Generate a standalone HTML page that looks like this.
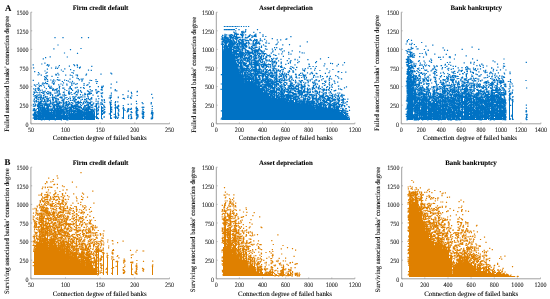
<!DOCTYPE html>
<html><head><meta charset="utf-8"><style>
html,body{margin:0;padding:0;background:#fff;width:550px;height:299px;overflow:hidden}
svg{display:block}
</style></head><body>
<svg width="550" height="299" viewBox="0 0 550 299" font-family="Liberation Serif, serif" fill="#1a1a1a" text-rendering="geometricPrecision">
<defs><filter id="bl" x="0" y="0" width="1" height="1"><feGaussianBlur stdDeviation="0.5"/></filter>
<filter id="bt" x="0" y="0" width="1" height="1"><feGaussianBlur stdDeviation="0.25"/></filter></defs>
<rect width="550" height="299" fill="#fff"/>
<g filter="url(#bl)">
<path d="M47 105h1v4h-1zM54 108h1v2h-1zM56 110h1v1h-1zM58 110h3v1h-3zM79 109h1v2h-1zM91 110h1v1h-1zM38 106h1v6h-1zM63 111h1v1h-1zM77 109h1v3h-1zM79 111h2v1h-2zM88 108h1v4h-1zM90 111h2v1h-2zM35 112h1v1h-1zM71 108h1v5h-1zM73 112h1v1h-1zM77 112h4v1h-4zM86 112h6v1h-6zM34 113h2v1h-2zM45 111h1v3h-1zM47 109h2v5h-2zM51 110h1v4h-1zM53 110h2v4h-2zM69 111h1v3h-1zM71 113h3v1h-3zM75 113h7v1h-7zM63 112h2v3h-2zM69 114h5v1h-5zM75 114h8v1h-8zM86 113h7v2h-7zM94 112h1v3h-1zM96 106h1v13h-1zM101 106h1v13h-1zM110 105h1v14h-1zM115 107h1v12h-1zM123 109h1v10h-1zM34 114h3v6h-3zM38 112h3v8h-3zM42 109h2v11h-2zM45 114h4v6h-4zM50 114h5v6h-5zM56 111h5v9h-5zM63 115h3v5h-3zM69 115h14v5h-14zM84 112h1v8h-1zM86 115h9v5h-9z" fill="#0072c4"/>
<path d="M54.4 37.7h1.2m6.8 0h1.2m17.5 0h1.2m5.6 0h1.2m-31.7 7.3h1.2m21.8 3.5h1.2m-28.3 .4h1.2m15.4 .8h1.2m-7.2 3.3h1.2m11.8 .4h1.2m-28.5 3.4h1.2m15.9 .2h1.2m-22.9 .7h1.2m-3.5 1.2h1.2m.4 4.3h1.2m-4.3 .8h1.2m4.6 .5h1.2m25.1 .2h1.2m-41.9 .1h1.2m42.7 0h1.2m-29.2 .3h1.2m-3.2 .3h1.2m29.1 0h1.2m-19.2 .1h1.2m14 .1h1.2m-27.3 .5h1.2m19.7 0h1.2m21.2 .2h1.2m-37 .7h1.2m1.4 0h1.2m17.7 .1h1.2m1.7 0h1.2m-2.1 .5h1.2m-47.1 .3h1.2m16.7 .1h1.2m26.9 .2h1.2m-25.1 .1h1.2m.6 .1h1.2m6.1 .4h1.2m-18.6 .3h1.2m22 .5h1.2m-10.4 .4h1.2m25.9 .2h1.2m1.6 .1h1.2m-18.6 .4h1.2m-30.1 .3h1.2m16.9 .4h1.2m-29.6 .2h1.2m11.2 .8h1.2m23.7 .1h1.2m-34.7 .1h1.2m33.7 .6h1.2m36.3 0h1.2m-66.1 .1h1.2m10.7 0h1.2m52.6 .5h1.2m-73.4 .2h1.2m45.8 .1h1.2m13.3 0h1.2m-46.3 .3h1.2m-.5 .4h1.2m-19.7 .1h1.2m16.5 0h1.2m1.8 0h1.2m16.1 .1h1.2m-1 0h1.2m0 0h1.2m-37.4 .1h1.2m23.2 .1h1.2m3.4 0h1.2m14.5 0h1.2m-15.2 .3h1.2m-26.9 .3h1.2m0 0h1.2m28.8 .2h1.2m-26.7 .3h1.2m-8.7 .4h1.2m27 .5h1.2m-28.4 .3h1.2m11.1 0h1.2m-12.5 .6h1.2m29.3 .1h1.2m.2 .5h1.2m3.4 .1h1.2m-38.1 .2h1.2m33.9 .1h1.2m-37.8 .1h1.2m24.2 0h1.2m-23.7 .3h1.2m8.6 .1h1.2m37.5 0h1.2m-17.8 .2h1.2m-35.4 .1h1.2m7.3 0h1.2m-4.1 .1h1.2m30.3 0h1.2m-25 .1h1.2m.1 0h1.2m3.6 0h1.2m-32.5 .3h1.2m55.6 0h1.2m-24.7 .1h1.2m23.8 0h1.2m-40.3 .5h1.2m1.4 0h1.2m-8.5 .2h1.2m19.3 0h1.2m12.4 0h1.2m-35.7 .2h1.2m4.6 0h1.2m18.1 0h1.2m-11.3 .1h1.2m32.5 0h1.2m.2 0h1.2m-28.7 .6h1.2m45.5 .1h1.2m-72.4 .2h1.2m-1.2 .4h1.2m16.8 0h1.2m7.2 0h1.2m16.1 0h1.2m-47.4 .1h1.2m8.1 0h1.2m.8 0h1.2m18.6 .1h1.2m-36.7 .1h1.2m14.4 0h1.2m41.3 .2h1.2m-53.7 .2h1.2m1 .1h1.2m-.1 0h1.2m4.9 0h1.2m22.4 0h1.2m5.7 0h1.2m-11.4 .1h1.2m-14.1 .3h1.2m4.6 0h1.2m3.7 0h1.2m-30.6 .2h1.2m67.7 0h1.2m-36.6 .2h1.2m-39.9 .1h1.2m15.5 0h1.2m32.9 .2h1.2m-30.4 .1h1.2m-25.6 .1h1.2m13.3 .1h1.2m-15.2 .1h1.2m3.1 0h1.2m3.4 0h1.2m17.8 0h1.2m3.1 .1h1.2m3.7 .1h1.2m13.8 0h1.2m-4.1 .1h1.2m-44.7 .3h1.2m-.2 .1h1.2m-7 .3h1.2m66.5 .1h1.2m-56 .1h1.2m-.7 0h1.2m.8 .1h1.2m7.4 0h1.2m41 0h1.2m-13 .1h1.2m-51.9 .1h1.2m61.4 0h1.2m-33 .1h1.2m27 0h1.2m-10 .2h1.2m-46.3 .2h1.2m13.7 .1h1.2m9.8 0h1.2m-12.3 .1h1.2m16.7 0h1.2m23.2 .2h1.2m-.3 .1h1.2m-54 .1h1.2m29.9 0h1.2m1.5 0h1.2m-46.5 .1h1.2m36 0h1.2m34.3 0h1.2m-61.2 .1h1.2m17.8 0h1.2m-19.7 .1h1.2m23.2 0h1.2m-26.2 .1h1.2m10.8 0h1.2m-.1 0h1.2m-14.6 .1h1.2m.3 0h1.2m-14.8 .1h1.2m44.6 0h1.2m-35.3 .2h1.2m-5 .1h1.2m9.7 0h1.2m-22.6 .1h1.2m2.1 0h1.2m30.5 0h1.2m-.6 0h1.2m-38.9 .1h1.2m18.6 0h1.2m4.8 0h1.2m-23 .1h1.2m30.1 0h1.2m31.5 .3h1.2m-31.3 .1h1.2m-16.6 .1h1.2m32.8 .1h1.2m-52.2 .1h1.2m24.4 0h1.2m-13.4 .1h1.2m1.3 0h1.2m44.9 0h1.2m12.9 0h1.2m-81.4 .2h1.2m41.8 0h1.2m16.3 0h1.2m-.5 0h1.2m-44.4 .2h1.2m47.9 0h1.2m-61.2 .1h1.2m13.4 0h1.2m44 0h1.2m-67.6 .1h1.2m1.6 0h1.2m.6 .1h1.2m31.2 0h1.2m-21 .1h1.2m12.8 0h1.2m-13.2 .1h1.2m2.7 0h1.2m-.8 0h1.2m31.9 0h1.2m-12.9 .1h1.2m33.5 0h1.2m-35.8 .1h1.2m5.7 0h1.2m28.1 .1h1.2m-25.8 .1h1.2m-24.2 .1h1.2m-25.2 .1h1.2m10.6 0h1.2m20.1 0h1.2m11.4 0h1.2m36.2 0h1.2m-53 .1h1.2m59.7 0h1.2m-50.1 .1h1.2m8.2 0h1.2m-51.3 .1h1.2m49.9 .1h1.2m-56.2 .1h1.2m-8.9 .1h1.2m31.4 0h1.2m-12.7 .1h1.2m.7 0h1.2m76.7 0h1.2m-104.6 .1h1.2m-.3 0h1.2m4.1 0h1.2m1.5 0h1.2m37.4 0h1.2m13.9 0h1.2m-48.7 .1h1.2m7.5 0h1.2m30.6 0h1.2m-33.2 .1h1.2m.9 0h1.2m3.6 0h1.2m-29.3 .1h1.2m12.9 0h1.2m24.4 0h1.2m1 0h1.2m-15.8 .1h1.2m10.9 0h1.2m4.9 0h1.2m48.6 0h1.2m-91 .1h1.2m3.6 0h1.2m-9.8 .1h1.2m32.3 .1h1.2m24.8 0h1.2m-54.4 .1h1.2m23.3 0h1.2m-19 .1h1.2m50.6 0h1.2m-64 .1h1.2m15.2 0h1.2m12.4 0h1.2m4.2 0h1.2m1.4 0h1.2m-44.5 .1h1.2m65.4 0h1.2m-52.2 .1h1.2m3.6 0h1.2m34.4 0h1.2m19.7 0h1.2m-61.8 .1h1.2m17.8 0h1.2m13.9 0h1.2m5.3 0h1.2m4.1 0h1.2m-54.9 .1h1.2m3 0h1.2m40.8 0h1.2m-30.5 .1h1.2m-17.6 .1h1.2m3.6 0h1.2m24.7 0h1.2m26.4 0h1.2m28.7 0h1.2m-85.6 .2h1.2m21 0h1.2m-2 .1h1.2m18.3 0h1.2m-40.5 .1h1.2m9 .1h1.2m4 0h1.2m23.4 0h1.2m-.2 0h1.2m-33.2 .1h1.2m10.5 0h1.2m14 0h1.2m-35 .1h1.2m-18.7 .1h1.2m51 0h1.2m.7 0h1.2m62.9 0h1.2m-88.6 .1h1.2m6.5 0h1.2m3.1 .1h1.2m3 0h1.2m41.3 0h1.2m-64.2 .1h1.2m15.8 0h1.2m-41.3 .1h1.2m1.3 0h1.2m12 0h1.2m23.3 0h1.2m-37.5 .1h1.2m2.7 0h1.2m16.6 .1h1.2m21.1 0h1.2m-21.9 .1h1.2m-26.7 .1h1.2m43 0h1.2m9 0h1.2m17.1 0h1.2m-62.1 .1h1.2m14.1 .1h1.2m-1 0h1.2m-31.6 .1h1.2m6.8 0h1.2m7.9 0h1.2m83.4 0h1.2m-97.2 .1h1.2m-7.2 .1h1.2m21.1 0h1.2m-.2 0h1.2m-7.1 .1h1.2m1.8 0h1.2m7.2 0h1.2m22.4 0h1.2m42.9 0h1.2m-31.4 .1h1.2m7.4 0h1.2m16.7 0h1.2m-31.2 .1h1.2m-65.1 .1h1.2m2 0h1.2m18.5 0h1.2m39.9 0h1.2m-35.1 .1h1.2m10.5 .1h1.2m-36.1 .1h1.2m55.8 0h1.2m2.6 0h1.2m-57.5 .2h1.2m.4 0h1.2m-11.8 .1h1.2m35 .1h1.2m0 0h1.2m6.4 .1h1.2m2.2 0h1.2m2.1 0h1.2m-49.6 .1h1.2m2.6 0h1.2m9.3 0h1.2m6.8 0h1.2m19.6 0h1.2m-48.3 .1h1.2m6.6 0h1.2m-1.1 0h1.2m15.6 0h1.2m.2 0h1.2m39.1 0h1.2m8 0h1.2m5.7 0h1.2m-59 .1h1.2m-.7 0h1.2m7.8 0h1.2m7.6 0h1.2m.4 0h1.2m-43.3 .1h1.2m.5 0h1.2m4 0h1.2m32 0h1.2m48.3 0h1.2m-87.5 .1h1.2m9.3 0h1.2m7.4 0h1.2m.2 0h1.2m11.6 0h1.2m54.4 0h1.2m-77.2 .1h1.2m4.3 0h1.2m5.7 0h1.2m42.3 0h1.2m-58.6 .1h1.2m37.5 0h1.2m-56.3 .1h1.2m72.7 0h1.2m6.6 0h1.2m-78.7 .1h1.2m37 0h1.2m72.4 0h1.2m-118.6 .1h1.2m5.1 0h1.2m.5 0h1.2m5.5 0h1.2m13.7 0h1.2m11.7 0h1.2m52 0h1.2m-93.2 .1h1.2m6.7 0h1.2m7.2 0h1.2m-.2 0h1.2m3.7 0h1.2m3.5 0h1.2m42.2 0h1.2m-67.2 .1h1.2m8.3 .1h1.2m25.3 0h1.2m-43.6 .1h1.2m53.3 0h1.2m31.2 0h1.2m-77 .1h1.2m30.4 0h1.2m7.8 0h1.2m-19.3 .1h1.2m3.2 0h1.2m47.1 0h1.2m6.8 0h1.2m-77.2 .1h1.2m12.3 0h1.2m3.6 0h1.2m35.9 0h1.2m-68.1 .1h1.2m11.2 0h1.2m29.3 0h1.2m3.2 0h1.2m6.7 0h1.2m-63.3 .1h1.2m10.6 0h1.2m38.3 0h1.2m35.3 0h1.2m-83.1 .1h1.2m14 0h1.2m3.2 0h1.2m-16.8 .1h1.2m9 0h1.2m33.8 0h1.2m-58.6 .1h1.2m4.9 0h1.2m11.6 0h1.2m9.6 0h1.2m30.9 0h1.2m-39.4 .1h1.2m-24.9 .1h1.2m17.1 0h1.2m4.7 0h1.2m22.7 0h1.2m1 0h1.2m-47.7 .1h1.2m5.2 0h1.2m-.8 0h1.2m6.6 0h1.2m21.1 0h1.2m-1 0h1.2m-9.2 .1h1.2m8 0h1.2m26.6 0h1.2m-57.4 .1h1.2m36.2 0h1.2m2.8 0h1.2m-49.7 .1h1.2m59.8 0h1.2m-64.3 .1h1.2m7.8 0h1.2m24.2 0h1.2m-33.7 .1h1.2m21.4 0h1.2m-.3 .1h1.2m20.6 0h1.2m3.4 0h1.2m-43.6 .1h1.2m1.1 0h1.2m-1.3 .1h1.2m4.2 0h1.2m13.4 0h1.2m9.3 0h1.2m-40.2 .1h1.2m5.1 0h1.2m3.9 0h1.2m49.9 0h1.2m-42.7 .1h1.2m-27.7 .1h1.2m7 0h1.2m2.4 0h1.2m21.1 0h1.2m.5 0h1.2m-23.7 .1h1.2m11.1 0h1.2m38.7 0h1.2m-28.8 .1h1.2m35.7 0h1.2m-36.6 .1h1.2m25.2 0h1.2m-67.2 .1h1.2m4.7 0h1.2m3.9 0h1.2m7.8 0h1.2m-.6 0h1.2m28.8 0h1.2m-54.5 .1h1.2m.1 0h1.2m11.1 0h1.2m4.4 0h1.2m4.4 0h1.2m15.7 0h1.2m-13.2 .1h1.2m11.3 0h1.2m19.2 0h1.2m-60.7 .1h1.2m4.1 0h1.2m2.8 0h1.2m37.2 0h1.2m-37.5 .1h1.2m-1.1 0h1.2m6.5 0h1.2m21.5 0h1.2m-1.2 0h1.2m18.4 0h1.2m37.1 0h1.2m-92.9 .1h1.2m22.7 0h1.2m-33.5 .1h1.2m3.2 0h1.2m2.1 0h1.2m5.4 0h1.2m11.9 0h1.2m9.3 0h1.2m22.7 0h1.2m-61.2 .1h1.2m2.2 0h1.2m4.8 0h1.2m29.1 0h1.2m-12.5 .1h1.2m10.7 0h1.2m7 0h1.2m27.8 0h1.2m-73.4 .1h1.2m11.5 0h1.2m2.2 0h1.2m6 0h1.2m12.5 0h1.2m10.3 0h1.2m-56.5 .1h1.2m2.6 0h1.2m76.2 0h1.2m-44.9 .1h1.2m2.4 0h1.2m5 0h1.2m19.1 0h1.2m-66.7 .1h1.2m.2 0h1.2m-.2 0h1.2m11.6 0h1.2m30.5 0h1.2m1.2 0h1.2m-54.5 .1h1.2m19 0h1.2m.8 0h1.2m7.9 0h1.2m-.2 0h1.2m9.6 0h1.2m11.6 0h1.2m18 0h1.2m-70.6 .1h1.2m17.8 0h1.2m-.4 0h1.2m2 0h1.2m46.4 0h1.2m-52.7 .1h1.2m2.5 0h1.2m13.7 0h1.2m8.1 0h1.2m16.1 0h1.2m-59.9 .1h1.2m5.7 0h1.2m15.2 0h1.2m1.6 0h1.2m2.8 0h1.2m11.7 0h1.2m25.2 0h1.2m-77.2 .1h1.2m10.2 0h1.2m19.6 0h1.2m4.5 0h1.2m2.4 0h1.2m1.5 0h1.2m25.7 0h1.2m30.5 0h1.2m7.9 0h1.2m-88.8 .1h1.2m11.9 0h1.2m1.2 0h1.2m1.2 0h1.2m2.8 0h1.2m-47.1 .1h1.2m.1 0h1.2m19.3 0h1.2m2.5 0h1.2m9.1 0h1.2m3 0h1.2m9.1 0h1.2m6.9 0h1.2m2 .1h1.2m12.7 0h1.2m-76.3 .1h1.2m3.6 0h1.2m54.5 0h1.2m-62.5 .1h1.2m9.7 0h1.2m2.1 0h1.2m3.1 0h1.2m-.2 0h1.2m-.7 0h1.2m6 0h1.2m8.1 0h1.2m1.8 0h1.2m13.7 0h1.2m-38.2 .1h1.2m12.2 0h1.2m19 0h1.2m-39.5 .1h1.2m49 0h1.2m6.9 0h1.2m-52.1 .1h1.2m2.7 0h1.2m46.1 0h1.2m-73.2 .1h1.2m6.4 0h1.2m42 0h1.2m5.6 0h1.2m-31.2 .1h1.2m1.6 0h1.2m13.6 0h1.2m5.4 0h1.2m45.1 0h1.2m-97.1 .1h1.2m22 0h1.2m7.6 0h1.2m4.3 0h1.2m63.5 0h1.2m-109.2 .1h1.2m6.2 0h1.2m-.9 0h1.2m1.5 0h1.2m3.9 0h1.2m6.5 0h1.2m37.8 0h1.2m12.4 0h1.2m39.2 0h1.2m-112.6 .1h1.2m.6 0h1.2m17.2 0h1.2m2.1 0h1.2m23.6 0h1.2m.8 0h1.2m5.3 0h1.2m-55.5 .1h1.2m.5 0h1.2m1.9 0h1.2m4 0h1.2m45.3 0h1.2m-61.9 .1h1.2m4 0h1.2m3.8 0h1.2m-.3 0h1.2m16.2 0h1.2m.5 0h1.2m-30.3 .1h1.2m6.8 0h1.2m34.3 0h1.2m3.1 0h1.2m-.1 0h1.2m3.8 0h1.2m16.2 0h1.2m19.6 0h1.2m-85.1 .1h1.2m8.8 0h1.2m7.7 0h1.2m9.4 0h1.2m18.1 0h1.2m-64 .1h1.2m3.5 0h1.2m-.3 0h1.2m14.5 0h1.2m11.5 0h1.2m8.5 0h1.2m49.9 0h1.2m-83.2 .1h1.2m9.3 0h1.2m.3 0h1.2m-1 0h1.2m10.3 0h1.2m6.5 0h1.2m1.7 0h1.2m20.7 0h1.2m7.5 0h1.2m-1.1 0h1.2m3 0h1.2m-76.6 .1h1.2m30.2 0h1.2m28.4 0h1.2m8.2 0h1.2m-75.9 .1h1.2m7.4 0h1.2m6.8 0h1.2m9.7 0h1.2m12.2 0h1.2m10.6 0h1.2m1.5 0h1.2m-45.2 .1h1.2m7.5 0h1.2m6.8 0h1.2m10.3 0h1.2m-1.1 0h1.2m34.1 0h1.2m-64.7 .1h1.2m5.1 0h1.2m-.8 0h1.2m37.3 0h1.2m-57.9 .1h1.2m.5 0h1.2m.1 0h1.2m5.9 0h1.2m10.9 0h1.2m7.4 0h1.2m4 0h1.2m18.2 0h1.2m22.8 0h1.2m-70.7 .1h1.2m7.6 0h1.2m13 0h1.2m26.6 0h1.2m6.2 0h1.2m-55.4 .1h1.2m4.7 0h1.2m1.9 0h1.2m3.1 0h1.2m1.6 0h1.2m25.7 0h1.2m-55.2 .1h1.2m-1.2 0h1.2m.9 0h1.2m.1 0h1.2m-1 0h1.2m4.7 0h1.2m22.9 0h1.2m-.8 0h1.2m14.9 0h1.2m6.6 0h1.2m-59.2 .1h1.2m18.4 0h1.2m8.8 0h1.2m5.4 0h1.2m11 0h1.2m27.3 0h1.2m1.9 0h1.2m-84.2 .1h1.2m5.4 0h1.2m-.8 0h1.2m-1.2 0h1.2m1.1 0h1.2m.3 0h1.2m-.9 0h1.2m8.1 0h1.2m14.2 0h1.2m-.9 0h1.2m13.2 0h1.2m4.5 0h1.2m30.4 0h1.2m-58.3 .1h1.2m-1.1 0h1.2m9.5 0h1.2m3.4 0h1.2m1.9 0h1.2m5.1 0h1.2m3.9 0h1.2m-59.1 .1h1.2m1.5 0h1.2m16 0h1.2m37 0h1.2m-62.8 .1h1.2m3.1 0h1.2m6.3 0h1.2m6 0h1.2m4.2 0h1.2m12.1 0h1.2m.2 0h1.2m.7 0h1.2m7.8 0h1.2m2.3 0h1.2m28.7 0h1.2m-81 .1h1.2m17 0h1.2m2.2 0h1.2m2 0h1.2m13.8 0h1.2m5.4 0h1.2m17.9 0h1.2m-67.5 .1h1.2m18.3 0h1.2m1.1 0h1.2m.3 0h1.2m3.1 0h1.2m8.8 0h1.2m-42.9 .1h1.2m5.4 0h1.2m11.9 0h1.2m-.2 0h1.2m2.5 0h1.2m8.2 0h1.2m2.8 0h1.2m-.7 0h1.2m5.3 0h1.2m1 0h1.2m-37.6 .1h1.2m3.1 0h1.2m-.1 0h1.2m11 0h1.2m12.1 0h1.2m22.7 0h1.2m18.7 0h1.2m-77.5 .1h1.2m6.7 0h1.2m-.5 0h1.2m7.2 0h1.2m14.7 0h1.2m2.1 0h1.2m8.7 0h1.2m-50 .1h1.2m15.5 0h1.2m5.9 0h1.2m10.4 0h1.2m3.8 0h1.2m3.7 0h1.2m8.8 0h1.2m56.1 0h1.2m-118.6 .1h1.2m3.2 0h1.2m14 0h1.2m11.8 0h1.2m4.4 0h1.2m1.7 0h1.2m-.1 0h1.2m39.5 0h1.2m-81.5 .1h1.2m57.3 0h1.2m7.1 0h1.2m10.3 0h1.2m-54.3 .1h1.2m25.9 0h1.2m-51.7 .1h1.2m-.4 0h1.2m7.1 0h1.2m7.6 0h1.2m.5 0h1.2m.2 0h1.2m18 0h1.2m8.2 0h1.2m-45.7 .1h1.2m7.9 0h1.2m2.2 0h1.2m27.2 0h1.2m-31.9 .1h1.2m11.8 0h1.2m-1 0h1.2m2.1 0h1.2m3.6 0h1.2m10.1 0h1.2m22.9 0h1.2m5.7 0h1.2m23.6 0h1.2m-89.9 .1h1.2m4.8 0h1.2m1.1 0h1.2m1.3 0h1.2m5.7 0h1.2m.9 0h1.2m2.9 0h1.2m-1 0h1.2m-.8 0h1.2m10.2 0h1.2m1.4 0h1.2m17.7 0h1.2m-71.2 .1h1.2m26.7 0h1.2m9.2 0h1.2m2.6 0h1.2m51.5 0h1.2m-95.1 .1h1.2m13.5 0h1.2m10.7 0h1.2m2.5 0h1.2m-.1 0h1.2m23.6 0h1.2m4.9 0h1.2m17.3 0h1.2m-77.7 .1h1.2m6.3 0h1.2m1.9 0h1.2m11.2 0h1.2m20.6 0h1.2m24.6 0h1.2m23.5 0h1.2m.4 0h1.2m-96.9 .1h1.2m15.6 0h1.2m4.3 0h1.2m-.6 0h1.2m16.3 0h1.2m21.9 0h1.2m-72.2 .1h1.2m2.7 0h1.2m13.8 0h1.2m18.7 0h1.2m.8 0h1.2m2.5 0h1.2m.5 0h1.2m14.2 0h1.2m-59.5 .1h1.2m3.2 0h1.2m11 0h1.2m-.2 0h1.2m3 0h1.2m5.8 0h1.2m1.7 0h1.2m-.8 0h1.2m39.6 0h1.2m-64.9 .1h1.2m9.6 0h1.2m1.1 0h1.2m3.8 0h1.2m6.8 0h1.2m0 0h1.2m-1.2 0h1.2m7.4 0h1.2m24.8 0h1.2m19.9 0h1.2m-94.1 .1h1.2m24.6 0h1.2m5.8 0h1.2m4 0h1.2m6.3 0h1.2m-49.8 .1h1.2m4.9 0h1.2m3.4 0h1.2m.8 0h1.2m.9 0h1.2m4.3 0h1.2m15.9 0h1.2m24.7 0h1.2m-65.3 .1h1.2m.7 0h1.2m1.1 0h1.2m12.1 0h1.2m-.9 0h1.2m15.2 0h1.2m2.3 0h1.2m-1 0h1.2m5.2 0h1.2m2.4 0h1.2m14.1 0h1.2m-60.1 .1h1.2m-.1 0h1.2m2.6 0h1.2m7.6 0h1.2m12.1 0h1.2m5.4 0h1.2m-.6 0h1.2m8.1 0h1.2m-.6 0h1.2m8.8 0h1.2m12.1 0h1.2m-68.5 .1h1.2m13.5 0h1.2m29.7 0h1.2m26.9 0h1.2m4.5 0h1.2m7.1 0h1.2m-85.9 .1h1.2m11.7 0h1.2m4.8 0h1.2m.8 0h1.2m.2 0h1.2m19.7 0h1.2m19.9 0h1.2m-74.7 .1h1.2m1.8 0h1.2m.8 0h1.2m.1 0h1.2m31.1 0h1.2m-.4 0h1.2m3.8 0h1.2m3.4 0h1.2m2.1 0h1.2m46.4 0h1.2m-104.2 .1h1.2m8.5 0h1.2m7.9 0h1.2m2.1 0h1.2m8.7 0h1.2m-.7 0h1.2m6.9 0h1.2m60.1 0h1.2m14.7 0h1.2m-111.3 .1h1.2m4.9 0h1.2m5.6 0h1.2m4.2 0h1.2m9.2 0h1.2m2 0h1.2m42.9 0h1.2m3.9 0h1.2m3.8 0h1.2m-94.9 .1h1.2m9.5 0h1.2m-1 0h1.2m-.1 0h1.2m10.3 0h1.2m14.3 0h1.2m3.1 0h1.2m6.1 0h1.2m-29.2 .1h1.2m.2 0h1.2m1.2 0h1.2m15.4 0h1.2m10.6 0h1.2m38.4 0h1.2m-78.1 .1h1.2m16.8 0h1.2m12.8 0h1.2m4.1 0h1.2m4.1 0h1.2m35.7 0h1.2m-88.5 .1h1.2m-.6 0h1.2m9.5 0h1.2m4.3 0h1.2m.5 0h1.2m.9 0h1.2m3.6 0h1.2m13.3 0h1.2m7.6 0h1.2m30.1 0h1.2m5.6 0h1.2m10.6 0h1.2m-110.6 .1h1.2m15.1 0h1.2m.6 0h1.2m5.2 0h1.2m2.3 0h1.2m1.4 0h1.2m17.4 0h1.2m.6 0h1.2m1 0h1.2m-.8 0h1.2m40.3 0h1.2m-93.5 .1h1.2m8.5 0h1.2m4.3 0h1.2m7.9 0h1.2m7.9 0h1.2m8.2 0h1.2m5.4 0h1.2m3.8 0h1.2m-1 0h1.2m36.4 0h1.2m.9 0h1.2m-74.1 .1h1.2m7 0h1.2m2.8 0h1.2m5 0h1.2m.8 0h1.2m-.8 0h1.2m11.9 0h1.2m5.7 0h1.2m5 0h1.2m5.9 0h1.2m-68.6 .1h1.2m12.6 0h1.2m-.7 0h1.2m10.7 0h1.2m11.3 0h1.2m7.6 0h1.2m-1.2 0h1.2m25.8 0h1.2m-79.7 .1h1.2m.4 0h1.2m8.5 0h1.2m13.2 0h1.2m-1.1 0h1.2m60.6 0h1.2m7.9 0h1.2m5.1 0h1.2m-99.3 .1h1.2m-.6 0h1.2m10.8 0h1.2m5.1 0h1.2m1.3 0h1.2m3.1 0h1.2m.8 0h1.2m2.4 0h1.2m9.7 0h1.2m3 0h1.2m2.1 0h1.2m32.6 0h1.2m-95.8 .1h1.2m4.2 0h1.2m.5 0h1.2m10.4 0h1.2m2.1 0h1.2m1.4 0h1.2m-.2 0h1.2m5.4 0h1.2m2.9 0h1.2m8.6 0h1.2m7.8 0h1.2m20.7 0h1.2m-77.8 .1h1.2m3.7 0h1.2m1.2 0h1.2m2.1 0h1.2m4.6 0h1.2m3.6 0h1.2m.6 0h1.2m3.8 0h1.2m3 0h1.2m2.4 0h1.2m4.7 0h1.2m8.7 0h1.2m4 0h1.2m-53 .1h1.2m3.7 0h1.2m.4 0h1.2m2.6 0h1.2m7 0h1.2m10.1 0h1.2m.4 0h1.2m.8 0h1.2m4 0h1.2m2.6 0h1.2m14.7 0h1.2m12.8 0h1.2m23.8 0h1.2m-103.8 .1h1.2m4.7 0h1.2m14.3 0h1.2m12.8 0h1.2m5.2 0h1.2m6.8 0h1.2m43 0h1.2m8.6 0h1.2m-86.5 .1h1.2m3.8 0h1.2m2.5 0h1.2m.2 0h1.2m3.9 0h1.2m.1 0h1.2m8.1 0h1.2m7.6 0h1.2m4.1 0h1.2m9.9 0h1.2m-69 .1h1.2m2.5 0h1.2m4.9 0h1.2m9.1 0h1.2m9.3 0h1.2m.6 0h1.2m5.8 0h1.2m3.7 0h1.2m9.5 0h1.2m10.4 0h1.2m14.8 0h1.2m-85.7 .1h1.2m9.5 0h1.2m-1.1 0h1.2m4.7 0h1.2m11 0h1.2m5.7 0h1.2m3.9 0h1.2m-.5 0h1.2m10.2 0h1.2m5.2 0h1.2m41.8 0h1.2m-96.5 .1h1.2m-.9 0h1.2m3.4 0h1.2m5.5 0h1.2m4.1 0h1.2m10.3 0h1.2m10.2 0h1.2m2.8 0h1.2m.5 0h1.2m37.2 0h1.2m-93 .1h1.2m.8 0h1.2m7.7 0h1.2m1.3 0h1.2m4.5 0h1.2m9 0h1.2m12.4 0h1.2m10.5 0h1.2m9.3 0h1.2m3.1 0h1.2m33.5 0h1.2m13.6 0h1.2m-95.8 .1h1.2m11.2 0h1.2m2.8 0h1.2m10.1 0h1.2m41.3 0h1.2m-87 .1h1.2m1.1 0h1.2m.6 0h1.2m10.8 0h1.2m2.8 0h1.2m3 0h1.2m5.1 0h1.2m2 0h1.2m3.2 0h1.2m-.1 0h1.2m9.6 0h1.2m-53.7 .1h1.2m.5 0h1.2m7.5 0h1.2m4.7 0h1.2m.5 0h1.2m4.9 0h1.2m9.9 0h1.2m2.1 0h1.2m2.3 0h1.2m-1.1 0h1.2m4.1 0h1.2m-43.2 .1h1.2m16.9 0h1.2m.2 0h1.2m-.7 0h1.2m-1.1 0h1.2m6.4 0h1.2m4.4 0h1.2m6 0h1.2m31.9 0h1.2m17.6 0h1.2m-74.3 .1h1.2m13 0h1.2m2 0h1.2m-.4 0h1.2m.8 0h1.2m9 0h1.2m1.9 0h1.2m20 0h1.2m22.3 0h1.2m-108 .1h1.2m2.3 0h1.2m.7 0h1.2m4.1 0h1.2m1.7 0h1.2m11 0h1.2m.1 0h1.2m3.1 0h1.2m-.6 0h1.2m-1.2 0h1.2m-.5 0h1.2m.7 0h1.2m31.2 0h1.2m-64.2 .1h1.2m5.7 0h1.2m8 0h1.2m5.7 0h1.2m2.6 0h1.2m4.9 0h1.2m.5 0h1.2m8.7 0h1.2m66.7 0h1.2m-113.8 .1h1.2m21.7 0h1.2m3.5 0h1.2m5.9 0h1.2m-.6 0h1.2m2.3 0h1.2m-1.1 0h1.2m3 0h1.2m9.9 0h1.2m7.9 0h1.2m24.3 0h1.2m-87.5 .1h1.2m32.8 0h1.2m5.3 0h1.2m2.9 0h1.2m1.3 0h1.2m21.2 0h1.2m18.6 0h1.2m4.1 0h1.2m-91.2 .1h1.2m23.3 0h1.2m4.1 0h1.2m-1 0h1.2m-1 0h1.2m11.7 0h1.2m-.9 0h1.2m1.7 0h1.2m10.8 0h1.2m-68.6 .1h1.2m6.4 0h1.2m18.6 0h1.2m4.9 0h1.2m.7 0h1.2m10.1 0h1.2m-1.1 0h1.2m2.4 0h1.2m54.2 0h1.2m-105.1 .1h1.2m.4 0h1.2m-.1 0h1.2m1.5 0h1.2m16.1 0h1.2m10.8 0h1.2m5.9 0h1.2m11.3 0h1.2m32.4 0h1.2m7.6 0h1.2m-92.8 .1h1.2m.4 0h1.2m14.1 0h1.2m-.8 0h1.2m-1 0h1.2m-.3 0h1.2m4 0h1.2m3.7 0h1.2m-1 0h1.2m3.9 0h1.2m-.4 0h1.2m47 0h1.2m-93.9 .1h1.2m-1.1 0h1.2m.9 0h1.2m-.3 0h1.2m16.8 0h1.2m4.3 0h1.2m21.2 0h1.2m1.5 0h1.2m44 0h1.2m-86.1 .1h1.2m14.9 0h1.2m12.8 0h1.2m-.9 0h1.2m26.8 0h1.2m5.6 0h1.2m-51.5 .1h1.2m18.7 0h1.2m-41.4 .1h1.2m1.9 0h1.2m5.4 0h1.2m.5 0h1.2m1.5 0h1.2m9.8 0h1.2m16.3 0h1.2m1 0h1.2m16.6 0h1.2m39.1 0h1.2m-103.9 .1h1.2m18.8 0h1.2m12.6 0h1.2m6.3 0h1.2m-.7 0h1.2m-.4 0h1.2m7.4 0h1.2m-27.5 .1h1.2m.4 0h1.2m5.2 0h1.2m10.3 0h1.2m45.1 0h1.2m18.4 0h1.2m-.6 0h1.2m-108.9 .1h1.2m3.9 0h1.2m16.9 0h1.2m14 0h1.2m8.7 0h1.2m9.9 0h1.2m-64 .1h1.2m2.6 0h1.2m-1.1 0h1.2m8.9 0h1.2m18.7 0h1.2m9.1 0h1.2m-.6 0h1.2m44.2 0h1.2m19.6 0h1.2m-.4 0h1.2m-116.9 .1h1.2m2.8 0h1.2m10.1 0h1.2m12.1 0h1.2m14.7 0h1.2m-.4 0h1.2m59.5 0h1.2m8.2 0h1.2m-119.3 .1h1.2m1.5 0h1.2m5.9 0h1.2m.8 0h1.2m2.8 0h1.2m14.1 0h1.2m1.7 0h1.2m11.8 0h1.2m-.8 0h1.2m35.1 0h1.2m16.8 0h1.2m-.3 0h1.2m-97.2 .1h1.2m2.7 0h1.2m4.5 0h1.2m10.3 0h1.2m3.5 0h1.2m.8 0h1.2m.2 0h1.2m72 0h1.2m-107.8 .1h1.2m7.9 0h1.2m23 0h1.2m11.4 0h1.2m2 0h1.2m15.9 0h1.2m-.2 0h1.2m31 0h1.2m-87.5 .1h1.2m15.8 0h1.2m-.3 0h1.2m-1.1 0h1.2m-.9 0h1.2m.8 0h1.2m10.8 0h1.2m14.4 0h1.2m5.2 0h1.2m36.7 0h1.2m9.1 0h1.2m-107.3 .1h1.2m13.6 0h1.2m23.1 0h1.2m49.6 0h1.2m-1.1 0h1.2m-100.3 .1h1.2m17.2 0h1.2m8.1 0h1.2m16.8 0h1.2m-.7 0h1.2m-.9 0h1.2m.2 0h1.2m-24.1 .1h1.2m54.6 0h1.2m-77.4 .1h1.2m1.2 0h1.2m-.7 0h1.2m4.3 0h1.2m.6 0h1.2m98.1 0h1.2m-107.6 .1h1.2m3.2 0h1.2m5.3 0h1.2m11.1 0h1.2m16.4 0h1.2m11.2 0h1.2m-55 .1h1.2m.6 0h1.2m8.6 0h1.2m4.1 0h1.2m8.4 0h1.2m10.9 0h1.2m-.6 0h1.2m8.6 0h1.2m7.8 0h1.2m5.8 0h1.2m32.7 0h1.2m-95.2 .1h1.2m.2 0h1.2m15.6 0h1.2m5.9 0h1.2m7.1 0h1.2m13.9 0h1.2m43.1 0h1.2m9.4 0h1.2m-120.7 .1h1.2m6.5 0h1.2m2.5 0h1.2m40 .1h1.2m55.3 0h1.2m-58.6 .1h1.2m-.6 0h1.2m31.5 0h1.2m-78.5 .1h1.2m24.1 0h1.2m46.6 0h1.2m28.2 0h1.2m-100.4 .1h1.2m-1.2 0h1.2m51.4 0h1.2m-.5 0h1.2m3.6 0h1.2m32.9 0h1.2m-63.7 .1h1.2m61.1 0h1.2m14.6 0h1.2m-109.2 .1h1.2m10.4 0h1.2m12 0h1.2m4.4 0h1.2m9.8 0h1.2m65.6 0h1.2m-103.7 .1h1.2m11 0h1.2m30.4 0h1.2m35.8 0h1.2m5.9 0h1.2m-105.9 .1h1.2m-.7 0h1.2m2.3 0h1.2m-.6 0h1.2m10.9 .1h1.2m4.4 0h1.2m10.1 0h1.2m63.3 0h1.2m-99.1 .1h1.2m6.5 0h1.2m2.1 0h1.2m3.6 0h1.2m16.2 0h1.2m.7 0h1.2m4.6 0h1.2m-19.4 .1h1.2m5.1 0h1.2m20 0h1.2m51.7 0h1.2m-95.8 .1h1.2m1.7 0h1.2m72.9 0h1.2m8.9 0h1.2m13 0h1.2m-99.8 .1h1.2m-.8 0h1.2m-4.9 .1h1.2m2.6 0h1.2m15.9 0h1.2m22.6 0h1.2m31.3 0h1.2m33 0h1.2m-112.7 .1h1.2m12.8 0h1.2m6.6 0h1.2m3.7 0h1.2m42.2 0h1.2m-70.7 .1h1.2m2 0h1.2m3.4 0h1.2m16.7 0h1.2m-31.4 .1h1.2m-.5 0h1.2m2.6 0h1.2m18.5 0h1.2m4.6 0h1.2m-34.7 .1h1.2m-1.1 0h1.2m20.8 0h1.2m9.3 0h1.2m15.8 0h1.2m52.6 0h1.2m-96.3 .1h1.2m6 0h1.2m4.9 0h1.2m-.7 0h1.2m4.7 0h1.2m20.8 0h1.2m.9 0h1.2m-1.1 0h1.2m50.9 0h1.2m-101.8 .1h1.2m2.6 0h1.2m-.7 0h1.2m18.6 0h1.2m5.5 0h1.2m59.2 0h1.2m-85.6 .1h1.2m4.5 0h1.2m4.4 0h1.2m-.9 0h1.2m4.6 0h1.2m4.5 0h1.2m-.3 0h1.2m-1.1 0h1.2m-7.9 .1h1.2m-.8 0h1.2m-.6 0h1.2m2.6 0h1.2m-30.2 .1h1.2m3.2 0h1.2m1.6 0h1.2m20.3 0h1.2m48.7 0h1.2m25.8 0h1.2m-.4 0h1.2m-95.8 .1h1.2m80.9 0h1.2m19.7 0h1.2m-69.6 .1h1.2m-1.1 0h1.2m67.1 0h1.2m-111.9 .1h1.2m42.6 0h1.2m-44.7 .1h1.2m-1.1 0h1.2m12.2 0h1.2m5.2 0h1.2m-1.6 .1h1.2m0 0h1.2m3.8 0h1.2m-1.2 0h1.2m26.6 0h1.2m-54.8 .1h1.2m2 0h1.2m15.6 0h1.2m41.4 0h1.2m32.5 0h1.2m-102.1 .1h1.2m6.7 0h1.2m3 0h1.2m4.6 0h1.2m-.7 0h1.2m5.8 0h1.2m4.3 0h1.2m59.3 0h1.2m13.8 0h1.2m-99.9 .1h1.2m16 0h1.2m-.9 0h1.2m3.1 0h1.2m-1.1 0h1.2m-.7 0h1.2m17.1 0h1.2m17.3 0h1.2m9.1 0h1.2m2.7 0h1.2m-1.1 0h1.2m12 0h1.2m9.7 0h1.2m-94.2 .1h1.2m-.8 0h1.2m15.7 0h1.2m48.4 0h1.2m13.9 0h1.2m20.1 0h1.2m-112.4 .1h1.2m19.1 0h1.2m-.1 0h1.2m21.4 0h1.2m-.9 0h1.2m49.8 0h1.2m-40.5 .1h1.2m-49.2 .1h1.2m10.8 0h1.2m-.6 0h1.2m3 0h1.2m17.8 0h1.2m56.1 0h1.2m-102.4 .1h1.2m24.4 0h1.2m.8 0h1.2m82.2 0h1.2m-92 .1h1.2m-29.2 .1h1.2m2.3 0h1.2m47.1 0h1.2m-45 .1h1.2m19.6 0h1.2m2.9 0h1.2m54.7 0h1.2m-82.4 .1h1.2m20.3 0h1.2m2.5 0h1.2m.9 0h1.2m15.9 0h1.2m30.6 0h1.2m32.7 0h1.2m-.3 0h1.2m-120.2 .1h1.2m-.4 0h1.2m2.6 0h1.2m28.5 0h1.2m-.6 0h1.2m28 0h1.2m13 0h1.2m18.8 0h1.2m4.4 0h1.2m-93.4 .1h1.2m15.8 0h1.2m20.3 0h1.2m32.6 0h1.2m-81.3 .1h1.2m6.5 0h1.2m15.9 0h1.2m-.6 0h1.2m2.5 0h1.2m17.8 0h1.2m42.2 0h1.2m2 0h1.2m3.8 0h1.2m5.1 0h1.2m-.9 0h1.2m-82.6 .1h1.2m-.9 0h1.2m3.1 0h1.2m15.4 0h1.2m1.4 0h1.2m30.6 0h1.2m-57.4 .1h1.2m48.7 0h1.2m-57.3 .1h1.2m4.8 0h1.2m21.1 0h1.2m13.4 0h1.2m31.6 0h1.2m-95 .1h1.2m10.7 0h1.2m-.4 0h1.2m11.4 0h1.2m3.8 0h1.2m-.9 0h1.2m15 0h1.2m13.4 0h1.2m52.8 0h1.2m-109 .1h1.2m20.7 0h1.2m1 0h1.2m13.6 0h1.2m-.8 0h1.2m17 0h1.2m-61.6 .1h1.2m6.5 0h1.2m34.8 0h1.2m49.8 0h1.2m13.6 0h1.2m-115.3 .1h1.2m-.7 0h1.2m22.8 0h1.2m4.7 0h1.2m-31.3 .1h1.2m3.1 0h1.2m12.6 0h1.2m28.5 0h1.2m-25.1 .1h1.2m4.8 0h1.2m-13.3 .1h1.2m9.5 0h1.2m16.8 0h1.2m-24 .1h1.2m3.6 .1h1.2m-25.9 .1h1.2m2 .1h1.2m9.6 0h1.2m4.9 0h1.2m3.9 0h1.2m-.8 0h1.2m-26.3 .1h1.2m6.4 0h1.2m17.2 0h1.2m-13.7 .1h1.2m10.7 0h1.2m-.8 0h1.2m-7.4 .1h1.2" stroke="#0072c4" stroke-width="1.2" fill="none"/>
<path d="M230 37h1v9h-1zM230 46h2v1h-2zM224 48h1v1h-1zM226 45h1v4h-1zM224 49h4v2h-4zM229 47h3v4h-3zM222 43h1v9h-1zM224 51h8v1h-8zM222 52h10v2h-10zM222 54h11v1h-11zM234 54h1v1h-1zM222 55h13v6h-13zM222 61h14v3h-14zM222 64h15v5h-15zM222 69h16v2h-16zM222 71h17v5h-17zM240 71h1v5h-1zM222 76h19v2h-19zM242 72h1v6h-1zM222 78h21v1h-21zM245 76h1v3h-1zM245 79h2v2h-2zM249 79h1v3h-1zM251 79h1v3h-1zM222 79h22v4h-22zM245 81h3v2h-3zM222 83h26v2h-26zM249 82h3v3h-3zM253 84h1v1h-1zM255 70h1v15h-1zM222 85h35v3h-35zM258 86h2v2h-2zM222 88h38v1h-38zM222 89h39v1h-39zM222 90h40v1h-40zM264 91h1v1h-1zM266 87h1v5h-1zM222 91h41v2h-41zM264 92h3v1h-3zM222 93h46v2h-46zM222 95h47v1h-47zM270 94h1v2h-1zM222 96h49v2h-49zM272 95h1v3h-1zM274 94h1v4h-1zM281 93h1v5h-1zM222 98h53v1h-53zM276 90h1v9h-1zM222 99h55v1h-55zM278 98h4v2h-4zM284 98h1v2h-1zM222 100h63v1h-63zM290 99h1v2h-1zM289 101h2v1h-2zM222 101h64v2h-64zM287 102h5v1h-5zM295 99h1v4h-1zM304 102h1v1h-1zM307 102h1v1h-1zM293 101h1v3h-1zM295 103h2v1h-2zM298 103h1v1h-1zM301 103h1v1h-1zM303 103h2v1h-2zM306 103h2v1h-2zM309 102h1v2h-1zM293 104h15v1h-15zM309 104h2v1h-2zM222 103h70v3h-70zM293 105h19v1h-19zM313 104h1v2h-1zM316 103h1v4h-1zM318 106h1v1h-1zM320 105h1v2h-1zM323 104h1v3h-1zM329 105h1v2h-1zM222 106h92v2h-92zM316 107h5v1h-5zM322 107h2v1h-2zM329 107h2v1h-2zM338 107h1v1h-1zM222 108h93v1h-93zM316 108h8v1h-8zM325 107h2v2h-2zM328 108h3v1h-3zM222 109h109v1h-109zM332 109h1v1h-1zM222 110h111v1h-111zM334 107h1v4h-1zM337 108h2v3h-2zM222 111h113v1h-113zM336 111h3v1h-3zM341 111h1v1h-1zM222 112h120v1h-120zM222 113h121v1h-121zM222 114h122v1h-122zM222 115h124v2h-124zM222 117h125v1h-125zM222 118h126v1h-126zM222 119h128v1h-128z" fill="#0072c4"/>
<path d="M223.8 26.4h1.2m.4 0h1.2m.4 0h1.2m.4 0h1.2m.4 0h1.2m.4 0h1.2m.4 0h1.2m.4 0h1.2m.4 0h1.2m.6 0h1.2m1.2 0h1.2m1.2 0h1.2m1.2 0h1.2m1.2 0h1.2m-13.6 2.1h1.2m-13 1.2h1.2m.1 0h1.2m0 0h1.2m.1 0h1.2m0 0h1.2m.1 0h1.2m0 0h1.2m.1 0h1.2m0 0h1.2m3.4 0h1.2m5.6 0h1.2m10.5 0h1.2m-23 1.2h1.2m8.7 .3h1.2m-3.7 .1h1.2m-2.5 .3h1.2m2.5 .3h1.2m-1.8 .1h1.2m-4.4 .1h1.2m-9.1 .1h1.2m18.8 .2h1.2m5 .2h1.2m-18.2 .1h1.2m-.3 .1h1.2m-10.6 .1h1.2m-.3 .1h1.2m-.4 .2h1.2m4.7 .2h1.2m-7.2 .3h1.2m5 .1h1.2m-8.5 .1h1.2m19.7 .1h1.2m-19.4 .1h1.2m-3 .1h1.2m.3 .1h1.2m-13.6 .1h1.2m10.5 0h1.2m.4 0h1.2m1 0h1.2m-10.3 .2h1.2m-.8 0h1.2m8.4 .1h1.2m-8.1 .1h1.2m.9 0h1.2m12.5 0h1.2m11.5 0h1.2m-37.4 .1h1.2m2.8 0h1.2m11.6 0h1.2m.9 0h1.2m-20.6 .1h1.2m28.3 0h1.2m-14.3 .1h1.2m-14.8 .1h1.2m-.4 0h1.2m23.5 0h1.2m-25 .1h1.2m10.4 0h1.2m5.9 0h1.2m-28.1 .1h1.2m8.8 0h1.2m9 0h1.2m-14.2 .1h1.2m10.4 0h1.2m9.3 .1h1.2m-28.9 .2h1.2m11.2 0h1.2m-12.2 .1h1.2m6.9 .2h1.2m-.1 0h1.2m19.9 0h1.2m-32 .1h1.2m-.9 0h1.2m4.5 0h1.2m21.5 0h1.2m-24 .1h1.2m16.2 0h1.2m13.4 0h1.2m-39.4 .1h1.2m4 0h1.2m.5 0h1.2m16 0h1.2m-.6 0h1.2m4.1 0h1.2m-25.5 .1h1.2m-.6 0h1.2m-1.2 0h1.2m1.4 0h1.2m-.4 0h1.2m.2 0h1.2m5.2 0h1.2m5.8 0h1.2m15.3 0h1.2m-45 .1h1.2m2.7 0h1.2m29 0h1.2m33.6 0h1.2m-56.7 .2h1.2m-.1 0h1.2m5.1 0h1.2m-14.2 .1h1.2m21.7 0h1.2m-28.3 .2h1.2m2.5 0h1.2m6.2 0h1.2m-6.4 .1h1.2m-1.2 0h1.2m-7.3 .1h1.2m-1.1 0h1.2m10.9 0h1.2m.8 0h1.2m-.8 0h1.2m4.4 0h1.2m1.2 0h1.2m2.7 0h1.2m-28 .1h1.2m.9 0h1.2m4 0h1.2m3.7 0h1.2m.2 0h1.2m-6.4 .1h1.2m7.4 0h1.2m4.6 0h1.2m-26.7 .1h1.2m-.9 0h1.2m2.3 0h1.2m10.1 0h1.2m-14.5 .1h1.2m8.3 .1h1.2m-1.2 .1h1.2m10.9 0h1.2m0 0h1.2m-19.8 .1h1.2m12.7 0h1.2m1.7 0h1.2m-23.7 .1h1.2m8.8 0h1.2m2.1 .1h1.2m-6.1 .1h1.2m2.6 0h1.2m-10.5 .1h1.2m11 0h1.2m-16.1 .1h1.2m2.3 0h1.2m-5 .1h1.2m48.5 0h1.2m-48.6 .1h1.2m.1 0h1.2m.2 0h1.2m-3.8 .1h1.2m34.2 0h1.2m25.2 0h1.2m-62.8 .1h1.2m6.6 0h1.2m1.4 0h1.2m.2 0h1.2m-16.8 .1h1.2m1.7 0h1.2m3.6 0h1.2m-1.1 0h1.2m2.4 0h1.2m16 0h1.2m-22.1 .1h1.2m2.6 0h1.2m1.4 0h1.2m13.9 0h1.2m-22.5 .1h1.2m9.7 0h1.2m-18.7 .1h1.2m3.9 0h1.2m-.3 0h1.2m13.9 0h1.2m19.7 0h1.2m20.1 0h1.2m-63.1 .1h1.2m4.4 0h1.2m5.9 0h1.2m16.6 0h1.2m-31.5 .1h1.2m1.3 0h1.2m11.5 .1h1.2m-.2 0h1.2m.8 0h1.2m13.2 0h1.2m-35.9 .1h1.2m16.9 0h1.2m15.2 0h1.2m-29.5 .1h1.2m4 0h1.2m21.6 0h1.2m19.7 0h1.2m2.2 0h1.2m-58.9 .1h1.2m.9 0h1.2m.5 0h1.2m8.6 0h1.2m7.3 0h1.2m8.5 0h1.2m-15.3 .1h1.2m-.7 0h1.2m7.2 0h1.2m-.8 0h1.2m5.8 0h1.2m-30 .1h1.2m-4.4 .1h1.2m4.8 0h1.2m9.3 0h1.2m-17.2 .1h1.2m-.6 0h1.2m2.5 0h1.2m.8 0h1.2m5.7 0h1.2m2.6 0h1.2m2.5 0h1.2m8.4 0h1.2m3.8 0h1.2m-14.8 .1h1.2m2.8 0h1.2m2.9 0h1.2m-26.5 .1h1.2m5.7 0h1.2m13.2 0h1.2m-11.2 .1h1.2m3.4 0h1.2m.7 0h1.2m-.7 0h1.2m-25.4 .1h1.2m28.1 0h1.2m-31.4 .1h1.2m1 0h1.2m16.4 0h1.2m1.5 0h1.2m-22.7 .1h1.2m.4 0h1.2m.4 0h1.2m5.5 0h1.2m10.8 0h1.2m-23.1 .1h1.2m.3 0h1.2m14.4 0h1.2m.1 0h1.2m13.5 0h1.2m1.3 0h1.2m1.4 0h1.2m2.9 0h1.2m-41.9 .1h1.2m-.2 0h1.2m15.5 0h1.2m-18.1 .1h1.2m.4 0h1.2m-.3 0h1.2m-.7 0h1.2m2 0h1.2m-.1 0h1.2m3.7 0h1.2m3.8 0h1.2m8.9 0h1.2m1.5 .1h1.2m-31.7 .1h1.2m4.1 0h1.2m5.7 0h1.2m2.8 0h1.2m-20.5 .1h1.2m5.2 0h1.2m.5 0h1.2m6.8 0h1.2m-11.2 .1h1.2m1.7 0h1.2m1.2 0h1.2m.6 0h1.2m5.7 0h1.2m-22.1 .1h1.2m-.5 0h1.2m4 0h1.2m4.9 0h1.2m3.9 0h1.2m15.8 0h1.2m-31.8 .1h1.2m1 0h1.2m2.7 0h1.2m5.3 0h1.2m13.6 0h1.2m-30.8 .1h1.2m2.1 0h1.2m.3 0h1.2m0 0h1.2m11.8 0h1.2m63.6 0h1.2m-76.8 .1h1.2m1.6 0h1.2m22.8 0h1.2m18.4 .1h1.2m-55.3 .1h1.2m5.9 0h1.2m16.3 0h1.2m-23.4 .1h1.2m-.9 0h1.2m1.2 0h1.2m-.9 0h1.2m-8.4 .1h1.2m1.2 0h1.2m-1.1 0h1.2m-.7 0h1.2m5.1 0h1.2m2.3 0h1.2m-1.1 0h1.2m.2 0h1.2m3.3 0h1.2m13.9 0h1.2m-30.3 .1h1.2m3.2 0h1.2m-3.4 .1h1.2m2.5 0h1.2m1 0h1.2m2.8 0h1.2m15.4 0h1.2m-25.5 .1h1.2m7.5 0h1.2m-1.1 0h1.2m5.3 0h1.2m-20.6 .1h1.2m4.5 0h1.2m9.2 0h1.2m1.8 0h1.2m9.5 0h1.2m.9 0h1.2m-27.6 .1h1.2m5.2 0h1.2m1.7 0h1.2m5.2 0h1.2m-.9 0h1.2m3.3 0h1.2m11.3 0h1.2m-42.3 .1h1.2m1 0h1.2m-.9 0h1.2m6.8 0h1.2m2.7 0h1.2m26.3 0h1.2m-33.5 .1h1.2m4.6 0h1.2m5.7 0h1.2m.8 0h1.2m5.6 0h1.2m-27.4 .1h1.2m3.9 0h1.2m4.4 0h1.2m-.1 0h1.2m15.8 0h1.2m-27.4 .1h1.2m22 0h1.2m12.4 0h1.2m-35.9 .1h1.2m8 0h1.2m.4 0h1.2m3 0h1.2m-24 .1h1.2m3.3 0h1.2m23.3 0h1.2m.5 0h1.2m1.4 0h1.2m-35.7 .1h1.2m5.1 0h1.2m.3 0h1.2m10.7 0h1.2m7 0h1.2m5.4 0h1.2m-23.6 .1h1.2m7.6 0h1.2m10.5 0h1.2m-30.1 .1h1.2m-.4 0h1.2m4.6 0h1.2m.5 0h1.2m-.1 0h1.2m37.6 0h1.2m-47.4 .1h1.2m8.7 0h1.2m-1.1 0h1.2m-18.6 .1h1.2m.9 0h1.2m5.3 0h1.2m.8 0h1.2m-.8 0h1.2m15.2 0h1.2m3.5 0h1.2m-35.4 .1h1.2m.5 0h1.2m10.3 0h1.2m3.5 0h1.2m12.2 0h1.2m-28.2 .1h1.2m5 0h1.2m1.3 0h1.2m6.4 0h1.2m.7 0h1.2m9 0h1.2m.7 0h1.2m2.3 0h1.2m-15.1 .1h1.2m-10.2 .1h1.2m4.9 0h1.2m-20.4 .1h1.2m3.7 0h1.2m-1.2 0h1.2m-.1 0h1.2m8.9 0h1.2m1 0h1.2m-14 .1h1.2m7 0h1.2m1 0h1.2m48.8 0h1.2m-64.5 .1h1.2m2 0h1.2m-.9 0h1.2m-1.1 0h1.2m.2 0h1.2m1.6 0h1.2m2.4 0h1.2m5.4 0h1.2m30.7 0h1.2m-44.6 .1h1.2m-.8 0h1.2m7.8 0h1.2m2 0h1.2m2.2 0h1.2m6.1 0h1.2m-28.3 .1h1.2m12.8 0h1.2m1 0h1.2m17.2 0h1.2m18.1 0h1.2m-58.9 .1h1.2m15.7 0h1.2m10.8 0h1.2m-18.2 .1h1.2m-13.2 .1h1.2m3 0h1.2m14.1 0h1.2m8.9 0h1.2m-31.4 .1h1.2m.3 0h1.2m14.7 0h1.2m-.3 0h1.2m-12.1 .1h1.2m9.1 0h1.2m-17.9 .1h1.2m3.4 0h1.2m13.8 0h1.2m-17.6 .1h1.2m16.8 0h1.2m5.7 0h1.2m-26.7 .1h1.2m4.8 0h1.2m10.3 0h1.2m7.5 .1h1.2m-31 .1h1.2m12.3 0h1.2m.7 0h1.2m3.3 0h1.2m6.9 0h1.2m2.4 0h1.2m-33 .1h1.2m3.2 0h1.2m-.3 0h1.2m.9 0h1.2m32.3 0h1.2m-30.3 .1h1.2m1.2 0h1.2m60.6 0h1.2m-68.9 .1h1.2m9.3 0h1.2m1.5 0h1.2m-.4 0h1.2m13.8 0h1.2m-37.1 .1h1.2m5.9 0h1.2m-8.4 .1h1.2m1.3 0h1.2m-.5 0h1.2m-.8 0h1.2m1.7 0h1.2m32.8 0h1.2m-39.7 .1h1.2m5.5 0h1.2m6.5 0h1.2m2.5 0h1.2m.1 0h1.2m-12.6 .1h1.2m3.2 0h1.2m1 0h1.2m-11.1 .1h1.2m4 0h1.2m-.2 0h1.2m4.1 0h1.2m6.6 0h1.2m-23.2 .1h1.2m1.9 0h1.2m8.8 0h1.2m15.5 0h1.2m-26.1 .1h1.2m-.6 0h1.2m4.3 0h1.2m5.1 0h1.2m-24.4 .1h1.2m27.1 0h1.2m-28.8 .1h1.2m-.4 0h1.2m8 0h1.2m.8 0h1.2m-1.1 0h1.2m11.4 0h1.2m-26 .1h1.2m15.6 0h1.2m7.2 0h1.2m-22.8 .1h1.2m17 0h1.2m-6.1 .1h1.2m13.3 0h1.2m-.9 0h1.2m-.1 0h1.2m3.3 0h1.2m-28.4 .1h1.2m-1 0h1.2m.4 0h1.2m-.5 0h1.2m-.5 0h1.2m4.2 0h1.2m8.7 0h1.2m7.3 0h1.2m-38.5 .1h1.2m1.9 0h1.2m4.9 0h1.2m-.4 0h1.2m19.7 0h1.2m18.5 0h1.2m-42.4 .1h1.2m-.1 0h1.2m3 0h1.2m3.8 0h1.2m31.8 0h1.2m-52 .1h1.2m9.1 0h1.2m15.1 0h1.2m-26.3 .2h1.2m7.6 0h1.2m-.3 0h1.2m6.3 0h1.2m-18.4 .1h1.2m15.5 0h1.2m-18.2 .1h1.2m-.3 0h1.2m21.1 0h1.2m-1 0h1.2m-26.4 .1h1.2m11.2 0h1.2m-1 0h1.2m5 0h1.2m3.9 0h1.2m-21.9 .1h1.2m-.8 0h1.2m6 0h1.2m14 0h1.2m6.6 0h1.2m-26 .1h1.2m.5 0h1.2m1.6 0h1.2m2.2 0h1.2m16 0h1.2m-25 .1h1.2m6.1 0h1.2m9.4 0h1.2m-27.3 .1h1.2m7.4 0h1.2m16.2 0h1.2m27.4 0h1.2m-55.6 .1h1.2m5.1 0h1.2m4.9 0h1.2m10 0h1.2m6.7 0h1.2m-15.1 .1h1.2m8.5 0h1.2m9.4 0h1.2m-24.9 .2h1.2m2 0h1.2m26.2 0h1.2m6.1 0h1.2m-44.7 .1h1.2m5.4 0h1.2m7.5 0h1.2m6.6 0h1.2m-32.2 .1h1.2m-1.2 0h1.2m-1 0h1.2m2.8 0h1.2m-.8 0h1.2m4.8 0h1.2m-16.9 .1h1.2m-1.2 0h1.2m9.1 0h1.2m32.2 0h1.2m-26.1 .1h1.2m-1 0h1.2m-14.8 .1h1.2m28.6 0h1.2m15.8 0h1.2m-36.4 .1h1.2m.8 0h1.2m2.1 0h1.2m5.1 0h1.2m6.9 0h1.2m-1.2 0h1.2m-29 .1h1.2m3.6 0h1.2m1.1 0h1.2m-.6 0h1.2m11.4 0h1.2m2.1 0h1.2m-.5 0h1.2m-19.9 .1h1.2m-.5 0h1.2m11.8 0h1.2m28.4 0h1.2m-53.6 .1h1.2m8.6 0h1.2m-.8 0h1.2m2.7 .1h1.2m16.1 0h1.2m-19.4 .1h1.2m3.5 0h1.2m9.5 0h1.2m-29.9 .1h1.2m5.1 0h1.2m18.2 0h1.2m-.2 0h1.2m-33.3 .1h1.2m3.8 0h1.2m-.4 0h1.2m26.2 0h1.2m-29 .1h1.2m10.5 0h1.2m5.9 0h1.2m-20.3 .1h1.2m5.4 0h1.2m.8 0h1.2m14.7 0h1.2m.8 0h1.2m-32.6 .1h1.2m9.1 0h1.2m.6 0h1.2m-1.1 0h1.2m3.4 0h1.2m1 0h1.2m-.8 0h1.2m3.9 0h1.2m5 0h1.2m6 0h1.2m-39.2 .1h1.2m11.8 0h1.2m-1.1 0h1.2m2.8 0h1.2m5.9 0h1.2m9.6 0h1.2m13.6 0h1.2m18 0h1.2m-57.5 .1h1.2m.3 0h1.2m6.6 0h1.2m37.8 0h1.2m-48.1 .1h1.2m-.9 0h1.2m-.5 .1h1.2m9.3 0h1.2m8.7 0h1.2m1 0h1.2m2.3 0h1.2m-31.2 .1h1.2m18.6 0h1.2m-31.7 .1h1.2m10.6 0h1.2m.1 0h1.2m17.4 0h1.2m5 0h1.2m-39.5 .1h1.2m12.8 0h1.2m1.7 0h1.2m5.9 0h1.2m7.4 0h1.2m-.1 0h1.2m4.7 0h1.2m-23.4 .1h1.2m-1 0h1.2m-8.5 .1h1.2m4.1 0h1.2m.2 0h1.2m10.9 0h1.2m4.1 0h1.2m-24.9 .1h1.2m1.6 .1h1.2m10.4 0h1.2m-.9 0h1.2m5.5 0h1.2m1.1 0h1.2m40.8 0h1.2m-77.9 .1h1.2m-1 0h1.2m58.1 0h1.2m-51.3 .1h1.2m17.4 0h1.2m20.5 0h1.2m-38.1 .1h1.2m4.7 0h1.2m-.4 0h1.2m-1.1 0h1.2m10.4 0h1.2m-13.2 .1h1.2m2.2 0h1.2m2.4 0h1.2m7 0h1.2m-23.4 .1h1.2m-.2 0h1.2m3.8 0h1.2m-.7 0h1.2m6.8 0h1.2m37.8 0h1.2m-55.6 .1h1.2m14.8 0h1.2m.1 0h1.2m-18.2 .1h1.2m.6 0h1.2m5.7 0h1.2m1 0h1.2m-1 0h1.2m.2 0h1.2m1.5 0h1.2m1.4 0h1.2m-18.9 .1h1.2m9.6 0h1.2m-14.5 .1h1.2m-.8 0h1.2m-.6 0h1.2m5.7 0h1.2m1.1 0h1.2m19.5 0h1.2m-23 .1h1.2m-.3 0h1.2m2.7 0h1.2m8.8 0h1.2m.5 0h1.2m2.7 0h1.2m39.3 0h1.2m-63.8 .1h1.2m7.5 0h1.2m2.9 0h1.2m1.6 0h1.2m-24.2 .1h1.2m-1.1 0h1.2m2.5 0h1.2m3.8 0h1.2m2.5 0h1.2m9.7 0h1.2m47.4 0h1.2m-73.3 .1h1.2m25.5 0h1.2m-.4 0h1.2m-15.8 .1h1.2m7.7 0h1.2m2.7 0h1.2m12.3 0h1.2m-8.9 .1h1.2m-22.8 .1h1.2m7.8 0h1.2m6.5 0h1.2m3 0h1.2m-21.5 .1h1.2m.4 0h1.2m3.7 0h1.2m2.4 0h1.2m9.8 0h1.2m-.1 0h1.2m-.2 0h1.2m-29.3 .1h1.2m2 0h1.2m18.5 0h1.2m1.4 0h1.2m-27.6 .1h1.2m3.5 0h1.2m-.6 0h1.2m-.8 0h1.2m4.6 0h1.2m.2 0h1.2m2.8 0h1.2m-21.2 .1h1.2m-.1 0h1.2m.9 0h1.2m.6 0h1.2m7.6 0h1.2m-.4 0h1.2m2.9 0h1.2m-17.2 .1h1.2m-.7 0h1.2m5.2 0h1.2m37.3 0h1.2m-48.2 .1h1.2m1.1 0h1.2m17.6 0h1.2m2.5 0h1.2m18 0h1.2m-47 .1h1.2m8.3 0h1.2m45.1 0h1.2m-56.2 .1h1.2m.4 0h1.2m3.2 0h1.2m5.5 0h1.2m2.1 0h1.2m40 0h1.2m-51 .1h1.2m5.8 0h1.2m8.2 0h1.2m1 0h1.2m3.6 0h1.2m-32.2 .1h1.2m5.6 0h1.2m-.1 0h1.2m-.8 0h1.2m-6.4 .1h1.2m-.7 0h1.2m3.1 0h1.2m-.5 0h1.2m4.9 .1h1.2m4.2 0h1.2m.8 0h1.2m16.9 0h1.2m-41.5 .1h1.2m3.1 0h1.2m3.7 0h1.2m1.4 0h1.2m3.2 0h1.2m-1.1 0h1.2m4.6 0h1.2m-17.9 .1h1.2m4.8 0h1.2m20.6 0h1.2m-13.2 .1h1.2m-17.1 .1h1.2m2.1 0h1.2m.2 0h1.2m4.2 0h1.2m16.8 0h1.2m-25.5 .1h1.2m1.3 0h1.2m3.3 0h1.2m11.1 0h1.2m-26.9 .1h1.2m32.3 0h1.2m-29.3 .1h1.2m2.9 0h1.2m8.6 0h1.2m7.2 0h1.2m10.3 0h1.2m-21.5 .1h1.2m2.2 0h1.2m-21.1 .1h1.2m15.7 0h1.2m2.4 0h1.2m7.4 0h1.2m7.2 0h1.2m-35.2 .1h1.2m7.3 0h1.2m-.3 0h1.2m2.3 0h1.2m.3 0h1.2m-18.6 .1h1.2m.3 0h1.2m5.9 0h1.2m12.7 0h1.2m5.8 0h1.2m-29.5 .1h1.2m-.1 0h1.2m-.7 .1h1.2m-.3 0h1.2m11.1 0h1.2m.4 0h1.2m-7.8 .1h1.2m2.9 0h1.2m-18.7 .1h1.2m.1 0h1.2m-2.8 .1h1.2m-1 0h1.2m6.5 0h1.2m-10.3 .1h1.2m14 0h1.2m8.1 0h1.2m-25.4 .1h1.2m26.7 0h1.2m5.9 0h1.2m11.7 0h1.2m-46.6 .1h1.2m-.3 0h1.2m1.6 0h1.2m6.1 0h1.2m3.7 0h1.2m-15.6 .1h1.2m4.1 0h1.2m20.6 0h1.2m2.5 0h1.2m-17.7 .1h1.2m6.2 0h1.2m-25.3 .1h1.2m-.5 0h1.2m15.1 0h1.2m3.2 0h1.2m6.2 0h1.2m-30.3 .1h1.2m-.8 0h1.2m-.1 0h1.2m4.9 0h1.2m5.9 0h1.2m-.8 0h1.2m2.5 0h1.2m1.6 0h1.2m10.3 0h1.2m-28.8 .1h1.2m10.4 0h1.2m6.6 0h1.2m3.9 0h1.2m-25.8 .1h1.2m16.6 0h1.2m-23.3 .1h1.2m1.5 0h1.2m9.9 0h1.2m.5 0h1.2m-.7 0h1.2m6.4 0h1.2m36.8 0h1.2m-64.3 .1h1.2m-.1 0h1.2m-.9 0h1.2m7.6 0h1.2m-1.1 0h1.2m3.3 0h1.2m13.6 0h1.2m-29.3 .1h1.2m10.4 0h1.2m15.7 0h1.2m-30.6 .1h1.2m-.2 0h1.2m1.3 0h1.2m86.8 0h1.2m-94.4 .1h1.2m-1.2 0h1.2m6.1 0h1.2m-6.4 .1h1.2m2.1 0h1.2m6.5 0h1.2m-.6 0h1.2m5.5 0h1.2m-16 .1h1.2m-.1 0h1.2m2 0h1.2m-.6 0h1.2m8.9 0h1.2m4 0h1.2m-6.1 .1h1.2m-.8 0h1.2m-21.7 .1h1.2m3.2 0h1.2m-.7 0h1.2m-.7 0h1.2m-.3 0h1.2m11.8 0h1.2m1.6 0h1.2m4.2 0h1.2m-28.8 .1h1.2m9.2 0h1.2m4 0h1.2m2.8 0h1.2m-15.1 .1h1.2m8.3 0h1.2m24.8 0h1.2m-38.3 .1h1.2m-1 0h1.2m5.9 0h1.2m.7 0h1.2m4.2 0h1.2m-.4 0h1.2m3.7 0h1.2m-25.2 .1h1.2m6.6 0h1.2m1.5 0h1.2m6.2 0h1.2m18.3 0h1.2m-31.4 .1h1.2m-.8 0h1.2m-1.2 0h1.2m19.8 0h1.2m5.4 0h1.2m-24.6 .1h1.2m-.3 0h1.2m10.9 .1h1.2m26.6 0h1.2m-30.7 .1h1.2m2.8 0h1.2m11.9 0h1.2m42.7 0h1.2m-67.9 .1h1.2m10.8 0h1.2m8.8 0h1.2m-26.7 .1h1.2m-.4 0h1.2m4.4 0h1.2m-22.8 .1h1.2m.7 0h1.2m11 0h1.2m-1.1 0h1.2m26 0h1.2m-39.7 .1h1.2m5.6 0h1.2m-.5 0h1.2m3.3 0h1.2m10.3 .1h1.2m-.3 0h1.2m2.2 0h1.2m5.7 0h1.2m-30.7 .1h1.2m.8 0h1.2m2.9 0h1.2m4.3 0h1.2m25 0h1.2m12.9 0h1.2m-42.3 .1h1.2m16.9 0h1.2m-34.2 .1h1.2m.9 .1h1.2m4.9 0h1.2m11.3 0h1.2m34 0h1.2m11.7 0h1.2m-70.4 .1h1.2m1.7 0h1.2m6.1 0h1.2m.2 0h1.2m2.7 0h1.2m-.2 0h1.2m-14.7 .1h1.2m4.5 0h1.2m1.2 0h1.2m18.3 0h1.2m-30.1 .1h1.2m56 0h1.2m-60.9 .1h1.2m1.5 0h1.2m-1 0h1.2m1.8 0h1.2m-.2 0h1.2m6.4 0h1.2m.1 0h1.2m3.7 0h1.2m7.3 0h1.2m-15.9 .1h1.2m-17.6 .1h1.2m.9 0h1.2m5.8 0h1.2m7.9 0h1.2m4.5 0h1.2m10.8 0h1.2m-38 .1h1.2m5.5 0h1.2m8.8 0h1.2m-16.4 .1h1.2m10 0h1.2m4.9 0h1.2m0 0h1.2m-.8 0h1.2m9.3 0h1.2m-31.8 .1h1.2m4.2 0h1.2m.2 0h1.2m11.4 0h1.2m13.2 0h1.2m16.9 0h1.2m-32.6 .1h1.2m33.8 0h1.2m-56.3 .1h1.2m12.1 0h1.2m7.1 0h1.2m2.2 0h1.2m.6 0h1.2m-26.5 .1h1.2m1.8 0h1.2m4.3 0h1.2m13.9 0h1.2m16.5 0h1.2m-28.5 .1h1.2m2.5 0h1.2m2 0h1.2m.5 0h1.2m6.8 0h1.2m-26.5 .1h1.2m3.7 0h1.2m-.8 0h1.2m-.7 0h1.2m6.4 0h1.2m18 0h1.2m-38 .1h1.2m6.8 0h1.2m.4 0h1.2m6.1 0h1.2m-.6 .1h1.2m13.8 0h1.2m2 0h1.2m-34.9 .1h1.2m13.7 0h1.2m16.1 0h1.2m-18.2 .1h1.2m6.1 0h1.2m6.1 0h1.2m-30.6 .1h1.2m7.5 0h1.2m-1 0h1.2m21.6 0h1.2m42.8 0h1.2m-70.2 .1h1.2m6.1 0h1.2m0 0h1.2m0 0h1.2m40.7 0h1.2m-62.7 .1h1.2m17.7 0h1.2m2.7 0h1.2m2.9 0h1.2m24.5 .1h1.2m-25 .1h1.2m-14.6 .1h1.2m27.1 0h1.2m-39.1 .1h1.2m7.1 0h1.2m5.6 0h1.2m-17.7 .1h1.2m8.2 0h1.2m2.6 0h1.2m5.9 0h1.2m13.1 0h1.2m-38.4 .1h1.2m13.1 0h1.2m-1 0h1.2m-.6 0h1.2m.2 0h1.2m17.9 0h1.2m-37.9 .1h1.2m1 0h1.2m9.3 0h1.2m29 0h1.2m-26.3 .1h1.2m4 0h1.2m11.3 0h1.2m22.7 0h1.2m16.7 0h1.2m27.7 0h1.2m-107.6 .1h1.2m1.4 0h1.2m-.6 0h1.2m1.8 0h1.2m3.8 0h1.2m5.1 0h1.2m-20.6 .1h1.2m3.4 0h1.2m0 0h1.2m13.8 0h1.2m13.9 0h1.2m-31.8 .1h1.2m-1 0h1.2m12.3 0h1.2m-.8 0h1.2m-1.1 0h1.2m33.5 0h1.2m-53.2 .1h1.2m3.8 .1h1.2m13.1 0h1.2m-19.5 .1h1.2m.9 0h1.2m2.5 0h1.2m-1 0h1.2m-.2 0h1.2m17.1 0h1.2m7.9 0h1.2m-38.5 .1h1.2m1.6 0h1.2m2.7 0h1.2m1 0h1.2m-.4 0h1.2m-7.7 .1h1.2m.2 0h1.2m7.3 0h1.2m3.6 0h1.2m.6 0h1.2m5.7 0h1.2m24.1 0h1.2m41 0h1.2m-95.2 .1h1.2m7.4 0h1.2m9.5 0h1.2m2.2 0h1.2m-15.1 .1h1.2m4.7 0h1.2m1.8 0h1.2m20.9 0h1.2m3.6 0h1.2m50.1 0h1.2m-92.8 .1h1.2m14.6 0h1.2m-21.4 .1h1.2m6.5 0h1.2m-.8 0h1.2m4.3 0h1.2m.5 0h1.2m6 0h1.2m-23.6 .1h1.2m16.4 0h1.2m1.4 0h1.2m1.3 0h1.2m15.6 0h1.2m47.5 0h1.2m-89.9 .1h1.2m3.6 0h1.2m13.7 0h1.2m-11.6 .1h1.2m3.4 0h1.2m2 0h1.2m-.2 0h1.2m4.6 0h1.2m4.3 0h1.2m1.9 0h1.2m2.4 0h1.2m-32.2 .1h1.2m12.5 0h1.2m9.5 0h1.2m42.2 0h1.2m-71.8 .1h1.2m.8 0h1.2m21.7 0h1.2m-20.7 .1h1.2m12.7 0h1.2m4.3 0h1.2m.2 0h1.2m.4 0h1.2m18.4 0h1.2m51.4 0h1.2m-96 .1h1.2m8.2 0h1.2m-1.1 0h1.2m-.2 0h1.2m-1 0h1.2m7 0h1.2m1 0h1.2m-.9 0h1.2m4.2 0h1.2m-30.3 .1h1.2m1.6 0h1.2m3.9 0h1.2m18.8 0h1.2m2.4 0h1.2m35.2 0h1.2m-73.2 .1h1.2m7.2 0h1.2m-1 0h1.2m4.1 0h1.2m4.2 0h1.2m3.8 0h1.2m5.1 0h1.2m-17.7 .1h1.2m.4 0h1.2m18.4 0h1.2m-30.1 .1h1.2m3.3 0h1.2m8.9 0h1.2m1.7 0h1.2m32.7 0h1.2m-55.4 .1h1.2m-.7 0h1.2m0 0h1.2m11.6 0h1.2m9.5 0h1.2m75.6 0h1.2m-106.9 .1h1.2m2.5 0h1.2m-.3 0h1.2m8 0h1.2m3.8 0h1.2m.8 0h1.2m5.3 0h1.2m-7.7 .1h1.2m-3.2 .1h1.2m1.6 0h1.2m6.6 0h1.2m-29.8 .1h1.2m2.1 0h1.2m2.9 0h1.2m8.8 0h1.2m18.6 0h1.2m-38.5 .1h1.2m-.7 0h1.2m1.5 0h1.2m3 0h1.2m.7 0h1.2m6.4 0h1.2m1.5 0h1.2m4.7 0h1.2m-23.9 .1h1.2m3.7 0h1.2m-.4 0h1.2m7.7 0h1.2m0 0h1.2m8 0h1.2m-29.4 .1h1.2m-.7 0h1.2m5.1 0h1.2m-6.7 .1h1.2m6.6 0h1.2m8.2 0h1.2m1.8 0h1.2m-.5 0h1.2m9.9 0h1.2m52.2 0h1.2m-88.1 .1h1.2m-.9 0h1.2m8.7 0h1.2m6.1 0h1.2m9.2 0h1.2m12.5 0h1.2m1.5 0h1.2m54.3 0h1.2m-90.4 .1h1.2m2.1 0h1.2m3.1 0h1.2m-1.2 0h1.2m.1 0h1.2m8.6 0h1.2m8 0h1.2m-36 .1h1.2m6.7 0h1.2m11.5 0h1.2m10.4 0h1.2m.4 0h1.2m-1 0h1.2m-35.5 .1h1.2m4.1 0h1.2m-.2 0h1.2m-1.1 0h1.2m3.3 0h1.2m-6.1 .1h1.2m-.1 0h1.2m2.9 0h1.2m14.2 0h1.2m-.5 0h1.2m9.4 0h1.2m-40.6 .1h1.2m.9 0h1.2m-.5 0h1.2m19.1 0h1.2m3.2 0h1.2m5.1 0h1.2m-22.4 .1h1.2m3.1 0h1.2m5.6 0h1.2m-.3 0h1.2m15.7 0h1.2m27.5 0h1.2m-.6 0h1.2m2 0h1.2m2 0h1.2m-78.3 .1h1.2m5.8 .1h1.2m15.4 0h1.2m17.4 0h1.2m8.4 0h1.2m-54.9 .1h1.2m1.3 0h1.2m1.8 0h1.2m4.2 0h1.2m3.6 0h1.2m14.5 0h1.2m11.8 0h1.2m-41.8 .1h1.2m12.9 0h1.2m-.5 0h1.2m-19.6 .1h1.2m23.4 0h1.2m-22.9 .1h1.2m11.5 0h1.2m.3 0h1.2m-.3 0h1.2m6.9 0h1.2m5.7 0h1.2m-30.8 .1h1.2m.8 0h1.2m7.5 0h1.2m2.7 0h1.2m2.7 0h1.2m8.2 0h1.2m3.9 0h1.2m-33.4 .1h1.2m11.9 0h1.2m-1.2 0h1.2m40.8 0h1.2m-60.1 .1h1.2m3 0h1.2m10.7 0h1.2m4 0h1.2m20.5 0h1.2m10.5 0h1.2m-51.7 .1h1.2m-.8 0h1.2m22.7 0h1.2m14.5 0h1.2m13.3 0h1.2m-50.1 .1h1.2m13.9 0h1.2m-23.7 .1h1.2m6 0h1.2m35.6 .1h1.2m-43.5 .2h1.2m1.2 0h1.2m4.7 0h1.2m.6 0h1.2m2.1 0h1.2m-.1 0h1.2m7.6 0h1.2m5.7 0h1.2m-26.6 .1h1.2m-.7 0h1.2m1.6 0h1.2m14.1 0h1.2m7.5 0h1.2m-.8 0h1.2m18.1 0h1.2m13 0h1.2m-66.3 .1h1.2m11.2 0h1.2m3.3 0h1.2m4 0h1.2m-28.8 .1h1.2m-1.1 0h1.2m8.9 0h1.2m1.3 0h1.2m4.2 0h1.2m-.4 0h1.2m2.6 0h1.2m28.8 0h1.2m24 0h1.2m-70 .1h1.2m2.5 0h1.2m8.4 0h1.2m-20.7 .1h1.2m-.7 0h1.2m1.5 0h1.2m3.7 0h1.2m10 0h1.2m24.4 0h1.2m-48.6 .1h1.2m3 0h1.2m4.9 0h1.2m6.5 0h1.2m-16.9 .1h1.2m-.6 0h1.2m3.7 0h1.2m1 0h1.2m-1.1 0h1.2m24.7 0h1.2m15.6 0h1.2m13.5 0h1.2m4.4 0h1.2m-73.9 .1h1.2m87.6 0h1.2m-88.4 .1h1.2m5.9 0h1.2m11.9 0h1.2m4.2 0h1.2m8.9 0h1.2m-34.6 .1h1.2m4.4 0h1.2m3.6 0h1.2m19.2 0h1.2m28.5 0h1.2m-63.6 .1h1.2m7.2 0h1.2m5.3 0h1.2m-.6 0h1.2m3.2 0h1.2m15.5 0h1.2m-37.2 .1h1.2m-.1 0h1.2m-.9 0h1.2m1.2 0h1.2m.3 0h1.2m-.6 0h1.2m6.4 0h1.2m2.9 0h1.2m31.8 0h1.2m-50.3 .1h1.2m-.8 0h1.2m11.2 0h1.2m.5 0h1.2m-11.7 .1h1.2m5.3 0h1.2m-.3 0h1.2m.9 0h1.2m6.9 0h1.2m5.2 0h1.2m11.9 0h1.2m-41.9 .1h1.2m0 0h1.2m4.3 0h1.2m82.3 0h1.2m-90.5 .1h1.2m-.7 0h1.2m6 0h1.2m1.1 0h1.2m.3 0h1.2m3 0h1.2m6.7 0h1.2m13.5 0h1.2m-44.3 .1h1.2m14.1 0h1.2m40.4 0h1.2m-50.4 .1h1.2m6.1 0h1.2m-.2 0h1.2m-.7 0h1.2m3 0h1.2m-.9 0h1.2m-.7 0h1.2m-.2 0h1.2m3.5 0h1.2m2.5 0h1.2m2.6 0h1.2m3.9 0h1.2m-21.7 .1h1.2m-21.1 .1h1.2m-1.1 0h1.2m2.1 0h1.2m0 0h1.2m-1 0h1.2m11.9 0h1.2m-.6 0h1.2m-1 0h1.2m.4 0h1.2m2.2 0h1.2m-24.4 .1h1.2m-1.2 0h1.2m15 0h1.2m48.5 0h1.2m-66.8 .1h1.2m.8 0h1.2m0 0h1.2m-1 0h1.2m22.8 0h1.2m47 0h1.2m-74.4 .1h1.2m2.5 0h1.2m23.2 0h1.2m3.5 0h1.2m-36.8 .1h1.2m1.5 0h1.2m-.8 0h1.2m-.9 0h1.2m4 0h1.2m-1 0h1.2m15 0h1.2m5.5 0h1.2m1.4 0h1.2m29.1 0h1.2m-65.9 .1h1.2m4 0h1.2m-.7 0h1.2m4.8 0h1.2m4.9 0h1.2m-.8 0h1.2m-1 0h1.2m22.4 0h1.2m38.2 0h1.2m-81.9 .1h1.2m5.6 0h1.2m.9 0h1.2m1.7 0h1.2m.8 0h1.2m-1.1 0h1.2m14.3 0h1.2m8.5 0h1.2m9.8 0h1.2m2.5 0h1.2m-35.1 .1h1.2m16.4 0h1.2m-39.7 .1h1.2m9.7 0h1.2m1.4 0h1.2m3.1 0h1.2m-1.2 0h1.2m2 0h1.2m1.5 0h1.2m3.6 0h1.2m4.9 0h1.2m2.9 0h1.2m-37.9 .1h1.2m-.4 0h1.2m11.5 0h1.2m1.8 0h1.2m8.5 0h1.2m3.3 0h1.2m-28.3 .1h1.2m.8 0h1.2m2.9 0h1.2m1.8 0h1.2m.7 0h1.2m20.2 0h1.2m52.3 0h1.2m-88.9 .1h1.2m-.1 0h1.2m19.2 0h1.2m9.5 0h1.2m4 0h1.2m23.9 0h1.2m-63.1 .1h1.2m5.7 0h1.2m11.2 0h1.2m-1 0h1.2m19.7 0h1.2m-42.6 .1h1.2m15.2 0h1.2m30.4 0h1.2m-36.3 .1h1.2m-12.7 .1h1.2m5.2 0h1.2m5.9 0h1.2m1.9 0h1.2m-6.7 .1h1.2m2.3 0h1.2m4.5 0h1.2m12.4 0h1.2m-35.3 .1h1.2m5.2 0h1.2m14.9 0h1.2m72.2 0h1.2m-97.3 .1h1.2m4.7 0h1.2m7.1 0h1.2m-.3 0h1.2m.4 0h1.2m-.6 0h1.2m19.3 0h1.2m11.6 0h1.2m-51.6 .1h1.2m-1.2 0h1.2m2.2 0h1.2m3.7 0h1.2m5.4 0h1.2m2.3 0h1.2m5 0h1.2m69.5 0h1.2m-100.1 .1h1.2m1.3 0h1.2m11.3 0h1.2m2.8 0h1.2m-.4 0h1.2m0 0h1.2m4 0h1.2m15.9 0h1.2m-41.9 .1h1.2m1.7 0h1.2m.6 0h1.2m9.4 0h1.2m7.5 0h1.2m1.1 0h1.2m13.3 0h1.2m4.9 0h1.2m3.7 0h1.2m51 0h1.2m-107.6 .1h1.2m13.9 0h1.2m15.2 0h1.2m15.9 0h1.2m3.8 0h1.2m-49.1 .1h1.2m13.3 0h1.2m-16.6 .1h1.2m2.4 0h1.2m17.8 0h1.2m7.2 0h1.2m35.5 0h1.2m-38.4 .1h1.2m.8 0h1.2m63.8 0h1.2m-92.5 .1h1.2m20.3 0h1.2m3.1 0h1.2m-35.9 .1h1.2m3 0h1.2m3.2 0h1.2m8.3 0h1.2m4.2 0h1.2m5.6 0h1.2m15.7 0h1.2m39.1 0h1.2m-82.7 .1h1.2m10.6 0h1.2m10.1 0h1.2m-.2 0h1.2m-15.2 .1h1.2m2.5 0h1.2m3.4 0h1.2m40.4 0h1.2m-55.4 .1h1.2m4.7 0h1.2m4.3 0h1.2m.2 0h1.2m1.9 0h1.2m1 0h1.2m0 0h1.2m2.3 0h1.2m-29.8 .1h1.2m8.2 0h1.2m.9 0h1.2m10.3 0h1.2m-.6 0h1.2m3.6 0h1.2m7.6 0h1.2m16.3 0h1.2m7.7 0h1.2m-70.4 .1h1.2m2.6 0h1.2m15.5 0h1.2m10.9 0h1.2m-25 .1h1.2m6.1 0h1.2m-.5 0h1.2m56.3 0h1.2m8 0h1.2m-86.9 .1h1.2m12.5 0h1.2m2.4 0h1.2m2.2 0h1.2m-.1 0h1.2m1 0h1.2m11 0h1.2m23.4 0h1.2m-61.7 .1h1.2m3.1 0h1.2m0 0h1.2m4.1 0h1.2m4.5 0h1.2m11.2 0h1.2m-24.8 .1h1.2m5.5 0h1.2m1.6 0h1.2m1 0h1.2m23.6 0h1.2m29.6 0h1.2m-61.6 .1h1.2m12.1 0h1.2m15.8 0h1.2m33.2 0h1.2m-69.6 .1h1.2m2.4 0h1.2m3.9 0h1.2m14.5 0h1.2m-28.7 .1h1.2m2.6 0h1.2m12.5 0h1.2m1.3 0h1.2m13 0h1.2m5.5 0h1.2m-29.8 .1h1.2m8.9 0h1.2m0 0h1.2m-30.6 .1h1.2m10.3 0h1.2m1.1 0h1.2m.2 0h1.2m6.3 0h1.2m8.7 0h1.2m3.4 0h1.2m8.6 0h1.2m8 0h1.2m13 0h1.2m-64.2 .1h1.2m2.9 0h1.2m4.7 0h1.2m14 0h1.2m-23.9 .1h1.2m.1 0h1.2m-.8 0h1.2m4.1 0h1.2m-.2 0h1.2m3.4 0h1.2m.8 0h1.2m2 0h1.2m7.7 0h1.2m6.7 0h1.2m-39.5 .1h1.2m2.3 0h1.2m13.5 0h1.2m1.5 0h1.2m1.8 0h1.2m32.1 0h1.2m-60.3 .1h1.2m3.4 0h1.2m4.9 0h1.2m-1.1 0h1.2m26.7 0h1.2m3 0h1.2m-48.6 .1h1.2m.6 0h1.2m2.6 0h1.2m21.5 0h1.2m.4 0h1.2m17.9 0h1.2m5.9 0h1.2m2.7 0h1.2m-79.2 .1h1.2m29.2 0h1.2m11.8 0h1.2m1.2 0h1.2m-27.1 .1h1.2m1.4 0h1.2m6.7 0h1.2m4.8 0h1.2m21.4 0h1.2m14.6 0h1.2m-42.5 .1h1.2m3 .1h1.2m3.9 0h1.2m6.3 0h1.2m8.3 0h1.2m21.2 0h1.2m1 0h1.2m-56.9 .1h1.2m.2 0h1.2m9.8 0h1.2m11 0h1.2m5.7 0h1.2m3 0h1.2m12.2 0h1.2m-61.3 .1h1.2m5.9 0h1.2m.2 0h1.2m8.1 0h1.2m5.6 0h1.2m11.8 0h1.2m5.4 0h1.2m-45 .1h1.2m32.8 0h1.2m29.9 0h1.2m-51.2 .1h1.2m3.3 0h1.2m-.5 0h1.2m-.3 0h1.2m.4 0h1.2m1.9 0h1.2m4.4 0h1.2m4.6 0h1.2m21 0h1.2m14.3 0h1.2m-76.1 .1h1.2m1.1 0h1.2m13.1 0h1.2m-1 0h1.2m2.8 0h1.2m1.7 0h1.2m-1.1 0h1.2m.9 0h1.2m4 0h1.2m29.1 0h1.2m-58.5 .1h1.2m.7 0h1.2m.5 0h1.2m4.4 0h1.2m8.7 0h1.2m3.8 0h1.2m-.5 0h1.2m34.4 0h1.2m-60.2 .1h1.2m-1.2 0h1.2m-1.1 0h1.2m3.9 0h1.2m7.9 0h1.2m1.9 0h1.2m4.9 0h1.2m.5 0h1.2m.6 0h1.2m3.6 0h1.2m42.4 0h1.2m14 0h1.2m-97.8 .1h1.2m1.4 0h1.2m42.1 0h1.2m27.4 0h1.2m-66.3 .1h1.2m13.3 0h1.2m8.8 0h1.2m1.7 0h1.2m4.5 0h1.2m20.4 0h1.2m-62.9 .1h1.2m8.3 0h1.2m6.2 0h1.2m1.8 0h1.2m23.4 0h1.2m2.5 0h1.2m-47.8 .1h1.2m4.7 0h1.2m9.2 0h1.2m2.1 0h1.2m-.2 0h1.2m7.5 0h1.2m17.9 0h1.2m12.4 0h1.2m-65 .1h1.2m2.2 0h1.2m2 0h1.2m2.3 0h1.2m1.5 .1h1.2m8.4 0h1.2m.7 0h1.2m5 0h1.2m6.1 0h1.2m6.2 0h1.2m42.6 0h1.2m-88.4 .1h1.2m2.8 0h1.2m1.3 0h1.2m2.5 0h1.2m8.7 0h1.2m3.4 0h1.2m10.8 0h1.2m-.7 0h1.2m.2 0h1.2m.8 0h1.2m42.5 0h1.2m-81.9 .1h1.2m8.1 0h1.2m9.6 0h1.2m54.5 0h1.2m-82.1 .1h1.2m3.7 0h1.2m22.6 0h1.2m5.1 0h1.2m-36.6 .1h1.2m.7 0h1.2m-.9 0h1.2m7 0h1.2m.2 0h1.2m2 0h1.2m15.7 0h1.2m22 0h1.2m40.3 0h1.2m-80.4 .1h1.2m6.5 0h1.2m3.8 0h1.2m11.4 0h1.2m-25.4 .1h1.2m5.9 0h1.2m8.4 0h1.2m6.1 0h1.2m1.7 0h1.2m3.1 0h1.2m25.8 0h1.2m7.7 0h1.2m-76.7 .1h1.2m.6 0h1.2m0 0h1.2m60.4 0h1.2m3.4 0h1.2m-79.9 .1h1.2m6.2 0h1.2m2.8 0h1.2m-.6 0h1.2m16.7 0h1.2m2.2 0h1.2m-.1 0h1.2m18.9 0h1.2m6.6 0h1.2m-63.4 .1h1.2m3 0h1.2m1 0h1.2m12.9 0h1.2m12 0h1.2m-.2 0h1.2m-33.7 .1h1.2m13.6 0h1.2m12.4 0h1.2m.6 0h1.2m3.6 0h1.2m15.6 0h1.2m9.4 0h1.2m-58.4 .1h1.2m16.2 0h1.2m-.3 0h1.2m7.9 0h1.2m35.6 0h1.2m-66.8 .1h1.2m.1 0h1.2m-.3 0h1.2m11.2 0h1.2m28 0h1.2m8.8 0h1.2m-53.7 .1h1.2m2.7 0h1.2m-.7 0h1.2m1.8 0h1.2m1.9 0h1.2m2.1 0h1.2m19.1 0h1.2m-34.5 .1h1.2m53.1 0h1.2m-63.9 .1h1.2m-.9 0h1.2m6.5 0h1.2m5.6 0h1.2m4.9 0h1.2m-.8 0h1.2m4.1 0h1.2m29.8 0h1.2m-51.8 .1h1.2m-.5 0h1.2m2 0h1.2m-.6 0h1.2m2.5 0h1.2m7.9 0h1.2m23 0h1.2m-47.8 .1h1.2m3.1 0h1.2m4.4 0h1.2m5.2 0h1.2m4.7 0h1.2m19.4 0h1.2m9.4 0h1.2m-54.5 .1h1.2m6.1 0h1.2m22 0h1.2m14.4 0h1.2m38.7 0h1.2m-87.4 .1h1.2m1.9 0h1.2m-.8 0h1.2m1.4 0h1.2m16.7 0h1.2m15.6 0h1.2m19 0h1.2m33.1 0h1.2m-89.9 .1h1.2m2.6 0h1.2m2 0h1.2m23.7 0h1.2m-35.9 .1h1.2m11.7 0h1.2m5.2 0h1.2m.1 0h1.2m7.7 0h1.2m-31 .1h1.2m-.8 0h1.2m-.3 0h1.2m3 0h1.2m-.2 0h1.2m-1.1 0h1.2m-8.4 .1h1.2m3.2 0h1.2m.6 0h1.2m12.7 0h1.2m8.1 0h1.2m52.9 0h1.2m-86.6 .1h1.2m5.7 0h1.2m-.6 0h1.2m11 0h1.2m.7 0h1.2m2.6 0h1.2m52.2 0h1.2m-77.7 .1h1.2m6.1 0h1.2m1 0h1.2m-1.2 0h1.2m-1 0h1.2m2.3 0h1.2m16.1 0h1.2m3.6 0h1.2m22.9 0h1.2m-63.6 .1h1.2m3.3 0h1.2m-.9 0h1.2m.4 0h1.2m25 0h1.2m3 0h1.2m2.8 0h1.2m6.5 0h1.2m48 0h1.2m-94.8 .1h1.2m5.3 0h1.2m1.6 0h1.2m4 0h1.2m2.6 0h1.2m-1 0h1.2m-.2 0h1.2m20.6 0h1.2m22 0h1.2m18.1 0h1.2m8.8 0h1.2m-93.9 .1h1.2m3.2 0h1.2m4.5 0h1.2m28.6 0h1.2m-41.2 .1h1.2m25 0h1.2m35.7 0h1.2m16 0h1.2m-85.9 .1h1.2m4.8 0h1.2m.4 0h1.2m12.4 0h1.2m-.9 0h1.2m3.6 0h1.2m7.8 0h1.2m-14.5 .1h1.2m3.6 0h1.2m3.9 0h1.2m1.5 0h1.2m-16.7 .1h1.2m4.3 0h1.2m19 0h1.2m14.4 0h1.2m-48.1 .1h1.2m.1 0h1.2m1.9 0h1.2m4.5 0h1.2m6.6 0h1.2m8 0h1.2m29.9 0h1.2m-68.6 .1h1.2m7.7 0h1.2m7.8 0h1.2m-7.5 .1h1.2m2.4 0h1.2m11.1 0h1.2m9.7 0h1.2m3.4 0h1.2m-45.3 .1h1.2m21.9 0h1.2m10.3 0h1.2m26.8 0h1.2m10.3 0h1.2m-69 .1h1.2m2.9 0h1.2m3.3 0h1.2m10.5 0h1.2m1.3 0h1.2m-23.8 .1h1.2m1.3 0h1.2m.4 0h1.2m3.4 0h1.2m1.1 0h1.2m50.4 0h1.2m-49.2 .1h1.2m2.4 0h1.2m3.4 0h1.2m1.9 0h1.2m3 0h1.2m-.3 0h1.2m21.8 0h1.2m-55.7 .1h1.2m-.9 0h1.2m1 0h1.2m6.9 0h1.2m2.2 0h1.2m17.9 0h1.2m5.5 0h1.2m.9 0h1.2m10.5 0h1.2m-55.2 .1h1.2m-.5 0h1.2m1.1 0h1.2m6.6 0h1.2m5.1 0h1.2m-1 0h1.2m5 0h1.2m3.7 0h1.2m-27.9 .1h1.2m1.9 0h1.2m8.7 0h1.2m-.7 0h1.2m15.1 0h1.2m15.7 0h1.2m-58.1 .1h1.2m15.6 0h1.2m-.3 0h1.2m12.6 0h1.2m5.9 0h1.2m17.9 0h1.2m11.3 0h1.2m3.2 0h1.2m8.8 0h1.2m-73 .1h1.2m7.3 0h1.2m12.4 0h1.2m18.4 0h1.2m.9 0h1.2m-53.7 .1h1.2m39.2 0h1.2m10.8 0h1.2m7.8 0h1.2m-41.9 .1h1.2m6.3 0h1.2m1.3 0h1.2m9.4 0h1.2m42.8 0h1.2m-90.4 .1h1.2m64.1 0h1.2m-54.1 .1h1.2m3.2 0h1.2m8.8 0h1.2m1.7 0h1.2m-23.6 .1h1.2m.1 0h1.2m23.5 0h1.2m46.5 0h1.2m-68.3 .1h1.2m3.8 0h1.2m.5 0h1.2m58 0h1.2m-81.6 .1h1.2m2.7 0h1.2m8.7 0h1.2m-.2 0h1.2m11.6 0h1.2m-.4 0h1.2m-.6 0h1.2m44.4 0h1.2m-67.6 .1h1.2m3.8 0h1.2m-.8 0h1.2m6.5 0h1.2m3.5 0h1.2m5.2 0h1.2m12.1 0h1.2m-43.2 .1h1.2m8.5 0h1.2m5.1 0h1.2m1.4 0h1.2m2.2 0h1.2m5.1 0h1.2m.4 0h1.2m29.1 0h1.2m-60.8 .1h1.2m.4 0h1.2m5.1 0h1.2m9.6 0h1.2m-.1 0h1.2m8.8 0h1.2m.4 0h1.2m19 0h1.2m-57.3 .1h1.2m9.1 0h1.2m3 0h1.2m7 0h1.2m27.3 0h1.2m-36 .1h1.2m11 0h1.2m-.7 0h1.2m.9 0h1.2m3.1 0h1.2m-24.5 .1h1.2m.1 0h1.2m3.6 0h1.2m2.1 0h1.2m-.7 0h1.2m-.5 0h1.2m3.1 0h1.2m23.7 0h1.2m37.4 0h1.2m-87.5 .1h1.2m-.6 0h1.2m10.7 0h1.2m-.6 0h1.2m6.3 0h1.2m10.3 0h1.2m.1 0h1.2m1.4 0h1.2m14.8 0h1.2m11.3 0h1.2m.6 0h1.2m21.8 0h1.2m-90.8 .1h1.2m9.1 0h1.2m6.8 0h1.2m9.2 0h1.2m-1.2 0h1.2m13.2 0h1.2m-44 .1h1.2m-.8 0h1.2m4.3 0h1.2m-1.1 0h1.2m11.2 0h1.2m11.8 0h1.2m20.2 0h1.2m-53.8 .1h1.2m4.1 0h1.2m-.5 0h1.2m5.2 0h1.2m2.5 0h1.2m1.4 0h1.2m3.7 0h1.2m2.7 0h1.2m7.7 0h1.2m17.5 0h1.2m-50 .1h1.2m1 0h1.2m.6 0h1.2m-.5 0h1.2m1.4 0h1.2m4.1 0h1.2m.3 0h1.2m11.3 0h1.2m3.1 0h1.2m3.9 0h1.2m9 0h1.2m23.3 0h1.2m-82.7 .1h1.2m7.1 0h1.2m1.2 0h1.2m2.4 0h1.2m6.4 0h1.2m.6 0h1.2m2 0h1.2m1.8 0h1.2m.3 0h1.2m31.4 0h1.2m3.4 0h1.2m15.6 0h1.2m-76.2 .1h1.2m-.8 0h1.2m3.3 0h1.2m10.3 0h1.2m23.7 0h1.2m-52.7 .1h1.2m13.4 0h1.2m35.5 0h1.2m-44.1 .1h1.2m2.7 0h1.2m16.5 0h1.2m-1.1 0h1.2m30.2 0h1.2m-62.6 .1h1.2m13.4 0h1.2m-1.1 0h1.2m-.8 0h1.2m37.3 0h1.2m14.3 0h1.2m-60.5 .1h1.2m3.1 0h1.2m27.2 0h1.2m-39.9 .1h1.2m7 0h1.2m-.5 0h1.2m9.1 0h1.2m-.2 0h1.2m10.9 0h1.2m10.8 0h1.2m-39.6 .1h1.2m2.4 0h1.2m12.8 0h1.2m41 0h1.2m.7 0h1.2m-64.1 .1h1.2m-.7 0h1.2m-1.1 0h1.2m-.1 0h1.2m2.9 0h1.2m11 0h1.2m.7 0h1.2m-1.1 0h1.2m-25.3 .1h1.2m3.1 0h1.2m-.9 0h1.2m.2 0h1.2m3.5 0h1.2m6.9 0h1.2m7.5 0h1.2m-.5 0h1.2m13 0h1.2m31.6 0h1.2m9.8 0h1.2m-79.4 .1h1.2m-.8 0h1.2m.4 0h1.2m-.7 0h1.2m-.4 0h1.2m8.2 0h1.2m13.1 0h1.2m-31.5 .1h1.2m3.7 0h1.2m18.7 0h1.2m43 0h1.2m-66.2 .1h1.2m4.3 0h1.2m2 0h1.2m9.5 0h1.2m-.1 0h1.2m25.7 0h1.2m-35.4 .1h1.2m18.4 0h1.2m6.6 0h1.2m-78 .1h1.2m29.7 0h1.2m3.3 0h1.2m1.1 0h1.2m4.9 0h1.2m.5 0h1.2m4.3 0h1.2m26.2 0h1.2m-46.6 .1h1.2m6.6 0h1.2m3.8 0h1.2m.6 0h1.2m2.1 0h1.2m13.1 0h1.2m3.9 0h1.2m-.9 0h1.2m-45.1 .1h1.2m7 0h1.2m2.1 0h1.2m1.9 0h1.2m-1 0h1.2m9.7 0h1.2m2.2 0h1.2m.1 0h1.2m4.1 0h1.2m1.8 0h1.2m3.8 0h1.2m8.5 0h1.2m14.9 0h1.2m10.4 0h1.2m-81.6 .1h1.2m2.2 0h1.2m1.2 0h1.2m18.8 0h1.2m6.1 0h1.2m7.5 0h1.2m23.5 0h1.2m-56.5 .1h1.2m3.6 0h1.2m15.9 0h1.2m1.2 0h1.2m30.2 0h1.2m15.5 0h1.2m-80.6 .1h1.2m5.1 0h1.2m7.7 0h1.2m.6 0h1.2m1.5 0h1.2m26.1 0h1.2m-47 .1h1.2m-.9 0h1.2m7 0h1.2m14.9 0h1.2m14.2 0h1.2m-39.2 .1h1.2m-1.1 0h1.2m.7 0h1.2m-1.2 0h1.2m-.7 0h1.2m2.6 0h1.2m4.6 0h1.2m6.4 0h1.2m1.1 0h1.2m4.7 0h1.2m-32.6 .1h1.2m6.2 0h1.2m2.3 0h1.2m2 0h1.2m2.2 0h1.2m7.1 0h1.2m24.6 0h1.2m-50.6 .1h1.2m14.6 0h1.2m12.2 0h1.2m5.6 0h1.2m7.8 0h1.2m-32.9 .1h1.2m15.2 0h1.2m12.5 0h1.2m8.6 0h1.2m16.1 0h1.2m-54.4 .1h1.2m11.2 0h1.2m43.9 0h1.2m-71.3 .1h1.2m4.2 0h1.2m-.5 0h1.2m-1 0h1.2m3.3 0h1.2m1.2 0h1.2m2.7 0h1.2m.9 0h1.2m21.9 0h1.2m-33.5 .1h1.2m-.8 0h1.2m3.7 0h1.2m4.8 0h1.2m-.9 0h1.2m3.1 0h1.2m6.4 0h1.2m-32.6 .1h1.2m4 0h1.2m22.9 0h1.2m4.2 0h1.2m3.9 0h1.2m10.8 0h1.2m.2 0h1.2m8.4 0h1.2m-64.7 .2h1.2m-.6 0h1.2m2.7 0h1.2m-.4 0h1.2m13.7 0h1.2m5.8 0h1.2m2.5 0h1.2m-24.2 .1h1.2m1.3 0h1.2m11.7 0h1.2m4.3 0h1.2m.8 0h1.2m5.4 0h1.2m9.2 0h1.2m-52.3 .1h1.2m.1 0h1.2m4.6 0h1.2m-.6 0h1.2m-.4 0h1.2m1 0h1.2m-.2 0h1.2m1.1 0h1.2m3.4 0h1.2m3.4 0h1.2m14.3 0h1.2m-.6 0h1.2m6.9 0h1.2m-48.6 .1h1.2m1.9 0h1.2m-.1 0h1.2m3 0h1.2m-.8 0h1.2m-.5 0h1.2m12.8 0h1.2m10.6 0h1.2m7.9 0h1.2m16.1 0h1.2m11.1 0h1.2m-74.1 .1h1.2m1.6 0h1.2m4.5 0h1.2m.3 0h1.2m4.5 0h1.2m33.6 0h1.2m28.3 0h1.2m-79.2 .1h1.2m5.9 0h1.2m-.4 0h1.2m2.1 0h1.2m3.5 0h1.2m1.9 0h1.2m-14.7 .1h1.2m3.3 0h1.2m4.8 0h1.2m1.7 0h1.2m1.6 0h1.2m54.8 0h1.2m-64.9 .1h1.2m14.7 0h1.2m.4 0h1.2m11.7 0h1.2m10.1 0h1.2m-56.2 .1h1.2m1.2 0h1.2m-.5 0h1.2m-1.2 0h1.2m-.1 0h1.2m1.4 0h1.2m20.3 0h1.2m11.7 0h1.2m.5 0h1.2m-37.2 .1h1.2m19.4 0h1.2m7 0h1.2m4.8 0h1.2m-40.4 .1h1.2m24.6 0h1.2m2.7 0h1.2m32.8 0h1.2m-68.4 .1h1.2m9 0h1.2m.6 0h1.2m39.9 0h1.2m-44.2 .1h1.2m5 0h1.2m23.2 0h1.2m-39.1 .1h1.2m.1 0h1.2m14.7 0h1.2m13.8 0h1.2m1.7 0h1.2m47 0h1.2m-85.1 .1h1.2m7.9 0h1.2m-1 0h1.2m10.6 0h1.2m16.4 0h1.2m1.6 0h1.2m16.8 0h1.2m-59.1 .1h1.2m-.3 0h1.2m2.3 0h1.2m11.6 0h1.2m1.7 0h1.2m-1.1 0h1.2m3.2 0h1.2m29.1 0h1.2m-63.1 .1h1.2m-.7 0h1.2m7.1 0h1.2m2.1 0h1.2m4.6 0h1.2m19.5 0h1.2m6.5 0h1.2m11.5 0h1.2m4.9 0h1.2m-66.4 .1h1.2m22.6 0h1.2m30.9 0h1.2m12.4 0h1.2m-70.2 .1h1.2m4.1 0h1.2m0 0h1.2m9.6 0h1.2m5.8 0h1.2m19.1 0h1.2m26.3 0h1.2m1.3 0h1.2m-58.5 .1h1.2m15.5 0h1.2m-28.5 .1h1.2m8.1 0h1.2m.4 0h1.2m1.8 0h1.2m36.7 0h1.2m.9 0h1.2m-62.1 .1h1.2m6.6 0h1.2m-1 0h1.2m6.7 0h1.2m.2 0h1.2m23.1 0h1.2m-28.4 .1h1.2m8.8 0h1.2m5.4 0h1.2m55 0h1.2m-60.3 .1h1.2m2.5 0h1.2m3.9 0h1.2m5.4 0h1.2m10.3 0h1.2m.2 0h1.2m-52.1 .1h1.2m-.1 0h1.2m7.6 0h1.2m-12.2 .1h1.2m-1.1 0h1.2m3 0h1.2m3.8 0h1.2m6.9 0h1.2m7.7 0h1.2m18.5 0h1.2m-46.3 .1h1.2m10.8 0h1.2m14.7 0h1.2m-1.1 0h1.2m9.5 0h1.2m2.4 0h1.2m-43.4 .1h1.2m8.7 0h1.2m-10.6 .1h1.2m3.4 0h1.2m1.4 0h1.2m2.7 0h1.2m17.4 0h1.2m-.1 0h1.2m.2 0h1.2m-.9 0h1.2m5.3 0h1.2m-20.6 .1h1.2m6.9 0h1.2m-.3 0h1.2m16.8 0h1.2m3.5 0h1.2m-55.5 .1h1.2m.9 0h1.2m15.9 0h1.2m20.9 0h1.2m17.7 0h1.2m-59.9 .1h1.2m0 0h1.2m3.9 0h1.2m3.9 0h1.2m2.3 0h1.2m-1.1 0h1.2m3.2 0h1.2m7 0h1.2m3.6 0h1.2m3.1 0h1.2m29.8 0h1.2m-70.6 .1h1.2m40.7 0h1.2m4.1 0h1.2m10 0h1.2m4.2 0h1.2m13.6 0h1.2m-79.5 .1h1.2m-.5 0h1.2m12.2 0h1.2m17.6 0h1.2m2.5 0h1.2m6.6 0h1.2m-38.9 .1h1.2m.7 0h1.2m7.5 0h1.2m2.7 0h1.2m2.7 0h1.2m26.4 0h1.2m5 0h1.2m-33.5 .1h1.2m9.1 0h1.2m14 0h1.2m-48.6 .1h1.2m10.1 0h1.2m-.6 0h1.2m62.3 0h1.2m-63.3 .1h1.2m1.6 0h1.2m9.8 0h1.2m28.7 0h1.2m-102.1 .1h1.2m39.7 0h1.2m.8 0h1.2m-.9 0h1.2m18.8 0h1.2m18.7 0h1.2m2.2 0h1.2m15.6 0h1.2m.8 0h1.2m-66.5 .1h1.2m7.1 0h1.2m8.7 0h1.2m2.2 0h1.2m2.8 0h1.2m-.3 0h1.2m20 0h1.2m-47.3 .1h1.2m-.1 0h1.2m11.8 0h1.2m.3 0h1.2m2.9 0h1.2m4.7 0h1.2m12.5 0h1.2m1.4 0h1.2m-31.6 .1h1.2m2.8 0h1.2m17.2 0h1.2m-.8 0h1.2m14.2 0h1.2m13 0h1.2m.6 0h1.2m1.9 0h1.2m9 0h1.2m-78.3 .1h1.2m4.3 0h1.2m9.9 0h1.2m11.4 0h1.2m13.7 0h1.2m-41.2 .1h1.2m20.4 0h1.2m7 0h1.2m10.6 0h1.2m12 0h1.2m-59.9 .1h1.2m1.8 0h1.2m4.4 0h1.2m3 0h1.2m2.9 0h1.2m1.9 0h1.2m5 0h1.2m3.2 0h1.2m18.6 0h1.2m6 0h1.2m-58.9 .1h1.2m4.7 0h1.2m.5 0h1.2m14.6 0h1.2m2.8 0h1.2m31.2 0h1.2m.3 0h1.2m-52.8 .1h1.2m2.5 0h1.2m5.4 0h1.2m21.7 0h1.2m6.5 0h1.2m12.6 .1h1.2m5.4 0h1.2m-74.4 .1h1.2m-.6 0h1.2m6.7 0h1.2m1.2 0h1.2m4.7 0h1.2m14.6 0h1.2m3.1 0h1.2m-.8 0h1.2m3.6 0h1.2m-42.1 .1h1.2m-.6 0h1.2m-.9 0h1.2m-.7 0h1.2m.8 0h1.2m12.8 0h1.2m2.8 0h1.2m8 0h1.2m4.1 0h1.2m-.2 0h1.2m-34.2 .1h1.2m14.3 0h1.2m-1 0h1.2m14.2 0h1.2m1.4 0h1.2m32.5 0h1.2m-71.4 .1h1.2m-1 0h1.2m14.9 0h1.2m8 0h1.2m12.1 0h1.2m21.7 0h1.2m-55.8 .1h1.2m1.4 0h1.2m-5.1 .1h1.2m1.7 0h1.2m6.8 0h1.2m6 0h1.2m8.4 0h1.2m17.1 0h1.2m16.3 0h1.2m-67.8 .1h1.2m3.7 0h1.2m2.2 0h1.2m3.1 0h1.2m-15.8 .1h1.2m.8 0h1.2m-.5 0h1.2m17.4 0h1.2m2.3 0h1.2m9.8 0h1.2m-27.4 .1h1.2m-.3 0h1.2m3.3 0h1.2m2.5 0h1.2m2.6 0h1.2m5.6 0h1.2m3.9 0h1.2m22.3 0h1.2m-52.8 .1h1.2m7.5 0h1.2m.5 0h1.2m24.5 0h1.2m10.5 0h1.2m-47.7 .1h1.2m10.4 0h1.2m29.1 0h1.2m-20.5 .1h1.2m.4 0h1.2m1.3 0h1.2m2.1 0h1.2m.5 0h1.2m9.9 0h1.2m.1 0h1.2m-37.3 .1h1.2m3.8 0h1.2m2.3 0h1.2m-1.2 0h1.2m10.5 0h1.2m2.7 0h1.2m24 0h1.2m-65.7 .1h1.2m2 0h1.2m-.3 0h1.2m-.7 0h1.2m1.7 0h1.2m7.3 0h1.2m7.6 0h1.2m15.2 0h1.2m1.9 0h1.2m1.3 0h1.2m-43.2 .1h1.2m-.2 0h1.2m13.8 0h1.2m2.5 0h1.2m7 0h1.2m4.5 0h1.2m1.2 0h1.2m2.4 0h1.2m8.4 0h1.2m-52 .1h1.2m.1 0h1.2m16.1 0h1.2m-2 .1h1.2m7.8 0h1.2m6.3 0h1.2m2.5 0h1.2m-36.6 .1h1.2m11.4 0h1.2m2 0h1.2m12.1 0h1.2m-.9 0h1.2m.1 0h1.2m-.3 0h1.2m.4 0h1.2m-42.4 .1h1.2m9.2 0h1.2m.6 0h1.2m6.5 0h1.2m-9.9 .1h1.2m2.1 0h1.2m1.8 0h1.2m2 0h1.2m6 0h1.2m5.3 0h1.2m10.2 0h1.2m-.4 0h1.2m6.1 0h1.2m3.2 0h1.2m-50.3 .1h1.2m.4 0h1.2m2.3 0h1.2m-.4 0h1.2m12.8 0h1.2m6 0h1.2m11.9 0h1.2m5.1 0h1.2m10.2 0h1.2m-57.8 .1h1.2m16 0h1.2m15.6 0h1.2m-46.3 .1h1.2m5.5 0h1.2m2.4 0h1.2m.9 0h1.2m-.9 0h1.2m4.2 0h1.2m0 0h1.2m5.5 0h1.2m9.3 0h1.2m1.5 0h1.2m.7 0h1.2m4.5 0h1.2m14.8 0h1.2m-60 .1h1.2m4.4 0h1.2m.5 0h1.2m24.4 0h1.2m-29.3 .1h1.2m2.1 0h1.2m13.3 0h1.2m-.6 0h1.2m7.2 0h1.2m8.1 0h1.2m10.1 0h1.2m3.6 0h1.2m1 0h1.2m1.6 0h1.2m-58.3 .1h1.2m7.2 0h1.2m.3 0h1.2m5.1 0h1.2m3.9 0h1.2m31.2 0h1.2m-56.7 .1h1.2m-.1 0h1.2m.8 0h1.2m13.6 0h1.2m1.3 0h1.2m15.4 0h1.2m6.6 0h1.2m-45.3 .1h1.2m.1 0h1.2m-2.4 .1h1.2m44.1 0h1.2m-.8 0h1.2m20 0h1.2m.6 0h1.2m-63.8 .1h1.2m.9 0h1.2m19.6 0h1.2m1.3 0h1.2m13.8 0h1.2m7.5 0h1.2m-59.2 .1h1.2m5 0h1.2m26.2 0h1.2m-23.4 .1h1.2m3 0h1.2m-1.1 0h1.2m10.2 0h1.2m2.1 0h1.2m31.5 0h1.2m-63 .1h1.2m.3 0h1.2m-.8 0h1.2m19.8 0h1.2m1.3 0h1.2m5.7 0h1.2m5 0h1.2m14 0h1.2m-31.2 .1h1.2m-1 0h1.2m-.1 0h1.2m3 0h1.2m-17.8 .1h1.2m-.3 0h1.2m17.5 0h1.2m-34.7 .1h1.2m-.8 0h1.2m9.6 0h1.2m13.2 0h1.2m1.8 0h1.2m.3 0h1.2m1.7 0h1.2m21.5 0h1.2m-52.5 .1h1.2m34.4 0h1.2m-41.3 .1h1.2m-.6 0h1.2m1.3 0h1.2m9.7 0h1.2m5.6 0h1.2m-21 .1h1.2m8.4 0h1.2m21.8 0h1.2m-1.1 0h1.2m32.7 0h1.2m-43.4 .1h1.2m-.1 0h1.2m-.1 0h1.2m4.2 0h1.2m3.4 0h1.2m2.7 0h1.2m-39.4 .1h1.2m6.1 0h1.2m.9 0h1.2m6.2 0h1.2m10.5 0h1.2m1.2 0h1.2m2.8 0h1.2m4.3 0h1.2m5.8 0h1.2m12.8 0h1.2m7.8 0h1.2m-69.6 .1h1.2m12.4 0h1.2m19.4 0h1.2m-23.1 .1h1.2m23.9 0h1.2m-43.3 .1h1.2m4 0h1.2m5.4 0h1.2m2.1 0h1.2m3.4 0h1.2m12.3 0h1.2m-31.9 .1h1.2m18.3 0h1.2m9.8 0h1.2m1.9 0h1.2m7.3 0h1.2m2 0h1.2m20.9 0h1.2m-71.6 .1h1.2m-.2 0h1.2m-1.2 0h1.2m4.8 0h1.2m1.9 0h1.2m3 0h1.2m12.5 0h1.2m17.7 0h1.2m7.4 0h1.2m.9 0h1.2m7.8 0h1.2m-67.3 .1h1.2m3 0h1.2m12.7 0h1.2m.7 0h1.2m3.9 0h1.2m15.8 0h1.2m-29.1 .1h1.2m28.1 0h1.2m6.2 0h1.2m8.9 0h1.2m1.7 0h1.2m8.6 0h1.2m-.8 0h1.2m-54 .1h1.2m-1 0h1.2m8.1 0h1.2m21.5 0h1.2m-.1 0h1.2m-47.1 .1h1.2m11.5 0h1.2m.6 0h1.2m0 0h1.2m10 0h1.2m.5 0h1.2m6.8 0h1.2m1.4 0h1.2m13.3 0h1.2m-53.5 .1h1.2m6.3 0h1.2m1.2 0h1.2m.5 0h1.2m1.5 0h1.2m49.8 0h1.2m-56.3 .1h1.2m44.7 0h1.2m-48.6 .1h1.2m.5 0h1.2m5.7 0h1.2m3.8 0h1.2m.9 0h1.2m-.7 0h1.2m5 0h1.2m16 0h1.2m3 0h1.2m0 0h1.2m3.2 0h1.2m3.2 0h1.2m-70.6 .1h1.2m11.1 0h1.2m-.7 0h1.2m.8 0h1.2m3.1 0h1.2m13 0h1.2m-19.3 .1h1.2m4.3 0h1.2m26.2 0h1.2m11.2 0h1.2m-54.5 .1h1.2m3.2 0h1.2m22.4 0h1.2m3.6 0h1.2m1.8 0h1.2m.6 0h1.2m3 0h1.2m-.2 0h1.2m-38.2 .1h1.2m-.6 0h1.2m-.4 0h1.2m7.2 0h1.2m9.2 0h1.2m32 0h1.2m-68.2 .1h1.2m5 0h1.2m1.9 0h1.2m17.2 0h1.2m23 0h1.2m1.8 0h1.2m13.3 0h1.2m-66 .1h1.2m7 0h1.2m-.7 0h1.2m10.1 0h1.2m.9 0h1.2m24 0h1.2m-53.3 .1h1.2m4.9 0h1.2m4 0h1.2m.5 0h1.2m4.8 0h1.2m4.9 0h1.2m11 0h1.2m28.4 0h1.2m-65.8 .1h1.2m21.2 0h1.2m.2 0h1.2m7.8 0h1.2m-1 0h1.2m4.4 0h1.2m6.9 0h1.2m6.1 0h1.2m-1.1 0h1.2m-.4 0h1.2m9.2 0h1.2m-62.4 .1h1.2m5.8 0h1.2m4.5 0h1.2m33.8 0h1.2m8.4 0h1.2m-55.4 .1h1.2m2 0h1.2m3.5 0h1.2m1.6 0h1.2m2.8 0h1.2m16.8 0h1.2m17.7 0h1.2m-.5 0h1.2m-50.3 .1h1.2m7.6 0h1.2m2 0h1.2m4.7 0h1.2m6.1 0h1.2m-32.2 .1h1.2m8.9 0h1.2m.1 0h1.2m-.9 0h1.2m2.7 0h1.2m3.4 0h1.2m22.4 0h1.2m-43.7 .1h1.2m.1 0h1.2m5.5 0h1.2m.2 0h1.2m15.6 0h1.2m15.3 0h1.2m19.3 0h1.2m-64.3 .1h1.2m10.3 0h1.2m11.7 0h1.2m-1 0h1.2m16 0h1.2m19.5 0h1.2m-69.5 .1h1.2m11.6 0h1.2m8.1 0h1.2m8.6 0h1.2m12.7 0h1.2m2.4 0h1.2m8.6 0h1.2m-50.1 .1h1.2m3.2 0h1.2m.6 0h1.2m-1.1 0h1.2m4.1 0h1.2m.2 0h1.2m-.5 0h1.2m13.7 0h1.2m2.7 0h1.2m24.8 0h1.2m-65.3 .1h1.2m3.3 0h1.2m11.1 0h1.2m23.8 0h1.2m9 0h1.2m-58.5 .1h1.2m13.2 0h1.2m5.6 0h1.2m17.3 0h1.2m5.3 0h1.2m1.9 0h1.2m.1 0h1.2m10.7 0h1.2m-59.3 .1h1.2m.7 0h1.2m6.2 0h1.2m24.4 0h1.2m10.9 0h1.2m-24.5 .1h1.2m.7 0h1.2m3.9 0h1.2m19.4 0h1.2m-.4 0h1.2m8.5 0h1.2m-68.7 .1h1.2m6.8 0h1.2m3 0h1.2m.9 0h1.2m1.9 0h1.2m-.2 0h1.2m-.7 0h1.2m17.8 0h1.2m2.4 0h1.2m8 0h1.2m-50.3 .1h1.2m9.6 0h1.2m9.4 0h1.2m2.7 0h1.2m-11.5 .1h1.2m-.7 0h1.2m.3 0h1.2m2.6 0h1.2m.3 0h1.2m-1.1 0h1.2m1.8 0h1.2m8.2 0h1.2m18.6 0h1.2m-41.9 .1h1.2m2.6 0h1.2m1.3 0h1.2m-.8 0h1.2m29 0h1.2m3.5 0h1.2m2.4 0h1.2m5.8 0h1.2m-58.1 .1h1.2m6.9 0h1.2m19 0h1.2m3 0h1.2m-.1 0h1.2m5.9 0h1.2m.2 0h1.2m13.7 0h1.2m-64.8 .1h1.2m5.1 0h1.2m-.6 0h1.2m3.5 0h1.2m.9 0h1.2m31.4 0h1.2m-.9 0h1.2m13.6 0h1.2m-60.6 .1h1.2m3 0h1.2m1.9 0h1.2m7 0h1.2m1 0h1.2m17.1 0h1.2m9.8 0h1.2m-38.7 .1h1.2m2.4 0h1.2m-.1 0h1.2m6.2 0h1.2m14.4 0h1.2m11.1 0h1.2m2.8 0h1.2m6.3 0h1.2m-.7 0h1.2m-56.6 .1h1.2m8.4 0h1.2m12.7 0h1.2m20.1 0h1.2m-54.5 .1h1.2m29.2 0h1.2m5.5 0h1.2m4.5 0h1.2m.7 0h1.2m22.1 0h1.2m-56.5 .1h1.2m8.8 0h1.2m4.7 0h1.2m.2 0h1.2m18.6 0h1.2m-41 .1h1.2m1.7 0h1.2m8.3 0h1.2m15.7 0h1.2m.3 0h1.2m1.9 0h1.2m9.3 0h1.2m3 0h1.2m-52.8 .1h1.2m12 0h1.2m6.8 0h1.2m27.2 0h1.2m-49.6 .1h1.2m5.3 0h1.2m25.4 0h1.2m-.9 0h1.2m-31.6 .1h1.2m-.4 0h1.2m8.2 0h1.2m6.8 0h1.2m7.7 0h1.2m13.3 0h1.2m-51.9 .1h1.2m15 0h1.2m1.5 0h1.2m11.8 0h1.2m26.3 0h1.2m.7 0h1.2m7.7 0h1.2m-44.2 .1h1.2m-1.1 0h1.2m3.6 0h1.2m5.4 0h1.2m-1 0h1.2m8.3 0h1.2m.5 0h1.2m4.4 0h1.2m7.7 0h1.2m-59.5 .1h1.2m1.7 0h1.2m-.7 0h1.2m-1.1 0h1.2m-1.1 0h1.2m5.4 0h1.2m-.6 0h1.2m8.9 0h1.2m-.5 0h1.2m.8 0h1.2m.7 0h1.2m10.4 0h1.2m13.2 0h1.2m8.4 0h1.2m-42.6 .1h1.2m7.8 0h1.2m5.2 0h1.2m14.5 0h1.2m-58 .1h1.2m14.4 0h1.2m9 0h1.2m-.3 0h1.2m2.8 0h1.2m16.2 0h1.2m11.2 0h1.2m3.9 0h1.2m-67.5 .1h1.2m6.8 0h1.2m.4 0h1.2m5.4 0h1.2m-.2 0h1.2m4.3 0h1.2m6.5 0h1.2m14.4 0h1.2m-.4 0h1.2m3.1 0h1.2m4.2 0h1.2m3.1 0h1.2m3.6 0h1.2m-61.9 .1h1.2m2.2 0h1.2m4.8 0h1.2m10.2 0h1.2m11.7 0h1.2m12.5 0h1.2m3.4 0h1.2m-53.1 .1h1.2m-.3 0h1.2m11.9 0h1.2m20.6 0h1.2m-35.8 .1h1.2m1.4 0h1.2m.3 0h1.2m12.7 0h1.2m1.5 0h1.2m22.5 0h1.2m9.9 0h1.2m.9 0h1.2m-.7 0h1.2m-54 .1h1.2m13.3 0h1.2m2.9 0h1.2m-.5 0h1.2m-1 0h1.2m34 0h1.2m-46.9 .1h1.2m.8 0h1.2m3.4 0h1.2m21.1 0h1.2m6.4 0h1.2m3.6 0h1.2m1.7 0h1.2m-57.4 .1h1.2m36.7 0h1.2m7.8 0h1.2m-37.3 .1h1.2m14.9 0h1.2m6.4 0h1.2m-.9 0h1.2m6.1 0h1.2m-.2 0h1.2m.9 0h1.2m6.6 0h1.2m-47.7 .1h1.2m2.8 0h1.2m2.5 0h1.2m21.3 0h1.2m9.3 0h1.2m-47.7 .1h1.2m8.6 0h1.2m19.2 0h1.2m20.2 0h1.2m-50 .1h1.2m2.9 0h1.2m17.7 0h1.2m11.1 0h1.2m13.7 0h1.2m-44.5 .1h1.2m2.7 0h1.2m15 0h1.2m12.2 0h1.2m4.8 0h1.2m1.8 0h1.2m-51.3 .1h1.2m.1 0h1.2m.4 0h1.2m7.2 0h1.2m4.8 0h1.2m6.2 0h1.2m5.8 0h1.2m9 0h1.2m3.3 0h1.2m-50.1 .1h1.2m-.8 0h1.2m.5 0h1.2m9.2 0h1.2m-.4 0h1.2m9.1 0h1.2m.3 0h1.2m1.7 0h1.2m2.2 0h1.2m5.4 0h1.2m7.4 0h1.2m-46.9 .1h1.2m8.2 0h1.2m1.3 0h1.2m18.2 0h1.2m7 0h1.2m2.3 0h1.2m11.6 0h1.2m-56.1 .1h1.2m3.9 0h1.2m7 0h1.2m1.3 0h1.2m3.1 0h1.2m30.2 0h1.2m2.3 0h1.2m-52.6 .1h1.2m11 0h1.2m1.9 0h1.2m1.4 0h1.2m13.8 0h1.2m6.3 0h1.2m-45.4 .1h1.2m7.5 0h1.2m-1.1 0h1.2m3.6 0h1.2m.1 0h1.2m.9 0h1.2m1.1 0h1.2m-.4 0h1.2m-.9 0h1.2m3.3 0h1.2m-.5 0h1.2m2.5 0h1.2m5.3 0h1.2m-33.5 .1h1.2m-.4 0h1.2m-.7 0h1.2m3.1 0h1.2m-.1 .1h1.2m-.3 0h1.2m2.3 0h1.2m6.4 0h1.2m36 0h1.2m-.8 0h1.2m-60.8 .1h1.2m18 0h1.2m-.1 0h1.2m-.4 0h1.2m.7 0h1.2m.7 0h1.2m-.5 0h1.2m-.1 0h1.2m8.5 0h1.2m-.2 0h1.2m-39.7 .1h1.2m8.8 0h1.2m8.5 0h1.2m1.3 0h1.2m.3 0h1.2m-.8 0h1.2m0 0h1.2m.3 0h1.2m29 0h1.2m-57.2 .1h1.2m23.4 0h1.2m-.7 0h1.2m2.9 0h1.2m12.8 0h1.2m-14.3 .1h1.2m2.8 0h1.2m1.9 0h1.2m-.2 0h1.2m9.6 0h1.2m.9 0h1.2m-53.8 .1h1.2m-1.2 0h1.2m8.7 0h1.2m3.2 0h1.2m1.8 0h1.2m7.3 0h1.2m4.6 0h1.2m-22.5 .1h1.2m1.2 0h1.2m1.2 0h1.2m4.1 0h1.2m-8.3 .1h1.2m2.2 0h1.2m-.4 0h1.2m-1 0h1.2m1.1 0h1.2m14.9 0h1.2m.9 0h1.2m.8 0h1.2m6.3 0h1.2m-38.8 .1h1.2m2.2 0h1.2m12.4 0h1.2m5.8 0h1.2m3.1 0h1.2m1.6 0h1.2m1.8 0h1.2m-37.3 .1h1.2m1.6 0h1.2m1.8 0h1.2m1 0h1.2m31.8 0h1.2m5.1 0h1.2m.2 0h1.2m-45.2 .1h1.2m14.6 0h1.2m9.3 0h1.2m-.7 0h1.2m-34.6 .1h1.2m8.3 0h1.2m-.5 0h1.2m4.3 0h1.2m11.6 0h1.2m1.8 0h1.2m9.8 .1h1.2m9.6 0h1.2m-50.3 .1h1.2m-1.1 0h1.2m2.1 0h1.2m.6 0h1.2m8.4 0h1.2m4.3 0h1.2m8.6 0h1.2m1.1 0h1.2m4.7 0h1.2m1.7 0h1.2m-.5 0h1.2m-1.1 0h1.2m-53.3 .1h1.2m9.5 0h1.2m.4 0h1.2m8.9 0h1.2m11.2 0h1.2m2.1 0h1.2m-15 .1h1.2m6.4 0h1.2m14.4 0h1.2m1.9 0h1.2m-44.2 .1h1.2m10 0h1.2m6.2 0h1.2m24.4 0h1.2m-44.7 .1h1.2m6.5 0h1.2m10.2 0h1.2m22.1 0h1.2m-26.1 .1h1.2m1.6 0h1.2m21.1 0h1.2m5.4 0h1.2m-52.4 .1h1.2m19.8 0h1.2m19.2 0h1.2m-42.8 .1h1.2m17.2 0h1.2m1.3 0h1.2m3.9 0h1.2m.8 0h1.2m10.4 0h1.2m-36 .1h1.2m1.2 0h1.2m9.1 0h1.2m8.2 0h1.2m2.1 0h1.2m4.2 0h1.2m.7 0h1.2m5.4 0h1.2m-38.6 .1h1.2m.4 0h1.2m3.7 0h1.2m3 0h1.2m-1 0h1.2m2.2 0h1.2m4.5 0h1.2m3.6 0h1.2m3.7 0h1.2m-1.1 0h1.2m8.3 0h1.2m-40.7 .1h1.2m8 0h1.2m3.8 0h1.2m15.7 0h1.2m1.5 0h1.2m-.6 0h1.2m-32.2 .1h1.2m8.1 0h1.2m8.3 0h1.2m-6.7 .1h1.2m25.6 0h1.2m-21 .1h1.2m.1 0h1.2m10.2 0h1.2m-24.8 .1h1.2m-20.7 .1h1.2m35.6 0h1.2m5.7 0h1.2m3.7 0h1.2m-50.1 .1h1.2m23.8 0h1.2m12.7 0h1.2m6.6 0h1.2m-.3 0h1.2m-28.7 .1h1.2m16.4 0h1.2m15.9 0h1.2m-26.4 .1h1.2m2.5 0h1.2m.7 0h1.2m6.2 0h1.2m.7 0h1.2m-45.7 .1h1.2m15.3 0h1.2m21.3 0h1.2m-20.2 .1h1.2m5.3 0h1.2m.4 0h1.2m7.5 0h1.2m4.9 0h1.2m-24.7 .1h1.2m-.8 0h1.2m1.2 0h1.2m2.2 0h1.2m14.8 0h1.2m7.8 0h1.2m-50.9 .1h1.2m25.1 0h1.2m1 0h1.2m7.6 0h1.2m-9.5 .1h1.2m2 0h1.2m5.5 0h1.2m-12 .1h1.2m2.4 0h1.2m5.5 0h1.2m-18.5 .1h1.2m19.5 0h1.2m7 0h1.2m-17.7 .1h1.2m5.2 0h1.2m.2 0h1.2m-1.1 0h1.2m3.8 0h1.2m.8 0h1.2m-26.9 .1h1.2m2.3 0h1.2m11.4 0h1.2m-.6 0h1.2m.2 0h1.2m-22.7 .1h1.2m16.6 0h1.2m13.3 0h1.2m-26 .1h1.2m3.8 0h1.2m-33.7 .1h1.2m21.2 0h1.2m1.5 0h1.2m10.2 0h1.2m-5.9 .1h1.2m11.7 0h1.2m-.7 0h1.2m-2.8 .1h1.2m1.7 0h1.2m-6.5 .1h1.2m4.7 0h1.2m.6 0h1.2m-.6 0h1.2m-23.9 .1h1.2m.9 0h1.2m11.2 0h1.2m2.6 0h1.2m-13.1 .1h1.2m3.9 0h1.2m-16.8 .1h1.2m3.4 0h1.2m13.6 0h1.2m2.8 0h1.2m1.5 0h1.2m6.5 0h1.2m-1.1 0h1.2m-12.8 .1h1.2m-.3 0h1.2m2 0h1.2m2.1 0h1.2m-20.8 .1h1.2m4.1 0h1.2m2.5 0h1.2m-1.2 0h1.2m-17.8 .1h1.2m7.4 0h1.2m-7.7 .1h1.2m.7 0h1.2m-.6 0h1.2m1.8 0h1.2m-10.7 .1h1.2m8.5 0h1.2m3.8 0h1.2m1.5 0h1.2m2.8 0h1.2m-.9 0h1.2m-1.1 0h1.2m-.9 0h1.2m-1 0h1.2m-17.8 .1h1.2m-1 0h1.2m15.1 0h1.2m-10.4 .1h1.2m3.5 0h1.2m2.6 0h1.2m1.1 0h1.2m-26 .1h1.2m20.2 0h1.2m-22.9 .1h1.2m6.2 .1h1.2m12.8 0h1.2m12.3 0h1.2m-36 .1h1.2m-.3 .1h1.2m12.1 0h1.2m7.4 0h1.2m-16.8 .1h1.2m13.6 0h1.2m.3 0h1.2m-15 .1h1.2m-.6 0h1.2m-1.2 0h1.2m-1.1 0h1.2m1.1 .2h1.2m2.9 0h1.2m1.6 .2h1.2m-1.2 0h1.2m5.7 0h1.2m.6 0h1.2m-11.4 .1h1.2m3.1 0h1.2m-22.1 .1h1.2m10.7 0h1.2m14 0h1.2m-20.1 .1h1.2m2.6 0h1.2m2.9 0h1.2m-1.1 .1h1.2m13 0h1.2m-23 .1h1.2m5.6 0h1.2m-.3 0h1.2m2.2 0h1.2m-.3 .1h1.2m7.9 0h1.2m-15.1 .1h1.2m9.7 .5h1.2m-12.2 .1h1.2m.4 0h1.2m-.7 0h1.2m7.9 0h1.2m-8.9 .1h1.2m6.8 0h1.2m-12.6 .2h1.2m9.9 0h1.2m-7.7 .1h1.2m-3.9 .1h1.2m4.9 0h1.2m-5 .1h1.2m7 0h1.2m-2.9 .1h1.2m-9.7 .1h1.2m.1 0h1.2m0 0h1.2m5.6 0h1.2m5.1 0h1.2m-9.1 .1h1.2m2.2 0h1.2m-5.8 .1h1.2m-.2 0h1.2m-1.1 0h1.2m-9.6 .1h1.2m5.2 0h1.2m-119.3 .2h1.2m118.6 0h1.2m-.4 0h1.2m1.9 0h1.2m0 .2h1.2m-.9 0h1.2m-12.4 .1h1.2m6.3 0h1.2m3.5 .2h1.2m-9.6 .3h1.2m-4.8 .2h1.2m5.8 0h1.2m-1.5 .3h1.2m.1 0h1.2m-.6 0h1.2m0 .1h1.2m-3.3 .1h1.2m-1.5 .3h1.2m0 .2h1.2m.3 .1h1.2m-.9 0h1.2m-2.9 .3h1.2m-.4 .1h1.2m.4 0h1.2m-.2 .2h1.2m-3.5 .8h1.2m-.4 .1h1.2m-.2 .4h1.2m-.5 .6h1.2m-2.2 .3h1.2m-1.6 .4h1.2m-1 .3h1.2m-1.2 .4h1.2m1 0h1.2m-2.7 .5h1.2m-.5 .3h1.2m-127.6 .3h1.2m126 .1h1.2m-.8 .4h1.2m-129.3 .6h1.2" stroke="#0072c4" stroke-width="1.2" fill="none"/>
<path d="M408 84h1v3h-1zM410 86h1v1h-1zM408 87h3v1h-3zM464 99h1v1h-1zM466 96h1v4h-1zM433 100h1v1h-1zM423 101h1v1h-1zM442 98h1v9h-1zM442 107h2v1h-2zM423 102h2v7h-2zM426 100h1v9h-1zM473 96h1v13h-1zM476 99h1v10h-1zM491 98h2v11h-2zM428 100h1v10h-1zM433 101h2v9h-2zM436 100h1v10h-1zM453 105h1v5h-1zM470 109h1v1h-1zM476 109h2v1h-2zM485 107h1v3h-1zM503 107h1v3h-1zM433 110h4v1h-4zM499 108h1v3h-1zM428 110h2v2h-2zM453 110h2v2h-2zM464 100h3v12h-3zM468 107h1v5h-1zM485 110h2v2h-2zM497 99h1v13h-1zM495 112h3v1h-3zM499 111h3v2h-3zM408 88h5v32h-5zM417 109h1v11h-1zM419 99h1v21h-1zM421 111h1v9h-1zM423 109h4v11h-4zM428 112h3v8h-3zM433 111h5v9h-5zM440 99h1v21h-1zM442 108h3v12h-3zM447 110h1v10h-1zM452 112h3v8h-3zM458 105h1v15h-1zM462 97h1v23h-1zM464 112h5v8h-5zM470 110h2v10h-2zM473 109h2v11h-2zM476 110h3v10h-3zM482 110h1v10h-1zM484 112h3v8h-3zM488 110h1v10h-1zM491 109h3v11h-3zM495 113h7v7h-7zM503 110h2v10h-2zM509 100h1v20h-1zM512 102h1v18h-1z" fill="#0072c4"/>
<path d="M408 39.5h1.2m1.7 .8h1.2m-5.3 .3h1.2m-1.5 1.3h1.2m13.4 .6h1.2m-10.9 .9h1.2m-7 .6h1.2m2.3 .1h1.2m3.5 .4h1.2m-4.3 .2h1.2m20.3 .5h1.2m-8.1 .9h1.2m-10.9 .5h1.2m54.7 .6h1.2m-62 .2h1.2m30.6 .5h1.2m-31.4 .4h1.2m-2.2 .3h1.2m4.9 .3h1.2m-2.1 .1h1.2m-7.2 .2h1.2m-3.7 .1h1.2m52.4 0h1.2m15.4 0h1.2m-55.6 .2h1.2m-17.4 .2h1.2m.5 .1h1.2m33.4 .3h1.2m-17.5 .1h1.2m18.1 .2h1.2m-42.6 .1h1.2m21 0h1.2m-22.4 .9h1.2m1.8 .1h1.2m-3.3 .1h1.2m.2 .4h1.2m-1.1 0h1.2m14.9 .2h1.2m-15 .2h1.2m-2.8 .1h1.2m-.7 .1h1.2m-.5 .1h1.2m-.6 .3h1.2m-5.9 .1h1.2m11.4 .4h1.2m1.1 0h1.2m-12.9 .1h1.2m2.2 .1h1.2m10.9 0h1.2m7.6 .4h1.2m-23.2 .2h1.2m32.3 0h1.2m-36.6 .1h1.2m-3.3 .2h1.2m16.5 .2h1.2m27.7 .1h1.2m-47.2 .1h1.2m-.1 0h1.2m.3 .3h1.2m-.4 0h1.2m.6 0h1.2m50.4 .6h1.2m-56.8 .2h1.2m-1 0h1.2m-.2 .4h1.2m-5.2 .1h1.2m1.4 0h1.2m0 0h1.2m6.9 0h1.2m29.1 .1h1.2m-42.1 .2h1.2m-1.1 0h1.2m-.3 0h1.2m1.7 0h1.2m-5.9 .2h1.2m39.8 0h1.2m-36.3 .1h1.2m8.1 0h1.2m18.6 0h1.2m-4.3 .1h1.2m-2.8 .1h1.2m-27 .1h1.2m-6 .2h1.2m41 0h1.2m-42.9 .1h1.2m-1.8 .9h1.2m63.5 .1h1.2m-19.4 .2h1.2m48.4 0h1.2m-74.3 .1h1.2m-22.6 .1h1.2m-4.3 .1h1.2m-.4 0h1.2m-.3 0h1.2m1 .2h1.2m29.3 0h1.2m-34 .3h1.2m-1 .1h1.2m-.9 .2h1.2m.6 0h1.2m20.1 .3h1.2m44.5 0h1.2m-71.1 .1h1.2m2.2 0h1.2m7.3 .2h1.2m-12.1 .1h1.2m.8 0h1.2m-.1 .1h1.2m80.4 0h1.2m-87.1 .1h1.2m1.3 .2h1.2m13.2 0h1.2m4.2 0h1.2m-12.2 .1h1.2m-8.6 .1h1.2m-1.9 .3h1.2m-.7 .1h1.2m82.8 0h1.2m-88.6 .1h1.2m4 0h1.2m17.1 .1h1.2m-23.8 .2h1.2m-3.3 .1h1.2m42.5 0h1.2m23.1 0h1.2m-44 .1h1.2m38.1 0h1.2m54.3 0h1.2m-120.3 .1h1.2m.1 0h1.2m2.1 0h1.2m34.4 0h1.2m-38.3 .3h1.2m.1 0h1.2m12.2 0h1.2m-15.4 .1h1.2m52.2 0h1.2m-45.1 .2h1.2m49.3 .1h1.2m-58 .1h1.2m-6.5 .1h1.2m-.5 0h1.2m93.3 .2h1.2m-89.1 .2h1.2m-8.8 .1h1.2m64.2 .3h1.2m6.7 0h1.2m-1 0h1.2m14.4 0h1.2m-91.9 .1h1.2m6 0h1.2m33.6 0h1.2m-4.6 .1h1.2m-39 .2h1.2m3 .2h1.2m7.9 0h1.2m2.4 0h1.2m-18.4 .2h1.2m2.7 0h1.2m14.2 0h1.2m-19.7 .1h1.2m4.8 0h1.2m7 0h1.2m56.1 0h1.2m-35.7 .1h1.2m-34.4 .1h1.2m6.6 0h1.2m29.9 .1h1.2m31.1 0h1.2m-74.2 .1h1.2m-.5 0h1.2m3.6 0h1.2m11.9 0h1.2m11.3 .1h1.2m-.9 0h1.2m34.2 .1h1.2m-68.6 .1h1.2m3.3 0h1.2m10.4 0h1.2m7.1 0h1.2m1.6 0h1.2m-30.8 .1h1.2m.4 0h1.2m2.1 .1h1.2m73.6 0h1.2m-79.6 .1h1.2m19.9 0h1.2m-21.5 .1h1.2m93.1 0h1.2m-90.1 .1h1.2m21.4 0h1.2m8.5 0h1.2m5.1 0h1.2m1.2 0h1.2m23.6 0h1.2m-70.3 .1h1.2m92.1 0h1.2m-97.5 .2h1.2m-1.5 .1h1.2m3.5 0h1.2m1.6 0h1.2m6.7 0h1.2m42.2 0h1.2m-56.6 .1h1.2m22.2 .1h1.2m-26.5 .2h1.2m-2.1 .1h1.2m88.1 0h1.2m-87.3 .1h1.2m54.7 0h1.2m14.4 0h1.2m-72.3 .1h1.2m31.9 .1h1.2m-4 .1h1.2m21.9 0h1.2m-56.9 .1h1.2m-.6 0h1.2m1 0h1.2m-.9 0h1.2m47.8 0h1.2m-51.1 .1h1.2m21.2 .1h1.2m22.5 0h1.2m32.4 0h1.2m-80.5 .1h1.2m5.3 0h1.2m14.1 0h1.2m67.8 0h1.2m-95.8 .1h1.2m13.6 0h1.2m-14.1 .1h1.2m-.3 0h1.2m60.8 0h1.2m16.9 0h1.2m-82.5 .1h1.2m37.3 0h1.2m-28.4 .2h1.2m45 0h1.2m-51.5 .1h1.2m34.6 0h1.2m-40.8 .1h1.2m60.5 0h1.2m-68.3 .1h1.2m32.6 0h1.2m25.4 0h1.2m10.6 0h1.2m-73.6 .1h1.2m23.6 0h1.2m13.4 .1h1.2m-40.9 .1h1.2m.2 0h1.2m8 0h1.2m13.7 0h1.2m43.3 0h1.2m-12.7 .1h1.2m2.5 0h1.2m-35.8 .1h1.2m14.7 0h1.2m41 0h1.2m-85.8 .1h1.2m0 0h1.2m54.7 0h1.2m-59.8 .2h1.2m-.1 0h1.2m56.5 0h1.2m6.5 0h1.2m.1 .2h1.2m24.1 0h1.2m-34.3 .1h1.2m-56.9 .1h1.2m11.6 0h1.2m6.4 0h1.2m72.6 0h1.2m-80.4 .1h1.2m8.7 0h1.2m-26.3 .1h1.2m35.8 0h1.2m9.4 0h1.2m-49.7 .1h1.2m7.9 0h1.2m41.4 0h1.2m-37.8 .1h1.2m58.8 0h1.2m9.9 0h1.2m-89.6 .1h1.2m2.1 0h1.2m-.7 0h1.2m-5.5 .1h1.2m67.3 0h1.2m-64.7 .1h1.2m2.8 0h1.2m42.9 0h1.2m-47.7 .1h1.2m15.4 .1h1.2m51.4 0h1.2m8.4 0h1.2m-83 .1h1.2m-.9 0h1.2m45.8 0h1.2m1.1 0h1.2m-49.6 .1h1.2m56.6 0h1.2m13.7 0h1.2m-78.3 .1h1.2m.8 0h1.2m-1 .1h1.2m-.5 0h1.2m-1 0h1.2m48.9 0h1.2m-52.9 .1h1.2m.9 0h1.2m0 0h1.2m21 0h1.2m18.2 0h1.2m11 0h1.2m-59.7 .1h1.2m-2.3 .1h1.2m.9 0h1.2m1.4 0h1.2m1.9 0h1.2m11.6 0h1.2m-1.1 0h1.2m24.9 0h1.2m12.1 0h1.2m-57.7 .1h1.2m2.5 0h1.2m2.2 0h1.2m15.3 0h1.2m-28.6 .1h1.2m3 .1h1.2m66.4 0h1.2m-68.5 .1h1.2m38.9 0h1.2m32 0h1.2m-77.5 .1h1.2m80.8 0h1.2m18.2 0h1.2m-40.3 .1h1.2m-28.8 .1h1.2m8.5 0h1.2m10.3 0h1.2m-56.6 .1h1.2m2.5 0h1.2m22.5 0h1.2m20 0h1.2m13.7 0h1.2m13.1 0h1.2m-66.6 .1h1.2m-15.2 .1h1.2m.2 0h1.2m-.5 0h1.2m62.6 0h1.2m-55.7 .1h1.2m65.2 0h1.2m-33.3 .1h1.2m37.1 .1h1.2m5.7 0h1.2m-90.6 .1h1.2m.4 0h1.2m9.1 0h1.2m82.1 0h1.2m-97.5 .1h1.2m25.5 0h1.2m17.7 0h1.2m35.1 0h1.2m-70.6 .1h1.2m11.8 0h1.2m6.1 0h1.2m-33.6 .1h1.2m.4 0h1.2m.5 .1h1.2m9 0h1.2m1.1 0h1.2m48.1 0h1.2m-58.1 .1h1.2m8.6 0h1.2m20.3 0h1.2m6.1 0h1.2m6.3 0h1.2m-.8 0h1.2m-20 .1h1.2m64.7 0h1.2m-87.3 .1h1.2m9.8 0h1.2m30.9 0h1.2m21.5 0h1.2m-84.2 .1h1.2m.9 0h1.2m82.5 0h1.2m-82 .1h1.2m82.3 0h1.2m-33.4 .1h1.2m40.3 0h1.2m-92.7 .1h1.2m61.7 0h1.2m-11 .1h1.2m-59.8 .1h1.2m13.8 .1h1.2m1.4 0h1.2m33.4 0h1.2m-53.1 .1h1.2m10.3 0h1.2m29 0h1.2m15.5 0h1.2m-57.8 .1h1.2m-.1 0h1.2m65.3 0h1.2m2.6 .1h1.2m-47.5 .1h1.2m-27.7 .2h1.2m3.7 0h1.2m4.9 0h1.2m27.9 0h1.2m22 0h1.2m-63.3 .1h1.2m19.2 0h1.2m56.3 0h1.2m-22.2 .1h1.2m-59 .1h1.2m-.9 0h1.2m.8 0h1.2m24.6 0h1.2m15.8 0h1.2m-39.9 .1h1.2m20.7 0h1.2m56.7 0h1.2m-85.1 .1h1.2m1.5 0h1.2m37.6 0h1.2m-43.3 .1h1.2m0 0h1.2m12.1 0h1.2m29.1 0h1.2m-48 .1h1.2m.1 0h1.2m30.7 0h1.2m37.3 .1h1.2m18.4 0h1.2m-84.4 .1h1.2m.8 0h1.2m5.2 0h1.2m-16.9 .1h1.2m3.9 0h1.2m34.9 0h1.2m3.4 0h1.2m10.2 0h1.2m24.9 0h1.2m-73.9 .1h1.2m51.8 0h1.2m-18.1 .1h1.2m21.9 0h1.2m-.4 0h1.2m15.9 0h1.2m4.1 0h1.2m-93.1 .1h1.2m2.2 0h1.2m.6 0h1.2m40.6 0h1.2m30.8 0h1.2m-62.2 .1h1.2m19.4 0h1.2m5.2 0h1.2m-1 0h1.2m9.8 0h1.2m-59.6 .1h1.2m3.4 0h1.2m30.6 0h1.2m12.5 0h1.2m12.6 0h1.2m30.7 0h1.2m-94.2 .1h1.2m1.4 0h1.2m25.7 0h1.2m50.4 0h1.2m-83 .1h1.2m-.4 0h1.2m3.8 0h1.2m-1.1 0h1.2m3 0h1.2m31.4 0h1.2m37.8 0h1.2m-85.5 .1h1.2m-.8 0h1.2m31.6 0h1.2m4.7 0h1.2m44 0h1.2m8.9 0h1.2m-94.4 .1h1.2m2.5 0h1.2m2.9 0h1.2m34.3 0h1.2m50.5 0h1.2m-89.1 .1h1.2m16.9 0h1.2m60.1 0h1.2m-83.8 .1h1.2m-.1 0h1.2m19.4 0h1.2m15.6 0h1.2m-1.2 0h1.2m-41.8 .1h1.2m43.9 0h1.2m5.7 0h1.2m-55.3 .1h1.2m2.5 0h1.2m13.9 0h1.2m6.8 0h1.2m11 0h1.2m-.6 0h1.2m-35.8 .1h1.2m38.6 0h1.2m-.5 0h1.2m32.5 0h1.2m9.4 0h1.2m4.4 0h1.2m-94.9 .1h1.2m.9 0h1.2m4 0h1.2m29.1 0h1.2m1.5 0h1.2m52.9 0h1.2m-94.4 .1h1.2m12.5 0h1.2m8 0h1.2m-25.4 .1h1.2m74.6 0h1.2m8.3 0h1.2m-84.9 .1h1.2m53.9 0h1.2m16.3 0h1.2m-77.3 .1h1.2m19.4 0h1.2m31.6 0h1.2m-.1 0h1.2m-56.5 .1h1.2m1 0h1.2m2.9 0h1.2m-.3 0h1.2m-.1 0h1.2m19.1 0h1.2m34 0h1.2m-57.8 .1h1.2m-.9 0h1.2m1.9 0h1.2m-10.8 .1h1.2m11.1 0h1.2m51.6 0h1.2m-66.4 .1h1.2m-.9 0h1.2m.6 0h1.2m64.5 0h1.2m24.7 .1h1.2m-95.5 .1h1.2m.9 0h1.2m3.8 0h1.2m-.4 0h1.2m30 0h1.2m10.8 0h1.2m11.3 0h1.2m2.8 0h1.2m14.2 0h1.2m7.8 0h1.2m-83.7 .1h1.2m1.1 0h1.2m5.7 0h1.2m20.8 0h1.2m-41.3 .1h1.2m1.5 0h1.2m3.1 0h1.2m1.3 0h1.2m38.3 0h1.2m12.7 0h1.2m-62.7 .1h1.2m-.4 0h1.2m11.2 0h1.2m41 0h1.2m32.3 0h1.2m-92.7 .1h1.2m-1.1 0h1.2m1.9 0h1.2m2.1 0h1.2m24.7 0h1.2m25.3 0h1.2m-57 .1h1.2m-.6 0h1.2m1.1 0h1.2m10.7 0h1.2m25.1 0h1.2m.5 0h1.2m23.3 0h1.2m13.3 0h1.2m6.4 0h1.2m-50.2 .1h1.2m19.2 0h1.2m6.6 0h1.2m13 0h1.2m-79.7 .1h1.2m7.7 0h1.2m10.8 0h1.2m10.8 0h1.2m5.8 0h1.2m8.9 0h1.2m4.4 0h1.2m-.8 0h1.2m-55.7 .1h1.2m13.7 0h1.2m34 0h1.2m29.3 0h1.2m-86.9 .1h1.2m49 0h1.2m11.9 0h1.2m27.5 0h1.2m-53.3 .1h1.2m-42.9 .1h1.2m-.9 0h1.2m.8 0h1.2m1.5 0h1.2m8.5 0h1.2m43.8 0h1.2m-62.1 .1h1.2m.4 0h1.2m-.8 0h1.2m0 0h1.2m3.1 0h1.2m10.2 0h1.2m7.6 0h1.2m6.9 0h1.2m.3 0h1.2m7.6 0h1.2m39.3 0h1.2m14.9 0h1.2m-103.1 .1h1.2m8.9 0h1.2m23 0h1.2m7.4 0h1.2m-.1 0h1.2m-5.7 .1h1.2m15.9 0h1.2m-55.6 .1h1.2m38.3 0h1.2m9 0h1.2m2.7 0h1.2m30.8 0h1.2m-77.3 .1h1.2m60.6 0h1.2m-72.4 .1h1.2m-.4 0h1.2m.4 0h1.2m9.8 0h1.2m2.8 0h1.2m-.9 0h1.2m-15.7 .1h1.2m11.8 0h1.2m39.5 0h1.2m3.2 0h1.2m-62.7 .1h1.2m4.3 0h1.2m.3 0h1.2m1.5 0h1.2m1.7 0h1.2m-16.5 .1h1.2m2.5 0h1.2m31.3 0h1.2m6.1 0h1.2m13.6 0h1.2m.5 0h1.2m5.8 0h1.2m27.3 0h1.2m21.3 0h1.2m-96.7 .1h1.2m9 0h1.2m51.5 0h1.2m-87.1 .1h1.2m2.4 0h1.2m1.4 0h1.2m3.8 0h1.2m32.8 0h1.2m-.5 0h1.2m25.7 0h1.2m12.9 0h1.2m1.6 0h1.2m-.3 0h1.2m.5 0h1.2m-90.7 .1h1.2m-.9 0h1.2m-1 0h1.2m16.3 0h1.2m46.3 0h1.2m18 0h1.2m3.7 0h1.2m.7 0h1.2m-47.1 .1h1.2m17.5 0h1.2m12.1 0h1.2m11.6 0h1.2m1.2 0h1.2m-94.9 .1h1.2m3 0h1.2m-.1 0h1.2m11.5 0h1.2m7.7 0h1.2m8.3 0h1.2m5.3 0h1.2m-.4 0h1.2m6.8 0h1.2m-55.8 .1h1.2m5.1 0h1.2m33.9 0h1.2m12.9 0h1.2m15.2 0h1.2m18 0h1.2m-88.6 .1h1.2m4.7 0h1.2m7.6 0h1.2m47.3 0h1.2m6.1 0h1.2m-75.3 .1h1.2m.8 0h1.2m3.7 0h1.2m8.3 0h1.2m10.6 0h1.2m22.7 0h1.2m43.6 0h1.2m-76.5 .1h1.2m26.7 0h1.2m5.5 0h1.2m46.4 0h1.2m-102.5 .1h1.2m2.3 0h1.2m33.6 0h1.2m19.6 0h1.2m16.6 0h1.2m14.6 0h1.2m5.3 0h1.2m.5 0h1.2m-103.3 .1h1.2m3.1 0h1.2m42.4 0h1.2m29.9 0h1.2m-80.2 .1h1.2m.6 0h1.2m.5 0h1.2m23.3 0h1.2m-29.9 .1h1.2m-.8 0h1.2m3.5 0h1.2m6 0h1.2m25.3 0h1.2m20.2 0h1.2m-53.8 .1h1.2m7 0h1.2m11.5 0h1.2m-29.9 .1h1.2m15.4 0h1.2m28.1 0h1.2m10.7 0h1.2m34.5 0h1.2m-92.8 .1h1.2m-1 0h1.2m42.1 0h1.2m14.6 0h1.2m23.2 0h1.2m-84.1 .1h1.2m2.7 0h1.2m1 0h1.2m23.6 0h1.2m21.4 0h1.2m20.5 0h1.2m13 0h1.2m3.6 0h1.2m-90.4 .1h1.2m5 0h1.2m42.2 0h1.2m23 0h1.2m5.1 0h1.2m3.2 0h1.2m-.2 0h1.2m.6 0h1.2m-92.9 .1h1.2m30.5 0h1.2m.3 0h1.2m8.2 0h1.2m37.7 0h1.2m-85.5 .1h1.2m-.3 0h1.2m.2 0h1.2m24.9 0h1.2m18.8 0h1.2m28.4 0h1.2m2.2 0h1.2m12.9 0h1.2m6.7 0h1.2m-105 .1h1.2m1 0h1.2m48.4 0h1.2m25.6 0h1.2m13.9 0h1.2m-92.5 .1h1.2m.6 0h1.2m6.5 0h1.2m-1.2 0h1.2m1 0h1.2m17.8 0h1.2m24.8 0h1.2m-58 .1h1.2m1 0h1.2m-.4 0h1.2m32.4 0h1.2m2.2 0h1.2m22.6 0h1.2m9.9 0h1.2m1 0h1.2m4.8 0h1.2m8 0h1.2m-90.2 .1h1.2m1.5 0h1.2m36.7 0h1.2m3.6 0h1.2m24.7 0h1.2m.6 0h1.2m10.4 0h1.2m-91.4 .1h1.2m3.6 0h1.2m-.4 0h1.2m17.7 0h1.2m34.7 0h1.2m-.6 0h1.2m17.8 0h1.2m-62.1 .1h1.2m34.5 0h1.2m8 0h1.2m.6 0h1.2m3 0h1.2m-70.8 .1h1.2m2.5 0h1.2m.7 0h1.2m4.9 0h1.2m33 0h1.2m2.5 0h1.2m11.5 0h1.2m20.6 0h1.2m.6 0h1.2m-87.5 .1h1.2m-.1 0h1.2m-.8 .1h1.2m4.2 0h1.2m20.8 0h1.2m4.8 0h1.2m21.6 0h1.2m20.2 0h1.2m5.4 0h1.2m-84.4 .1h1.2m.4 0h1.2m8.7 0h1.2m5.6 0h1.2m14.3 0h1.2m-25.1 .1h1.2m23.3 0h1.2m-37.3 .1h1.2m19.8 0h1.2m28.7 0h1.2m30.4 0h1.2m-1.1 0h1.2m8.9 0h1.2m-89.6 .1h1.2m10.6 0h1.2m2 0h1.2m35.3 0h1.2m14.9 0h1.2m16.1 0h1.2m13.7 0h1.2m-104.2 .1h1.2m-.2 0h1.2m60.6 0h1.2m1.8 0h1.2m24.1 0h1.2m-94.3 .1h1.2m2.9 0h1.2m3.7 0h1.2m2.1 0h1.2m3.6 0h1.2m72.2 0h1.2m6.8 0h1.2m-96.9 .1h1.2m-.4 0h1.2m1.3 0h1.2m1.9 0h1.2m40.7 0h1.2m29.4 0h1.2m-78.1 .1h1.2m-.6 0h1.2m4.2 0h1.2m23.1 0h1.2m49.4 0h1.2m10.9 0h1.2m3.8 0h1.2m-97.2 .1h1.2m.4 0h1.2m-1 0h1.2m1.3 0h1.2m35.8 0h1.2m13.4 0h1.2m2.8 0h1.2m16.2 0h1.2m11.6 0h1.2m-81.5 .1h1.2m-1.2 0h1.2m2 0h1.2m8.5 0h1.2m3.7 0h1.2m8.8 0h1.2m24.1 0h1.2m.7 0h1.2m-69.4 .1h1.2m5.6 0h1.2m19.8 0h1.2m14.4 0h1.2m4.3 0h1.2m2.3 0h1.2m27.6 0h1.2m0 0h1.2m3.6 0h1.2m-89.9 .1h1.2m.8 0h1.2m54.2 0h1.2m-60 .1h1.2m2.7 0h1.2m-1 0h1.2m44.5 0h1.2m21.7 0h1.2m-67.4 .1h1.2m1.5 0h1.2m1.3 0h1.2m22.9 0h1.2m33.6 0h1.2m9.8 0h1.2m-83.1 .1h1.2m.8 0h1.2m1.3 0h1.2m3 0h1.2m45.3 0h1.2m4.3 0h1.2m-57.5 .1h1.2m-.5 0h1.2m15.2 0h1.2m22 0h1.2m-.4 0h1.2m-.3 0h1.2m7.2 0h1.2m11 0h1.2m9.7 0h1.2m-.9 0h1.2m7.3 0h1.2m-84.2 .1h1.2m.5 0h1.2m.4 0h1.2m27.2 0h1.2m1 0h1.2m1.7 0h1.2m.5 0h1.2m-40.7 .1h1.2m35.4 0h1.2m5.7 0h1.2m12 0h1.2m23.5 0h1.2m13.1 0h1.2m-91.6 .1h1.2m57.4 0h1.2m11.8 0h1.2m2.1 0h1.2m5.6 0h1.2m-84.1 .1h1.2m33.4 0h1.2m13.4 0h1.2m.3 0h1.2m5.7 0h1.2m2 0h1.2m10.6 0h1.2m-80.8 .1h1.2m.9 0h1.2m1.5 0h1.2m2.7 0h1.2m27.7 0h1.2m1.8 0h1.2m1.9 0h1.2m21.1 0h1.2m2.7 0h1.2m14 0h1.2m-78.5 .1h1.2m2.9 0h1.2m27.7 0h1.2m-.1 0h1.2m29.6 0h1.2m10.4 0h1.2m3.1 0h1.2m4.5 0h1.2m-80.6 .1h1.2m26.5 0h1.2m3.7 0h1.2m12.5 0h1.2m13.9 0h1.2m-71 .1h1.2m3.3 0h1.2m9.1 0h1.2m33 0h1.2m-56 .1h1.2m.4 0h1.2m25.8 0h1.2m-.4 0h1.2m9.5 0h1.2m12.5 0h1.2m3.4 0h1.2m2.7 0h1.2m33.4 0h1.2m-99.9 .1h1.2m1.9 0h1.2m.9 0h1.2m7.7 0h1.2m36.2 0h1.2m.1 0h1.2m49.8 0h1.2m-101.4 .1h1.2m2 0h1.2m31.7 0h1.2m16.4 0h1.2m14.1 0h1.2m17.3 0h1.2m2.6 0h1.2m-92.2 .1h1.2m.4 0h1.2m.4 0h1.2m22.6 0h1.2m16.5 0h1.2m41.2 0h1.2m6.3 0h1.2m7.2 0h1.2m-102.9 .1h1.2m-1 0h1.2m3.9 0h1.2m25.6 0h1.2m14.6 0h1.2m11.4 0h1.2m3.8 0h1.2m.8 0h1.2m.1 0h1.2m28.9 0h1.2m-92.8 .1h1.2m-8.7 .1h1.2m21.3 0h1.2m27.7 0h1.2m.6 0h1.2m.5 0h1.2m.5 0h1.2m2.9 0h1.2m19.5 0h1.2m-86.3 .1h1.2m-.9 0h1.2m3 0h1.2m21.9 0h1.2m3.3 0h1.2m4.5 0h1.2m4.5 0h1.2m.2 0h1.2m8.7 0h1.2m-1.2 0h1.2m20.9 0h1.2m15.3 0h1.2m-57.8 .1h1.2m17.5 0h1.2m10.2 0h1.2m13.5 0h1.2m15.5 0h1.2m-.9 0h1.2m-97.5 .1h1.2m11.8 0h1.2m3 0h1.2m12.5 0h1.2m18.5 0h1.2m15.4 0h1.2m8.3 0h1.2m-76 .1h1.2m28.6 0h1.2m12.3 0h1.2m3.5 0h1.2m20.6 0h1.2m-43.3 .1h1.2m4.1 0h1.2m8 0h1.2m3.5 0h1.2m7.2 0h1.2m3.5 0h1.2m4.2 0h1.2m5.2 0h1.2m12.2 0h1.2m-70.1 .1h1.2m11.1 0h1.2m16.9 0h1.2m3.1 0h1.2m2.2 0h1.2m4.7 0h1.2m4.7 0h1.2m-71 .1h1.2m-1.2 0h1.2m22.7 0h1.2m1 0h1.2m25.1 0h1.2m1.1 0h1.2m9.6 0h1.2m-.2 0h1.2m1 0h1.2m-1 0h1.2m3.5 0h1.2m.1 0h1.2m10.6 0h1.2m1.6 0h1.2m-47.7 .1h1.2m18.9 0h1.2m-58.3 .1h1.2m2.5 0h1.2m1.9 0h1.2m4.8 0h1.2m26.1 0h1.2m24.5 0h1.2m3.2 0h1.2m.3 0h1.2m1.6 0h1.2m3.1 0h1.2m-81.5 .1h1.2m30.8 0h1.2m11 0h1.2m1.1 0h1.2m38.9 0h1.2m-87.4 .1h1.2m52.2 0h1.2m23.6 0h1.2m10.9 0h1.2m-91.9 .1h1.2m8.4 0h1.2m10.1 0h1.2m8.1 0h1.2m25.9 0h1.2m-63.9 .1h1.2m-.6 0h1.2m3.1 0h1.2m10.1 0h1.2m11.8 0h1.2m17.7 0h1.2m40 0h1.2m12.8 0h1.2m-99 .1h1.2m1.9 0h1.2m2.9 0h1.2m5.6 0h1.2m9.9 0h1.2m10.5 0h1.2m51.4 0h1.2m-86.6 .1h1.2m15.9 0h1.2m-.9 0h1.2m30.2 0h1.2m60.1 0h1.2m-114.4 .1h1.2m28.4 0h1.2m12 0h1.2m8.6 0h1.2m16.1 0h1.2m6 0h1.2m4.3 0h1.2m-77.3 .1h1.2m12.1 0h1.2m-.6 0h1.2m9.7 0h1.2m4.1 0h1.2m3.4 0h1.2m11.3 0h1.2m27.5 0h1.2m-89.3 .1h1.2m10.1 0h1.2m33.9 0h1.2m-39.2 .1h1.2m26.8 0h1.2m1.2 0h1.2m10.5 0h1.2m7.8 0h1.2m14 0h1.2m-.3 0h1.2m-60.5 .1h1.2m12.4 0h1.2m2.2 0h1.2m2.7 0h1.2m1.3 0h1.2m17.6 0h1.2m-.8 0h1.2m7.3 0h1.2m-69.1 .1h1.2m5.2 0h1.2m6.3 0h1.2m5 0h1.2m8.7 0h1.2m2 0h1.2m10.6 0h1.2m9.2 0h1.2m22.5 0h1.2m3.9 0h1.2m3.3 0h1.2m2.6 0h1.2m-54.5 .1h1.2m10.6 0h1.2m5.2 0h1.2m31.6 0h1.2m-84.5 .1h1.2m13.1 0h1.2m.5 0h1.2m22.4 0h1.2m37.4 0h1.2m-86.4 .1h1.2m4.9 0h1.2m33.3 0h1.2m25 0h1.2m28.1 0h1.2m4.7 0h1.2m-88.8 .1h1.2m-.5 0h1.2m.8 0h1.2m5.3 0h1.2m30.7 0h1.2m3.7 0h1.2m2.3 0h1.2m14.9 0h1.2m8.8 0h1.2m-80.4 .1h1.2m19.8 0h1.2m19.1 0h1.2m.5 0h1.2m2.8 0h1.2m36.8 0h1.2m.2 0h1.2m-92 .1h1.2m-.3 0h1.2m3.5 0h1.2m7.4 0h1.2m10.8 0h1.2m17.4 0h1.2m-38.7 .1h1.2m2 0h1.2m17 0h1.2m.8 0h1.2m2.1 0h1.2m9.4 0h1.2m5.5 0h1.2m11.8 0h1.2m13.7 0h1.2m-78.1 .1h1.2m8.1 0h1.2m11.4 0h1.2m11.7 0h1.2m-.5 0h1.2m9.7 0h1.2m6.6 0h1.2m-.8 0h1.2m14.2 0h1.2m11.7 0h1.2m-83.7 .1h1.2m4.6 0h1.2m.9 0h1.2m-1 0h1.2m-.8 0h1.2m24.6 0h1.2m1.4 0h1.2m9.7 0h1.2m1.2 0h1.2m27.9 0h1.2m2.1 0h1.2m-82.4 .1h1.2m1.7 0h1.2m-.3 0h1.2m19.8 0h1.2m10.9 0h1.2m2.4 0h1.2m3.3 0h1.2m-.1 0h1.2m5 0h1.2m-.9 0h1.2m5.3 0h1.2m8 0h1.2m-.4 0h1.2m11.4 0h1.2m-73.8 .1h1.2m8.6 0h1.2m12.5 0h1.2m1.8 0h1.2m13.3 0h1.2m26.8 0h1.2m3.7 0h1.2m-86.1 .1h1.2m.6 0h1.2m3 0h1.2m5.9 0h1.2m2.9 0h1.2m10.9 0h1.2m19 0h1.2m4.2 0h1.2m27.6 0h1.2m-85.5 .1h1.2m-.7 0h1.2m17.7 0h1.2m12 0h1.2m6.9 0h1.2m12.1 0h1.2m-.3 0h1.2m.4 0h1.2m1.2 0h1.2m-1 0h1.2m5.6 0h1.2m22.4 0h1.2m-85.9 .1h1.2m36.1 0h1.2m10.5 0h1.2m2.5 0h1.2m10.4 0h1.2m10.7 0h1.2m-76.1 .1h1.2m1.2 0h1.2m-1.1 0h1.2m12.2 0h1.2m5.9 0h1.2m6 0h1.2m-.2 0h1.2m7.2 0h1.2m3.1 0h1.2m14.2 0h1.2m11.8 0h1.2m1.5 0h1.2m-.1 0h1.2m14.2 0h1.2m-106.4 .1h1.2m36.8 0h1.2m-.8 0h1.2m4.5 0h1.2m3.8 0h1.2m9 0h1.2m18.5 0h1.2m-1 0h1.2m16.5 0h1.2m-92.4 .1h1.2m5.3 0h1.2m1.2 0h1.2m5 0h1.2m-.9 0h1.2m12.7 0h1.2m-.9 0h1.2m26.9 0h1.2m5.6 0h1.2m12.5 0h1.2m2.2 0h1.2m-.1 0h1.2m1.6 0h1.2m-92.8 .1h1.2m11.5 0h1.2m16 0h1.2m27.4 0h1.2m3.6 0h1.2m6.6 0h1.2m13.1 0h1.2m0 0h1.2m.5 0h1.2m-77.9 .1h1.2m33.1 0h1.2m-.5 0h1.2m9.7 0h1.2m1.9 0h1.2m23.4 0h1.2m3 0h1.2m4.1 0h1.2m-95.5 .1h1.2m4.4 0h1.2m-.3 0h1.2m14.2 0h1.2m19.7 0h1.2m3.1 0h1.2m5.2 0h1.2m17.5 0h1.2m.1 0h1.2m10.2 0h1.2m-86.2 .1h1.2m27.6 0h1.2m11 0h1.2m-25.5 .1h1.2m3 0h1.2m15.7 0h1.2m8.1 0h1.2m2.6 0h1.2m7.6 0h1.2m10.4 0h1.2m23.7 0h1.2m4.8 0h1.2m-97.3 .1h1.2m-.7 0h1.2m3.3 0h1.2m4.1 0h1.2m-.3 0h1.2m17.7 0h1.2m.2 0h1.2m-1 0h1.2m14.3 0h1.2m11.6 0h1.2m-1.2 0h1.2m5.4 0h1.2m-.3 0h1.2m6.8 0h1.2m15.3 0h1.2m-92.1 .1h1.2m2.5 0h1.2m3.3 0h1.2m.8 0h1.2m7.6 0h1.2m17.6 0h1.2m.3 0h1.2m12.5 0h1.2m15.2 0h1.2m11.9 0h1.2m-90.4 .1h1.2m6.1 0h1.2m11 0h1.2m15.9 0h1.2m3.6 0h1.2m49.7 0h1.2m-79.9 .1h1.2m-.4 0h1.2m9.9 0h1.2m.1 0h1.2m4.2 0h1.2m2.8 0h1.2m1.5 0h1.2m-.9 0h1.2m10.2 0h1.2m7.3 0h1.2m6.1 0h1.2m22.6 0h1.2m-85.4 .1h1.2m9.4 0h1.2m.3 0h1.2m16.2 0h1.2m1.3 0h1.2m33.3 0h1.2m1.4 0h1.2m3.6 0h1.2m2.2 0h1.2m-.4 0h1.2m12.5 0h1.2m-51 .1h1.2m-.4 0h1.2m23.9 0h1.2m-.3 0h1.2m-62.9 .1h1.2m22.2 0h1.2m.3 0h1.2m3.4 0h1.2m2.4 0h1.2m3 0h1.2m6.5 0h1.2m5.2 0h1.2m22.5 0h1.2m7.8 0h1.2m-99.2 .1h1.2m7.3 0h1.2m16.3 0h1.2m14.9 0h1.2m19.5 0h1.2m7.5 0h1.2m1.2 0h1.2m9.6 0h1.2m16 0h1.2m-81.2 .1h1.2m12.2 0h1.2m-.3 0h1.2m10.6 0h1.2m7.7 0h1.2m-.1 0h1.2m.4 0h1.2m18.8 0h1.2m-80.5 .1h1.2m5.7 0h1.2m-.6 0h1.2m3.6 0h1.2m13.3 0h1.2m8.1 0h1.2m46.9 0h1.2m-58.9 .1h1.2m14.6 0h1.2m.7 0h1.2m4.5 0h1.2m29.4 0h1.2m-75.1 .1h1.2m2.4 0h1.2m7.3 0h1.2m15.8 0h1.2m-1 0h1.2m8 0h1.2m5.5 0h1.2m4.4 0h1.2m4.3 0h1.2m10.5 0h1.2m.9 0h1.2m5.8 0h1.2m-71.6 .1h1.2m11.6 0h1.2m1.9 0h1.2m15.9 0h1.2m0 0h1.2m-.7 0h1.2m4.6 0h1.2m9.1 0h1.2m12.1 0h1.2m.6 0h1.2m3.4 0h1.2m7.7 0h1.2m4.3 0h1.2m-89.2 .1h1.2m26.4 0h1.2m2.7 0h1.2m3.4 0h1.2m13.5 0h1.2m15.1 0h1.2m12.2 0h1.2m13 0h1.2m-98.5 .1h1.2m37.4 0h1.2m-.4 0h1.2m2.6 0h1.2m-.5 0h1.2m2.7 0h1.2m.5 0h1.2m22.3 0h1.2m-.3 0h1.2m1.6 0h1.2m-.3 0h1.2m1.3 0h1.2m.2 0h1.2m-90.2 .1h1.2m5.3 0h1.2m-1 0h1.2m11.4 0h1.2m-.8 0h1.2m16 0h1.2m47.4 0h1.2m3.1 0h1.2m-79.2 .1h1.2m6.4 0h1.2m1.8 0h1.2m13.6 0h1.2m3.3 0h1.2m13.9 0h1.2m.1 0h1.2m11.7 0h1.2m.3 0h1.2m7.2 0h1.2m2.5 0h1.2m2.5 0h1.2m2 0h1.2m1.3 0h1.2m-.9 0h1.2m.8 0h1.2m-89 .1h1.2m11.5 0h1.2m5.3 0h1.2m6.4 0h1.2m8.1 0h1.2m1.3 0h1.2m7.1 0h1.2m7.2 0h1.2m31.4 0h1.2m-85.3 .1h1.2m.9 0h1.2m10.4 0h1.2m7.8 0h1.2m-.7 0h1.2m.3 0h1.2m1.8 0h1.2m8.8 0h1.2m6.1 0h1.2m25.1 0h1.2m-.9 0h1.2m10.5 0h1.2m-77.8 .1h1.2m6.2 0h1.2m22.8 0h1.2m.2 0h1.2m1.4 0h1.2m7.8 0h1.2m19.2 0h1.2m19.9 0h1.2m-98 .1h1.2m6 0h1.2m5 0h1.2m3.2 0h1.2m3.1 0h1.2m7 0h1.2m6 0h1.2m23.4 0h1.2m4 0h1.2m4.3 0h1.2m4.4 0h1.2m4.3 0h1.2m-79.2 .1h1.2m4 0h1.2m6.4 0h1.2m1.3 0h1.2m6.5 0h1.2m18.5 0h1.2m1 0h1.2m1.7 0h1.2m20.6 0h1.2m-85.1 .1h1.2m6.1 0h1.2m2.9 0h1.2m48.2 0h1.2m9.7 0h1.2m-.3 0h1.2m3.5 0h1.2m18.6 0h1.2m5.3 0h1.2m-92.1 .1h1.2m44.3 0h1.2m1.9 0h1.2m3.2 0h1.2m2.4 0h1.2m8 0h1.2m5.8 0h1.2m18.4 0h1.2m-82.9 .1h1.2m6.6 0h1.2m1.2 0h1.2m6.8 0h1.2m27.6 0h1.2m22.1 0h1.2m2.6 0h1.2m-98.2 .1h1.2m4.6 0h1.2m-.1 0h1.2m-.3 0h1.2m4.7 0h1.2m.7 0h1.2m15.5 0h1.2m15.2 0h1.2m10.5 0h1.2m24.7 0h1.2m9.5 0h1.2m-.1 0h1.2m-92.7 .1h1.2m23.1 0h1.2m4.3 0h1.2m-.5 0h1.2m17.1 0h1.2m-.3 0h1.2m3.8 0h1.2m6.6 0h1.2m6.9 0h1.2m2.2 0h1.2m2.6 0h1.2m5.2 0h1.2m-85 .1h1.2m6.8 0h1.2m.3 0h1.2m23 0h1.2m13.3 0h1.2m.4 0h1.2m1.5 0h1.2m41.2 0h1.2m-103.1 .1h1.2m11.1 0h1.2m12.2 0h1.2m-.7 0h1.2m2.8 0h1.2m8.3 0h1.2m11.6 0h1.2m3.5 0h1.2m15 0h1.2m1.1 0h1.2m.7 0h1.2m5.4 0h1.2m1.3 0h1.2m-69.9 .1h1.2m1.6 0h1.2m7.3 0h1.2m-.4 0h1.2m4 0h1.2m14.2 0h1.2m7.1 0h1.2m-.2 0h1.2m-1.1 0h1.2m-.3 0h1.2m8.4 0h1.2m1.4 0h1.2m-.6 0h1.2m2.4 0h1.2m3.6 0h1.2m19.7 0h1.2m-95.2 .1h1.2m2.9 0h1.2m13.1 0h1.2m4.6 0h1.2m8.4 0h1.2m.9 0h1.2m4.3 0h1.2m2.7 0h1.2m8.7 0h1.2m15 0h1.2m8.4 0h1.2m2.8 0h1.2m-83.2 .1h1.2m2.7 0h1.2m2.2 0h1.2m5.6 0h1.2m-.3 0h1.2m8.7 0h1.2m3.3 0h1.2m12.2 0h1.2m7.8 0h1.2m4.9 0h1.2m-56.6 .1h1.2m.5 0h1.2m8.3 0h1.2m27.3 0h1.2m1.1 0h1.2m-.5 0h1.2m4.8 0h1.2m6.7 0h1.2m21 0h1.2m1.5 0h1.2m.8 0h1.2m-92 .1h1.2m0 0h1.2m1.3 0h1.2m6.6 0h1.2m-.8 0h1.2m.1 0h1.2m3.3 0h1.2m16 0h1.2m-.9 0h1.2m3.2 0h1.2m-.2 0h1.2m4.7 0h1.2m11 0h1.2m.4 0h1.2m-.1 0h1.2m-.7 0h1.2m13.6 0h1.2m-.5 0h1.2m5.5 0h1.2m.9 0h1.2m-86.3 .1h1.2m.4 0h1.2m14.4 0h1.2m.4 0h1.2m5.5 0h1.2m4.6 0h1.2m3.5 0h1.2m6.8 0h1.2m.7 0h1.2m3.8 0h1.2m1.1 0h1.2m19 0h1.2m20 0h1.2m-97.6 .1h1.2m-.7 0h1.2m3.1 0h1.2m29.7 0h1.2m5.2 0h1.2m1.1 0h1.2m16.6 0h1.2m-.8 0h1.2m10.5 0h1.2m10.3 0h1.2m1.7 0h1.2m5.4 0h1.2m-89.5 .1h1.2m11.2 0h1.2m4 0h1.2m-.1 0h1.2m-.2 0h1.2m8.6 0h1.2m3.3 0h1.2m.8 0h1.2m25.2 0h1.2m6.5 0h1.2m10.9 0h1.2m-87 .1h1.2m6 0h1.2m4.4 0h1.2m1.4 0h1.2m7.4 0h1.2m-1.1 0h1.2m37.9 0h1.2m.9 0h1.2m12.3 0h1.2m7 0h1.2m-.3 0h1.2m3.2 0h1.2m-94.9 .1h1.2m-.9 0h1.2m7 0h1.2m15.7 0h1.2m8 0h1.2m.3 0h1.2m8.8 0h1.2m3.8 0h1.2m17.6 0h1.2m-.2 0h1.2m12 0h1.2m-81.9 .1h1.2m3.6 0h1.2m.1 0h1.2m-.9 0h1.2m23.1 0h1.2m2.8 0h1.2m-.8 0h1.2m3.8 0h1.2m4.8 0h1.2m1.7 0h1.2m.6 0h1.2m3.9 0h1.2m5.7 0h1.2m2.9 0h1.2m6 0h1.2m9.1 0h1.2m4.5 0h1.2m-97.8 .1h1.2m27.7 0h1.2m10.9 0h1.2m11.1 0h1.2m0 0h1.2m8.7 0h1.2m-.1 0h1.2m22.7 0h1.2m-89.4 .1h1.2m7.2 0h1.2m4.6 0h1.2m3.5 0h1.2m6.6 0h1.2m3.7 0h1.2m2.7 0h1.2m5.2 0h1.2m.3 0h1.2m3.7 0h1.2m11.8 0h1.2m2.3 0h1.2m16.5 0h1.2m2.4 0h1.2m-94.5 .1h1.2m9.6 0h1.2m24.5 0h1.2m8.8 0h1.2m11.2 0h1.2m20.6 0h1.2m3.2 0h1.2m2.8 0h1.2m3 0h1.2m.2 0h1.2m-.7 0h1.2m-96.2 .1h1.2m-.7 0h1.2m5.5 0h1.2m8 0h1.2m9 0h1.2m4.5 0h1.2m-1.1 0h1.2m0 0h1.2m.6 0h1.2m2.5 0h1.2m0 0h1.2m1.2 0h1.2m1.9 0h1.2m20.2 0h1.2m3 0h1.2m5.6 0h1.2m6.8 0h1.2m.3 0h1.2m5.4 0h1.2m-87 .1h1.2m3.1 0h1.2m5.4 0h1.2m8.9 0h1.2m2.5 0h1.2m3.5 0h1.2m4.9 0h1.2m2.8 0h1.2m.9 0h1.2m3.8 0h1.2m2.5 0h1.2m18.1 0h1.2m.7 0h1.2m2 0h1.2m1 0h1.2m3.7 0h1.2m-85.2 .1h1.2m8.6 0h1.2m26.4 0h1.2m14.1 0h1.2m1.7 0h1.2m.6 0h1.2m2.2 0h1.2m1.3 0h1.2m13.4 0h1.2m6 0h1.2m-84.9 .1h1.2m3.4 0h1.2m13.2 0h1.2m1.8 0h1.2m2.4 0h1.2m8.1 0h1.2m2.9 0h1.2m4.8 0h1.2m7.3 0h1.2m.9 0h1.2m-.8 0h1.2m1.6 0h1.2m25.6 0h1.2m7.4 0h1.2m-95.3 .1h1.2m-1 0h1.2m2.5 0h1.2m3.3 0h1.2m32.8 0h1.2m6.8 0h1.2m5.4 0h1.2m3 0h1.2m10.2 0h1.2m14.2 0h1.2m-.4 0h1.2m-85.2 .1h1.2m12 0h1.2m-.3 0h1.2m2.3 0h1.2m11.7 0h1.2m4.8 0h1.2m1.1 0h1.2m.9 0h1.2m-.7 0h1.2m3.9 0h1.2m1.4 0h1.2m5.8 0h1.2m17.1 0h1.2m-80 .1h1.2m24 0h1.2m2.9 0h1.2m7.7 0h1.2m13.2 0h1.2m11.9 0h1.2m-75.3 .1h1.2m6.3 0h1.2m3.1 0h1.2m3.4 0h1.2m5.9 0h1.2m7.8 0h1.2m0 0h1.2m-.9 0h1.2m.9 0h1.2m13 0h1.2m1.7 0h1.2m4.6 0h1.2m17 0h1.2m1.1 0h1.2m7.1 0h1.2m-.4 0h1.2m3.8 0h1.2m-88.8 .1h1.2m.7 0h1.2m-.4 0h1.2m7.5 0h1.2m3.6 0h1.2m5 0h1.2m.9 0h1.2m1.5 0h1.2m9.7 0h1.2m21.9 0h1.2m2.4 0h1.2m5.9 0h1.2m4.6 0h1.2m4.2 0h1.2m.1 0h1.2m1.6 0h1.2m-73 .1h1.2m2.3 0h1.2m-.8 0h1.2m-.2 0h1.2m6.1 0h1.2m28.8 0h1.2m9.5 0h1.2m1.4 0h1.2m.3 0h1.2m.7 0h1.2m0 0h1.2m3.3 0h1.2m1.3 0h1.2m.3 0h1.2m-84.4 .1h1.2m4.1 0h1.2m1.1 0h1.2m10.5 0h1.2m5.4 0h1.2m18.5 0h1.2m-1.1 0h1.2m-1 0h1.2m2.9 0h1.2m-.4 0h1.2m5.2 0h1.2m8.7 0h1.2m-1.2 0h1.2m-.6 0h1.2m1 0h1.2m6.2 0h1.2m-.3 0h1.2m16.2 0h1.2m-87.5 .1h1.2m.7 0h1.2m7.8 0h1.2m18.3 0h1.2m2.1 0h1.2m3 0h1.2m23.3 0h1.2m5.1 0h1.2m-.8 0h1.2m.8 0h1.2m-79.8 .1h1.2m16.7 0h1.2m-.7 0h1.2m-.5 0h1.2m5.8 0h1.2m5.2 0h1.2m11.9 0h1.2m-.9 0h1.2m1 0h1.2m-.1 0h1.2m-.7 0h1.2m2.2 0h1.2m.2 0h1.2m-1.1 0h1.2m-.5 0h1.2m.4 0h1.2m18.5 0h1.2m-68.3 .1h1.2m.3 0h1.2m-1 0h1.2m10.6 0h1.2m2.8 0h1.2m10.4 0h1.2m-1.1 0h1.2m3 0h1.2m2.8 0h1.2m.3 0h1.2m2.8 0h1.2m5.8 0h1.2m11.9 0h1.2m.3 0h1.2m1.8 0h1.2m-80.3 .1h1.2m.2 0h1.2m-1.1 0h1.2m13.9 0h1.2m7.5 0h1.2m2.7 0h1.2m14.5 0h1.2m-1.2 0h1.2m-.5 0h1.2m1.7 0h1.2m.2 0h1.2m3.9 0h1.2m4.7 0h1.2m14.3 0h1.2m2.3 0h1.2m.8 0h1.2m-61.3 .1h1.2m3.4 0h1.2m-.6 0h1.2m6.3 0h1.2m4.4 0h1.2m.3 0h1.2m6.5 0h1.2m.4 0h1.2m32.9 0h1.2m13.1 0h1.2m-107.1 .1h1.2m8.8 0h1.2m-.4 0h1.2m1.9 0h1.2m9.6 0h1.2m2.4 0h1.2m5.8 0h1.2m1.8 0h1.2m22.5 0h1.2m10.6 0h1.2m.2 0h1.2m2.4 0h1.2m4.7 0h1.2m-.3 0h1.2m4.2 0h1.2m1.8 0h1.2m-87.9 .1h1.2m.3 0h1.2m-1.1 0h1.2m4.9 0h1.2m-.4 0h1.2m9.2 0h1.2m.8 0h1.2m4 0h1.2m1.7 0h1.2m.8 0h1.2m.6 0h1.2m8.1 0h1.2m-.6 0h1.2m6.8 0h1.2m1 0h1.2m-.9 0h1.2m7.7 0h1.2m3.5 0h1.2m10.4 0h1.2m4.8 0h1.2m.7 0h1.2m2.4 0h1.2m4.4 0h1.2m-93.7 .1h1.2m6.1 0h1.2m15.4 0h1.2m2.6 0h1.2m5.4 0h1.2m2.7 0h1.2m8.4 0h1.2m3.3 0h1.2m6.6 0h1.2m1.3 0h1.2m3.5 0h1.2m-.3 0h1.2m12.7 0h1.2m3.7 0h1.2m-81.9 .1h1.2m1.5 0h1.2m-.3 0h1.2m1.2 0h1.2m5 0h1.2m-.6 0h1.2m1 0h1.2m21.2 0h1.2m1.7 0h1.2m2.8 0h1.2m.7 0h1.2m-.4 0h1.2m3 0h1.2m.7 0h1.2m6.8 0h1.2m1.3 0h1.2m1.9 0h1.2m1 0h1.2m.1 0h1.2m17.4 0h1.2m-1.2 0h1.2m-95.9 .1h1.2m3.8 0h1.2m-.1 0h1.2m-1.2 0h1.2m.6 0h1.2m-.8 0h1.2m-1.2 0h1.2m1.7 0h1.2m2.9 0h1.2m8.3 0h1.2m1 0h1.2m1.9 0h1.2m0 0h1.2m.8 0h1.2m15.4 0h1.2m5.4 0h1.2m1.2 0h1.2m-1 0h1.2m.9 0h1.2m4 0h1.2m8 0h1.2m2 0h1.2m-81 .1h1.2m6.5 0h1.2m25.3 0h1.2m0 0h1.2m6.7 0h1.2m18.4 0h1.2m1.1 0h1.2m-1 0h1.2m.9 0h1.2m5.6 0h1.2m1 0h1.2m2.9 0h1.2m11.2 0h1.2m-97.8 .1h1.2m17.4 0h1.2m22.5 0h1.2m5 0h1.2m4.2 0h1.2m8.8 0h1.2m.7 0h1.2m.7 0h1.2m-1.2 0h1.2m4.5 0h1.2m5 0h1.2m.6 0h1.2m1 0h1.2m1.9 0h1.2m3.1 0h1.2m-73.8 .1h1.2m4.6 0h1.2m15.2 0h1.2m2.4 0h1.2m4.6 0h1.2m3 0h1.2m5.7 0h1.2m1.1 0h1.2m3.2 0h1.2m.5 0h1.2m-1 0h1.2m4 0h1.2m.1 0h1.2m6.8 0h1.2m-.5 0h1.2m-.2 0h1.2m-87 .1h1.2m-.3 0h1.2m.1 0h1.2m2.4 0h1.2m1.2 0h1.2m10.4 0h1.2m-.4 0h1.2m1.5 0h1.2m12.3 0h1.2m14.6 0h1.2m8.7 0h1.2m15.6 0h1.2m10.9 0h1.2m-98.1 .1h1.2m12.1 0h1.2m14.6 0h1.2m1.6 0h1.2m1.1 0h1.2m7 0h1.2m13.2 0h1.2m4.5 0h1.2m17.7 0h1.2m19.1 0h1.2m-95.3 .1h1.2m3.6 0h1.2m3.5 0h1.2m4.5 0h1.2m21.4 0h1.2m37.2 0h1.2m4.5 0h1.2m-82.8 .1h1.2m3.1 0h1.2m4.1 0h1.2m.3 0h1.2m1.4 0h1.2m10.2 0h1.2m.3 0h1.2m.7 0h1.2m.1 0h1.2m-.5 0h1.2m.5 0h1.2m9.8 0h1.2m-.5 0h1.2m26.3 0h1.2m3.3 0h1.2m.2 0h1.2m6.2 0h1.2m-84.7 .1h1.2m.2 0h1.2m23.8 0h1.2m49.1 0h1.2m4.5 0h1.2m-.5 0h1.2m-84.9 .1h1.2m8.7 0h1.2m14.4 0h1.2m2.1 0h1.2m.9 0h1.2m-.6 0h1.2m-1.2 0h1.2m6.4 0h1.2m4.9 0h1.2m-1.1 0h1.2m9 0h1.2m3.9 0h1.2m0 0h1.2m15.1 0h1.2m.2 0h1.2m-.6 0h1.2m-.6 0h1.2m-.8 0h1.2m-91.5 .1h1.2m6.8 0h1.2m17.1 0h1.2m3.7 0h1.2m4.7 0h1.2m2.4 0h1.2m-.6 0h1.2m9.2 0h1.2m7.9 0h1.2m3.6 0h1.2m1.7 0h1.2m2.5 0h1.2m7.8 0h1.2m9.1 0h1.2m.1 0h1.2m.1 0h1.2m-83.3 .1h1.2m-.5 0h1.2m2.7 0h1.2m19.9 0h1.2m-1.1 0h1.2m-.4 0h1.2m4.8 0h1.2m.1 0h1.2m-.7 0h1.2m14 0h1.2m31.8 0h1.2m6.5 0h1.2m-95.9 .1h1.2m3.4 0h1.2m12.5 0h1.2m-.9 0h1.2m.4 0h1.2m2.4 0h1.2m1.4 0h1.2m2.6 0h1.2m-.2 0h1.2m7.2 0h1.2m2.1 0h1.2m0 0h1.2m-.5 0h1.2m4.4 0h1.2m4.6 0h1.2m4.1 0h1.2m5.3 0h1.2m15.6 0h1.2m-59.7 .1h1.2m12.9 0h1.2m1.1 0h1.2m-.3 0h1.2m9.8 0h1.2m-.7 0h1.2m7.8 0h1.2m.4 0h1.2m3.9 0h1.2m1.9 0h1.2m3.3 0h1.2m-.9 0h1.2m7.6 0h1.2m-90.1 .1h1.2m-.6 0h1.2m.2 0h1.2m1.2 0h1.2m-.4 0h1.2m.3 0h1.2m.8 0h1.2m-.5 0h1.2m2.3 0h1.2m10.5 0h1.2m19.7 0h1.2m5.8 0h1.2m-1.1 0h1.2m.1 0h1.2m7.8 0h1.2m5.5 0h1.2m6.4 0h1.2m1.8 0h1.2m15.8 0h1.2m-104.1 .1h1.2m10.3 0h1.2m2.3 0h1.2m.5 0h1.2m1.5 0h1.2m18.1 0h1.2m0 0h1.2m2.3 0h1.2m-.2 0h1.2m-.3 0h1.2m.6 0h1.2m5 0h1.2m3.4 0h1.2m1.6 0h1.2m-.1 0h1.2m14.7 0h1.2m.3 0h1.2m-1.1 0h1.2m-.7 0h1.2m-73.8 .1h1.2m18.3 0h1.2m10.1 0h1.2m5.4 0h1.2m1.6 0h1.2m2.7 0h1.2m1.6 0h1.2m2 0h1.2m14.3 0h1.2m-.2 0h1.2m4.7 0h1.2m-63.7 .1h1.2m-.8 0h1.2m2.4 0h1.2m1.2 0h1.2m3.6 0h1.2m7.6 0h1.2m-.5 0h1.2m7 0h1.2m1 0h1.2m20.4 0h1.2m2.7 0h1.2m13.5 0h1.2m5 0h1.2m-.9 0h1.2m1.2 0h1.2m-92.3 .1h1.2m6.9 0h1.2m.4 0h1.2m2.1 0h1.2m4 0h1.2m16.8 0h1.2m.3 0h1.2m1.7 0h1.2m5.6 0h1.2m2.4 0h1.2m2 0h1.2m-.6 0h1.2m8.5 0h1.2m-.2 0h1.2m4.6 0h1.2m11.9 0h1.2m4.4 0h1.2m-.3 0h1.2m-90.7 .1h1.2m.4 0h1.2m-.3 0h1.2m6 0h1.2m-.9 0h1.2m1.4 0h1.2m.6 0h1.2m23.2 0h1.2m15 0h1.2m-64.3 .1h1.2m-.6 0h1.2m8.8 0h1.2m7 0h1.2m5.3 0h1.2m3.3 0h1.2m10.7 0h1.2m.7 0h1.2m16 0h1.2m-.1 0h1.2m-.9 0h1.2m18 0h1.2m-.8 0h1.2m.4 0h1.2m-83.9 .1h1.2m9 0h1.2m1.2 0h1.2m4.5 0h1.2m17.8 0h1.2m3.7 0h1.2m4.5 0h1.2m2.2 0h1.2m1.2 0h1.2m3.1 0h1.2m.2 0h1.2m2.1 0h1.2m-.2 0h1.2m-1 0h1.2m1.3 0h1.2m3.4 0h1.2m9.7 0h1.2m4.1 0h1.2m-.9 0h1.2m5 0h1.2m-95.8 .1h1.2m-1 0h1.2m5.5 0h1.2m7.8 0h1.2m0 0h1.2m3.4 0h1.2m8.9 0h1.2m7 0h1.2m1.4 0h1.2m10.9 0h1.2m19.4 0h1.2m10.6 0h1.2m4.8 0h1.2m.1 0h1.2m2 0h1.2m6.3 0h1.2m-106 .1h1.2m-.5 0h1.2m4 0h1.2m8.2 0h1.2m2 0h1.2m-.6 0h1.2m.6 0h1.2m14.3 0h1.2m7.5 0h1.2m-.1 0h1.2m-.6 0h1.2m2.9 0h1.2m7.8 0h1.2m8.7 0h1.2m-.3 0h1.2m1.8 0h1.2m12.1 0h1.2m3.7 0h1.2m.3 0h1.2m-1.1 0h1.2m-83.2 .1h1.2m1 0h1.2m12.7 0h1.2m-.8 0h1.2m6.9 0h1.2m7.8 0h1.2m5.7 0h1.2m1.3 0h1.2m5.9 0h1.2m15.6 0h1.2m12.8 0h1.2m3.5 0h1.2m4.2 0h1.2m-103.7 .1h1.2m12.8 0h1.2m14.3 0h1.2m5.7 0h1.2m-1.1 0h1.2m7.3 0h1.2m1.7 0h1.2m11.4 0h1.2m1.6 0h1.2m5.6 0h1.2m4.8 0h1.2m3.1 0h1.2m1 0h1.2m5.9 0h1.2m4.1 0h1.2m6 0h1.2m-86.5 .1h1.2m3.3 0h1.2m6.6 0h1.2m-.9 0h1.2m3.8 0h1.2m.2 0h1.2m-1 0h1.2m1 0h1.2m10.2 0h1.2m2.7 0h1.2m12 0h1.2m13.4 0h1.2m-.9 0h1.2m3.2 0h1.2m.8 0h1.2m3.3 0h1.2m-1 0h1.2m3.5 0h1.2m-92.6 .1h1.2m.6 0h1.2m-1 0h1.2m-1 0h1.2m-1.2 0h1.2m.7 0h1.2m6.5 0h1.2m-.3 0h1.2m2.1 0h1.2m-1.1 0h1.2m8.1 0h1.2m7.9 0h1.2m18.8 0h1.2m6.6 0h1.2m2.4 0h1.2m28.7 0h1.2m2.5 0h1.2m-106.6 .1h1.2m6.6 0h1.2m-.2 0h1.2m.7 0h1.2m5.1 0h1.2m3.6 0h1.2m3.8 0h1.2m31.8 0h1.2m1.7 0h1.2m4.1 0h1.2m4.8 0h1.2m4.2 0h1.2m10.7 0h1.2m1.6 0h1.2m-.6 0h1.2m1 0h1.2m-97.7 .1h1.2m15.4 0h1.2m-1.1 0h1.2m-.4 0h1.2m13.1 0h1.2m12.1 0h1.2m.2 0h1.2m1.5 0h1.2m21.9 0h1.2m.9 0h1.2m-.6 0h1.2m-1 0h1.2m-.6 0h1.2m3.8 0h1.2m3.2 0h1.2m-.9 0h1.2m-.6 0h1.2m4 0h1.2m-.3 0h1.2m-86.3 .1h1.2m.9 0h1.2m-.5 0h1.2m4.8 0h1.2m8 0h1.2m9.4 0h1.2m4.4 0h1.2m-.9 0h1.2m5.1 0h1.2m.1 0h1.2m.8 0h1.2m8.3 0h1.2m2 0h1.2m17.7 0h1.2m6.8 0h1.2m3.3 0h1.2m-1 0h1.2m1.1 0h1.2m5.1 0h1.2m-1.1 0h1.2m-105.8 .1h1.2m-.9 0h1.2m-1 0h1.2m5 0h1.2m.5 0h1.2m-1 0h1.2m.1 0h1.2m5.2 0h1.2m-.6 0h1.2m13.3 0h1.2m5.5 0h1.2m2.4 0h1.2m1.6 0h1.2m.6 0h1.2m1.3 0h1.2m.9 0h1.2m8.1 0h1.2m5.4 0h1.2m1.5 0h1.2m6.8 0h1.2m4 0h1.2m2 0h1.2m4.4 0h1.2m-.8 0h1.2m4.1 0h1.2m-98.5 .1h1.2m11.5 0h1.2m6.2 0h1.2m9.8 0h1.2m10.4 0h1.2m.7 0h1.2m7.5 0h1.2m5.2 0h1.2m.7 0h1.2m8.5 0h1.2m-.1 0h1.2m3.6 0h1.2m-.7 0h1.2m.7 0h1.2m-.3 0h1.2m5 0h1.2m9.6 0h1.2m-91.4 .1h1.2m-1 0h1.2m-.9 0h1.2m.6 0h1.2m4.4 0h1.2m8.4 0h1.2m2 0h1.2m9.2 0h1.2m2.1 0h1.2m4.6 0h1.2m1.5 0h1.2m25.9 0h1.2m-.1 0h1.2m.3 0h1.2m4.7 0h1.2m4.8 0h1.2m1.6 0h1.2m-88 .1h1.2m-.1 0h1.2m18.3 0h1.2m13.9 0h1.2m.7 0h1.2m-.3 0h1.2m-.7 0h1.2m23.2 0h1.2m19.6 0h1.2m4.1 0h1.2m-84.4 .1h1.2m12.2 0h1.2m2.2 0h1.2m5.4 0h1.2m-.2 0h1.2m24.7 0h1.2m9.2 0h1.2m2.9 0h1.2m-.8 0h1.2m-1 0h1.2m4.9 0h1.2m1.3 0h1.2m2.7 0h1.2m.7 0h1.2m.5 0h1.2m-88 .1h1.2m14.2 0h1.2m3.2 0h1.2m1.2 0h1.2m12.9 0h1.2m-.5 0h1.2m3.9 0h1.2m-.1 0h1.2m1.2 0h1.2m6.1 0h1.2m4.3 0h1.2m4.5 0h1.2m6.9 0h1.2m8.5 0h1.2m4.4 0h1.2m-.4 0h1.2m-99.3 .1h1.2m17.9 0h1.2m19.9 0h1.2m-.3 0h1.2m1 0h1.2m-.3 0h1.2m4.6 0h1.2m11.4 0h1.2m.9 0h1.2m-1.2 0h1.2m-.7 0h1.2m7.3 0h1.2m-.1 0h1.2m1.3 0h1.2m2.5 0h1.2m5.9 0h1.2m0 0h1.2m8.3 0h1.2m-90 .1h1.2m-.9 0h1.2m25.6 0h1.2m1.9 0h1.2m.7 0h1.2m2.3 0h1.2m25.4 0h1.2m-.1 0h1.2m.4 0h1.2m2.8 0h1.2m3.1 0h1.2m2.5 0h1.2m18 0h1.2m-86.3 .1h1.2m10.4 0h1.2m18.2 0h1.2m-.2 0h1.2m.8 0h1.2m18.4 0h1.2m.2 0h1.2m-1 0h1.2m2.7 0h1.2m8.6 0h1.2m3.7 0h1.2m-1.2 0h1.2m.9 0h1.2m0 0h1.2m-91.4 .1h1.2m1.1 0h1.2m20.9 0h1.2m1.9 0h1.2m.3 0h1.2m-.5 0h1.2m3.5 0h1.2m3.1 0h1.2m15.2 0h1.2m.7 0h1.2m12 0h1.2m-.4 0h1.2m8.4 0h1.2m-88.8 .1h1.2m7.2 0h1.2m19 0h1.2m.3 0h1.2m-1.2 0h1.2m.5 0h1.2m1.1 0h1.2m4.2 0h1.2m11.2 0h1.2m9.3 0h1.2m-.3 0h1.2m-.6 0h1.2m1.8 0h1.2m-.9 0h1.2m3.5 0h1.2m2.5 0h1.2m5 0h1.2m7.8 0h1.2m2 0h1.2m-1.1 0h1.2m-80 .1h1.2m5.5 0h1.2m8.7 0h1.2m4.4 0h1.2m4.8 0h1.2m2.8 0h1.2m21.6 0h1.2m0 0h1.2m.4 0h1.2m.1 0h1.2m16.7 0h1.2m2 0h1.2m-.9 0h1.2m-89.1 .1h1.2m-.1 0h1.2m18.2 0h1.2m2.1 0h1.2m1.2 0h1.2m.6 0h1.2m.2 0h1.2m2.3 0h1.2m-1.1 0h1.2m9.5 0h1.2m3.5 0h1.2m2.8 0h1.2m1.4 0h1.2m23.2 0h1.2m3.3 0h1.2m1.4 0h1.2m.6 0h1.2m.2 0h1.2m-.7 0h1.2m-90.8 .1h1.2m13.3 0h1.2m12.2 0h1.2m1 0h1.2m11.6 0h1.2m3.7 0h1.2m15.2 0h1.2m6.2 0h1.2m-.3 0h1.2m7.5 0h1.2m2.1 0h1.2m3.3 0h1.2m6.8 0h1.2m-1.1 0h1.2m-89 .1h1.2m-1 0h1.2m23.6 0h1.2m0 0h1.2m-.9 0h1.2m3.8 0h1.2m3.9 0h1.2m11.5 0h1.2m1.9 0h1.2m6.5 0h1.2m2 0h1.2m-.2 0h1.2m8.9 0h1.2m1.2 0h1.2m1 0h1.2m-.9 0h1.2m-84.2 .1h1.2m2 0h1.2m-.9 0h1.2m3.7 0h1.2m6.1 0h1.2m-.1 0h1.2m2.6 0h1.2m.8 0h1.2m-.5 0h1.2m-.8 0h1.2m5.3 0h1.2m-.4 0h1.2m3.6 0h1.2m0 0h1.2m12.4 0h1.2m2.2 0h1.2m1.8 0h1.2m2.5 0h1.2m-.5 0h1.2m17.7 0h1.2m-85.1 .1h1.2m30.2 0h1.2m-.2 0h1.2m1.7 0h1.2m-.5 0h1.2m-.6 0h1.2m3.1 0h1.2m10.3 0h1.2m1.5 0h1.2m9.5 0h1.2m.6 0h1.2m18.2 0h1.2m-98.3 .1h1.2m6.6 0h1.2m0 0h1.2m7 0h1.2m1.7 0h1.2m1.1 0h1.2m8.1 0h1.2m14.3 0h1.2m4.2 0h1.2m10.3 0h1.2m-.7 0h1.2m4 0h1.2m4.8 0h1.2m.7 0h1.2m7.2 0h1.2m-80.5 .1h1.2m4.6 0h1.2m8.8 0h1.2m18.3 0h1.2m9.9 0h1.2m9.5 0h1.2m-.5 0h1.2m16.5 0h1.2m5.2 0h1.2m6.6 0h1.2m-91.6 .1h1.2m14.8 0h1.2m2 0h1.2m3.3 0h1.2m-.5 0h1.2m4.1 0h1.2m1.4 0h1.2m1.1 0h1.2m0 0h1.2m2.5 0h1.2m-.8 0h1.2m-1.1 0h1.2m5.1 0h1.2m0 0h1.2m15 0h1.2m6.2 0h1.2m12 0h1.2m-.1 0h1.2m-.8 0h1.2m1.1 0h1.2m1.8 0h1.2m-85.9 .1h1.2m1 0h1.2m20.7 0h1.2m9.7 0h1.2m19.5 0h1.2m7 0h1.2m1.3 0h1.2m.6 0h1.2m1.3 0h1.2m-1.1 0h1.2m3 0h1.2m4.3 0h1.2m2.6 0h1.2m-89.1 .1h1.2m.4 0h1.2m20.1 0h1.2m7.4 0h1.2m10.2 0h1.2m9.3 0h1.2m3.6 0h1.2m-1 0h1.2m6.6 0h1.2m17.5 0h1.2m-86.2 .1h1.2m15.2 0h1.2m11 0h1.2m5.5 0h1.2m.6 0h1.2m2.2 0h1.2m10.9 0h1.2m.6 0h1.2m8 0h1.2m4.5 0h1.2m9.3 0h1.2m-.6 0h1.2m7.7 0h1.2m-91.6 .1h1.2m5.1 0h1.2m6.2 0h1.2m23.4 0h1.2m-.9 0h1.2m-1.1 0h1.2m-.6 0h1.2m5.9 0h1.2m.9 0h1.2m5.3 0h1.2m-.5 0h1.2m7.5 0h1.2m-.4 0h1.2m-.5 0h1.2m10.9 0h1.2m4 0h1.2m3.5 0h1.2m-85.8 .1h1.2m19 0h1.2m1.8 0h1.2m3.1 0h1.2m5.7 0h1.2m7.1 0h1.2m6 0h1.2m-.6 0h1.2m3.9 0h1.2m-.3 0h1.2m.8 0h1.2m10.1 0h1.2m3.8 0h1.2m1.6 0h1.2m2.1 0h1.2m2.5 0h1.2m-87.5 .1h1.2m3.3 0h1.2m7.9 0h1.2m5.7 0h1.2m11.3 0h1.2m4.1 0h1.2m12.1 0h1.2m.5 0h1.2m-.1 0h1.2m-.2 0h1.2m.4 0h1.2m8.9 0h1.2m0 0h1.2m.2 0h1.2m5.4 0h1.2m4.6 0h1.2m1.7 0h1.2m-.9 0h1.2m-87.9 .1h1.2m20.3 0h1.2m7.5 0h1.2m3.2 0h1.2m1 0h1.2m1.7 0h1.2m7.1 0h1.2m2.9 0h1.2m-.4 0h1.2m5 0h1.2m2.3 0h1.2m2.3 0h1.2m5.6 0h1.2m4.4 0h1.2m-80.2 .1h1.2m2.2 0h1.2m27.1 0h1.2m3.4 0h1.2m2 0h1.2m16.1 0h1.2m6.5 0h1.2m1.8 0h1.2m3.7 0h1.2m-1 0h1.2m7.6 0h1.2m1.4 0h1.2m.7 0h1.2m-.5 0h1.2m.7 0h1.2m-79.6 .1h1.2m5.4 0h1.2m-.3 0h1.2m3.4 0h1.2m9 0h1.2m10.4 0h1.2m18.3 0h1.2m-.9 0h1.2m4.7 0h1.2m13.3 0h1.2m2.5 0h1.2m0 0h1.2m-84.9 .1h1.2m16.3 0h1.2m-.7 0h1.2m23.5 0h1.2m-1.1 0h1.2m11.3 0h1.2m1.7 0h1.2m0 0h1.2m8.3 0h1.2m-76.2 .1h1.2m2.8 0h1.2m.4 0h1.2m.8 0h1.2m11.8 0h1.2m31.3 0h1.2m6.3 0h1.2m8.8 0h1.2m-.5 0h1.2m6.2 0h1.2m2.2 0h1.2m7.9 0h1.2m-93.1 .1h1.2m-1.1 0h1.2m0 0h1.2m-.9 0h1.2m10.7 0h1.2m.9 0h1.2m9.2 0h1.2m.9 0h1.2m8.2 0h1.2m.4 0h1.2m-.4 0h1.2m1 0h1.2m3.2 0h1.2m9.5 0h1.2m3.2 0h1.2m.9 0h1.2m17.5 0h1.2m3.1 0h1.2m.9 0h1.2m-.8 0h1.2m-90.1 .1h1.2m20.2 0h1.2m.6 0h1.2m9.1 0h1.2m1.6 0h1.2m5.7 0h1.2m21.4 0h1.2m-.8 0h1.2m-.9 0h1.2m-.8 0h1.2m16.3 0h1.2m-74.4 .1h1.2m-1 0h1.2m4.4 0h1.2m3.3 0h1.2m7.4 0h1.2m9.3 0h1.2m1.8 0h1.2m-.4 0h1.2m12.1 0h1.2m5 0h1.2m1.7 0h1.2m1.8 0h1.2m3.7 0h1.2m-69.8 .1h1.2m.2 0h1.2m-.6 0h1.2m12 0h1.2m13 0h1.2m-.5 0h1.2m-1.2 0h1.2m5.1 0h1.2m9.8 0h1.2m3 0h1.2m1.2 0h1.2m5.5 0h1.2m3 0h1.2m4.4 0h1.2m-1.2 0h1.2m4.3 0h1.2m-.9 0h1.2m-.7 0h1.2m1.7 0h1.2m-83.5 .1h1.2m3.7 0h1.2m23.2 0h1.2m-.3 0h1.2m4.7 0h1.2m4 0h1.2m.3 0h1.2m24.4 0h1.2m3.9 0h1.2m4.6 0h1.2m2.9 0h1.2m1.9 0h1.2m-98.1 .1h1.2m11.8 0h1.2m3.8 0h1.2m-.8 0h1.2m3.3 0h1.2m13.9 0h1.2m2.8 0h1.2m-.9 0h1.2m-.9 0h1.2m4 0h1.2m15.2 0h1.2m12.9 0h1.2m11.7 0h1.2m.5 0h1.2m-.3 0h1.2m1.3 0h1.2m1.2 0h1.2m-85.8 .1h1.2m3.3 0h1.2m20.8 0h1.2m4.7 0h1.2m-.6 0h1.2m2 0h1.2m3 0h1.2m1 0h1.2m3.2 0h1.2m-.8 0h1.2m1.1 0h1.2m3.5 0h1.2m5.3 0h1.2m2.9 0h1.2m-.7 0h1.2m.2 0h1.2m1 0h1.2m-1 0h1.2m4.5 0h1.2m2 0h1.2m-.4 0h1.2m-75.7 .1h1.2m.6 0h1.2m14.5 0h1.2m4.6 0h1.2m10.9 0h1.2m15.1 0h1.2m-.7 0h1.2m10.9 0h1.2m8.8 0h1.2m3 0h1.2m-91.4 .1h1.2m-1 0h1.2m-1.2 0h1.2m2 0h1.2m3 0h1.2m-.2 0h1.2m-1.1 0h1.2m7.8 0h1.2m3 0h1.2m8.1 0h1.2m8.1 0h1.2m19.3 0h1.2m-1.1 0h1.2m8.5 0h1.2m1.3 0h1.2m-.1 0h1.2m7 0h1.2m2.2 0h1.2m0 0h1.2m-89 .1h1.2m5.8 0h1.2m8.4 0h1.2m.3 0h1.2m.2 0h1.2m7.8 0h1.2m.4 0h1.2m-.7 0h1.2m6.3 0h1.2m4 0h1.2m27.6 0h1.2m12.8 0h1.2m-.7 0h1.2m-.5 0h1.2m-86 .1h1.2m-.8 0h1.2m-1 0h1.2m.2 0h1.2m2.8 0h1.2m12.5 0h1.2m7.8 0h1.2m.1 0h1.2m1.8 0h1.2m8.6 0h1.2m-.9 0h1.2m2.9 0h1.2m20.9 0h1.2m6.9 0h1.2m9.8 0h1.2m-.8 0h1.2m-92 .1h1.2m-.7 0h1.2m2.1 0h1.2m11.3 0h1.2m5.9 0h1.2m9 0h1.2m3.1 0h1.2m.1 0h1.2m4.8 0h1.2m10.4 0h1.2m6.7 0h1.2m1 0h1.2m2.8 0h1.2m7.8 0h1.2m.7 0h1.2m-76.4 .1h1.2m9.2 0h1.2m9.6 0h1.2m3 0h1.2m5.4 0h1.2m5.4 0h1.2m.4 0h1.2m8.1 0h1.2m-.7 0h1.2m.6 0h1.2m7.5 0h1.2m2.3 0h1.2m-.2 0h1.2m.1 0h1.2m2.3 0h1.2m-75 .1h1.2m4.7 0h1.2m5.8 0h1.2m.5 0h1.2m11.6 0h1.2m.4 0h1.2m3.1 0h1.2m8.8 0h1.2m9.4 0h1.2m1.2 0h1.2m.9 0h1.2m-1 0h1.2m3 0h1.2m14 0h1.2m-.5 0h1.2m4.1 0h1.2m3.2 0h1.2m-92.3 .1h1.2m-.6 0h1.2m3.2 0h1.2m3 0h1.2m14.9 0h1.2m-.5 0h1.2m8.9 0h1.2m2 0h1.2m.7 0h1.2m32.7 0h1.2m-.7 0h1.2m9.7 0h1.2m1.4 0h1.2m-.3 0h1.2m-88.3 .1h1.2m3.3 0h1.2m-.8 0h1.2m0 0h1.2m1.9 0h1.2m3.3 0h1.2m.6 0h1.2m-.7 0h1.2m4.4 0h1.2m6.2 0h1.2m5.1 0h1.2m5.2 0h1.2m7.8 0h1.2m2.7 0h1.2m-.5 0h1.2m2.8 0h1.2m9.6 0h1.2m-.1 0h1.2m11.3 0h1.2m-.9 0h1.2m3 0h1.2m-91.7 .1h1.2m20 0h1.2m-1 0h1.2m2.5 0h1.2m5.5 0h1.2m2.9 0h1.2m34.8 0h1.2m1.3 0h1.2m4.4 0h1.2m.1 0h1.2m-.6 0h1.2m-89.9 .1h1.2m9.8 0h1.2m10.5 0h1.2m6.8 0h1.2m4.1 0h1.2m-.1 0h1.2m.5 0h1.2m1.6 0h1.2m4.1 0h1.2m15.2 0h1.2m-.9 0h1.2m2.2 0h1.2m2.8 0h1.2m2.5 0h1.2m6.8 0h1.2m7.9 0h1.2m3.4 0h1.2m21.1 0h1.2m-110.6 .1h1.2m2 0h1.2m3.8 0h1.2m-.5 0h1.2m12.4 0h1.2m3.8 0h1.2m5.5 0h1.2m.3 0h1.2m-1.2 0h1.2m4 0h1.2m.2 0h1.2m9.1 0h1.2m-.4 0h1.2m1.1 0h1.2m.9 0h1.2m3.4 0h1.2m5.9 0h1.2m.2 0h1.2m11.8 0h1.2m-88.1 .1h1.2m-.9 0h1.2m2.3 0h1.2m-1 0h1.2m2.2 0h1.2m12.8 0h1.2m.5 0h1.2m-1 0h1.2m-.2 0h1.2m5.4 0h1.2m8.9 0h1.2m5.1 0h1.2m7.8 0h1.2m5.9 0h1.2m11.1 0h1.2m9.3 0h1.2m.5 0h1.2m1.1 0h1.2m-98 .1h1.2m-1.1 0h1.2m16.6 0h1.2m5.1 0h1.2m16.4 0h1.2m.3 0h1.2m9.7 0h1.2m7.8 0h1.2m9.4 0h1.2m3.2 0h1.2m23.9 0h1.2m-104.4 .1h1.2m16.6 0h1.2m10.6 0h1.2m12.3 0h1.2m2.5 0h1.2m.5 0h1.2m4.3 0h1.2m6.5 0h1.2m.2 0h1.2m3.1 0h1.2m11.7 0h1.2m.5 0h1.2m11.4 0h1.2m1.7 0h1.2m-90.2 .1h1.2m-1 0h1.2m8.2 0h1.2m13.2 0h1.2m2.2 0h1.2m2.9 0h1.2m.6 0h1.2m2.6 0h1.2m16.2 0h1.2m-.2 0h1.2m2.7 0h1.2m4.5 0h1.2m0 0h1.2m0 0h1.2m4.7 0h1.2m5.1 0h1.2m3.5 0h1.2m3.4 0h1.2m-92.8 .1h1.2m-.5 0h1.2m.5 0h1.2m4.7 0h1.2m2.3 0h1.2m2.9 0h1.2m1.7 0h1.2m10.7 0h1.2m2.1 0h1.2m.7 0h1.2m9.2 0h1.2m7.9 0h1.2m1.7 0h1.2m9.3 0h1.2m7.1 0h1.2m2.1 0h1.2m-.5 0h1.2m1.1 0h1.2m.6 0h1.2m-.7 0h1.2m-82.4 .1h1.2m3.7 0h1.2m3.3 0h1.2m.9 0h1.2m4.9 0h1.2m5.1 0h1.2m37 0h1.2m12.8 0h1.2m1.4 0h1.2m7.6 0h1.2m-92.7 .1h1.2m0 0h1.2m.8 0h1.2m-.9 0h1.2m-1.1 0h1.2m-.6 0h1.2m20.4 0h1.2m3.1 0h1.2m-.3 0h1.2m0 0h1.2m.3 0h1.2m2.5 0h1.2m-.2 0h1.2m6.2 0h1.2m7.5 0h1.2m1 0h1.2m6.1 0h1.2m3.2 0h1.2m2.6 0h1.2m9.7 0h1.2m2.8 0h1.2m3.4 0h1.2m-92.3 .1h1.2m14.2 0h1.2m11 0h1.2m.2 0h1.2m2 0h1.2m20.6 0h1.2m8.7 0h1.2m-.6 0h1.2m-.7 0h1.2m-.4 0h1.2m4.1 0h1.2m-.6 0h1.2m8.5 0h1.2m-.1 0h1.2m2.2 0h1.2m-86.4 .1h1.2m2.1 0h1.2m1.3 0h1.2m8.4 0h1.2m-1.1 0h1.2m1 0h1.2m3.3 0h1.2m-.3 0h1.2m-.5 0h1.2m1.2 0h1.2m-1.1 0h1.2m13.7 0h1.2m.4 0h1.2m.8 0h1.2m.7 0h1.2m5.9 0h1.2m10.5 0h1.2m-.4 0h1.2m-1 0h1.2m3 0h1.2m2.2 0h1.2m4.7 0h1.2m3.8 0h1.2m.7 0h1.2m-87.6 .1h1.2m30.1 0h1.2m-.7 0h1.2m14.4 0h1.2m20.8 0h1.2m-.6 0h1.2m8.4 0h1.2m.4 0h1.2m6.1 0h1.2m-.3 0h1.2m-80.7 .1h1.2m4.8 0h1.2m-.3 0h1.2m10.3 0h1.2m-1.1 0h1.2m-.5 0h1.2m5.2 0h1.2m9 0h1.2m17.5 0h1.2m6.2 0h1.2m-.5 0h1.2m4.3 0h1.2m4.6 0h1.2m-.9 0h1.2m.7 0h1.2m.2 0h1.2m-91.2 .1h1.2m-.8 0h1.2m.5 0h1.2m-.6 0h1.2m-.8 0h1.2m.4 0h1.2m3.5 0h1.2m7.5 0h1.2m8.8 0h1.2m14.9 0h1.2m26.3 0h1.2m4.5 0h1.2m-78.4 .1h1.2m3.1 0h1.2m13.9 0h1.2m4.4 0h1.2m3.7 0h1.2m-1.1 0h1.2m-.3 0h1.2m-.1 0h1.2m6.5 0h1.2m.4 0h1.2m-.7 0h1.2m-.2 0h1.2m4.5 0h1.2m.6 0h1.2m2.8 0h1.2m-.3 0h1.2m8.8 0h1.2m.5 0h1.2m1.5 0h1.2m2.8 0h1.2m.5 0h1.2m8.4 0h1.2m5.2 0h1.2m-83.3 .1h1.2m5.5 0h1.2m11.3 0h1.2m6.2 0h1.2m-1.2 0h1.2m2.4 0h1.2m.6 0h1.2m2 0h1.2m2.4 0h1.2m1.3 0h1.2m3.3 0h1.2m4.7 0h1.2m8.1 0h1.2m5.9 0h1.2m-.9 0h1.2m-84.4 .1h1.2m-1 0h1.2m6.1 0h1.2m.3 0h1.2m20 0h1.2m9.2 0h1.2m21 0h1.2m14.8 0h1.2m-1.1 0h1.2m-.4 0h1.2m6.1 0h1.2m3.2 0h1.2m2.4 0h1.2m.4 0h1.2m-90.1 .1h1.2m4.3 0h1.2m22.6 0h1.2m-.2 0h1.2m.5 0h1.2m4.3 0h1.2m1.9 0h1.2m11.3 0h1.2m1.2 0h1.2m17.3 0h1.2m3.8 0h1.2m-.7 0h1.2m5.6 0h1.2m.9 0h1.2m-.9 0h1.2m-98.2 .1h1.2m5 0h1.2m2.8 0h1.2m9.2 0h1.2m6.9 0h1.2m6.7 0h1.2m.4 0h1.2m1.3 0h1.2m14.6 0h1.2m-.7 0h1.2m6.9 0h1.2m5.2 0h1.2m21.9 0h1.2m1.5 0h1.2m-67.3 .1h1.2m10.6 0h1.2m1.6 0h1.2m5.1 0h1.2m.4 0h1.2m-1 0h1.2m7.8 0h1.2m.7 0h1.2m2 0h1.2m12.6 0h1.2m-.9 0h1.2m5.2 0h1.2m3.6 0h1.2m-83.5 .1h1.2m8.7 0h1.2m5.9 0h1.2m8.9 0h1.2m-.8 0h1.2m2.5 0h1.2m-.2 0h1.2m4.8 0h1.2m6.4 0h1.2m5.8 0h1.2m11.9 0h1.2m-.4 0h1.2m7.5 0h1.2m-79.1 .1h1.2m.3 0h1.2m7.3 0h1.2m.4 0h1.2m-1 0h1.2m3.6 0h1.2m-.8 0h1.2m13 0h1.2m2.3 0h1.2m5.9 0h1.2m4.8 0h1.2m2.9 0h1.2m3.2 0h1.2m2.2 0h1.2m1.3 0h1.2m.1 0h1.2m1.3 0h1.2m.1 0h1.2m2.1 0h1.2m-.9 0h1.2m8.3 0h1.2m1.8 0h1.2m-.2 0h1.2m-86.7 .1h1.2m5.3 0h1.2m.5 0h1.2m1.3 0h1.2m23.3 0h1.2m-.3 0h1.2m-.6 0h1.2m6.8 0h1.2m10.9 0h1.2m7.8 0h1.2m-1 0h1.2m-1.1 0h1.2m1.1 0h1.2m17.7 0h1.2m-95.3 .1h1.2m30.1 0h1.2m5.4 0h1.2m2.4 0h1.2m-.9 0h1.2m4.8 0h1.2m-1.1 0h1.2m13.9 0h1.2m28.7 0h1.2m-94 .1h1.2m5.7 0h1.2m-1 0h1.2m2.5 0h1.2m2.4 0h1.2m-1 0h1.2m2.1 0h1.2m2.4 0h1.2m2 0h1.2m1.6 0h1.2m2.1 0h1.2m1.4 0h1.2m3.7 0h1.2m4.7 0h1.2m1.5 0h1.2m-.9 0h1.2m5.3 0h1.2m4.7 0h1.2m9 0h1.2m.1 0h1.2m1.9 0h1.2m1.8 0h1.2m.7 0h1.2m-80.9 .1h1.2m6.3 0h1.2m.4 0h1.2m-.9 0h1.2m5.2 0h1.2m6.9 0h1.2m.4 0h1.2m18.3 0h1.2m1.2 0h1.2m3.7 0h1.2m6.6 0h1.2m-.6 0h1.2m3.7 0h1.2m.9 0h1.2m-1.2 0h1.2m7.8 0h1.2m1.8 0h1.2m-1 0h1.2m6.7 0h1.2m6.3 0h1.2m1.2 0h1.2m-90.6 .1h1.2m.5 0h1.2m.2 0h1.2m5.8 0h1.2m5.7 0h1.2m-1.1 0h1.2m4.6 0h1.2m.4 0h1.2m10.9 0h1.2m-.4 0h1.2m2.5 0h1.2m-.2 0h1.2m10.7 0h1.2m7.3 0h1.2m.8 0h1.2m.8 0h1.2m-.4 0h1.2m3.3 0h1.2m.9 0h1.2m8.1 0h1.2m-1.2 0h1.2m-1.1 0h1.2m2 0h1.2m-66 .1h1.2m10.9 0h1.2m5.6 0h1.2m3.8 0h1.2m9 0h1.2m-.3 0h1.2m1.9 0h1.2m5.8 0h1.2m4.5 0h1.2m3.9 0h1.2m8.1 0h1.2m1.4 0h1.2m-.5 0h1.2m-90.5 .1h1.2m-.3 0h1.2m31.9 0h1.2m2.5 0h1.2m1.6 0h1.2m1.6 0h1.2m6.8 0h1.2m9.9 0h1.2m1.8 0h1.2m3.9 0h1.2m5.2 0h1.2m5.4 0h1.2m-75.3 .1h1.2m.8 0h1.2m2.2 0h1.2m5.9 0h1.2m6.7 0h1.2m6.7 0h1.2m-.9 0h1.2m-.6 0h1.2m.2 0h1.2m12 0h1.2m0 0h1.2m3 0h1.2m6.6 0h1.2m2.4 0h1.2m15.2 0h1.2m1 0h1.2m-88.7 .1h1.2m3.3 0h1.2m-1.2 0h1.2m2 0h1.2m3.7 0h1.2m-.9 0h1.2m.7 0h1.2m2.2 0h1.2m-1 0h1.2m4.1 0h1.2m3.8 0h1.2m-1.2 0h1.2m.9 0h1.2m3.1 0h1.2m26.6 0h1.2m1.5 0h1.2m-.8 0h1.2m-.8 0h1.2m-1.1 0h1.2m-.8 0h1.2m-.9 0h1.2m14.5 0h1.2m-1 0h1.2m24.7 0h1.2m-105.2 .1h1.2m-1.1 0h1.2m8.1 0h1.2m2.6 0h1.2m20.9 0h1.2m.2 0h1.2m20.6 0h1.2m5.9 0h1.2m1.7 0h1.2m4.2 0h1.2m-.8 0h1.2m-90.3 .1h1.2m6.1 0h1.2m-.6 0h1.2m4.9 0h1.2m-1.1 0h1.2m2.9 0h1.2m3.3 0h1.2m6.8 0h1.2m-1.2 0h1.2m-.5 0h1.2m-.2 0h1.2m4.4 0h1.2m3.7 0h1.2m2.4 0h1.2m14.3 0h1.2m-1.2 0h1.2m14.2 0h1.2m1.1 0h1.2m5.4 0h1.2m-.9 0h1.2m3.5 0h1.2m.6 0h1.2m3.6 0h1.2m-88.1 .1h1.2m6.2 0h1.2m4.6 0h1.2m4.3 0h1.2m10.7 0h1.2m-.3 0h1.2m1.2 0h1.2m5.7 0h1.2m2.4 0h1.2m2.8 0h1.2m-.2 0h1.2m19 0h1.2m12.7 0h1.2m-95.5 .1h1.2m5.4 0h1.2m.3 0h1.2m-1 0h1.2m13.8 0h1.2m6 0h1.2m-.7 0h1.2m5.4 0h1.2m-.5 0h1.2m5.5 0h1.2m.6 0h1.2m14.9 0h1.2m5.1 0h1.2m5.7 0h1.2m1.6 0h1.2m.8 0h1.2m10.5 0h1.2m-94.6 .1h1.2m5.7 0h1.2m.2 0h1.2m5.4 0h1.2m-.3 0h1.2m13.1 0h1.2m13.9 0h1.2m1.6 0h1.2m2.9 0h1.2m7.7 0h1.2m8.5 0h1.2m.4 0h1.2m.7 0h1.2m12.3 0h1.2m1 0h1.2m-85.1 .1h1.2m1.9 0h1.2m-.7 0h1.2m3.8 0h1.2m2.4 0h1.2m2.6 0h1.2m-.5 0h1.2m6.9 0h1.2m7.5 0h1.2m1.8 0h1.2m18.5 0h1.2m.4 0h1.2m.3 0h1.2m13.4 0h1.2m2 0h1.2m3.6 0h1.2m8.2 0h1.2m-97.5 .1h1.2m8.7 0h1.2m3 0h1.2m13.9 0h1.2m13.8 0h1.2m1.2 0h1.2m-1.1 0h1.2m11.7 0h1.2m6.6 0h1.2m8.1 0h1.2m.8 0h1.2m12.7 0h1.2m-86.5 .1h1.2m-.7 0h1.2m5 0h1.2m9.3 0h1.2m14.8 0h1.2m5.8 0h1.2m.5 0h1.2m9.2 0h1.2m12.5 0h1.2m5.1 0h1.2m-.9 0h1.2m4 0h1.2m10.2 0h1.2m-92.5 .1h1.2m3.8 0h1.2m6.2 0h1.2m.6 0h1.2m.9 0h1.2m-.1 0h1.2m.6 0h1.2m4.3 0h1.2m-.5 0h1.2m6.5 0h1.2m-.4 0h1.2m6.8 0h1.2m.6 0h1.2m23.9 0h1.2m1.1 0h1.2m-1.2 0h1.2m-.7 0h1.2m14.6 0h1.2m-85 .1h1.2m.8 0h1.2m29.8 0h1.2m5.4 0h1.2m1.6 0h1.2m10.6 0h1.2m8.3 0h1.2m.9 0h1.2m-1.2 0h1.2m.2 0h1.2m-.7 0h1.2m3.7 0h1.2m4.6 0h1.2m-90.4 .1h1.2m8.6 0h1.2m-.6 0h1.2m11.9 0h1.2m8 0h1.2m-.6 0h1.2m9.3 0h1.2m-.3 0h1.2m4.5 0h1.2m21.2 0h1.2m4.6 0h1.2m18.8 0h1.2m-84.6 .1h1.2m8 0h1.2m6.1 0h1.2m6.8 0h1.2m2.8 0h1.2m10.5 0h1.2m7.1 0h1.2m11.1 0h1.2m-.4 0h1.2m-.7 0h1.2m0 0h1.2m8.6 0h1.2m-76.8 .1h1.2m2.2 0h1.2m12.2 0h1.2m-1 0h1.2m-1.1 0h1.2m1.1 0h1.2m8.2 0h1.2m-1.2 0h1.2m2.1 0h1.2m7.2 0h1.2m8.8 0h1.2m-1 0h1.2m1.6 0h1.2m15.7 0h1.2m5.5 0h1.2m3.7 0h1.2m-86.6 .1h1.2m-.8 0h1.2m4.8 0h1.2m.1 0h1.2m7.4 0h1.2m5.9 0h1.2m7.6 0h1.2m1.2 0h1.2m-1.2 0h1.2m.7 0h1.2m1.6 0h1.2m.9 0h1.2m6 0h1.2m12.9 0h1.2m1 0h1.2m13.7 0h1.2m-75.2 .1h1.2m15.1 0h1.2m-.3 0h1.2m1.8 0h1.2m-.7 0h1.2m6 0h1.2m.5 0h1.2m7.2 0h1.2m-1 0h1.2m7 0h1.2m12.7 0h1.2m5.9 0h1.2m4.9 0h1.2m4.7 0h1.2m3.5 0h1.2m-98.5 .1h1.2m4.1 0h1.2m.8 0h1.2m13.1 0h1.2m2.2 0h1.2m5.3 0h1.2m7.1 0h1.2m1.7 0h1.2m17.6 0h1.2m12.3 0h1.2m2.1 0h1.2m1.1 0h1.2m-.5 0h1.2m5.1 0h1.2m4.2 0h1.2m-1.1 0h1.2m1.9 0h1.2m-90.7 .1h1.2m-.3 0h1.2m13.5 0h1.2m.9 0h1.2m5 0h1.2m6.4 0h1.2m3.9 0h1.2m27.9 0h1.2m-.6 0h1.2m6.1 0h1.2m10.7 0h1.2m-84.4 .1h1.2m4.3 0h1.2m6.3 0h1.2m-.3 0h1.2m3.8 0h1.2m-1.2 0h1.2m1.1 0h1.2m-.9 0h1.2m.3 0h1.2m4.1 0h1.2m-1 0h1.2m.5 0h1.2m21 0h1.2m1.2 0h1.2m-1.2 0h1.2m.1 0h1.2m4 0h1.2m17.5 0h1.2m1.9 0h1.2m-78.9 .1h1.2m5.6 0h1.2m-.9 0h1.2m4.8 0h1.2m.7 0h1.2m-.5 0h1.2m2.4 0h1.2m5.6 0h1.2m5 0h1.2m-.1 0h1.2m15.5 0h1.2m7.2 0h1.2m-.6 0h1.2m2.3 0h1.2m1.3 0h1.2m-.7 0h1.2m5.8 0h1.2m5.1 0h1.2m0 0h1.2m2.4 0h1.2m-91.9 .1h1.2m-.5 0h1.2m-1.2 0h1.2m5.4 0h1.2m14.8 0h1.2m21.1 0h1.2m27.2 0h1.2m3.7 0h1.2m.9 0h1.2m-82 .1h1.2m-1.2 0h1.2m30.1 0h1.2m2.4 0h1.2m-.7 0h1.2m17.4 0h1.2m12.6 0h1.2m.3 0h1.2m12.2 0h1.2m1.3 0h1.2m-83.5 .1h1.2m10.6 0h1.2m7.3 0h1.2m9.2 0h1.2m-.1 0h1.2m-1 0h1.2m-.3 0h1.2m3 0h1.2m.6 0h1.2m13.9 0h1.2m2.2 0h1.2m10.1 0h1.2m6.8 0h1.2m-.4 0h1.2m-82 .1h1.2m-.9 0h1.2m-.6 0h1.2m3.1 0h1.2m-1.1 0h1.2m8.9 0h1.2m7.9 0h1.2m4.6 0h1.2m3.4 0h1.2m20.8 0h1.2m21.2 0h1.2m-1.1 0h1.2m-81.9 .1h1.2m-.6 0h1.2m1.3 0h1.2m.7 0h1.2m2.7 0h1.2m-1 0h1.2m17.7 0h1.2m5.5 0h1.2m.2 0h1.2m5.2 0h1.2m15.5 0h1.2m1.3 0h1.2m7.4 0h1.2m12.8 0h1.2m1.5 0h1.2m-85.8 .1h1.2m3.7 0h1.2m8.4 0h1.2m35.2 0h1.2m-1.1 0h1.2m-1.1 0h1.2m6.7 0h1.2m3.4 0h1.2m.2 0h1.2m12.9 0h1.2m-.2 0h1.2m2.5 0h1.2m-86.1 .1h1.2m6.4 0h1.2m6.2 0h1.2m-1 0h1.2m.2 0h1.2m7.1 0h1.2m.1 0h1.2m6 0h1.2m-.6 0h1.2m52.4 0h1.2m22.3 0h1.2m-119.6 .1h1.2m7 0h1.2m21 0h1.2m10.6 0h1.2m-.3 0h1.2m-.9 0h1.2m6.9 0h1.2m15.4 0h1.2m2.5 0h1.2m1.1 0h1.2m6.5 0h1.2m3.5 0h1.2m30.6 0h1.2m-111.2 .1h1.2m4.7 0h1.2m-1.2 0h1.2m7.1 0h1.2m-.5 0h1.2m6.9 0h1.2m10 0h1.2m4.7 0h1.2m9.8 0h1.2m6.9 0h1.2m2.9 0h1.2m3.4 0h1.2m12.8 0h1.2m-.4 0h1.2m1.7 0h1.2m-.8 0h1.2m1.9 0h1.2m-98.8 .1h1.2m7.9 0h1.2m.3 0h1.2m12.1 0h1.2m14.1 0h1.2m4.6 0h1.2m2.4 0h1.2m23.4 0h1.2m7.3 0h1.2m-.5 0h1.2m4.6 0h1.2m3.7 0h1.2m4 0h1.2m-92.6 .1h1.2m16.6 0h1.2m4.7 0h1.2m-1.1 0h1.2m9.9 0h1.2m-.1 0h1.2m15.8 0h1.2m7.2 0h1.2m7.2 0h1.2m3.8 0h1.2m8.3 0h1.2m-84.7 .1h1.2m33.4 0h1.2m.5 0h1.2m3.9 0h1.2m1.5 0h1.2m18.9 0h1.2m-.1 0h1.2m2.3 0h1.2m5.3 0h1.2m6.6 0h1.2m6.3 0h1.2m-91.2 .1h1.2m5.2 0h1.2m4.1 0h1.2m12.4 0h1.2m6.8 0h1.2m5.5 0h1.2m4.6 0h1.2m4.8 0h1.2m.6 0h1.2m4.6 0h1.2m11.5 0h1.2m1.1 0h1.2m-.8 0h1.2m-1 0h1.2m34.4 0h1.2m-113.8 .1h1.2m3.7 0h1.2m10.5 0h1.2m.8 0h1.2m-.9 0h1.2m23 0h1.2m2.2 0h1.2m25.9 0h1.2m6 0h1.2m2.1 0h1.2m6.3 0h1.2m-83.8 .1h1.2m14 0h1.2m9.5 0h1.2m-.8 0h1.2m8.7 0h1.2m-53.2 .1h1.2m7.1 0h1.2m10.5 0h1.2m2 0h1.2m7.6 0h1.2m11.7 0h1.2m27.7 0h1.2m-75 .1h1.2m-.4 0h1.2m11.6 0h1.2m-1.2 0h1.2m-1.1 0h1.2m.1 0h1.2m4.3 0h1.2m16.5 0h1.2m2.7 0h1.2m1.6 0h1.2m31.5 0h1.2m8.7 0h1.2m.3 0h1.2m-1 0h1.2m-81.4 .1h1.2m5 0h1.2m4.2 0h1.2m2.7 0h1.2m6.8 0h1.2m7.8 0h1.2m-.3 0h1.2m1.8 0h1.2m7.8 0h1.2m-1 0h1.2m.7 0h1.2m3.1 0h1.2m3.5 0h1.2m13.4 0h1.2m2.3 0h1.2m6.6 0h1.2m2.6 0h1.2m-89.2 .1h1.2m22.6 0h1.2m8.9 0h1.2m8.2 0h1.2m4.7 0h1.2m3.1 0h1.2m14 0h1.2m-.2 0h1.2m12.8 0h1.2m26.8 0h1.2m-76.3 .1h1.2m.7 0h1.2m21.5 0h1.2m6.5 0h1.2m.1 0h1.2m-.9 0h1.2m1.1 0h1.2m9.9 0h1.2m-.9 0h1.2m3 0h1.2m1.5 0h1.2m19.8 0h1.2m-111.8 .1h1.2m1.7 0h1.2m.9 0h1.2m9.1 0h1.2m-1 0h1.2m-.6 0h1.2m4.9 0h1.2m6.3 0h1.2m25.3 0h1.2m-.5 0h1.2m-.9 0h1.2m.9 0h1.2m4.2 0h1.2m16.3 0h1.2m6.7 0h1.2m-99.8 .1h1.2m6.9 0h1.2m3.8 0h1.2m9.6 0h1.2m29.1 0h1.2m9.4 0h1.2m10.1 0h1.2m3.4 0h1.2m.5 0h1.2m14.3 0h1.2m-90.1 .1h1.2m-1.2 0h1.2m10.4 0h1.2m2.9 0h1.2m5.8 0h1.2m-.5 0h1.2m.7 0h1.2m8 0h1.2m3.9 0h1.2m18 0h1.2m3.1 0h1.2m9.7 0h1.2m11.2 0h1.2m-81.6 .1h1.2m26.6 0h1.2m6.4 0h1.2m1.9 0h1.2m1.9 0h1.2m15.7 0h1.2m7.2 0h1.2m.4 0h1.2m10.3 0h1.2m-71.7 .1h1.2m8.9 0h1.2m5.7 0h1.2m11.6 0h1.2m13 0h1.2m4.5 0h1.2m7 0h1.2m3.4 0h1.2m10.2 0h1.2m-84.2 .1h1.2m14.6 0h1.2m-.4 0h1.2m5.8 0h1.2m1.6 0h1.2m1.6 0h1.2m4.2 0h1.2m-.9 0h1.2m1 0h1.2m11.2 0h1.2m-.6 0h1.2m5.9 0h1.2m13.5 0h1.2m-64.4 .1h1.2m6.1 0h1.2m8.6 0h1.2m6.3 0h1.2m-.6 0h1.2m5.4 0h1.2m15 0h1.2m22.1 0h1.2m-87.2 .1h1.2m2.5 0h1.2m9.9 0h1.2m16.9 0h1.2m-1 0h1.2m.9 0h1.2m10.8 0h1.2m7.5 0h1.2m5.6 0h1.2m-.3 0h1.2m5.6 0h1.2m1.8 0h1.2m-51.8 .1h1.2m14.5 0h1.2m1 0h1.2m-.9 0h1.2m.5 0h1.2m-1.1 0h1.2m.7 0h1.2m7.4 0h1.2m18.4 0h1.2m-.5 0h1.2m14.4 0h1.2m-99.3 .1h1.2m7.8 0h1.2m.7 0h1.2m11.9 0h1.2m-1.1 0h1.2m26.1 0h1.2m.7 0h1.2m12.8 0h1.2m3.8 0h1.2m23.9 0h1.2m-99.2 .1h1.2m6.8 0h1.2m33.5 0h1.2m.8 0h1.2m8.4 0h1.2m6.4 0h1.2m2 0h1.2m17.4 0h1.2m10.4 0h1.2m-.7 0h1.2m-86.1 .1h1.2m12 0h1.2m7.1 0h1.2m7.5 0h1.2m-1 0h1.2m19.9 0h1.2m4.3 0h1.2m4.6 0h1.2m5.4 0h1.2m17.1 0h1.2m-68.6 .1h1.2m-.2 0h1.2m4.4 0h1.2m2.4 0h1.2m11.3 0h1.2m20.8 0h1.2m5.4 0h1.2m-.6 0h1.2m-72.9 .1h1.2m.8 0h1.2m19.6 0h1.2m17.8 0h1.2m29 0h1.2m-84.3 .1h1.2m-1 0h1.2m23.8 0h1.2m12 0h1.2m-.3 0h1.2m2 0h1.2m.7 0h1.2m3.4 0h1.2m3.9 0h1.2m9.5 0h1.2m6.6 0h1.2m.2 0h1.2m-64.4 .1h1.2m-.7 0h1.2m.1 0h1.2m6.6 0h1.2m2.3 0h1.2m-.4 0h1.2m11.8 0h1.2m1.6 0h1.2m8.3 0h1.2m.7 0h1.2m14.7 0h1.2m13 0h1.2m-83.5 .1h1.2m10.5 0h1.2m2.2 0h1.2m3.9 0h1.2m2.4 0h1.2m6.4 0h1.2m8.9 0h1.2m9.8 0h1.2m18.5 0h1.2m7.3 0h1.2m1.5 0h1.2m2.6 0h1.2m-1 0h1.2m-80.9 .1h1.2m6.8 0h1.2m22.7 0h1.2m3.2 0h1.2m-.7 0h1.2m2.3 0h1.2m1.1 0h1.2m1.4 0h1.2m-.1 0h1.2m10.2 0h1.2m5.7 0h1.2m6.6 0h1.2m-70.2 .1h1.2m3.2 0h1.2m7.6 0h1.2m17 0h1.2m18.2 0h1.2m-1 0h1.2m9.3 0h1.2m.6 0h1.2m5 0h1.2m.9 0h1.2m-70.8 .1h1.2m24.4 0h1.2m-.7 0h1.2m.5 0h1.2m.6 0h1.2m9.4 0h1.2m7.8 0h1.2m5.1 0h1.2m25.1 0h1.2m-88.5 .1h1.2m.8 0h1.2m9.4 0h1.2m10.6 0h1.2m6.5 0h1.2m.2 0h1.2m.8 0h1.2m.4 0h1.2m7.8 0h1.2m10.9 0h1.2m5.9 0h1.2m-.6 0h1.2m-1.2 0h1.2m20.8 0h1.2m-82.9 .1h1.2m5.7 0h1.2m3.1 0h1.2m24.6 0h1.2m2.2 0h1.2m-48 .1h1.2m-.2 0h1.2m15.7 0h1.2m5.3 0h1.2m6.5 0h1.2m1.6 0h1.2m8.6 0h1.2m14.7 0h1.2m4.7 0h1.2m12.6 0h1.2m30.5 0h1.2m-.8 0h1.2m-122.1 .1h1.2m8.9 0h1.2m4.8 0h1.2m28.6 0h1.2m7.6 0h1.2m-.9 0h1.2m7.3 0h1.2m8.3 0h1.2m10 0h1.2m-77.3 .1h1.2m15.9 0h1.2m0 0h1.2m26.2 0h1.2m11.8 0h1.2m12.9 0h1.2m-.6 0h1.2m37.3 0h1.2m-111.9 .1h1.2m-.9 0h1.2m3.4 0h1.2m10.9 0h1.2m7.9 0h1.2m2.5 0h1.2m-.4 0h1.2m-.3 0h1.2m3.9 0h1.2m4.8 0h1.2m.7 0h1.2m26.7 0h1.2m-81.8 .1h1.2m6.9 0h1.2m-.1 0h1.2m-1.1 0h1.2m-.9 0h1.2m-1.1 0h1.2m13.3 0h1.2m5.7 0h1.2m5.9 0h1.2m-.5 0h1.2m7.8 0h1.2m5.1 0h1.2m21.1 0h1.2m18 0h1.2m.9 0h1.2m-.5 0h1.2m-91.5 .1h1.2m.1 0h1.2m37.5 0h1.2m4.4 0h1.2m-48.7 .1h1.2m.5 0h1.2m.4 0h1.2m9.8 0h1.2m27.9 0h1.2m-35.5 .1h1.2m8.2 0h1.2m5.9 0h1.2m-.9 0h1.2m10.2 0h1.2m-.8 0h1.2m5.5 0h1.2m.7 0h1.2m-3.8 .1h1.2m-51.2 .1h1.2m-1 0h1.2m-1 0h1.2m4.5 0h1.2m1.9 0h1.2m.5 0h1.2m12.9 0h1.2m8.5 0h1.2m14.2 0h1.2m17.4 0h1.2m25.3 0h1.2m8.3 0h1.2m-91.1 .1h1.2m51.9 0h1.2m11.4 0h1.2m-75 .1h1.2m1.7 0h1.2m31.1 0h1.2m0 0h1.2m10.3 0h1.2m17.6 0h1.2m-.4 0h1.2m-65.7 .1h1.2m13.7 0h1.2m-.9 0h1.2m5.1 0h1.2m.4 0h1.2m4.5 0h1.2m1.1 0h1.2m6 0h1.2m3.7 0h1.2m19.1 0h1.2m7.5 0h1.2m-1 0h1.2m-.4 0h1.2m-.9 0h1.2m-1 0h1.2m2.5 0h1.2m31.3 0h1.2m-1.2 0h1.2m-111.3 .1h1.2m2.8 0h1.2m17.6 0h1.2m5.1 0h1.2m4 0h1.2m3.3 0h1.2m-.3 0h1.2m-.7 0h1.2m2.3 0h1.2m18 0h1.2m8.6 0h1.2m-.8 0h1.2m-75 .1h1.2m-.4 0h1.2m20.5 0h1.2m-.3 0h1.2m5.6 0h1.2m-.8 0h1.2m2.8 0h1.2m7.3 0h1.2m12.1 0h1.2m1.7 0h1.2m4.2 0h1.2m1.3 0h1.2m-77 .1h1.2m22.6 0h1.2m6 0h1.2m7.3 0h1.2m.9 0h1.2m-.7 0h1.2m7.1 0h1.2m4.8 0h1.2m7.4 0h1.2m7.2 0h1.2m1.4 0h1.2m10.4 0h1.2m-80.4 .1h1.2m1.7 0h1.2m11.9 0h1.2m8.9 0h1.2m5.7 0h1.2m30.5 0h1.2m20.5 0h1.2m2 0h1.2m-78.7 .1h1.2m10.6 0h1.2m4.8 0h1.2m1.5 0h1.2m6.6 0h1.2m15.5 0h1.2m13.7 0h1.2m5.6 0h1.2m-82 .1h1.2m-1.1 0h1.2m.4 0h1.2m-.1 0h1.2m14 0h1.2m-.7 0h1.2m-.9 0h1.2m5.2 0h1.2m11.4 0h1.2m2.6 0h1.2m-.8 0h1.2m3.5 0h1.2m32.4 0h1.2m16 0h1.2m-97.8 .1h1.2m7 0h1.2m7.8 0h1.2m-.8 0h1.2m16.2 0h1.2m5.9 0h1.2m-.7 0h1.2m.7 0h1.2m-1.1 0h1.2m2.7 0h1.2m-.7 0h1.2m10.9 0h1.2m10.5 0h1.2m-82.3 .1h1.2m5.7 0h1.2m23.7 0h1.2m17.9 0h1.2m31.2 0h1.2m3.9 0h1.2m30.5 0h1.2m-111.8 .1h1.2m5.8 0h1.2m21.8 0h1.2m-.5 0h1.2m3.4 0h1.2m17.6 0h1.2m1.2 0h1.2m2.2 0h1.2m25.6 0h1.2m-1 0h1.2m-72.9 .1h1.2m.6 0h1.2m4.1 0h1.2m-.6 0h1.2m10.1 0h1.2m-.8 0h1.2m17.4 0h1.2m11.5 0h1.2m-67 .1h1.2m13.9 0h1.2m16.9 0h1.2m22.6 0h1.2m5.9 0h1.2m-.3 0h1.2m1.2 0h1.2m42 0h1.2m-100.6 .1h1.2m3.8 0h1.2m4.8 0h1.2m-1.2 0h1.2m20.6 0h1.2m.2 0h1.2m19.4 0h1.2m-42 .1h1.2m8.4 0h1.2m3.1 0h1.2m-.5 0h1.2m15 0h1.2m7.6 0h1.2m-.7 0h1.2m6.9 0h1.2m-.4 0h1.2m14.6 0h1.2m-93.8 .1h1.2m-.1 0h1.2m1.3 0h1.2m13.5 0h1.2m13.1 0h1.2m-.6 0h1.2m.8 0h1.2m.5 0h1.2m3.6 0h1.2m.9 0h1.2m14.2 0h1.2m1.9 0h1.2m2.5 0h1.2m-1.2 0h1.2m6.8 0h1.2m-1 0h1.2m-74.5 .1h1.2m4.9 0h1.2m5.6 0h1.2m11.3 0h1.2m22.9 0h1.2m7.2 0h1.2m6.7 0h1.2m.2 0h1.2m1 0h1.2m-77.3 .1h1.2m29.4 0h1.2m.2 0h1.2m9.6 0h1.2m4.7 0h1.2m5.6 0h1.2m41.7 0h1.2m-61.6 .1h1.2m3 0h1.2m8.4 0h1.2m12.3 0h1.2m6.5 0h1.2m5.5 0h1.2m16.9 0h1.2m-85.7 .1h1.2m.3 0h1.2m16 0h1.2m-1 0h1.2m40.8 0h1.2m.2 0h1.2m-1.2 0h1.2m6.1 0h1.2m-64.4 .1h1.2m3 0h1.2m12.6 0h1.2m-1 0h1.2m14.7 0h1.2m-.8 0h1.2m6.2 0h1.2m1.7 0h1.2m2.3 0h1.2m28.4 0h1.2m-93.3 .1h1.2m27.5 0h1.2m3.4 0h1.2m8.3 0h1.2m.5 0h1.2m3 0h1.2m17.6 0h1.2m44.7 0h1.2m-.8 0h1.2m-114.4 .1h1.2m-.2 0h1.2m3 0h1.2m.4 0h1.2m29.2 0h1.2m4 0h1.2m-.4 0h1.2m22.3 0h1.2m-74.4 .1h1.2m13.8 0h1.2m3.9 0h1.2m10.2 0h1.2m6.5 0h1.2m21.5 0h1.2m-.5 0h1.2m9 0h1.2m-.5 0h1.2m-68 .1h1.2m-.6 0h1.2m29.7 0h1.2m-1.1 0h1.2m5.1 0h1.2m19.5 0h1.2m6.4 0h1.2m6.4 0h1.2m-81.8 .1h1.2m4.9 0h1.2m1.5 0h1.2m-.5 0h1.2m9.3 0h1.2m18 0h1.2m-.6 0h1.2m1.6 0h1.2m-1.1 0h1.2m5.3 0h1.2m22.5 0h1.2m6.1 0h1.2m1.7 0h1.2m14.1 0h1.2m-92.2 .1h1.2m6.7 0h1.2m7.7 0h1.2m-1.2 0h1.2m0 0h1.2m16.4 0h1.2m-.7 0h1.2m5.6 0h1.2m11.2 0h1.2m34.8 0h1.2m19 0h1.2m-119.8 .1h1.2m10.2 0h1.2m7.2 0h1.2m33.3 0h1.2m27.2 0h1.2m-76.7 .1h1.2m-.1 0h1.2m-1 0h1.2m-.4 0h1.2m10 0h1.2m2.8 0h1.2m5.9 0h1.2m4.9 0h1.2m-.6 0h1.2m1.3 0h1.2m8 0h1.2m-.8 0h1.2m10.9 0h1.2m1.2 0h1.2m5.7 0h1.2m22.1 0h1.2m-1.1 0h1.2m-83.3 .1h1.2m17.3 0h1.2m1.5 0h1.2m5.5 0h1.2m-.1 0h1.2m12.5 0h1.2m5.3 0h1.2m16.5 0h1.2m-81.3 .1h1.2m5.3 0h1.2m34.8 0h1.2m5.3 0h1.2m47.9 0h1.2m-88.3 .1h1.2m2.8 0h1.2m4.1 0h1.2m28.3 0h1.2m1.3 0h1.2m1 0h1.2m.2 0h1.2m16.2 0h1.2m23.5 0h1.2m-85.8 .1h1.2m5.7 0h1.2m3.8 0h1.2m4.6 0h1.2m32.7 0h1.2m15.9 0h1.2m-.4 0h1.2m3.1 0h1.2m-.8 0h1.2m6.4 0h1.2m-96.6 .1h1.2m12.1 0h1.2m.7 0h1.2m15 0h1.2m-.3 0h1.2m9.5 0h1.2m8.4 0h1.2m.7 0h1.2m.2 0h1.2m-1 0h1.2m-50.6 .1h1.2m5.8 0h1.2m5.5 0h1.2m10.7 0h1.2m10 0h1.2m5 0h1.2m-1 0h1.2m13.9 0h1.2m21.7 0h1.2m-46.3 .1h1.2m8.1 0h1.2m1.4 0h1.2m18.3 0h1.2m8.4 0h1.2m18.4 0h1.2m-104.5 .1h1.2m-.6 0h1.2m18.6 0h1.2m2.7 0h1.2m-.7 0h1.2m4.9 0h1.2m17.3 0h1.2m-1 0h1.2m5 0h1.2m-.6 0h1.2m-1.1 0h1.2m4.9 0h1.2m-54.7 .1h1.2m24.3 0h1.2m20.7 0h1.2m14.2 0h1.2m-1 0h1.2m13.6 0h1.2m-.6 0h1.2m14.3 0h1.2m14.7 0h1.2m-89.1 .1h1.2m-.8 0h1.2m9.5 0h1.2m5 0h1.2m2.6 0h1.2m9.2 0h1.2m8.5 0h1.2m10.2 0h1.2m-84.3 .1h1.2m5.5 0h1.2m-.7 0h1.2m-.9 0h1.2m1.8 0h1.2m22.3 0h1.2m7.8 0h1.2m4 0h1.2m-.7 0h1.2m11.5 0h1.2m-.9 0h1.2m1.8 0h1.2m1.9 0h1.2m3.5 0h1.2m-.3 0h1.2m1 0h1.2m-77.4 .1h1.2m7.8 0h1.2m4.8 0h1.2m22.3 0h1.2m3.3 0h1.2m3.8 0h1.2m3 0h1.2m.8 0h1.2m1.1 0h1.2m10.4 0h1.2m5.2 0h1.2m22.3 0h1.2m6.7 0h1.2m-99 .1h1.2m6 0h1.2m24.9 0h1.2m25.9 0h1.2m4.2 0h1.2m-.9 0h1.2m44.4 0h1.2m-112.9 .1h1.2m.4 0h1.2m13.4 0h1.2m6.8 0h1.2m.8 0h1.2m13.9 0h1.2m-.8 0h1.2m2.3 0h1.2m28.8 0h1.2m-.7 0h1.2m-60.2 .1h1.2m18.4 0h1.2m4.5 0h1.2m20.8 0h1.2m1 0h1.2m20.3 0h1.2m1.6 0h1.2m19.7 0h1.2m-112.8 .1h1.2m-1.1 0h1.2m0 0h1.2m5.1 0h1.2m3.9 0h1.2m21.9 0h1.2m-.6 0h1.2m3.2 0h1.2m-.3 0h1.2m36.2 0h1.2m-81.1 .1h1.2m2.7 0h1.2m-.9 0h1.2m8.2 0h1.2m9.3 0h1.2m9.3 0h1.2m.5 0h1.2m-.7 0h1.2m4 0h1.2m-.3 0h1.2m22.5 0h1.2m8.1 0h1.2m13.7 0h1.2m-99.2 .1h1.2m7.2 0h1.2m42.5 0h1.2" stroke="#0072c4" stroke-width="1.2" fill="none"/>
<path d="M43 239h1v2h-1zM45 237h1v4h-1zM43 241h3v1h-3zM47 236h1v6h-1zM39 240h1v3h-1zM43 242h5v1h-5zM54 241h1v2h-1zM39 243h2v1h-2zM42 243h6v1h-6zM50 241h2v3h-2zM37 242h1v3h-1zM39 244h9v1h-9zM50 244h3v1h-3zM54 243h2v2h-2zM49 245h4v1h-4zM54 245h3v1h-3zM49 246h8v3h-8zM58 245h1v4h-1zM37 245h11v5h-11zM49 249h10v1h-10zM63 249h1v1h-1zM67 249h1v1h-1zM35 248h1v3h-1zM37 250h22v1h-22zM60 247h1v4h-1zM62 250h3v1h-3zM35 251h30v1h-30zM34 252h31v3h-31zM66 250h3v5h-3zM74 254h1v2h-1zM72 255h1v2h-1zM71 257h2v1h-2zM74 256h2v2h-2zM71 258h5v1h-5zM81 258h1v1h-1zM83 256h1v3h-1zM88 258h1v1h-1zM34 255h35v5h-35zM70 259h8v1h-8zM79 259h1v1h-1zM81 259h3v1h-3zM87 259h2v1h-2zM34 260h46v3h-46zM81 260h4v3h-4zM86 260h3v3h-3zM90 261h1v2h-1zM96 250h1v13h-1zM86 263h5v1h-5zM86 264h6v1h-6zM34 263h51v3h-51zM86 265h7v1h-7zM95 263h2v5h-2zM34 266h59v4h-59zM94 268h3v2h-3zM34 270h63v5h-63zM98 252h1v23h-1zM103 254h1v21h-1zM107 258h1v17h-1zM112 260h1v15h-1zM117 262h1v13h-1zM131 264h1v11h-1zM152 267h1v8h-1z" fill="#df8000"/>
<path d="M80.4 172.6h1.2m-25 3.2h1.2m-.6 2.3h1.2m-10.3 .1h1.2m3.5 1.3h1.2m-1.7 1.8h1.2m-7.3 .2h1.2m2.9 .4h1.2m20.3 .3h1.2m-26.7 .5h1.2m-2.7 1h1.2m10.8 .6h1.2m-4 .1h1.2m-1.9 .3h1.2m7.4 1.1h1.2m.4 .9h1.2m-16.1 .3h1.2m26.1 0h1.2m-34.9 .1h1.2m1.3 .1h1.2m4.3 0h1.2m-4.4 .1h1.2m3 0h1.2m-1.9 .2h1.2m-7 .1h1.2m10.9 .2h1.2m-16.3 .8h1.2m23.4 .9h1.2m-19.6 .3h1.2m17.2 .1h1.2m-5 .3h1.2m-9.2 .7h1.2m36.5 .3h1.2m-34.1 .3h1.2m-13.2 .5h1.2m-2.7 .3h1.2m8.2 .4h1.2m-6.9 .2h1.2m4.5 .1h1.2m25.5 .1h1.2m-18.1 .1h1.2m-25 .2h1.2m12.6 .2h1.2m5.8 .1h1.2m-9.1 .1h1.2m6.4 .1h1.2m10.2 0h1.2m-27.1 .2h1.2m34.6 0h1.2m-43.2 .1h1.2m3.2 .4h1.2m10.8 0h1.2m3.4 0h1.2m-16.3 .1h1.2m5.4 0h1.2m-10.6 .1h1.2m-4.9 .1h1.2m11.5 0h1.2m-15.9 .3h1.2m8.9 .2h1.2m-8.8 .1h1.2m20.2 .1h1.2m3.4 0h1.2m-20.9 .2h1.2m-2.1 .3h1.2m-.7 0h1.2m16 0h1.2m15.8 .2h1.2m-28.2 .1h1.2m1.2 0h1.2m-2.2 .2h1.2m4 0h1.2m-19.9 .2h1.2m6.8 0h1.2m-5.3 .1h1.2m10.9 0h1.2m9.3 0h1.2m-14.7 .1h1.2m1.7 0h1.2m-14.3 .1h1.2m29.9 0h1.2m-29.7 .1h1.2m3.8 0h1.2m33.4 0h1.2m-35 .1h1.2m8.2 0h1.2m-.8 .2h1.2m18.3 .1h1.2m-39.7 .1h1.2m.4 0h1.2m11.4 0h1.2m-1 .1h1.2m-12.6 .1h1.2m-5.6 .1h1.2m-.1 .1h1.2m5.2 0h1.2m25.1 .5h1.2m-14.8 .1h1.2m-10.2 .1h1.2m-13.6 .1h1.2m11.3 .2h1.2m-3.8 .1h1.2m.6 0h1.2m4.4 0h1.2m-18.8 .1h1.2m11.7 0h1.2m9.5 0h1.2m1.9 0h1.2m-19.4 .1h1.2m-6.3 .1h1.2m11.2 0h1.2m1.2 0h1.2m20.5 0h1.2m-36.7 .1h1.2m-.2 0h1.2m5.3 0h1.2m11.1 0h1.2m15.5 0h1.2m-36 .1h1.2m-6.9 .1h1.2m14 .1h1.2m3.6 .1h1.2m-18.4 .1h1.2m3.7 0h1.2m5.3 0h1.2m5.5 0h1.2m-2.1 .1h1.2m-.3 .3h1.2m-23.9 .1h1.2m21.3 0h1.2m-.4 0h1.2m-8.8 .1h1.2m5.6 0h1.2m-21.3 .1h1.2m19.6 0h1.2m-14.5 .1h1.2m25.5 0h1.2m-37.7 .1h1.2m-.8 0h1.2m-1.5 .1h1.2m2 .1h1.2m-2.1 .1h1.2m3.9 0h1.2m9.7 0h1.2m-15.8 .1h1.2m1.6 .1h1.2m4.3 .2h1.2m5.8 .1h1.2m1.7 0h1.2m-20 .1h1.2m7.6 0h1.2m10.3 0h1.2m-19.6 .1h1.2m0 0h1.2m19.1 0h1.2m-20.6 .1h1.2m-.3 .1h1.2m-9.3 .1h1.2m39.3 .1h1.2m-26.2 .1h1.2m5 .2h1.2m2.1 .2h1.2m-17.9 .1h1.2m8.7 0h1.2m-10.8 .1h1.2m-5 .1h1.2m26.6 0h1.2m19.8 0h1.2m-32.5 .1h1.2m14.4 .1h1.2m-32.6 .1h1.2m5.8 0h1.2m2.9 0h1.2m1 0h1.2m-8.4 .1h1.2m12.2 0h1.2m-5.4 .1h1.2m-18.7 .1h1.2m5.3 0h1.2m.3 0h1.2m3.2 0h1.2m2.7 0h1.2m4.1 .2h1.2m-27.7 .1h1.2m17.9 0h1.2m-12.4 .1h1.2m-7.2 .1h1.2m8 0h1.2m11.1 0h1.2m-14.3 .1h1.2m12.3 0h1.2m-4.4 .1h1.2m-16.3 .1h1.2m1.8 0h1.2m16.2 0h1.2m-11.3 .1h1.2m24 0h1.2m-36.7 .2h1.2m-7.3 .1h1.2m11.2 0h1.2m7.3 0h1.2m-17.4 .2h1.2m5.4 0h1.2m.6 0h1.2m6.6 0h1.2m-21.8 .1h1.2m9.8 0h1.2m-1.6 .1h1.2m19.9 0h1.2m-25.8 .1h1.2m6.8 0h1.2m29.3 0h1.2m-46.4 .2h1.2m5.4 0h1.2m17.1 .2h1.2m16.9 0h1.2m-46.8 .1h1.2m3.5 0h1.2m8.4 .1h1.2m-.2 0h1.2m-10.6 .1h1.2m12.3 0h1.2m2.6 .1h1.2m5.7 0h1.2m-17.6 .1h1.2m-1.1 .1h1.2m5.9 0h1.2m15.5 0h1.2m-35.6 .1h1.2m34.6 0h1.2m-24.3 .1h1.2m-13.1 .1h1.2m12.4 0h1.2m7 0h1.2m18.8 0h1.2m1.8 0h1.2m-49.9 .1h1.2m23.3 0h1.2m-7.2 .1h1.2m-14.1 .1h1.2m19.7 0h1.2m-20.8 .1h1.2m-2.8 .1h1.2m-1.2 .2h1.2m3.3 0h1.2m42.3 0h1.2m-51.8 .1h1.2m3.7 0h1.2m13.5 0h1.2m6.5 0h1.2m1.8 .1h1.2m13.2 0h1.2m-46.1 .1h1.2m19.6 0h1.2m2.1 .1h1.2m11.3 0h1.2m-35.8 .1h1.2m.7 .1h1.2m-1.1 0h1.2m1.5 0h1.2m2.9 0h1.2m-1 .1h1.2m8.7 0h1.2m5.7 0h1.2m-33.8 .1h1.2m23.1 0h1.2m2.9 0h1.2m3 0h1.2m15.9 0h1.2m-42.6 .1h1.2m2.3 0h1.2m25.2 0h1.2m-27.7 .1h1.2m5 0h1.2m-1.1 .1h1.2m2.4 0h1.2m7.3 0h1.2m5.2 0h1.2m-37.7 .1h1.2m10.8 0h1.2m-.5 0h1.2m11.8 0h1.2m1.7 0h1.2m1.1 0h1.2m-30.6 .1h1.2m18.7 0h1.2m-12 .1h1.2m1.5 0h1.2m4.1 0h1.2m-21.7 .1h1.2m7.5 0h1.2m20.2 0h1.2m5.7 0h1.2m-30.1 .1h1.2m9.6 0h1.2m7.1 0h1.2m-15.4 .2h1.2m29.1 0h1.2m-.6 0h1.2m-8.5 .1h1.2m18.5 0h1.2m-36.8 .1h1.2m28.6 0h1.2m-43.1 .1h1.2m11.3 0h1.2m4.9 0h1.2m18.3 .1h1.2m-37.2 .1h1.2m-.3 0h1.2m9.6 0h1.2m4.9 0h1.2m-26.4 .1h1.2m5.1 0h1.2m19.3 0h1.2m-17.2 .1h1.2m-7.1 .1h1.2m3.3 0h1.2m17.3 0h1.2m3.7 .1h1.2m15.8 0h1.2m-22.2 .1h1.2m15.3 0h1.2m-46.6 .1h1.2m7.6 0h1.2m-.6 .1h1.2m24 0h1.2m4.7 0h1.2m-37.3 .1h1.2m1.3 0h1.2m29 0h1.2m-32.1 .2h1.2m-.5 0h1.2m20.5 0h1.2m1.7 0h1.2m-31.2 .1h1.2m2.7 0h1.2m-1.2 0h1.2m3.6 0h1.2m-.2 0h1.2m2.7 0h1.2m4.1 0h1.2m5.5 0h1.2m1.7 0h1.2m-4.8 .1h1.2m-21.1 .1h1.2m29 0h1.2m-30.2 .1h1.2m2.9 0h1.2m-4.2 .1h1.2m.8 0h1.2m15 0h1.2m-11.1 .1h1.2m-1.1 0h1.2m36.8 0h1.2m-16.2 .1h1.2m-32.5 .1h1.2m1.4 0h1.2m4.5 0h1.2m6.3 0h1.2m-2.3 .1h1.2m-6 .1h1.2m25.8 0h1.2m-47.1 .1h1.2m9.3 0h1.2m1.5 0h1.2m17.8 0h1.2m-25.6 .1h1.2m18 0h1.2m-.9 0h1.2m14.3 .1h1.2m-34.3 .1h1.2m22.8 0h1.2m3.3 0h1.2m6.9 0h1.2m.1 0h1.2m5 0h1.2m-44.2 .1h1.2m10.2 0h1.2m1.4 0h1.2m-16.9 .1h1.2m1.3 .1h1.2m3 0h1.2m9 0h1.2m-13.7 .1h1.2m3.4 0h1.2m14.5 0h1.2m3.1 0h1.2m8.9 0h1.2m-36.3 .1h1.2m8.7 0h1.2m0 0h1.2m19.4 0h1.2m-40.1 .1h1.2m13 0h1.2m5.8 0h1.2m-28.5 .1h1.2m10.7 0h1.2m4.6 0h1.2m26.7 0h1.2m-32.5 .1h1.2m-10.3 .1h1.2m-.6 0h1.2m3.7 0h1.2m5.1 0h1.2m11.8 0h1.2m.8 0h1.2m-35.7 .1h1.2m6.1 0h1.2m25.8 0h1.2m-32.1 .1h1.2m-.6 0h1.2m1.3 0h1.2m2.5 0h1.2m2.1 0h1.2m.9 0h1.2m3.8 0h1.2m-.6 0h1.2m25.1 0h1.2m-43.2 .1h1.2m12.5 0h1.2m.6 0h1.2m3.1 0h1.2m6 0h1.2m-27.9 .1h1.2m9.2 0h1.2m18.4 0h1.2m-20.3 .1h1.2m16.4 0h1.2m-27.7 .1h1.2m6.6 0h1.2m4.4 0h1.2m16.4 0h1.2m3.2 0h1.2m-38.8 .1h1.2m7.3 0h1.2m-.7 0h1.2m4 0h1.2m28.7 0h1.2m-43.1 .1h1.2m1.7 0h1.2m.4 0h1.2m-1.2 0h1.2m2.8 0h1.2m-.8 0h1.2m7 0h1.2m13.6 0h1.2m-37.6 .1h1.2m3.2 0h1.2m-.2 .1h1.2m2.1 0h1.2m10.6 0h1.2m-.2 0h1.2m16.7 0h1.2m-31.9 .1h1.2m0 0h1.2m-.7 0h1.2m3.8 0h1.2m-5 .1h1.2m-.9 0h1.2m12.3 .1h1.2m6.6 0h1.2m-30.4 .2h1.2m-.3 0h1.2m10.1 0h1.2m-10.4 .1h1.2m5.4 0h1.2m5.9 0h1.2m5.5 0h1.2m22.3 0h1.2m-50.7 .1h1.2m-.2 0h1.2m20.3 0h1.2m15.3 0h1.2m-27 .1h1.2m-10.1 .1h1.2m10.8 0h1.2m-20.1 .1h1.2m7.2 0h1.2m6.7 0h1.2m.5 0h1.2m-17.2 .1h1.2m22.9 0h1.2m-14.3 .1h1.2m6.5 0h1.2m17 0h1.2m-29.7 .2h1.2m1 0h1.2m-.5 0h1.2m7.9 0h1.2m-9.8 .1h1.2m9 0h1.2m-19.4 .1h1.2m21.4 0h1.2m13.3 0h1.2m-32.9 .1h1.2m-.7 0h1.2m5.6 0h1.2m5.4 0h1.2m1.1 0h1.2m8.8 0h1.2m-20.1 .1h1.2m-22.1 .1h1.2m5.7 0h1.2m16.3 0h1.2m1.8 0h1.2m3.9 0h1.2m-27 .1h1.2m8.6 0h1.2m6.8 0h1.2m.9 0h1.2m6.6 0h1.2m-26.6 .1h1.2m4.4 0h1.2m16.6 0h1.2m23.1 0h1.2m-46.7 .1h1.2m15.3 0h1.2m1 0h1.2m4 0h1.2m7.1 0h1.2m12.1 0h1.2m-37.5 .1h1.2m2.8 0h1.2m24.3 .1h1.2m5.7 0h1.2m-37.5 .1h1.2m-13.7 .1h1.2m30.1 0h1.2m-1.2 0h1.2m8.9 0h1.2m-41.1 .1h1.2m-1.2 0h1.2m-.5 0h1.2m-10.5 .1h1.2m17.3 0h1.2m9.9 0h1.2m18.1 0h1.2m2.1 0h1.2m-47.5 .1h1.2m14.2 0h1.2m2.8 0h1.2m6.9 0h1.2m7.4 0h1.2m-19.1 .1h1.2m2.2 0h1.2m5.8 0h1.2m-15 .1h1.2m24.7 0h1.2m-40 .1h1.2m-3.5 .1h1.2m2.8 0h1.2m13.7 0h1.2m-11.6 .1h1.2m5.1 0h1.2m.6 0h1.2m-13.6 .1h1.2m14.9 0h1.2m6 0h1.2m17.5 0h1.2m6.6 0h1.2m-50.6 .1h1.2m5.6 0h1.2m24.2 0h1.2m1.7 0h1.2m-30.2 .1h1.2m6.4 0h1.2m-21.7 .1h1.2m5 0h1.2m-.9 0h1.2m2.3 0h1.2m15.6 0h1.2m9 0h1.2m-42.4 .1h1.2m16.2 0h1.2m3.1 0h1.2m1.5 0h1.2m-17.3 .1h1.2m21 0h1.2m1.5 0h1.2m6.5 0h1.2m6.1 0h1.2m-43.5 .1h1.2m9.6 0h1.2m29.3 0h1.2m.1 0h1.2m-43.2 .1h1.2m-.1 0h1.2m23.3 0h1.2m5.5 0h1.2m.4 0h1.2m-38.6 .1h1.2m3.6 0h1.2m.5 0h1.2m-.3 0h1.2m5.7 0h1.2m-.8 0h1.2m-3.2 .1h1.2m-.3 0h1.2m5.3 0h1.2m10.4 0h1.2m-32.9 .1h1.2m8.8 0h1.2m8.5 0h1.2m25.6 0h1.2m-38.3 .1h1.2m6.8 0h1.2m-7 .1h1.2m-1 0h1.2m-3.8 .1h1.2m4.8 0h1.2m3.1 0h1.2m-15.6 .1h1.2m-.4 0h1.2m4.2 0h1.2m18.5 0h1.2m12.7 0h1.2m-35.9 .1h1.2m4.5 0h1.2m-.3 0h1.2m1.9 0h1.2m2.9 0h1.2m1.4 0h1.2m3.1 0h1.2m-27 .1h1.2m5 0h1.2m30.6 0h1.2m-13.1 .1h1.2m8.2 0h1.2m-24 .1h1.2m6.1 0h1.2m10.7 0h1.2m-41.1 .1h1.2m3 0h1.2m27.4 0h1.2m8.2 0h1.2m-37.6 .1h1.2m8.2 0h1.2m-1.2 0h1.2m1.1 0h1.2m6.7 0h1.2m-3.2 .1h1.2m-1.1 0h1.2m12.5 0h1.2m12.1 0h1.2m-20.7 .1h1.2m-25.4 .1h1.2m.7 0h1.2m-.9 0h1.2m-.1 0h1.2m6.5 0h1.2m3.8 0h1.2m9.7 0h1.2m-13.4 .1h1.2m-.1 0h1.2m.2 0h1.2m.4 0h1.2m2 0h1.2m3.7 0h1.2m1 0h1.2m-.9 0h1.2m6.5 0h1.2m11.3 0h1.2m.7 0h1.2m-38.5 .1h1.2m-14.2 .1h1.2m12.9 0h1.2m6.1 0h1.2m12.2 0h1.2m1.4 0h1.2m-24.1 .1h1.2m-22.9 .1h1.2m6.8 0h1.2m6 0h1.2m-1.1 0h1.2m0 0h1.2m13.2 0h1.2m-16.2 .1h1.2m15.6 0h1.2m14.8 0h1.2m3.4 0h1.2m1.7 0h1.2m3.7 0h1.2m-56.3 .1h1.2m.1 0h1.2m3.4 0h1.2m6.4 0h1.2m1.3 0h1.2m4.6 0h1.2m11.3 0h1.2m-35.4 .1h1.2m7.3 0h1.2m-14.9 .1h1.2m4.8 0h1.2m0 0h1.2m.1 0h1.2m20.1 0h1.2m-23.5 .1h1.2m-.4 0h1.2m38 0h1.2m-44.8 .1h1.2m9.9 0h1.2m13.3 0h1.2m-6.4 .1h1.2m5.9 0h1.2m22.8 0h1.2m-12.9 .1h1.2m-36.5 .1h1.2m7.4 0h1.2m6.1 0h1.2m.5 0h1.2m18.3 0h1.2m-23.8 .1h1.2m7.2 0h1.2m-30.7 .1h1.2m7.1 0h1.2m-12.1 .1h1.2m28.8 0h1.2m6.6 0h1.2m3.2 .1h1.2m3.8 .1h1.2m7.8 0h1.2m-55.5 .1h1.2m8.8 0h1.2m4.5 0h1.2m4.6 0h1.2m4.3 0h1.2m-3.1 .1h1.2m2.7 0h1.2m6.9 0h1.2m7.5 0h1.2m-34.8 .1h1.2m8.2 0h1.2m-18.5 .1h1.2m-.1 0h1.2m1.2 0h1.2m20.5 0h1.2m-25.8 .1h1.2m0 0h1.2m8.9 0h1.2m5.7 0h1.2m-21 .1h1.2m11.5 0h1.2m8.7 0h1.2m2.8 0h1.2m8.6 0h1.2m3.8 0h1.2m7.2 0h1.2m-55 .1h1.2m2.8 0h1.2m-.6 0h1.2m1.2 0h1.2m-2 .1h1.2m12.4 0h1.2m-.9 0h1.2m-10.9 .1h1.2m29.1 0h1.2m7.3 0h1.2m-46.4 .1h1.2m.9 0h1.2m11.5 0h1.2m.4 0h1.2m3 0h1.2m-22.7 .1h1.2m14.7 0h1.2m5.5 0h1.2m4.3 0h1.2m-25.8 .1h1.2m-.9 0h1.2m-8.8 .1h1.2m7.4 0h1.2m1.7 0h1.2m-1.1 0h1.2m-.9 0h1.2m-.6 0h1.2m2.7 0h1.2m-.8 0h1.2m2.7 0h1.2m10 0h1.2m15.1 0h1.2m-48.4 .1h1.2m14 0h1.2m24 0h1.2m-10.4 .1h1.2m-33.2 .1h1.2m6 0h1.2m4.4 0h1.2m-.1 0h1.2m40.3 0h1.2m-46.1 .1h1.2m-.7 0h1.2m2.8 0h1.2m4 0h1.2m2.7 0h1.2m4.9 0h1.2m8 0h1.2m14.1 0h1.2m-44.8 .1h1.2m7.7 0h1.2m8 0h1.2m3 0h1.2m.6 0h1.2m2 0h1.2m5.4 0h1.2m-44.6 .1h1.2m5.6 0h1.2m1 0h1.2m43.3 0h1.2m-45.2 .1h1.2m-.7 0h1.2m5.3 0h1.2m.3 0h1.2m9.8 0h1.2m0 0h1.2m18.2 0h1.2m.5 0h1.2m1 0h1.2m0 0h1.2m-45.7 .1h1.2m11 0h1.2m29.9 0h1.2m-37.7 .1h1.2m14 0h1.2m-.3 0h1.2m5.3 0h1.2m-38 .1h1.2m12.3 0h1.2m6.1 0h1.2m4 0h1.2m19 0h1.2m-44.2 .1h1.2m1.4 0h1.2m.8 0h1.2m8.8 0h1.2m4.6 0h1.2m4.3 0h1.2m1.2 0h1.2m-26.6 .1h1.2m12.7 0h1.2m6.7 0h1.2m3.3 0h1.2m-36.2 .1h1.2m24.2 0h1.2m6.3 0h1.2m-35.9 .1h1.2m.1 0h1.2m2.9 0h1.2m6 0h1.2m19.9 0h1.2m6.4 0h1.2m-36 .1h1.2m4.9 0h1.2m.7 0h1.2m12.5 0h1.2m3.9 0h1.2m4.4 0h1.2m-7 .1h1.2m7.1 0h1.2m5.1 0h1.2m-17.8 .1h1.2m5.8 0h1.2m5.4 0h1.2m5.3 0h1.2m-51.1 .1h1.2m6.1 0h1.2m9.4 0h1.2m6.3 0h1.2m18.7 0h1.2m-38.1 .1h1.2m12.9 0h1.2m.3 0h1.2m8.9 0h1.2m21.2 0h1.2m-43.9 .1h1.2m4.6 0h1.2m6.4 0h1.2m1.8 0h1.2m-23.9 .1h1.2m.5 0h1.2m15.4 0h1.2m-26.8 .1h1.2m6.7 0h1.2m-3.8 .1h1.2m1.5 0h1.2m3.9 0h1.2m2.4 0h1.2m-.7 .1h1.2m22 0h1.2m-22 .1h1.2m11.6 0h1.2m23.4 0h1.2m-60 .1h1.2m5 0h1.2m1.3 0h1.2m.4 0h1.2m.4 0h1.2m28.5 0h1.2m.6 0h1.2m-38.7 .1h1.2m1.5 0h1.2m12.6 0h1.2m.8 0h1.2m35.2 0h1.2m-55 .1h1.2m12.5 0h1.2m3.9 0h1.2m-.3 0h1.2m6.4 0h1.2m11.5 0h1.2m-47.6 .1h1.2m9.7 0h1.2m2.3 0h1.2m18.1 0h1.2m-29.9 .1h1.2m7.9 0h1.2m4.9 0h1.2m.3 0h1.2m11.2 0h1.2m11 0h1.2m-33.6 .1h1.2m.8 0h1.2m11.9 0h1.2m11.1 0h1.2m-30.7 .1h1.2m-.3 0h1.2m16.5 0h1.2m-14.2 .1h1.2m33.3 0h1.2m3.5 0h1.2m-58.3 .1h1.2m14 0h1.2m.2 0h1.2m6.6 0h1.2m9.4 0h1.2m-29.1 .1h1.2m3.8 0h1.2m3.2 0h1.2m16.4 0h1.2m4.4 0h1.2m-39.3 .1h1.2m1.2 0h1.2m-.5 .1h1.2m7.5 0h1.2m-.1 0h1.2m-2.4 .1h1.2m41.7 0h1.2m-58 .1h1.2m1.1 0h1.2m8.3 0h1.2m-1.2 0h1.2m.1 0h1.2m5.1 0h1.2m2.7 0h1.2m-21.7 .1h1.2m-.8 0h1.2m2.7 0h1.2m1.2 0h1.2m9.2 0h1.2m2.6 0h1.2m11.7 0h1.2m20.8 0h1.2m-50.1 .1h1.2m7.9 0h1.2m36.9 0h1.2m4.8 0h1.2m-59.8 .1h1.2m-.6 0h1.2m16.4 0h1.2m1.5 0h1.2m23.9 0h1.2m-27.8 .1h1.2m.6 0h1.2m.7 0h1.2m21.3 0h1.2m9.9 0h1.2m-60.6 .1h1.2m6.7 0h1.2m1.9 0h1.2m13.4 0h1.2m2.9 0h1.2m3.9 0h1.2m4.2 0h1.2m15.5 0h1.2m-52.3 .1h1.2m7.7 0h1.2m7.9 0h1.2m18 0h1.2m-37.3 .1h1.2m8.9 0h1.2m.5 0h1.2m2.6 0h1.2m17.1 0h1.2m-19.9 .1h1.2m5.5 0h1.2m10.6 0h1.2m2.5 0h1.2m-46.4 .1h1.2m6.9 0h1.2m1.7 0h1.2m-.3 0h1.2m6.6 0h1.2m16.1 0h1.2m13.3 0h1.2m8.3 0h1.2m-53.6 .1h1.2m10.3 0h1.2m11.5 0h1.2m6.9 0h1.2m16.8 0h1.2m-38.9 .1h1.2m.5 0h1.2m6.4 0h1.2m-24.1 .1h1.2m4.4 0h1.2m1.1 0h1.2m3.8 0h1.2m-1.1 0h1.2m4.8 0h1.2m2.4 0h1.2m1 0h1.2m-.5 0h1.2m19.7 0h1.2m-48.7 .1h1.2m12.1 0h1.2m21.1 0h1.2m14.6 0h1.2m-50.9 .1h1.2m2.6 0h1.2m.8 0h1.2m7.9 0h1.2m9.4 0h1.2m-25.3 .1h1.2m8.2 .1h1.2m-13.4 .1h1.2m2.4 0h1.2m1 0h1.2m16.1 0h1.2m2.3 0h1.2m-30.8 .1h1.2m3.2 0h1.2m-.5 0h1.2m24 0h1.2m1 0h1.2m17.7 0h1.2m-47.2 .1h1.2m2.1 0h1.2m5.9 0h1.2m8.5 0h1.2m-23.4 .1h1.2m3.8 0h1.2m3.4 0h1.2m5.2 0h1.2m2.2 0h1.2m-21.8 .1h1.2m7.3 0h1.2m1.5 0h1.2m-1.2 0h1.2m2.5 0h1.2m9.6 0h1.2m5.4 0h1.2m-31.2 .1h1.2m1.9 0h1.2m45.2 0h1.2m-59.1 .1h1.2m.8 0h1.2m22.6 0h1.2m6.2 0h1.2m20.7 0h1.2m-28.9 .1h1.2m24.8 0h1.2m3.9 0h1.2m-55.1 .1h1.2m1.3 0h1.2m14.5 0h1.2m17.5 0h1.2m-33.8 .1h1.2m6.7 0h1.2m14.7 0h1.2m15.2 0h1.2m1.4 0h1.2m-39.8 .1h1.2m12 0h1.2m.4 0h1.2m11 0h1.2m-26.3 .1h1.2m20.1 0h1.2m2.3 0h1.2m-33.4 .1h1.2m3.7 0h1.2m2.9 0h1.2m1.8 0h1.2m20.6 0h1.2m-39.6 .1h1.2m5.3 0h1.2m-.2 0h1.2m4.7 0h1.2m7.5 0h1.2m18.8 0h1.2m-.2 0h1.2m3.6 0h1.2m5.8 0h1.2m-43.4 .1h1.2m9.4 0h1.2m.1 0h1.2m15.1 0h1.2m6 0h1.2m-29.3 .1h1.2m18 0h1.2m5.1 0h1.2m3.9 0h1.2m5.1 0h1.2m-56.4 .1h1.2m17.9 0h1.2m2.1 0h1.2m27.3 0h1.2m-50.4 .1h1.2m-.9 0h1.2m5.2 0h1.2m1 0h1.2m.9 0h1.2m.4 0h1.2m-.6 0h1.2m5.1 0h1.2m2.1 0h1.2m15.8 0h1.2m-42.5 .1h1.2m1.6 0h1.2m.3 0h1.2m3.4 0h1.2m10 0h1.2m8.5 0h1.2m12.1 0h1.2m-.9 0h1.2m14.1 0h1.2m-27.7 .1h1.2m7.5 0h1.2m-35.9 .1h1.2m7.6 0h1.2m22 0h1.2m-38 .1h1.2m-.9 0h1.2m2.9 0h1.2m-.9 0h1.2m7.7 0h1.2m29.4 .1h1.2m2.2 0h1.2m14.2 0h1.2m-70.7 .1h1.2m3.9 0h1.2m.2 0h1.2m15.5 0h1.2m3.9 0h1.2m3.1 0h1.2m8.1 0h1.2m1.9 0h1.2m-31.2 .1h1.2m8.3 0h1.2m-21.4 .1h1.2m49.8 0h1.2m-49.8 .1h1.2m-.2 0h1.2m2.6 0h1.2m.2 0h1.2m12.6 0h1.2m3.9 0h1.2m1.8 0h1.2m11.9 0h1.2m7.2 0h1.2m-48.1 .1h1.2m10.3 0h1.2m1.5 0h1.2m10.1 0h1.2m.3 0h1.2m5.1 0h1.2m-32 .1h1.2m6.7 0h1.2m.5 0h1.2m3.3 0h1.2m-15.2 .1h1.2m-.5 0h1.2m3.4 0h1.2m-1.1 0h1.2m7.9 0h1.2m2.2 0h1.2m12.7 0h1.2m10.9 0h1.2m-52 .1h1.2m-.4 0h1.2m5.6 0h1.2m2.6 0h1.2m-8.9 .1h1.2m.7 0h1.2m1.2 0h1.2m7.4 0h1.2m8.5 0h1.2m15.8 0h1.2m-41.2 .1h1.2m3.7 0h1.2m.8 0h1.2m13.8 0h1.2m-1 0h1.2m20.1 0h1.2m1.2 0h1.2m-42.7 .1h1.2m3.2 0h1.2m6.5 0h1.2m22 0h1.2m-40.4 .1h1.2m2.9 0h1.2m13.2 0h1.2m-7.4 .1h1.2m1.8 0h1.2m3.3 0h1.2m13.5 0h1.2m-43.6 .1h1.2m.7 0h1.2m3.1 0h1.2m1.1 0h1.2m2.5 0h1.2m-1.1 0h1.2m1 0h1.2m1 0h1.2m1.8 0h1.2m2.5 0h1.2m-.6 0h1.2m5.2 0h1.2m23.4 0h1.2m-52.1 .1h1.2m.8 0h1.2m.8 0h1.2m2 0h1.2m10.3 0h1.2m3.8 0h1.2m-.4 0h1.2m21.1 0h1.2m-44.7 .1h1.2m-.7 0h1.2m23.5 0h1.2m13.6 0h1.2m3.3 0h1.2m-53.3 .1h1.2m8.8 0h1.2m-1 0h1.2m7.6 0h1.2m7.6 0h1.2m-27.4 .1h1.2m18.1 0h1.2m5.9 0h1.2m24.9 0h1.2m5.5 0h1.2m-.2 0h1.2m-61.8 .1h1.2m4.4 0h1.2m5.3 0h1.2m17.4 0h1.2m7.3 0h1.2m-.3 0h1.2m14.5 0h1.2m-53.4 .1h1.2m5.2 0h1.2m2.5 0h1.2m.5 0h1.2m14.9 0h1.2m6.7 0h1.2m15.9 0h1.2m-52.8 .1h1.2m16.9 0h1.2m.2 0h1.2m4.2 0h1.2m-.5 0h1.2m8.1 0h1.2m13.1 0h1.2m-.6 0h1.2m2.1 0h1.2m-50.3 .1h1.2m-.2 0h1.2m.1 0h1.2m-.9 0h1.2m11.4 0h1.2m31.8 0h1.2m-57.8 .1h1.2m4.8 0h1.2m1.3 0h1.2m3.7 0h1.2m12.5 0h1.2m-.5 0h1.2m2.6 0h1.2m-33.2 .1h1.2m10.2 0h1.2m16.4 0h1.2m.4 0h1.2m19.8 0h1.2m-42.6 .1h1.2m1.9 0h1.2m1.3 0h1.2m.4 0h1.2m-7 .1h1.2m4.4 0h1.2m3.9 0h1.2m20.4 0h1.2m1.8 0h1.2m-28.9 .1h1.2m3.9 .1h1.2m-.8 0h1.2m22.1 0h1.2m.9 0h1.2m12.6 0h1.2m-61.7 .1h1.2m3.3 0h1.2m7.3 0h1.2m41.3 0h1.2m-52.9 .1h1.2m5.4 0h1.2m8 0h1.2m-.8 0h1.2m-.1 0h1.2m3.3 0h1.2m1.4 0h1.2m33.9 0h1.2m-68.8 .1h1.2m4.4 0h1.2m.8 0h1.2m1.4 0h1.2m-1.2 0h1.2m.8 0h1.2m5.7 0h1.2m1 0h1.2m1.8 0h1.2m-17.7 .1h1.2m6 0h1.2m6.2 0h1.2m1 0h1.2m3.7 0h1.2m-19 .1h1.2m6.3 0h1.2m12.9 0h1.2m-27.9 .1h1.2m1.9 0h1.2m-.8 0h1.2m-1.2 0h1.2m1.2 0h1.2m9 0h1.2m23.8 0h1.2m-40.8 .1h1.2m6.7 0h1.2m16.7 0h1.2m3.3 0h1.2m7.5 0h1.2m-1.1 0h1.2m16.9 0h1.2m-61.7 .1h1.2m20.1 0h1.2m9.7 0h1.2m.9 0h1.2m3.1 0h1.2m-32.6 .1h1.2m4 0h1.2m2.1 0h1.2m2.4 0h1.2m0 0h1.2m-22.5 .1h1.2m-1.1 0h1.2m15.6 0h1.2m0 0h1.2m18.3 0h1.2m-.2 0h1.2m-36.7 .1h1.2m1.3 0h1.2m-.7 0h1.2m2.7 0h1.2m3.2 0h1.2m4.9 0h1.2m-.3 0h1.2m17.5 0h1.2m-38.5 .1h1.2m6 0h1.2m6.2 0h1.2m2.4 0h1.2m5.7 0h1.2m.7 0h1.2m-34.3 .1h1.2m9 0h1.2m2.1 0h1.2m-.5 0h1.2m-.9 0h1.2m1 0h1.2m18 0h1.2m11.8 0h1.2m4.7 0h1.2m-58 .1h1.2m1.5 0h1.2m4.8 0h1.2m2.8 0h1.2m-.5 0h1.2m14.1 0h1.2m.1 0h1.2m25 0h1.2m4.5 0h1.2m3.2 0h1.2m-56.3 .1h1.2m6.6 0h1.2m1.5 0h1.2m5.6 0h1.2m12.5 0h1.2m15.5 0h1.2m3.5 0h1.2m-57 .1h1.2m-.8 0h1.2m.5 0h1.2m-.1 0h1.2m18.5 0h1.2m.1 0h1.2m.1 0h1.2m14.9 0h1.2m10.7 0h1.2m-54.9 .1h1.2m6.3 0h1.2m12.1 0h1.2m-.5 0h1.2m2.8 0h1.2m11.4 0h1.2m7.8 0h1.2m-48.7 .1h1.2m11.6 0h1.2m8 0h1.2m6.6 0h1.2m14.2 0h1.2m-48.1 .1h1.2m8.7 0h1.2m4.8 0h1.2m6 0h1.2m-27.3 .1h1.2m-1.1 0h1.2m1.3 0h1.2m7 0h1.2m.1 .1h1.2m17.4 0h1.2m-6.8 .1h1.2m0 0h1.2m.2 0h1.2m1.7 0h1.2m16.9 0h1.2m16.8 0h1.2m-67.4 .1h1.2m5.5 0h1.2m0 0h1.2m2.2 0h1.2m7.7 0h1.2m3.4 0h1.2m5.1 0h1.2m18 0h1.2m5.3 0h1.2m-55.9 .1h1.2m.8 0h1.2m21.4 0h1.2m6.8 0h1.2m16.1 0h1.2m-50 .1h1.2m13.8 0h1.2m6.5 0h1.2m7.6 0h1.2m4.3 0h1.2m-38.8 .1h1.2m-1.2 0h1.2m3.7 0h1.2m-.8 0h1.2m5.4 0h1.2m.5 0h1.2m12 0h1.2m9.9 0h1.2m4.2 0h1.2m4.4 0h1.2m.9 0h1.2m-57 .1h1.2m6.8 0h1.2m13 0h1.2m10.5 0h1.2m3 0h1.2m-39.2 .1h1.2m2.5 0h1.2m1.8 0h1.2m.2 0h1.2m10.2 0h1.2m27.4 0h1.2m-51.1 .1h1.2m-.2 0h1.2m21.5 0h1.2m8.3 0h1.2m2.3 0h1.2m-30.9 .1h1.2m10.4 0h1.2m33.6 0h1.2m-48.8 .1h1.2m29.9 0h1.2m-37.3 .1h1.2m18.7 0h1.2m-.9 0h1.2m5.5 0h1.2m18.6 0h1.2m6.5 0h1.2m.8 0h1.2m-55.1 .1h1.2m17.2 0h1.2m9.3 0h1.2m1.3 0h1.2m.5 0h1.2m17.3 0h1.2m-45.2 .1h1.2m19.7 0h1.2m19.5 0h1.2m1.5 0h1.2m6.9 0h1.2m-58.1 .1h1.2m1.4 0h1.2m11.9 0h1.2m-12.4 .1h1.2m4.8 0h1.2m.4 0h1.2m3.2 0h1.2m1.4 0h1.2m15.4 0h1.2m-14.9 .1h1.2m11.6 0h1.2m13.4 0h1.2m-36.4 .1h1.2m3.8 0h1.2m29.3 0h1.2m-1.1 0h1.2m-51.5 .1h1.2m-.8 0h1.2m15.8 0h1.2m2.4 0h1.2m.7 0h1.2m10.4 0h1.2m-12.5 .1h1.2m-29.1 .1h1.2m16.1 0h1.2m6.9 0h1.2m-.5 0h1.2m6.2 0h1.2m26.9 0h1.2m-62.9 .1h1.2m5 0h1.2m-.1 0h1.2m1.7 0h1.2m9.5 0h1.2m16.7 0h1.2m5.1 0h1.2m3.9 0h1.2m16.2 0h1.2m-59.1 .1h1.2m6.2 0h1.2m9.7 0h1.2m12.6 0h1.2m.8 0h1.2m1.8 0h1.2m-41 .1h1.2m2.1 0h1.2m1.1 0h1.2m31.3 0h1.2m16.3 0h1.2m-61.4 .1h1.2m19.1 0h1.2m.7 0h1.2m1.3 0h1.2m12.3 0h1.2m5.5 0h1.2m4.4 0h1.2m8.8 0h1.2m-28.8 .1h1.2m-30.2 .1h1.2m.2 0h1.2m.5 0h1.2m8.6 0h1.2m10.9 0h1.2m36.2 0h1.2m-67.8 .1h1.2m-.5 0h1.2m15.1 0h1.2m6.2 0h1.2m9.6 0h1.2m-38.7 .1h1.2m7.2 0h1.2m2.7 0h1.2m9.5 0h1.2m10.1 0h1.2m-18.6 .1h1.2m2.7 0h1.2m20.7 0h1.2m-.4 0h1.2m-42 .1h1.2m14.8 0h1.2m2.8 0h1.2m-20 .1h1.2m.8 0h1.2m1.7 0h1.2m-1.1 0h1.2m-1.1 0h1.2m13.7 0h1.2m4.3 0h1.2m-1.1 0h1.2m-25.4 .1h1.2m5.4 0h1.2m4.3 0h1.2m-.8 0h1.2m12.8 0h1.2m1.3 0h1.2m2.3 0h1.2m19.8 0h1.2m-47.4 .1h1.2m5.6 0h1.2m-1.2 0h1.2m-.3 0h1.2m-.9 0h1.2m34 0h1.2m-46.9 .1h1.2m4.4 0h1.2m-.1 0h1.2m4.2 0h1.2m6.7 0h1.2m-27.1 .1h1.2m4.7 0h1.2m1.3 0h1.2m1.6 0h1.2m.8 0h1.2m5.2 0h1.2m2.8 0h1.2m13.4 0h1.2m13.7 0h1.2m-54.6 .1h1.2m12.4 0h1.2m.2 0h1.2m20 0h1.2m2 0h1.2m-38 .1h1.2m-.8 0h1.2m6.5 0h1.2m4.3 0h1.2m6.3 0h1.2m5.9 0h1.2m1.6 0h1.2m16.9 0h1.2m4.3 0h1.2m-61.6 .1h1.2m3.6 0h1.2m.2 0h1.2m4.3 0h1.2m1.8 0h1.2m4.5 0h1.2m14.3 0h1.2m9.4 0h1.2m-37.9 .1h1.2m.1 0h1.2m6.2 0h1.2m.2 0h1.2m23 0h1.2m4.6 0h1.2m8.5 0h1.2m-44.7 .1h1.2m7.7 0h1.2m-.7 0h1.2m18.8 0h1.2m-39.8 .1h1.2m0 0h1.2m0 0h1.2m6.4 0h1.2m1.3 0h1.2m13.3 0h1.2m-30.3 .1h1.2m5.9 0h1.2m2.1 0h1.2m-.5 0h1.2m-1.2 0h1.2m2.5 0h1.2m2.3 0h1.2m.6 0h1.2m4.9 0h1.2m16.6 0h1.2m23 0h1.2m-71.4 .1h1.2m5.2 0h1.2m6.1 0h1.2m1.3 0h1.2m-.5 0h1.2m16.5 0h1.2m-.1 0h1.2m-34.3 .1h1.2m-.9 0h1.2m7.3 0h1.2m-.9 0h1.2m-1.1 0h1.2m3.9 0h1.2m24.7 0h1.2m19.4 0h1.2m-59.7 .1h1.2m-.8 0h1.2m5.8 0h1.2m7.1 0h1.2m-18.4 .1h1.2m7.6 0h1.2m.3 0h1.2m-.6 0h1.2m10.8 0h1.2m3 0h1.2m-.9 0h1.2m-28.6 .1h1.2m2.1 0h1.2m-.8 0h1.2m1 0h1.2m-1.2 0h1.2m3.3 0h1.2m-.8 0h1.2m1.9 0h1.2m6.9 0h1.2m37.5 0h1.2m-62.8 .1h1.2m1.6 0h1.2m15.6 0h1.2m-25.8 .1h1.2m4.9 0h1.2m4.1 0h1.2m5.2 0h1.2m4.5 0h1.2m30.6 0h1.2m20.6 0h1.2m-78.9 .1h1.2m11.1 0h1.2m3.8 0h1.2m23.2 0h1.2m1.8 0h1.2m3.3 0h1.2m5.9 0h1.2m1.6 0h1.2m6.8 0h1.2m-61.7 .1h1.2m8.5 0h1.2m0 0h1.2m8.8 0h1.2m13.3 0h1.2m1.1 0h1.2m8.2 0h1.2m-54.4 .1h1.2m5.1 0h1.2m.4 0h1.2m13 0h1.2m54.5 0h1.2m-72.4 .1h1.2m17.1 0h1.2m-.6 0h1.2m2.1 0h1.2m7.5 0h1.2m.4 0h1.2m7.5 0h1.2m5.6 0h1.2m12.2 0h1.2m18.8 0h1.2m-90.9 .1h1.2m.1 0h1.2m6.1 0h1.2m5.9 0h1.2m9.8 0h1.2m9.1 0h1.2m1.3 0h1.2m10.5 0h1.2m-32 .1h1.2m.3 0h1.2m6.3 0h1.2m5 0h1.2m12.6 0h1.2m12.9 0h1.2m-56.2 .1h1.2m10.6 0h1.2m11.6 0h1.2m12.5 0h1.2m-44.6 .1h1.2m57.2 0h1.2m2.5 0h1.2m-66.4 .1h1.2m0 0h1.2m4.1 0h1.2m-.7 0h1.2m31.2 0h1.2m26 0h1.2m-59.1 .1h1.2m4.9 0h1.2m3.9 0h1.2m1.9 0h1.2m-.6 0h1.2m6.8 0h1.2m4.2 0h1.2m16.9 0h1.2m-48 .1h1.2m2.9 0h1.2m5.5 0h1.2m8 0h1.2m0 0h1.2m6.5 0h1.2m6.1 0h1.2m-46.1 .1h1.2m18.5 0h1.2m14.1 0h1.2m-31.7 .1h1.2m2.7 0h1.2m9.6 0h1.2m10.3 0h1.2m2.4 0h1.2m9.7 0h1.2m27.9 0h1.2m-47.3 .1h1.2m1.6 0h1.2m6.2 0h1.2m9 0h1.2m9.4 0h1.2m-43.9 .1h1.2m2.7 0h1.2m3.5 0h1.2m16.8 0h1.2m-41.1 .1h1.2m.5 0h1.2m1.4 0h1.2m16 0h1.2m1.9 0h1.2m11.7 0h1.2m-40.2 .1h1.2m11.9 0h1.2m7.2 0h1.2m5.1 0h1.2m6.8 0h1.2m24.7 0h1.2m-61 .1h1.2m.3 0h1.2m2.4 0h1.2m-1.1 0h1.2m17.3 0h1.2m4.1 0h1.2m-.1 0h1.2m8.2 0h1.2m-28.4 .1h1.2m43.8 0h1.2m22.2 0h1.2m-84.1 .1h1.2m.5 0h1.2m3.1 0h1.2m7 0h1.2m-9.3 .1h1.2m10 0h1.2m.1 0h1.2m1.4 0h1.2m3.7 0h1.2m2.3 0h1.2m14.3 0h1.2m10 0h1.2m4.6 0h1.2m-1.1 0h1.2m-39.7 .1h1.2m3.5 0h1.2m3.2 0h1.2m4 0h1.2m27.2 0h1.2m-65.4 .1h1.2m30.4 0h1.2m2.7 0h1.2m10.2 0h1.2m3 0h1.2m1.2 0h1.2m.9 0h1.2m10.1 0h1.2m-63.3 .1h1.2m17.2 0h1.2m-22.3 .1h1.2m20.9 0h1.2m-10.3 .1h1.2m5.1 0h1.2m0 0h1.2m11.8 0h1.2m1 0h1.2m-1.2 0h1.2m.2 0h1.2m2.2 0h1.2m2.3 0h1.2m10.9 0h1.2m2.5 0h1.2m-64 .1h1.2m1.3 0h1.2m12.9 0h1.2m-.3 0h1.2m3.9 0h1.2m.2 0h1.2m.3 0h1.2m29 0h1.2m5.2 0h1.2m-49.7 .1h1.2m9.2 0h1.2m7.4 0h1.2m2.3 0h1.2m3.4 0h1.2m11.3 0h1.2m-41.6 .1h1.2m8.2 0h1.2m2.2 0h1.2m19.4 0h1.2m6.2 0h1.2m-26.2 .1h1.2m5.1 0h1.2m4.4 0h1.2m6.5 0h1.2m15.7 0h1.2m-60.7 .1h1.2m5.9 0h1.2m13 0h1.2m3.4 0h1.2m-1.1 0h1.2m-20.4 .1h1.2m17.5 0h1.2m.9 0h1.2m5.6 0h1.2m4.3 0h1.2m30.2 0h1.2m-50.8 .1h1.2m1.6 0h1.2m21.9 0h1.2m8.6 0h1.2m-46.7 .1h1.2m1.5 0h1.2m12 0h1.2m14.7 0h1.2m-52.7 .1h1.2m3.3 0h1.2m18.6 0h1.2m-1 0h1.2m8.5 0h1.2m-.8 0h1.2m11.5 0h1.2m-.2 0h1.2m1.4 0h1.2m4 0h1.2m10.8 0h1.2m-64.9 .1h1.2m23.9 0h1.2m-.4 0h1.2m1.2 0h1.2m11.1 0h1.2m14.8 0h1.2m-46.3 .1h1.2m15.4 0h1.2m.2 0h1.2m10.6 0h1.2m12.9 0h1.2m1.9 0h1.2m-35.9 .1h1.2m1.6 0h1.2m15.4 0h1.2m16.5 0h1.2m-50.4 .1h1.2m7.3 0h1.2m-.7 0h1.2m1.4 0h1.2m-.1 0h1.2m-.2 0h1.2m3.9 0h1.2m17.9 0h1.2m-52.5 .1h1.2m23.2 0h1.2m8 0h1.2m11.5 0h1.2m-34.6 .1h1.2m13.1 0h1.2m11.7 0h1.2m5.1 0h1.2m17.5 0h1.2m.8 0h1.2m-65.9 .1h1.2m9.2 0h1.2m8.3 0h1.2m1.6 0h1.2m-.8 0h1.2m7.7 0h1.2m.4 0h1.2m2.6 0h1.2m7.4 0h1.2m7.4 0h1.2m-30.4 .1h1.2m11 0h1.2m2.2 0h1.2m5.9 0h1.2m1.5 0h1.2m-30.5 .1h1.2m2.3 0h1.2m2.4 0h1.2m4 0h1.2m-13.4 .1h1.2m6 0h1.2m16.3 0h1.2m8.1 0h1.2m-36 .1h1.2m-.7 0h1.2m-.8 0h1.2m.4 0h1.2m.7 0h1.2m2.7 0h1.2m.9 0h1.2m6.4 0h1.2m4 0h1.2m5.7 0h1.2m-.9 0h1.2m-55 .1h1.2m23.4 0h1.2m-29 .1h1.2m.9 0h1.2m12.1 0h1.2m-.9 0h1.2m3.1 0h1.2m6.4 0h1.2m3.3 0h1.2m-32.3 .1h1.2m-.1 0h1.2m17.2 0h1.2m3 0h1.2m30.7 0h1.2m7.8 0h1.2m-39.3 .1h1.2m.8 0h1.2m21.7 0h1.2m6.8 0h1.2m-13.3 .1h1.2m18.3 0h1.2m-65.9 .1h1.2m26.5 0h1.2m10.8 0h1.2m4.9 0h1.2m-48.5 .1h1.2m12.7 0h1.2m12 0h1.2m-.3 0h1.2m.4 0h1.2m1.4 0h1.2m1.6 0h1.2m5.6 0h1.2m7.8 0h1.2m-.4 0h1.2m2.3 0h1.2m6.8 0h1.2m-.8 0h1.2m9.3 0h1.2m-73.4 .1h1.2m28.5 0h1.2m-.2 0h1.2m.4 0h1.2m1.4 0h1.2m1.7 0h1.2m2.1 0h1.2m2.4 0h1.2m-47.1 .1h1.2m25 0h1.2m.4 0h1.2m26.2 0h1.2m6.3 0h1.2m-62.8 .1h1.2m23.3 0h1.2m6.3 0h1.2m-1.1 0h1.2m4.2 0h1.2m13.8 0h1.2m-27.1 .1h1.2m-.9 0h1.2m2.8 0h1.2m0 0h1.2m2.7 0h1.2m-10.3 .1h1.2m1.2 0h1.2m9.2 0h1.2m-1 0h1.2m2.1 0h1.2m8.3 0h1.2m5.6 0h1.2m-35.7 .1h1.2m.4 0h1.2m4.1 0h1.2m3.2 0h1.2m19.7 0h1.2m-58.5 .1h1.2m22.2 0h1.2m2.1 0h1.2m21.2 0h1.2m-50.7 .1h1.2m23.6 0h1.2m4.7 0h1.2m.5 0h1.2m-9.6 .1h1.2m2.1 0h1.2m9.7 0h1.2m-.6 0h1.2m10.5 0h1.2m2.7 0h1.2m2.1 0h1.2m-59.9 .1h1.2m21 0h1.2m5.6 0h1.2m4.4 0h1.2m3.4 0h1.2m4.5 0h1.2m-.9 0h1.2m-.6 0h1.2m1.2 0h1.2m11.5 0h1.2m.3 0h1.2m-35.8 .1h1.2m3.4 0h1.2m6.2 0h1.2m3.4 0h1.2m5.8 0h1.2m9.4 0h1.2m-33.1 .1h1.2m1.1 0h1.2m14 0h1.2m2.9 0h1.2m10.3 0h1.2m-62.7 .1h1.2m10.6 0h1.2m-.7 0h1.2m17.6 0h1.2m.3 0h1.2m.6 0h1.2m.1 0h1.2m15 0h1.2m8.2 0h1.2m-39.6 .1h1.2m3.8 0h1.2m2.3 0h1.2m12.9 0h1.2m-15 .1h1.2m-35 .1h1.2m13.2 0h1.2m-1.1 0h1.2m12.8 0h1.2m.4 0h1.2m2.4 0h1.2m-.1 0h1.2m11.9 0h1.2m-.6 0h1.2m4.3 0h1.2m10.8 0h1.2m-52.7 .1h1.2m6.9 0h1.2m8.6 0h1.2m.5 0h1.2m18.8 0h1.2m-53.3 .1h1.2m20 0h1.2m8.9 0h1.2m5.1 0h1.2m1.4 0h1.2m7.8 0h1.2m-52.5 .1h1.2m26.5 0h1.2m22.9 0h1.2m-.8 0h1.2m20.8 0h1.2m-42.2 .1h1.2m6.2 0h1.2m7.5 0h1.2m-25.6 .1h1.2m.9 0h1.2m-.8 0h1.2m1.8 0h1.2m5.2 0h1.2m.6 0h1.2m-.5 0h1.2m-38.5 .1h1.2m28.6 0h1.2m6.8 0h1.2m27.9 0h1.2m-46.6 .1h1.2m2.8 0h1.2m2.2 0h1.2m10.1 0h1.2m-20.4 .1h1.2m4.2 0h1.2m3.1 0h1.2m12.8 0h1.2m5 0h1.2m-51.8 .1h1.2m10.5 0h1.2m13.1 0h1.2m3.4 0h1.2m-.8 0h1.2m9.1 0h1.2m-.4 0h1.2m10.7 0h1.2m4.4 0h1.2m-61 .1h1.2m19.5 0h1.2m7.6 0h1.2m5.7 0h1.2m11.8 0h1.2m9.6 0h1.2m.8 0h1.2m-42.5 .1h1.2m10.7 0h1.2m-.9 0h1.2m3.3 0h1.2m13.1 0h1.2m-53.4 .1h1.2m25.8 0h1.2m-1 0h1.2m1 0h1.2m9.2 0h1.2m5.7 0h1.2m9.1 0h1.2m-35 .1h1.2m-1 0h1.2m2.8 0h1.2m11.9 0h1.2m7.3 0h1.2m-6.3 .1h1.2m.1 0h1.2m3.3 0h1.2m11.8 0h1.2m-27.3 .1h1.2m1.8 0h1.2m6 0h1.2m.6 0h1.2m11 0h1.2m-64.1 .1h1.2m29.3 0h1.2m-.1 0h1.2m14.6 0h1.2m15.4 0h1.2m-25.8 .1h1.2m1.9 0h1.2m2.9 0h1.2m3 0h1.2m2.1 0h1.2m13.7 0h1.2m-67.4 .1h1.2m21.1 0h1.2m1.4 0h1.2m1.7 0h1.2m.4 0h1.2m5.6 0h1.2m1.5 0h1.2m12.1 0h1.2m-27.7 .1h1.2m4.7 0h1.2m8.5 0h1.2m13.3 0h1.2m-32.7 .1h1.2m6.6 0h1.2m6.2 0h1.2m4.2 0h1.2m.5 0h1.2m1.1 0h1.2m8.8 0h1.2m-60.4 .1h1.2m-.9 0h1.2m10.1 0h1.2m13.1 0h1.2m6.9 0h1.2m15.6 0h1.2m7.1 0h1.2m16.5 0h1.2m-78.6 .1h1.2m-.3 0h1.2m26.3 0h1.2m-30.7 .1h1.2m12.8 0h1.2m9.7 0h1.2m1.3 0h1.2m-1.2 0h1.2m.9 0h1.2m1.2 0h1.2m.2 0h1.2m-.6 0h1.2m5 0h1.2m5.8 0h1.2m15.3 0h1.2m-31.4 .1h1.2m5.4 0h1.2m7.1 0h1.2m-.4 0h1.2m12.2 0h1.2m1.5 0h1.2m-.2 0h1.2m-65.5 .1h1.2m39.4 0h1.2m6.6 0h1.2m3.4 0h1.2m-31.3 .1h1.2m8.8 0h1.2m3.3 0h1.2m1.2 0h1.2m-41.4 .1h1.2m-1.1 0h1.2m35.3 0h1.2m-.7 0h1.2m11.6 0h1.2m11.5 0h1.2m30.3 0h1.2m5.3 0h1.2m-104.2 .1h1.2m39.4 0h1.2m-1 0h1.2m25.6 0h1.2m.3 0h1.2m-42.6 .1h1.2m14 0h1.2m.4 0h1.2m6.7 0h1.2m25 0h1.2m-.2 0h1.2m-43.4 .1h1.2m25.4 0h1.2m-62.9 .2h1.2m23.8 0h1.2m2.5 0h1.2m17.6 0h1.2m-1.2 0h1.2m2.2 0h1.2m-28.5 .1h1.2m4.7 0h1.2m15.1 0h1.2m-23.5 .1h1.2m4.1 0h1.2m-1.2 0h1.2m7.3 0h1.2m-.9 0h1.2m13.6 0h1.2m-.7 0h1.2m4 0h1.2m.3 0h1.2m45.9 0h1.2m-.5 0h1.2m-110.8 .1h1.2m33.8 .1h1.2m19 0h1.2m6.5 0h1.2m-.1 0h1.2m-.9 0h1.2m-23.3 .1h1.2m12.5 0h1.2m5.9 0h1.2m1.6 0h1.2m-.1 0h1.2m-68.5 .1h1.2m30.4 0h1.2m3.1 0h1.2m5.2 0h1.2m-1.1 0h1.2m10.5 0h1.2m.3 0h1.2m10.3 0h1.2m-.5 0h1.2m-68.3 .1h1.2m29.4 0h1.2m22.5 0h1.2m-.3 0h1.2m-20.9 .1h1.2m20.6 0h1.2m1.5 0h1.2m-25.4 .1h1.2m-.9 0h1.2m.4 0h1.2m2.9 0h1.2m-.7 0h1.2m.2 0h1.2m3.1 0h1.2m14.9 0h1.2m-30.4 .1h1.2m5.8 0h1.2m-7 .1h1.2m9.9 0h1.2m1 0h1.2m3.6 0h1.2m5.9 0h1.2m-31.4 .1h1.2m15.2 0h1.2m52.9 0h1.2m-64.3 .1h1.2m1.9 0h1.2m7 0h1.2m3 0h1.2m-17.1 .1h1.2m38.5 0h1.2m-43.5 .1h1.2m-.8 0h1.2m-.3 0h1.2m0 0h1.2m-.8 0h1.2m12.6 0h1.2m.2 0h1.2m8.7 0h1.2m-11.9 .1h1.2m9.3 0h1.2m4.4 0h1.2m-29.8 .1h1.2m-.9 0h1.2m12.4 0h1.2m1.6 0h1.2m9.7 0h1.2m-30.8 .1h1.2m22 0h1.2m-24.2 .1h1.2m.8 0h1.2m-.9 0h1.2m6.2 0h1.2m19.5 0h1.2m-26.3 .1h1.2m7.1 0h1.2m5.8 0h1.2m-20.7 .1h1.2m8.6 0h1.2m11 0h1.2m-26.6 .1h1.2m6 0h1.2m12 0h1.2m-18.9 .1h1.2m1.4 0h1.2m9.5 0h1.2m25.2 0h1.2m-37.6 .1h1.2m0 0h1.2m.7 0h1.2m.7 0h1.2m2.1 0h1.2m3.4 0h1.2m13.3 0h1.2m-33.7 .1h1.2m11.4 0h1.2m2.7 0h1.2m14.8 0h1.2m7 0h1.2m-47.4 .1h1.2m4.8 0h1.2m.6 0h1.2m-1.1 0h1.2m7.7 0h1.2m.2 0h1.2m21.7 0h1.2m-33.9 .1h1.2m-.9 0h1.2m11.9 0h1.2m14.3 0h1.2m8.3 0h1.2m-32.5 .1h1.2m.3 0h1.2m2.6 0h1.2m-22 .1h1.2m2.7 0h1.2m1.5 0h1.2m9.9 0h1.2m18.7 0h1.2m-30.9 .1h1.2m-.9 0h1.2m4.5 0h1.2m9.7 0h1.2m2 0h1.2m7.9 0h1.2m-34.7 .1h1.2m1.5 0h1.2m7.7 0h1.2m-10 .1h1.2m-.6 0h1.2m1.6 0h1.2m-.9 0h1.2m-1.2 0h1.2m10.5 0h1.2m-13.3 .1h1.2m10 0h1.2m2.5 0h1.2m-.3 0h1.2m-.2 0h1.2m19.1 0h1.2m-48.7 .1h1.2m3.3 0h1.2m-.4 0h1.2m.9 0h1.2m-1.1 0h1.2m-.1 0h1.2m1 0h1.2m-.4 0h1.2m2.5 0h1.2m1.5 0h1.2m1.8 0h1.2m.7 0h1.2m-11.3 .1h1.2m2.2 0h1.2m7.3 0h1.2m1.6 0h1.2m-28.6 .1h1.2m8.9 0h1.2m2.9 0h1.2m-10.9 .1h1.2m1.5 0h1.2m-.7 0h1.2m.8 0h1.2m7.1 0h1.2m.5 0h1.2m.2 0h1.2m.9 0h1.2m-24.2 .1h1.2m22 0h1.2m42.9 0h1.2m-68.6 .1h1.2m15.8 0h1.2m3 0h1.2m-18.6 .1h1.2m.6 0h1.2m3.1 0h1.2m2.5 0h1.2m15 0h1.2m1 0h1.2m-27.1 .2h1.2m2.6 0h1.2m0 0h1.2m3.7 0h1.2m7.1 0h1.2m-20.3 .2h1.2m11.2 0h1.2m23.1 0h1.2m22.8 0h1.2m-61.6 .1h1.2m9 0h1.2m-1 0h1.2m4.3 0h1.2m7.3 0h1.2m-23.2 .1h1.2m5.3 0h1.2m2.3 0h1.2m3.1 0h1.2m.1 0h1.2m-3.8 .1h1.2m2.3 0h1.2m16.4 0h1.2m-1.2 0h1.2m-.8 0h1.2m-26.2 .1h1.2m-1.1 0h1.2m-.8 0h1.2m-1.2 0h1.2m4.4 0h1.2m-.4 0h1.2m26.7 0h1.2m-42.5 .1h1.2m3.3 0h1.2m5.6 0h1.2m4.6 0h1.2m-19.6 .1h1.2m-.6 0h1.2m6 0h1.2m.3 0h1.2m2.8 0h1.2m6.3 0h1.2m4.1 0h1.2m-22.7 .1h1.2m0 .1h1.2m-1.1 0h1.2m-12.6 .1h1.2m0 0h1.2m1.2 0h1.2m4.6 0h1.2m2 0h1.2m-1 0h1.2m1.3 0h1.2m21.1 0h1.2m-21.5 .1h1.2m-18.8 .1h1.2m1 0h1.2m5.8 0h1.2m-1 0h1.2m8.9 0h1.2m-.8 0h1.2m-.3 0h1.2m-21 .1h1.2m5 0h1.2m3.4 0h1.2m-1.1 0h1.2m7.4 0h1.2m-.2 0h1.2m-20.9 .1h1.2m3.9 0h1.2m13.2 0h1.2m-.9 0h1.2m25.1 0h1.2m-49.1 .1h1.2m.4 0h1.2m-.5 0h1.2m7.8 0h1.2m1 0h1.2m-10.7 .2h1.2m2.2 0h1.2m.2 0h1.2m1.3 0h1.2m1.2 0h1.2m27.6 0h1.2m-42.3 .1h1.2m1.3 0h1.2m4.4 0h1.2m2.3 0h1.2m18.9 0h1.2m-33.5 .1h1.2m12.8 0h1.2m3.6 0h1.2m11.6 0h1.2m-29.8 .1h1.2m10.5 0h1.2m2.7 0h1.2m-4.4 .1h1.2m1.8 0h1.2m.8 0h1.2m6 0h1.2m14 0h1.2m-34.2 .1h1.2m.1 0h1.2m4.7 0h1.2m-.4 0h1.2m5.2 0h1.2m-24.8 .1h1.2m18.2 0h1.2m10.2 0h1.2m4.5 0h1.2m-31.7 .1h1.2m.3 0h1.2m6.7 0h1.2m2.5 0h1.2m-20.4 .1h1.2m2 0h1.2m1.3 0h1.2m9.1 0h1.2m1.6 0h1.2m40.8 0h1.2m-63.3 .1h1.2m8.6 0h1.2m1.4 0h1.2m.1 0h1.2m2.7 0h1.2m.2 0h1.2m-.8 0h1.2m0 0h1.2m16.5 0h1.2m-35.1 .1h1.2m-4.6 .1h1.2m22.2 0h1.2m2.8 0h1.2m2.3 0h1.2m16.5 0h1.2m-49.3 .1h1.2m14.6 0h1.2m-1.2 0h1.2m3.8 0h1.2m.5 0h1.2m0 0h1.2m-24.7 .1h1.2m-2.4 .1h1.2m6.6 0h1.2m3.9 0h1.2m.8 0h1.2m-1 0h1.2m5.1 0h1.2m-6.5 .1h1.2m13.9 0h1.2m-33.1 .1h1.2m13.8 0h1.2m-15.7 .1h1.2m6.4 0h1.2m8.2 0h1.2m0 0h1.2m3.9 0h1.2m-24 .1h1.2m-.4 0h1.2m-1.1 0h1.2m3.8 .1h1.2m.2 0h1.2m22.2 0h1.2m-31.5 .1h1.2m13.1 0h1.2m14.1 0h1.2m10.5 0h1.2m-42.6 .1h1.2m6.7 0h1.2m15.2 0h1.2m-13 .1h1.2m40.1 0h1.2m-44.9 .1h1.2m12.7 0h1.2m-25.9 .1h1.2m20.4 0h1.2m-5.7 .1h1.2m2.1 .1h1.2m3.7 0h1.2m4.5 0h1.2m11.4 0h1.2m-45.5 .1h1.2m8.1 0h1.2m-10.3 .1h1.2m16.6 0h1.2m13.3 0h1.2m-17.4 .1h1.2m-1.1 0h1.2m2.9 0h1.2m23.2 0h1.2m-29 .2h1.2m9.8 .1h1.2m2.1 0h1.2m-21.5 .1h1.2m18.9 0h1.2m-.7 0h1.2m-1.2 0h1.2m-16.5 .2h1.2m-1.1 0h1.2m37.5 0h1.2m-35.8 .1h1.2m4 0h1.2m-.7 0h1.2m28.2 0h1.2m11 .1h1.2m-43.4 .2h1.2m-4.6 .1h1.2m-3.2 .2h1.2m.4 0h1.2m31.4 0h1.2m-44.1 .1h1.2m11.6 0h1.2m3.3 0h1.2m1 0h1.2m-6.9 .1h1.2m21.5 0h1.2m34.4 0h1.2m-58.9 .1h1.2m28.7 0h1.2m-37 .1h1.2m7.7 0h1.2m44.3 0h1.2m-64.6 .1h1.2m7.9 0h1.2m1.1 0h1.2m-7.7 .1h1.2m3.5 0h1.2m-10 .1h1.2m7.6 0h1.2m1.2 0h1.2m2.2 0h1.2m19.5 0h1.2m.4 0h1.2m-29.6 .1h1.2m-9.9 .1h1.2m7.9 0h1.2m41.8 .1h1.2m-48.1 .1h1.2m4.1 0h1.2m-7.1 .1h1.2m6 0h1.2m38.3 0h1.2m-99.8 .1h1.2m56.5 0h1.2m-.1 0h1.2m30.6 .1h1.2m5.5 0h1.2m-36.3 .1h1.2m-3 .1h1.2m0 0h1.2m-15.5 .1h1.2m3.6 0h1.2m-.8 0h1.2m8 0h1.2m-11 .1h1.2m3.2 0h1.2m1 0h1.2m30.6 .1h1.2m6.6 0h1.2m0 0h1.2m-42.7 .1h1.2m1.4 .1h1.2m-1.4 .1h1.2m-3.4 .1h1.2m1.2 .1h1.2m5.3 .3h1.2m-9.8 .1h1.2m-1.9 .1h1.2m5 0h1.2m2.8 0h1.2m34.3 0h1.2m-52.6 .1h1.2m7.3 .4h1.2m57.8 .4h1.2m-51 .1h1.2m20.6 .1h1.2m-25.1 .1h1.2m-16.8 .1h1.2m49.7 .2h1.2m-52.2 .1h1.2m8.4 0h1.2m5.9 0h1.2m-10 .1h1.2m-61 .1h1.2m60.3 0h1.2m40.9 .1h1.2m-1.3 .3h1.2m-36.8 .1h1.2m34 0h1.2m14.8 0h1.2m-37.4 .2h1.2m7.3 .2h1.2m26.7 0h1.2m-17.7 .1h1.2m-.5 .2h1.2m-40.5 .5h1.2m2 .1h1.2m21.5 0h1.2m-11.1 .1h1.2m-21.7 .3h1.2m42.8 0h1.2m-36.8 .1h1.2m4.1 .3h1.2m34.6 0h1.2m-42.4 .1h1.2m-8.7 .1h1.2m6.8 0h1.2m8.9 0h1.2m23.3 .1h1.2m-43.6 .2h1.2m48 0h1.2m-46.8 .2h1.2m33.3 .2h1.2m-10.1 .1h1.2m-18.3 .1h1.2m36.4 0h1.2m-51.6 .1h1.2m42.4 0h1.2m-44.5 .1h1.2m-1.4 .2h1.2m28.7 .2h1.2m11.9 0h1.2m-36.2 .1h1.2m-1 0h1.2m21.3 .2h1.2m17.7 0h1.2m-19.9 .3h1.2m-2.1 .1h1.2m18.9 .3h1.2m-47.3 .1h1.2m1.4 0h1.2m35 .1h1.2m5.9 0h1.2m-47.5 .3h1.2m38.3 0h1.2m-12.9 .2h1.2m-19.7 .4h1.2m27.6 0h1.2m-35 .2h1.2m4.3 .3h1.2m15.5 .1h1.2m-.2 0h1.2m-25.4 .1h1.2m1.4 0h1.2m31.2 0h1.2m.1 .2h1.2m-37.8 .1h1.2m22.2 0h1.2m-12.8 .2h1.2m10.6 .1h1.2m11.2 0h1.2m-39.9 .1h1.2m25.2 0h1.2m11.6 0h1.2m-1.3 .4h1.2m-.6 .3h1.2m-5.6 .3h1.2m-.9 .2h1.2m-36.4 .1h1.2" stroke="#df8000" stroke-width="1.2" fill="none"/>
<path d="M225 223h1v5h-1zM228 242h1v1h-1zM230 228h1v15h-1zM228 243h3v3h-3zM224 228h2v19h-2zM223 247h3v2h-3zM227 246h4v3h-4zM233 244h1v7h-1zM235 243h1v8h-1zM223 249h9v6h-9zM233 251h3v4h-3zM238 246h1v9h-1zM223 255h16v4h-16zM240 257h1v2h-1zM246 252h1v8h-1zM223 259h19v2h-19zM243 251h1v10h-1zM223 261h21v1h-21zM245 260h2v2h-2zM223 262h24v1h-24zM250 259h1v6h-1zM250 265h3v1h-3zM254 265h1v1h-1zM250 266h5v2h-5zM223 263h25v6h-25zM249 268h6v1h-6zM223 269h32v1h-32zM257 267h1v3h-1zM261 269h1v1h-1zM223 270h33v2h-33zM257 270h2v2h-2zM260 270h2v2h-2zM223 272h36v1h-36zM260 272h3v1h-3zM223 273h40v1h-40zM266 273h1v1h-1zM223 274h45v1h-45zM269 274h2v1h-2zM272 273h1v2h-1zM223 275h51v1h-51zM275 275h3v1h-3zM280 275h2v1h-2zM283 273h1v3h-1zM290 272h1v4h-1zM295 275h1v1h-1z" fill="#df8000"/>
<path d="M223.9 187.6h1.2m-.2 4.4h1.2m-1.3 .2h1.2m.5 2h1.2m5.6 .6h1.2m-6 .1h1.2m-6.2 .1h1.2m-.3 .1h1.2m-1.8 .1h1.2m.2 1.9h1.2m-1.7 .8h1.2m7.1 .2h1.2m-5.2 .6h1.2m1.7 .9h1.2m-3.2 .3h1.2m-4.6 1h1.2m-3.1 .1h1.2m7.4 .2h1.2m-5.2 .1h1.2m0 .5h1.2m-1.9 .3h1.2m-5.8 .6h1.2m3.1 0h1.2m1.7 .1h1.2m1.6 .4h1.2m-6.1 .1h1.2m-6.6 .3h1.2m-1.4 .2h1.2m-1.6 .1h1.2m3.4 0h1.2m2.5 .1h1.2m-2.6 .2h1.2m.7 .4h1.2m-1.6 .2h1.2m-9.7 .2h1.2m-.7 .3h1.2m-4.1 .1h1.2m5.4 0h1.2m5.4 .2h1.2m-12.1 .1h1.2m9.4 .1h1.2m-7.5 .1h1.2m-5.4 .1h1.2m4.5 0h1.2m-.9 .2h1.2m1.2 0h1.2m-10 .1h1.2m9.6 .1h1.2m-6.3 .3h1.2m-6.8 .3h1.2m10.3 0h1.2m-9.4 .4h1.2m-1.1 0h1.2m17.1 .4h1.2m-23.4 .1h1.2m-.5 0h1.2m8 .1h1.2m-8 .6h1.2m1.9 .7h1.2m15.1 .2h1.2m-25.2 .1h1.2m4.6 0h1.2m-6.9 .1h1.2m11.3 0h1.2m-11.8 .1h1.2m4.3 .1h1.2m-1.1 0h1.2m-3.4 .2h1.2m-4.4 .1h1.2m5 0h1.2m7.9 0h1.2m-18.4 .1h1.2m9.4 0h1.2m1.8 .1h1.2m-12.9 .3h1.2m-.5 .1h1.2m0 0h1.2m-3.6 .5h1.2m-3.2 .1h1.2m1.6 0h1.2m6.3 0h1.2m-3.1 .2h1.2m11.8 .4h1.2m-11.5 .1h1.2m-1.1 0h1.2m-9 .1h1.2m20.2 .1h1.2m6.1 .3h1.2m-29.6 .2h1.2m3.3 .1h1.2m2.8 .2h1.2m-9.7 .1h1.2m-1.2 .1h1.2m-4 .1h1.2m3.2 0h1.2m3.9 0h1.2m-3.4 .1h1.2m1.6 0h1.2m2.4 0h1.2m-13.7 .1h1.2m5.4 .1h1.2m-1.6 .1h1.2m-2.6 .4h1.2m.5 .3h1.2m-4.3 .1h1.2m4.9 0h1.2m-12.6 .1h1.2m13.4 0h1.2m-10.3 .2h1.2m-4.4 .2h1.2m-.8 0h1.2m3.9 0h1.2m-1.2 0h1.2m4.5 .2h1.2m9.2 0h1.2m-17.3 .2h1.2m3.8 0h1.2m.1 0h1.2m15.3 .1h1.2m-25.3 .1h1.2m5.9 0h1.2m-7.8 .2h1.2m-2.7 .1h1.2m-.4 .1h1.2m.8 0h1.2m-.1 .2h1.2m-5.2 .1h1.2m-3 .2h1.2m2.7 0h1.2m12.5 0h1.2m-22.5 .2h1.2m.8 0h1.2m7.2 0h1.2m4.2 0h1.2m-4 .1h1.2m23.3 0h1.2m-30.7 .1h1.2m1.6 0h1.2m-3.9 .1h1.2m-6 .1h1.2m15.5 0h1.2m-18.5 .1h1.2m15.2 0h1.2m-13 .2h1.2m-.9 .1h1.2m-2.2 .1h1.2m5.1 .1h1.2m-11.3 .2h1.2m-1.8 .1h1.2m.2 .1h1.2m3.9 0h1.2m-2 .1h1.2m-2 .1h1.2m8.2 0h1.2m-6 .2h1.2m-3.1 .1h1.2m-10.2 .2h1.2m-.1 0h1.2m12.7 .1h1.2m-16.8 .1h1.2m1 0h1.2m-.6 0h1.2m3.5 .1h1.2m6.9 0h1.2m-10.5 .2h1.2m-3.2 .3h1.2m-.9 0h1.2m-.8 0h1.2m22.4 0h1.2m-25 .1h1.2m7.6 .1h1.2m-13.1 .1h1.2m-1 .1h1.2m.7 0h1.2m3.1 0h1.2m-8.2 .1h1.2m1.7 0h1.2m14.6 0h1.2m-16 .1h1.2m-3.6 .3h1.2m-.5 0h1.2m-.5 0h1.2m7.7 0h1.2m-12.2 .1h1.2m4.8 0h1.2m-6.7 .1h1.2m2.3 0h1.2m11.1 0h1.2m-17.1 .1h1.2m-.8 0h1.2m3 0h1.2m5.7 .1h1.2m-12.2 .1h1.2m4.3 .1h1.2m-6.3 .2h1.2m7.4 0h1.2m-2.9 .1h1.2m-.4 .1h1.2m.6 .1h1.2m-4.7 .1h1.2m-.1 .2h1.2m7.3 0h1.2m-18.3 .1h1.2m.5 0h1.2m11.6 0h1.2m-14.1 .1h1.2m3.3 0h1.2m7.3 0h1.2m-12.7 .1h1.2m2.1 .1h1.2m-5.8 .2h1.2m7.9 0h1.2m-.9 0h1.2m13.3 0h1.2m-26.4 .1h1.2m5 0h1.2m9.2 0h1.2m-18.5 .1h1.2m2 .2h1.2m2.4 .1h1.2m-9.1 .1h1.2m6.7 .1h1.2m3.7 0h1.2m-.2 .1h1.2m-7.2 .1h1.2m8 0h1.2m-12.3 .1h1.2m-.8 0h1.2m3.5 0h1.2m-10.2 .1h1.2m12.1 0h1.2m-1 0h1.2m-12.5 .1h1.2m2.8 0h1.2m3.6 .1h1.2m-13.3 .2h1.2m4.2 0h1.2m21.8 .1h1.2m-23.3 .2h1.2m-.3 .1h1.2m-6 .1h1.2m3.1 .1h1.2m11.7 0h1.2m-19.6 .1h1.2m3.7 .1h1.2m-.5 0h1.2m3.7 .3h1.2m-12.3 .1h1.2m4.7 .1h1.2m4 0h1.2m-6.7 .1h1.2m5.5 0h1.2m-9.4 .1h1.2m8.7 0h1.2m-10.7 .1h1.2m4.2 0h1.2m-3.3 .1h1.2m-5.4 .5h1.2m7.6 0h1.2m-13.1 .2h1.2m20.3 0h1.2m-8.3 .1h1.2m1 .1h1.2m-17.8 .1h1.2m5.6 0h1.2m2.7 0h1.2m4.6 0h1.2m7.6 0h1.2m-16.3 .1h1.2m-1.8 .1h1.2m-4.8 .2h1.2m29.1 0h1.2m-38.1 .1h1.2m4.2 0h1.2m-.5 0h1.2m-6.5 .2h1.2m12.8 0h1.2m-10.9 .1h1.2m31.3 0h1.2m-38.5 .1h1.2m23.6 .1h1.2m-26 .1h1.2m9.1 .1h1.2m-13.8 .1h1.2m-.8 .1h1.2m5.1 0h1.2m9.8 0h1.2m-.7 .1h1.2m-5.9 .1h1.2m6.7 0h1.2m-17.4 .1h1.2m7.4 0h1.2m-9.9 .1h1.2m6.7 .1h1.2m-1.1 .1h1.2m-1.1 0h1.2m-8.4 .2h1.2m5.7 0h1.2m-13.7 .1h1.2m-.5 0h1.2m4.7 0h1.2m5.2 0h1.2m-14.1 .1h1.2m4.4 0h1.2m4.1 0h1.2m-7 .3h1.2m3.9 0h1.2m-8 .1h1.2m11.6 0h1.2m-11.8 .1h1.2m5.1 0h1.2m10.9 .1h1.2m-11.5 .1h1.2m-9.5 .1h1.2m9.4 0h1.2m-17.6 .1h1.2m4.9 0h1.2m6 0h1.2m-9.6 .1h1.2m-.6 0h1.2m9.2 0h1.2m-9.6 .1h1.2m7.3 0h1.2m-8.3 .1h1.2m10.1 0h1.2m-17.4 .1h1.2m.1 0h1.2m-1.2 .2h1.2m-1 0h1.2m17.1 0h1.2m-13.2 .1h1.2m-1.1 0h1.2m-8.1 .1h1.2m4.9 0h1.2m-1.6 .1h1.2m1.6 0h1.2m4.2 0h1.2m2.2 0h1.2m-22.1 .1h1.2m13.9 0h1.2m-12.3 .1h1.2m3.2 0h1.2m3.2 0h1.2m-15.4 .1h1.2m19.3 0h1.2m-11.4 .1h1.2m2.6 0h1.2m-8.1 .1h1.2m2.5 0h1.2m-5.5 .1h1.2m5.1 0h1.2m-.5 0h1.2m-2.8 .3h1.2m.8 0h1.2m12.9 0h1.2m-18.2 .1h1.2m-7.6 .1h1.2m20.5 0h1.2m-21.1 .1h1.2m6.1 0h1.2m.8 0h1.2m-13.1 .1h1.2m19.5 0h1.2m-11 .1h1.2m-.1 0h1.2m3.6 0h1.2m7.9 0h1.2m-29.4 .2h1.2m2.9 0h1.2m9.2 0h1.2m-.7 0h1.2m-16.9 .1h1.2m2.8 .1h1.2m1.6 .1h1.2m5.1 0h1.2m-1.1 0h1.2m6.3 0h1.2m-6.6 .1h1.2m-10.3 .1h1.2m-.8 0h1.2m6.3 0h1.2m-.3 0h1.2m-10 .1h1.2m7.1 0h1.2m9.7 0h1.2m-22.6 .1h1.2m-.3 0h1.2m9 0h1.2m-17 .2h1.2m.1 0h1.2m7.8 0h1.2m2.1 0h1.2m14.9 0h1.2m-24.2 .1h1.2m6.1 0h1.2m5.9 0h1.2m-11.8 .1h1.2m-.5 0h1.2m1 0h1.2m-7.3 .1h1.2m7.8 0h1.2m.9 0h1.2m-18.8 .1h1.2m3 0h1.2m-1 0h1.2m9.7 0h1.2m-10.5 .1h1.2m7.8 0h1.2m-12.4 .1h1.2m.7 .1h1.2m-.4 .1h1.2m2.1 0h1.2m5.5 0h1.2m-13.9 .1h1.2m.8 0h1.2m1.6 0h1.2m1.8 .1h1.2m10.3 0h1.2m-19.2 .1h1.2m.3 0h1.2m3.9 0h1.2m21.3 .1h1.2m-25.7 .1h1.2m18.4 0h1.2m-27.2 .1h1.2m4.9 0h1.2m1.3 0h1.2m41.5 0h1.2m-50.9 .1h1.2m3.8 0h1.2m20.2 0h1.2m-28.5 .1h1.2m6.9 .1h1.2m9.7 0h1.2m-17.9 .1h1.2m-.8 0h1.2m15.3 0h1.2m-14.5 .1h1.2m0 0h1.2m.4 0h1.2m12.9 0h1.2m-17 .1h1.2m-7.3 .1h1.2m-1.7 .1h1.2m23.9 0h1.2m-19.4 .1h1.2m6.4 0h1.2m-10.5 .1h1.2m-11.1 .1h1.2m3.9 0h1.2m-.3 0h1.2m-.8 0h1.2m3 0h1.2m-.1 0h1.2m-.7 0h1.2m1.8 0h1.2m11.9 0h1.2m-25.2 .1h1.2m1 0h1.2m9.1 0h1.2m-13.3 .1h1.2m8.7 0h1.2m-11.7 .1h1.2m10.1 0h1.2m6.4 0h1.2m-11.5 .1h1.2m3.4 0h1.2m-6.3 .1h1.2m.9 .1h1.2m3 0h1.2m-7.2 .1h1.2m4.2 0h1.2m-14.4 .1h1.2m6.9 .2h1.2m3.3 0h1.2m2.2 .1h1.2m-10.2 .1h1.2m-.2 0h1.2m-9.6 .2h1.2m1 0h1.2m8.3 0h1.2m-12.2 .1h1.2m-.8 .1h1.2m-5.8 .1h1.2m7.4 0h1.2m1.4 0h1.2m-.7 0h1.2m-7.4 .1h1.2m3.1 0h1.2m-12.2 .1h1.2m-1 .1h1.2m14 0h1.2m.3 0h1.2m-3.7 .1h1.2m-15.6 .1h1.2m5 0h1.2m3.4 0h1.2m8.6 0h1.2m-.6 0h1.2m-22.8 .1h1.2m10.5 0h1.2m5.7 0h1.2m-19.3 .1h1.2m4.7 .2h1.2m1.2 0h1.2m-4 .1h1.2m4.1 0h1.2m1.1 0h1.2m2.6 .1h1.2m-12.4 .1h1.2m3.8 0h1.2m-.1 0h1.2m-5.8 .1h1.2m7 0h1.2m2.5 0h1.2m6.2 0h1.2m-6.6 .1h1.2m-22.2 .1h1.2m14.1 0h1.2m11.2 0h1.2m-16.6 .1h1.2m7.4 0h1.2m6 0h1.2m-17.4 .1h1.2m0 .1h1.2m-9.6 .1h1.2m.5 0h1.2m-3.7 .1h1.2m10.2 0h1.2m-10.3 .1h1.2m13.2 0h1.2m-11.4 .1h1.2m-11.5 .1h1.2m8.7 0h1.2m4.2 0h1.2m-11.9 .1h1.2m-.8 0h1.2m-1 0h1.2m6.1 0h1.2m.2 0h1.2m-8.1 .1h1.2m2.7 0h1.2m.1 0h1.2m-3.6 .1h1.2m6.4 0h1.2m-13.6 .1h1.2m6.7 0h1.2m2.2 .1h1.2m-.1 0h1.2m-19 .1h1.2m5.6 0h1.2m-1.1 0h1.2m1.6 0h1.2m.6 0h1.2m.5 0h1.2m10 0h1.2m-24.6 .1h1.2m11 0h1.2m4 0h1.2m29.7 0h1.2m-49.2 .1h1.2m2.7 0h1.2m.1 0h1.2m12.9 0h1.2m14.2 0h1.2m-33.7 .1h1.2m.1 0h1.2m2.6 0h1.2m21.5 0h1.2m-21.7 .1h1.2m-.4 0h1.2m0 0h1.2m6.8 0h1.2m-15.3 .1h1.2m-.9 0h1.2m8.1 0h1.2m-16.1 .1h1.2m10.5 0h1.2m-8.4 .1h1.2m6.9 0h1.2m-10.4 .1h1.2m.2 0h1.2m5 .1h1.2m-.2 .1h1.2m-14.3 .1h1.2m-.3 0h1.2m3.2 0h1.2m-1 0h1.2m5.2 0h1.2m2.7 0h1.2m-10 .1h1.2m3.1 0h1.2m8.3 0h1.2m1.9 0h1.2m-9.9 .1h1.2m11.7 0h1.2m-22.8 .1h1.2m1.5 0h1.2m-.8 0h1.2m-6.7 .1h1.2m14.4 0h1.2m-6.5 .1h1.2m-.1 0h1.2m7.4 0h1.2m-14.7 .1h1.2m16 0h1.2m-24.6 .1h1.2m6.6 0h1.2m2.3 0h1.2m-1.1 0h1.2m1.7 0h1.2m-15.5 .1h1.2m10.6 0h1.2m6.4 0h1.2m-.7 0h1.2m-20.4 .1h1.2m3.7 0h1.2m-11.8 .1h1.2m11.8 0h1.2m13 0h1.2m-21 .1h1.2m-1.5 .1h1.2m-.6 0h1.2m7.3 0h1.2m-12.1 .1h1.2m4 0h1.2m11 0h1.2m3.6 0h1.2m-19.7 .1h1.2m6 0h1.2m3.4 .1h1.2m-12.6 .1h1.2m-.2 0h1.2m2.5 0h1.2m-1.2 0h1.2m.7 0h1.2m-.7 0h1.2m8.9 0h1.2m-26.4 .1h1.2m16.4 .1h1.2m.6 0h1.2m2.8 0h1.2m-11.9 .1h1.2m-11.1 .1h1.2m7.2 0h1.2m10.7 0h1.2m10 0h1.2m-26.5 .2h1.2m2.2 0h1.2m1.6 0h1.2m5.4 0h1.2m-6.8 .1h1.2m.8 0h1.2m-17 .1h1.2m5.4 .1h1.2m4.2 0h1.2m-.7 0h1.2m-.4 0h1.2m-13.4 .1h1.2m3.3 0h1.2m3.8 0h1.2m14.1 0h1.2m.9 .1h1.2m-18.5 .1h1.2m35.4 0h1.2m-23.3 .1h1.2m-24.7 .1h1.2m10.7 0h1.2m19.1 0h1.2m0 0h1.2m-35.3 .1h1.2m3.4 0h1.2m6.2 .1h1.2m16.7 .1h1.2m-26.4 .1h1.2m19.8 .1h1.2m-10.6 .1h1.2m-16.8 .1h1.2m17.9 0h1.2m-13.8 .1h1.2m.8 0h1.2m45.6 0h1.2m-53 .1h1.2m-.2 0h1.2m5.4 .2h1.2m5.4 0h1.2m-4.7 .2h1.2m-8.7 .1h1.2m11.3 0h1.2m1 0h1.2m-9.5 .1h1.2m-15.5 .2h1.2m3.3 0h1.2m9.9 0h1.2m-3 .1h1.2m8.6 0h1.2m7.2 0h1.2m-33.1 .1h1.2m6.6 0h1.2m6.5 0h1.2m-.6 0h1.2m.5 0h1.2m2.3 .1h1.2m-22.9 .4h1.2m18.9 0h1.2m-8.4 .1h1.2m2.9 .1h1.2m2.5 0h1.2m-13.2 .1h1.2m1.9 0h1.2m9.1 0h1.2m9.3 .1h1.2m-33.8 .1h1.2m7.1 0h1.2m-3.9 .1h1.2m54.5 0h1.2m-56.2 .1h1.2m.6 0h1.2m-1.1 0h1.2m7.6 .2h1.2m14.8 0h1.2m-33.5 .1h1.2m15.8 .1h1.2m-12.3 .1h1.2m6.7 0h1.2m16.5 0h1.2m-24.8 .1h1.2m12.8 0h1.2m-17.7 .1h1.2m3 0h1.2m5.4 0h1.2m-11.7 .1h1.2m.9 0h1.2m7.8 0h1.2m-4.4 .1h1.2m50.8 0h1.2m-67.2 .1h1.2m5 0h1.2m6.3 0h1.2m1 0h1.2m37.7 0h1.2m-49.6 .1h1.2m.7 0h1.2m7.4 0h1.2m3.4 0h1.2m-17.1 .1h1.2m3.6 0h1.2m6.3 0h1.2m.9 0h1.2m-.9 0h1.2m-15.8 .1h1.2m26.8 0h1.2m-29.3 .1h1.2m6.4 .1h1.2m3.9 0h1.2m-9.2 .2h1.2m-3.8 .1h1.2m7.2 0h1.2m2 0h1.2m1.5 0h1.2m2.9 0h1.2m1.9 .1h1.2m4.7 0h1.2m9.6 0h1.2m-41 .1h1.2m2.2 0h1.2m5.4 0h1.2m2.9 0h1.2m-25.1 .1h1.2m13.6 0h1.2m.3 0h1.2m-.7 0h1.2m-4.5 .1h1.2m2.7 0h1.2m2.3 0h1.2m-12.7 .1h1.2m.7 0h1.2m60.3 0h1.2m-74.4 .1h1.2m16.4 .1h1.2m2.2 0h1.2m-22.5 .1h1.2m11.4 0h1.2m6.2 .1h1.2m7.3 .1h1.2m-5.9 .1h1.2m-14.5 .1h1.2m12.4 0h1.2m-10.6 .1h1.2m8 0h1.2m-14.3 .1h1.2m-1.6 .1h1.2m19.2 0h1.2m-16.2 .1h1.2m10.3 0h1.2m-18.5 .1h1.2m6.7 0h1.2m3.7 0h1.2m-13.8 .2h1.2m6.4 0h1.2m-.6 0h1.2m6.4 0h1.2m23.5 0h1.2m-4.3 .1h1.2m-38.5 .1h1.2m3.4 .2h1.2m-16.2 .1h1.2m8.8 .1h1.2m-1 0h1.2m-.7 0h1.2m7.3 0h1.2m.2 0h1.2m15 0h1.2m-27.6 .1h1.2m20.7 .1h1.2m-22.8 .1h1.2m11.4 0h1.2m4.5 0h1.2m-6.6 .1h1.2m19.2 0h1.2m-34.5 .1h1.2m5.5 0h1.2m.6 0h1.2m-10.2 .3h1.2m3.5 0h1.2m-1.9 .1h1.2m33.8 .1h1.2m-32.5 .1h1.2m.3 0h1.2m18.7 0h1.2m-22 .1h1.2m-.3 .1h1.2m6.8 0h1.2m1.7 0h1.2m-7.8 .1h1.2m-14.8 .2h1.2m6.7 .1h1.2m20.3 0h1.2m-26.1 .1h1.2m1.5 0h1.2m-3.7 .1h1.2m43.7 0h1.2m-38.1 .1h1.2m-9.3 .1h1.2m6.7 0h1.2m-8.8 .1h1.2m-.6 0h1.2m1.8 0h1.2m-.6 0h1.2m.5 0h1.2m1.1 0h1.2m26.4 .1h1.2m-41.7 .1h1.2m11.4 .1h1.2m-13.9 .2h1.2m14.6 0h1.2m-16.6 .1h1.2m5.9 0h1.2m-1.4 .1h1.2m.4 0h1.2m-.7 0h1.2m8.1 .1h1.2m7.8 0h1.2m-20 .1h1.2m-.5 0h1.2m30 .1h1.2m-29.3 .2h1.2m3.9 .1h1.2m21.1 0h1.2m-34.4 .1h1.2m15.5 0h1.2m-16.8 .2h1.2m9.2 0h1.2m-10.5 .1h1.2m11.5 0h1.2m-15.9 .2h1.2m0 0h1.2m2.5 0h1.2m3.3 .1h1.2m44.2 0h1.2m-33.9 .2h1.2m-12.4 .1h1.2m-6.2 .1h1.2m-6 .1h1.2m-.8 0h1.2m.3 .1h1.2m25.6 .1h1.2m2.3 0h1.2m-51.4 .2h1.2m18.4 0h1.2m-3.4 .1h1.2m8.9 0h1.2m.2 0h1.2m-30.2 .3h1.2m27.2 0h1.2m1.8 0h1.2m3.2 0h1.2m-9.1 .2h1.2m.6 0h1.2m-31 .1h1.2m18.3 0h1.2m.1 .1h1.2m1.7 0h1.2m5.7 0h1.2m-5.8 .1h1.2m10.9 0h1.2m-12.7 .1h1.2m35.6 0h1.2m-36.6 .1h1.2m15.4 0h1.2m-28.2 .1h1.2m3.9 0h1.2m-.5 0h1.2m5.7 0h1.2m1.1 0h1.2m23.2 0h1.2m-8.8 .1h1.2m-31.4 .1h1.2m28.3 0h1.2m-30.7 .2h1.2m12.1 0h1.2m-16.1 .1h1.2m20.2 .1h1.2m-5.1 .2h1.2m-10.3 .1h1.2m9.5 0h1.2m-16 .2h1.2m4.4 0h1.2m-2.8 .1h1.2m3.3 .1h1.2m7.6 0h1.2m-.9 0h1.2m-18 .1h1.2m2.6 0h1.2m1.9 0h1.2m-5 .2h1.2m5.1 .1h1.2m-13 .1h1.2m-21.6 .2h1.2m19.3 0h1.2m7.9 0h1.2m1.6 0h1.2m8.1 0h1.2m13.1 0h1.2m-37 .1h1.2m.9 0h1.2m8.8 .2h1.2m15.5 0h1.2m-29.8 .1h1.2m13.1 0h1.2m25.3 0h1.2m-39.6 .2h1.2m-1.2 0h1.2m7.1 0h1.2m6.9 0h1.2m9.8 0h1.2m12 0h1.2m-42 .1h1.2m-1.1 0h1.2m5.5 0h1.2m-1.2 0h1.2m-30.4 .1h1.2m53 0h1.2m-30.1 .1h1.2m6 0h1.2m-11.2 .1h1.2m-23.3 .1h1.2m28.6 0h1.2m-1.2 0h1.2m6.4 .1h1.2m-12.4 .1h1.2m27.8 0h1.2m-34.5 .1h1.2m-.8 0h1.2m7.9 0h1.2m-6.9 .1h1.2m9 0h1.2m12.6 0h1.2m-18.9 .1h1.2m17.1 0h1.2m-15.9 .1h1.2m.8 0h1.2m-14.3 .1h1.2m-.9 0h1.2m17.6 .1h1.2m25 .1h1.2m-3.3 .1h1.2m-44.5 .1h1.2m9.6 0h1.2m31.1 .1h1.2m-42.1 .1h1.2m7.7 0h1.2m12.7 0h1.2m-21.4 .1h1.2m13.1 0h1.2m-18.3 .1h1.2m4.5 0h1.2m8.9 0h1.2m5 0h1.2m-14.8 .1h1.2m31.4 0h1.2m-38.5 .1h1.2m1.3 0h1.2m24 0h1.2m-29.3 .2h1.2m-5.5 .1h1.2m10.2 0h1.2m18.6 0h1.2m-23.3 .1h1.2m38.8 0h1.2m-46 .1h1.2m3.5 0h1.2m12.9 0h1.2m-14.8 .1h1.2m-36 .1h1.2m30.5 0h1.2m40.3 0h1.2m-47.3 .1h1.2m7.1 0h1.2m-37.2 .1h1.2m24.7 0h1.2m3.2 0h1.2m.7 .1h1.2m1.9 0h1.2m.3 0h1.2m-8.4 .1h1.2m3.9 0h1.2m-.3 0h1.2m28 .1h1.2m6.9 0h1.2m-34.7 .1h1.2m-11.8 .1h1.2m9.4 0h1.2m17 0h1.2m-26.7 .1h1.2m.6 .3h1.2m8.9 0h1.2m1.6 0h1.2m13.1 .1h1.2m-9 .1h1.2m4.5 0h1.2m-8.3 .1h1.2m-25.3 .1h1.2m37.1 0h1.2m-66.6 .1h1.2m24 .4h1.2m-.7 0h1.2m7.4 0h1.2m2.3 .1h1.2m13 0h1.2m-27.8 .1h1.2m-.6 0h1.2m9.8 0h1.2m-3.5 .1h1.2m-.9 0h1.2m-1.3 .1h1.2m2.2 .1h1.2m21.2 0h1.2m-35.4 .1h1.2m10.4 0h1.2m9.5 0h1.2m-11.2 .1h1.2m2.3 0h1.2m-17.3 .2h1.2m33.2 0h1.2m-24.9 .2h1.2m10.1 .1h1.2m9.6 .2h1.2m-24.1 .1h1.2m.1 0h1.2m-11.7 .1h1.2m4.2 0h1.2m1.7 0h1.2m13.3 0h1.2m-1.8 .1h1.2m21.9 0h1.2m-47.6 .1h1.2m11.2 0h1.2m28.6 .2h1.2m-36.2 .1h1.2m8 0h1.2m16.8 0h1.2m7.2 0h1.2m-44.5 .1h1.2m34.1 0h1.2m-35.9 .1h1.2m8.8 .1h1.2m17.6 0h1.2m-17 .2h1.2m-1.2 0h1.2m-14.2 .2h1.2m11.4 0h1.2m-4.4 .1h1.2m-1.1 0h1.2m1.8 0h1.2m-1.1 0h1.2m1.8 0h1.2m.7 0h1.2m-18.9 .1h1.2m11.8 0h1.2m4.8 0h1.2m17 0h1.2m-28.4 .1h1.2m.6 0h1.2m9.6 0h1.2m-16.6 .1h1.2m3.2 0h1.2m10.6 0h1.2m10.3 0h1.2m-25.5 .1h1.2m-.3 0h1.2m3.2 0h1.2m6.7 0h1.2m10.3 .1h1.2m-25 .1h1.2m3.2 0h1.2m16.9 0h1.2m4.8 0h1.2m-31.2 .1h1.2m-1.5 .1h1.2m3 0h1.2m9 0h1.2m16.1 0h1.2m-35.5 .1h1.2m4 0h1.2m3.3 0h1.2m-11.1 .1h1.2m-.7 0h1.2m.8 0h1.2m-.1 0h1.2m5.6 0h1.2m5.5 0h1.2m-1.1 0h1.2m9.5 .1h1.2m.4 0h1.2m-14.1 .1h1.2m8.7 .1h1.2m-.1 0h1.2m-14.1 .1h1.2m1.2 0h1.2m17.4 0h1.2m-16.4 .1h1.2m-54.8 .1h1.2m-.7 .2h1.2m35.7 0h1.2m4.3 .1h1.2m14.6 0h1.2m.8 0h1.2m-13.9 .1h1.2m3.2 0h1.2m14.3 .1h1.2m-2.6 .1h1.2m-12.3 .1h1.2m1.5 0h1.2m8.4 .1h1.2m-9.2 .1h1.2m-10.7 .2h1.2m-17.6 .1h1.2m35.1 0h1.2m-71 .1h1.2m45.7 0h1.2m12.3 0h1.2m-2.2 .1h1.2m-60.8 .1h1.2m36.2 0h1.2m11.1 0h1.2m10 0h1.2m-24.7 .1h1.2m10.6 0h1.2m14.3 0h1.2m.2 0h1.2m-23.3 .1h1.2m4.5 0h1.2m8.2 0h1.2m-16.8 .1h1.2m.1 0h1.2m1.8 0h1.2m9.9 0h1.2m-16.5 .1h1.2m5 0h1.2m-.9 0h1.2m-5.2 .1h1.2m1.6 0h1.2m20 0h1.2m-22.2 .1h1.2m.7 0h1.2m8.7 0h1.2m-1.7 .1h1.2m-11 .1h1.2m7 0h1.2m1 0h1.2m-18.1 .1h1.2m15.1 0h1.2m-19 .2h1.2m11.4 0h1.2m-11 .1h1.2m0 0h1.2m-.6 0h1.2m-.9 0h1.2m9.7 0h1.2m.2 .1h1.2m2.5 0h1.2m10.1 0h1.2m.8 0h1.2m-29.9 .1h1.2m23.4 0h1.2m.2 0h1.2m-6.5 .1h1.2m2.8 0h1.2m-31.6 .2h1.2m3.5 0h1.2m3.8 0h1.2m4.8 0h1.2m.5 0h1.2m7.8 0h1.2m-27.3 .1h1.2m12.5 0h1.2m1.3 0h1.2m5.8 0h1.2m-19.4 .1h1.2m16.5 0h1.2m6.6 0h1.2m-31.3 .1h1.2m1.1 0h1.2m0 0h1.2m-.8 0h1.2m10.1 0h1.2m-.2 .1h1.2m9.6 0h1.2m-21.9 .1h1.2m7 0h1.2m-.8 0h1.2m.5 0h1.2m4.3 .1h1.2m6.3 0h1.2m-4 .1h1.2m-5.2 .1h1.2m8.4 0h1.2m-18 .1h1.2m2.4 0h1.2m6.2 0h1.2m-22.3 .1h1.2m4 0h1.2m11.4 0h1.2m-.9 0h1.2m9.4 0h1.2m-32.3 .1h1.2m10.2 0h1.2m.3 0h1.2m6.2 0h1.2m6.3 0h1.2m-74.8 .1h1.2m44.6 0h1.2m1.8 .1h1.2m2.5 0h1.2m18.7 0h1.2m-1 0h1.2m-25.4 .1h1.2m3.6 0h1.2m3.8 0h1.2m.3 0h1.2m3.7 0h1.2m-9.3 .2h1.2m3.8 0h1.2m3.6 0h1.2m6.7 0h1.2m-8.5 .1h1.2m-3.8 .3h1.2m.2 0h1.2m-14.8 .1h1.2m6.5 0h1.2m2 0h1.2m10.1 0h1.2m-19.6 .1h1.2m2.4 0h1.2m8.2 0h1.2m4.3 0h1.2m-.4 0h1.2m-24.4 .1h1.2m2.4 0h1.2m12.7 0h1.2m5.8 0h1.2m-18.2 .1h1.2" stroke="#df8000" stroke-width="1.2" fill="none"/>
<path d="M415 198h1v1h-1zM410 199h1v2h-1zM415 199h2v2h-2zM412 199h1v3h-1zM415 201h3v1h-3zM409 201h2v5h-2zM412 202h6v4h-6zM409 206h9v4h-9zM409 210h10v2h-10zM409 212h13v8h-13zM409 220h14v2h-14zM409 222h15v4h-15zM409 226h16v5h-16zM409 231h19v3h-19zM409 234h20v5h-20zM430 237h1v2h-1zM409 239h22v2h-22zM438 239h1v4h-1zM437 243h2v2h-2zM441 244h1v1h-1zM435 245h4v1h-4zM440 245h2v1h-2zM409 241h25v7h-25zM435 246h7v2h-7zM443 247h1v1h-1zM443 248h2v1h-2zM446 248h1v1h-1zM443 249h4v1h-4zM448 248h1v2h-1zM409 248h33v3h-33zM443 250h6v1h-6zM459 256h1v1h-1zM409 251h40v7h-40zM464 257h1v2h-1zM409 258h41v3h-41zM451 258h1v3h-1zM459 257h2v4h-2zM464 259h2v3h-2zM467 259h1v3h-1zM459 261h3v2h-3zM458 263h5v1h-5zM464 262h5v2h-5zM455 264h1v1h-1zM458 264h11v1h-11zM455 265h15v2h-15zM471 264h1v3h-1zM479 266h1v1h-1zM453 267h20v1h-20zM474 265h2v3h-2zM477 266h1v3h-1zM479 267h2v2h-2zM453 268h23v3h-23zM477 269h4v2h-4zM483 267h1v4h-1zM488 268h1v3h-1zM453 271h32v1h-32zM486 268h1v4h-1zM488 271h2v1h-2zM488 272h3v1h-3zM497 272h1v1h-1zM500 272h1v1h-1zM409 261h43v13h-43zM453 272h34v2h-34zM488 273h4v1h-4zM493 273h1v1h-1zM496 273h5v1h-5zM409 274h92v1h-92zM409 275h99v1h-99zM409 276h105v1h-105z" fill="#df8000"/>
<path d="M411.3 180.5h1.2m.4 1.6h1.2m-4.5 4.2h1.2m-3.2 .7h1.2m2.8 .2h1.2m2.7 .4h1.2m3.1 .2h1.2m-10.3 .6h1.2m-1.4 .3h1.2m-3.9 .1h1.2m7.1 .3h1.2m-5.5 .1h1.2m15.4 .2h1.2m-11.8 .4h1.2m-4.5 .1h1.2m11.4 .5h1.2m5.9 .1h1.2m-26.9 .7h1.2m7.5 .1h1.2m-9.5 .2h1.2m5 .2h1.2m12.6 0h1.2m9.6 0h1.2m-28.6 .1h1.2m5.7 0h1.2m-6.9 .1h1.2m1.4 .1h1.2m3.6 0h1.2m-12.6 .2h1.2m15.5 0h1.2m-16.4 .2h1.2m2.9 0h1.2m7.9 0h1.2m-10.5 .1h1.2m4.9 0h1.2m-10.6 .1h1.2m18.5 0h1.2m-23.7 .1h1.2m3.8 0h1.2m29.8 .1h1.2m-36.5 .1h1.2m2.8 0h1.2m2.1 .1h1.2m1.1 0h1.2m-11.6 .1h1.2m2.5 0h1.2m-.8 0h1.2m.4 0h1.2m26.9 .1h1.2m-32.8 .2h1.2m-3.7 .1h1.2m11.4 0h1.2m-7.2 .2h1.2m.9 0h1.2m-8.5 .1h1.2m30.5 0h1.2m-33.1 .2h1.2m.7 0h1.2m-.9 .1h1.2m3.3 .1h1.2m-4.4 .1h1.2m-.3 0h1.2m0 0h1.2m-7 .1h1.2m9.3 0h1.2m-13.7 .1h1.2m6.6 .2h1.2m.7 0h1.2m4.3 0h1.2m-15.4 .1h1.2m10.3 0h1.2m.1 0h1.2m-11.3 .1h1.2m.9 .1h1.2m-4.6 .1h1.2m4.4 0h1.2m5.7 .1h1.2m4.9 .1h1.2m-18.6 .1h1.2m3.8 0h1.2m-1.1 0h1.2m-5.5 .1h1.2m1.6 0h1.2m-5.6 .2h1.2m.1 0h1.2m.2 0h1.2m27.3 0h1.2m-34.6 .1h1.2m-.9 0h1.2m5.4 0h1.2m-8.5 .1h1.2m.2 0h1.2m18.1 0h1.2m-16.5 .1h1.2m.2 0h1.2m-.4 0h1.2m-6.7 .2h1.2m9.9 0h1.2m4.4 .1h1.2m1.8 0h1.2m-20.8 .1h1.2m-.3 .2h1.2m3.3 .1h1.2m1.8 0h1.2m9.4 0h1.2m-19.4 .2h1.2m2.7 0h1.2m-6.1 .1h1.2m1.3 .1h1.2m1.7 .1h1.2m-.8 0h1.2m-.4 0h1.2m2.4 0h1.2m27.9 0h1.2m-3.3 .1h1.2m-27.1 .1h1.2m-7.9 .1h1.2m.8 0h1.2m11.2 0h1.2m3.3 0h1.2m-19.1 .1h1.2m-1 0h1.2m5 0h1.2m-8.4 .1h1.2m15.2 0h1.2m-22.5 .1h1.2m3.8 0h1.2m-4.8 .1h1.2m2.5 .1h1.2m22.1 0h1.2m-30 .1h1.2m21.9 0h1.2m-21.9 .1h1.2m24.3 0h1.2m-21.3 .1h1.2m7.8 0h1.2m-11.6 .1h1.2m0 0h1.2m-5.9 .1h1.2m7.7 0h1.2m-12 .1h1.2m6.9 0h1.2m15.5 0h1.2m-24 .1h1.2m-.8 0h1.2m6.5 0h1.2m-.4 0h1.2m10.1 0h1.2m-23.5 .1h1.2m1.8 0h1.2m5 0h1.2m9.5 0h1.2m-10.5 .1h1.2m-12.5 .1h1.2m19.8 .1h1.2m-18.6 .2h1.2m-1.4 .2h1.2m-1 0h1.2m2.3 0h1.2m-9.4 .1h1.2m1.3 0h1.2m2.5 0h1.2m4.9 0h1.2m-7.4 .1h1.2m5 0h1.2m-8.8 .1h1.2m-4.7 .1h1.2m8.8 0h1.2m-8 .1h1.2m6.7 0h1.2m15.3 0h1.2m-25.7 .1h1.2m-.6 .1h1.2m4.1 0h1.2m5.6 0h1.2m34 0h1.2m-44.7 .1h1.2m.6 0h1.2m-11.7 .1h1.2m1.5 .1h1.2m1.2 0h1.2m7.6 0h1.2m-2.4 .1h1.2m-11.1 .1h1.2m8.3 0h1.2m13 .1h1.2m-18.9 .1h1.2m-7.4 .1h1.2m1.2 .1h1.2m-3.9 .1h1.2m-1 0h1.2m-1.4 .2h1.2m9.3 0h1.2m36.3 .3h1.2m3.3 .1h1.2m-46.5 .2h1.2m21.4 0h1.2m.6 0h1.2m-32.2 .3h1.2m33.6 0h1.2m-39.2 .1h1.2m2.2 0h1.2m-5 .3h1.2m12 .1h1.2m-.5 .2h1.2m-11.8 .1h1.2m16.5 .2h1.2m3.3 .1h1.2m-1.7 .1h1.2m.3 0h1.2m-12.9 .1h1.2m-3.3 .2h1.2m2.8 0h1.2m2.1 0h1.2m-6.9 .1h1.2m-5.4 .1h1.2m-11.3 .1h1.2m12.6 0h1.2m-1 .1h1.2m6.5 0h1.2m-1.1 0h1.2m.2 0h1.2m-21.4 .1h1.2m15 0h1.2m-17 .2h1.2m-.8 0h1.2m10.2 .1h1.2m-3.1 .1h1.2m-.7 .1h1.2m-2.1 .1h1.2m-3.8 .1h1.2m1.2 0h1.2m2 0h1.2m-.6 .1h1.2m-1.3 .1h1.2m-7.6 .1h1.2m-7.8 .2h1.2m16.6 0h1.2m.1 0h1.2m-20.5 .2h1.2m5.8 0h1.2m8.7 .2h1.2m8.1 0h1.2m-17.4 .1h1.2m2.2 0h1.2m2.2 .1h1.2m32.5 0h1.2m-44.2 .2h1.2m4.8 0h1.2m4.3 0h1.2m14.5 0h1.2m-4.9 .1h1.2m-24.3 .2h1.2m.7 .1h1.2m5.6 0h1.2m-7 .2h1.2m-1.6 .1h1.2m.2 0h1.2m15.7 0h1.2m-21.5 .1h1.2m-1.3 .1h1.2m-1 0h1.2m.7 0h1.2m6 0h1.2m15.6 0h1.2m-23.5 .1h1.2m11.4 0h1.2m-11.5 .1h1.2m13.3 0h1.2m-14.5 .1h1.2m10.6 0h1.2m2.4 0h1.2m17.7 0h1.2m-43.5 .1h1.2m1.3 0h1.2m1.9 0h1.2m2.5 0h1.2m-10.6 .1h1.2m18.8 0h1.2m18.9 0h1.2m-36.6 .2h1.2m-3.9 .1h1.2m-13 .1h1.2m8.1 .1h1.2m17.5 0h1.2m-19 .1h1.2m7 0h1.2m-9 .1h1.2m-.5 0h1.2m4.8 0h1.2m2.2 0h1.2m.8 0h1.2m1.5 .1h1.2m-27.5 .1h1.2m11.4 0h1.2m.7 0h1.2m14.4 0h1.2m-15.6 .1h1.2m25.1 0h1.2m-32.7 .1h1.2m-.3 0h1.2m-.1 0h1.2m11.7 .1h1.2m-14.8 .1h1.2m.9 0h1.2m14.7 .1h1.2m-30.2 .1h1.2m8 0h1.2m-.8 0h1.2m.6 .1h1.2m0 0h1.2m-3 .2h1.2m1.3 0h1.2m6.6 0h1.2m4.4 0h1.2m-15.9 .1h1.2m-1.1 0h1.2m-3.7 .1h1.2m42.6 0h1.2m-30.5 .1h1.2m2 .1h1.2m-10 .1h1.2m33 .1h1.2m-30.9 .1h1.2m1.4 0h1.2m1.4 0h1.2m-1.6 .1h1.2m-11.7 .1h1.2m26.2 0h1.2m-6.8 .1h1.2m-29.8 .1h1.2m-.7 0h1.2m-12.2 .1h1.2m13.9 0h1.2m-4.2 .1h1.2m10.9 0h1.2m-14.2 .1h1.2m-.8 0h1.2m3.7 0h1.2m39.2 0h1.2m-45.5 .1h1.2m-14.5 .1h1.2m18.5 0h1.2m18.9 0h1.2m-19 .1h1.2m7.5 0h1.2m-18.3 .1h1.2m6 0h1.2m8.2 0h1.2m22.1 0h1.2m5.6 0h1.2m-40.4 .2h1.2m8.8 0h1.2m-19.7 .2h1.2m24.6 0h1.2m10 0h1.2m-38.3 .1h1.2m8.6 0h1.2m-23.3 .1h1.2m10.3 .1h1.2m1.8 0h1.2m-16 .1h1.2m13.5 .1h1.2m6.8 .2h1.2m-1.4 .2h1.2m10.8 .1h1.2m-11.9 .1h1.2m4.2 0h1.2m-.4 .1h1.2m-.5 0h1.2m-13.1 .1h1.2m6.9 0h1.2m1 0h1.2m-11.9 .1h1.2m5.4 0h1.2m1.3 0h1.2m3.6 0h1.2m-17.3 .1h1.2m-2.9 .1h1.2m1.9 0h1.2m3.6 0h1.2m2.2 .1h1.2m3 0h1.2m-.4 .1h1.2m-15.6 .1h1.2m2.1 .3h1.2m6.9 0h1.2m4.1 .1h1.2m-8.4 .1h1.2m-10.6 .2h1.2m7.3 .1h1.2m4 .1h1.2m-16.3 .1h1.2m38.3 .1h1.2m-55 .1h1.2m12.3 0h1.2m32.7 0h1.2m-32.1 .1h1.2m.4 0h1.2m-2.9 .4h1.2m5.5 0h1.2m-5.7 .1h1.2m8.2 .1h1.2m-.8 0h1.2m-15.5 .1h1.2m-.3 .1h1.2m14.5 0h1.2m-32.4 .1h1.2m-1.4 .1h1.2m30.5 0h1.2m9.4 0h1.2m-26.2 .1h1.2m4.4 0h1.2m-9 .2h1.2m13.6 .1h1.2m-10.6 .1h1.2m0 0h1.2m-3.8 .1h1.2m.3 0h1.2m-21.6 .1h1.2m16.6 0h1.2m-2.9 .3h1.2m-16.8 .1h1.2m18.7 0h1.2m.6 0h1.2m3.3 0h1.2m11.3 0h1.2m-20 .2h1.2m-6.7 .1h1.2m14 0h1.2m-31.5 .1h1.2m16 0h1.2m2.3 0h1.2m29.4 0h1.2m-25.7 .1h1.2m3.4 0h1.2m-32 .1h1.2m-1.4 .1h1.2m13.6 .1h1.2m10.4 .2h1.2m5.1 0h1.2m-.8 0h1.2m-6.9 .2h1.2m-11.9 .1h1.2m2.8 0h1.2m13.2 0h1.2m-22.1 .2h1.2m15.2 0h1.2m20.7 0h1.2m-36.4 .1h1.2m.7 .1h1.2m2.2 0h1.2m6.1 0h1.2m19.1 .3h1.2m-36.2 .1h1.2m.6 0h1.2m-.5 0h1.2m-19 .1h1.2m29 0h1.2m5.4 0h1.2m11.4 0h1.2m-36.2 .1h1.2m7.6 0h1.2m2.9 0h1.2m5.1 0h1.2m4.2 0h1.2m-14.7 .1h1.2m26.7 0h1.2m-37.8 .1h1.2m-2.1 .1h1.2m7.5 0h1.2m28.2 0h1.2m-29.9 .1h1.2m5.3 0h1.2m3.2 .1h1.2m-.2 0h1.2m3.2 .1h1.2m11.1 0h1.2m-35.1 .1h1.2m5.8 0h1.2m-3.1 .1h1.2m-26.3 .1h1.2m37.3 0h1.2m-4.3 .1h1.2m-.1 .1h1.2m-16.5 .1h1.2m11.9 0h1.2m-5.6 .1h1.2m-.2 .1h1.2m2.1 .2h1.2m-10 .1h1.2m1.4 0h1.2m-8.7 .3h1.2m-.6 0h1.2m7.2 0h1.2m-15.4 .1h1.2m2.8 0h1.2m14 0h1.2m-20.5 .1h1.2m-.7 0h1.2m.9 0h1.2m30.6 0h1.2m-25.6 .1h1.2m7.6 .2h1.2m4.9 0h1.2m8 0h1.2m6.6 0h1.2m-7.7 .1h1.2m-30.4 .1h1.2m7.1 0h1.2m-14.3 .1h1.2m22.1 0h1.2m-23.3 .1h1.2m-.1 0h1.2m6.6 0h1.2m5.6 0h1.2m14.3 0h1.2m-24.8 .1h1.2m7.7 0h1.2m-19.6 .1h1.2m16.8 .1h1.2m22.4 0h1.2m.7 0h1.2m-44.2 .1h1.2m-.5 0h1.2m9.6 0h1.2m11.2 0h1.2m10.5 0h1.2m-33 .1h1.2m.7 0h1.2m29.9 0h1.2m-54.6 .1h1.2m23.8 0h1.2m-10.4 .1h1.2m4.6 0h1.2m1.5 0h1.2m4.3 0h1.2m9 0h1.2m-40.7 .1h1.2m57 0h1.2m-36.7 .1h1.2m8.6 0h1.2m-3.2 .1h1.2m20.8 .1h1.2m-28.3 .1h1.2m-3.5 .2h1.2m-9 .1h1.2m6.6 0h1.2m11.7 0h1.2m-19.9 .1h1.2m2.2 0h1.2m5.7 0h1.2m11.6 0h1.2m-26.2 .1h1.2m1.5 0h1.2m4.5 0h1.2m34.1 0h1.2m-43.8 .1h1.2m4.2 0h1.2m6.8 0h1.2m25.8 0h1.2m-42.2 .2h1.2m.5 .1h1.2m1.3 0h1.2m9.5 0h1.2m17.5 0h1.2m1.6 0h1.2m-33.6 .1h1.2m4 0h1.2m1.4 0h1.2m2.5 0h1.2m-15.7 .1h1.2m13.9 0h1.2m2.1 .1h1.2m-.2 0h1.2m-18.9 .2h1.2m5.9 0h1.2m-4.8 .1h1.2m4.3 0h1.2m4.3 0h1.2m-15.8 .1h1.2m12.6 0h1.2m-15.9 .1h1.2m3.3 .1h1.2m3.1 0h1.2m12.1 0h1.2m-.8 0h1.2m-25.4 .1h1.2m16.1 0h1.2m.7 0h1.2m-12.3 .1h1.2m3.6 0h1.2m24.7 0h1.2m12.2 0h1.2m-53.7 .1h1.2m8.7 .1h1.2m.5 .1h1.2m.3 0h1.2m12.9 0h1.2m7.9 0h1.2m-36.4 .1h1.2m5.9 .1h1.2m5.1 0h1.2m36.4 0h1.2m-51.3 .1h1.2m9.4 0h1.2m2.6 0h1.2m-11.4 .1h1.2m-4.6 .1h1.2m1.6 0h1.2m-.6 0h1.2m36.2 0h1.2m-38.4 .1h1.2m28 0h1.2m-26.1 .1h1.2m26.8 0h1.2m3.4 0h1.2m-43.5 .1h1.2m.1 0h1.2m5.3 .1h1.2m.3 0h1.2m-8.4 .1h1.2m7 0h1.2m5.5 0h1.2m.1 .1h1.2m-36.5 .1h1.2m21.7 0h1.2m3.9 0h1.2m-9 .1h1.2m19.5 0h1.2m-13.4 .1h1.2m24.5 0h1.2m-37.9 .1h1.2m-.5 0h1.2m7.3 0h1.2m27 0h1.2m-26.8 .1h1.2m4.5 0h1.2m-11.2 .1h1.2m9.3 0h1.2m-.4 0h1.2m2.3 0h1.2m8.6 0h1.2m-51.1 .1h1.2m25.7 0h1.2m4.9 0h1.2m5.5 0h1.2m-40.3 .2h1.2m21 0h1.2m-2 .1h1.2m-.8 .1h1.2m10.4 0h1.2m3.6 0h1.2m-22 .1h1.2m-.5 0h1.2m8.9 0h1.2m21.5 .1h1.2m-34.9 .1h1.2m-.5 0h1.2m3.6 0h1.2m18 0h1.2m-25.9 .1h1.2m-2.1 .1h1.2m3.7 0h1.2m7 0h1.2m-10.6 .1h1.2m-.1 0h1.2m2.6 0h1.2m-9.5 .1h1.2m-1.1 0h1.2m-.1 0h1.2m5.1 0h1.2m32.4 0h1.2m-.9 0h1.2m-42.1 .1h1.2m1 0h1.2m20.8 0h1.2m7.7 0h1.2m-52 .1h1.2m20.3 0h1.2m6.9 0h1.2m20.3 0h1.2m-31.8 .1h1.2m4 0h1.2m1.7 0h1.2m8.5 0h1.2m-22.7 .1h1.2m.9 0h1.2m16.1 .1h1.2m3.2 0h1.2m9 0h1.2m-27 .1h1.2m9.2 .1h1.2m-17.3 .2h1.2m0 0h1.2m1.9 0h1.2m6 .1h1.2m-14 .1h1.2m-1.1 0h1.2m-.7 .1h1.2m2.2 0h1.2m4.7 0h1.2m6.2 0h1.2m8.3 0h1.2m12.6 0h1.2m-28.1 .1h1.2m20.5 0h1.2m.3 0h1.2m-35.9 .1h1.2m14.5 0h1.2m-19.4 .1h1.2m-.7 0h1.2m38.1 .2h1.2m-41 .1h1.2m1.1 0h1.2m28.3 0h1.2m9 0h1.2m-40.1 .1h1.2m.2 0h1.2m21.3 0h1.2m4.8 0h1.2m-52.2 .1h1.2m-.2 0h1.2m33.5 0h1.2m4.2 0h1.2m11.8 .1h1.2m-36 .1h1.2m.2 0h1.2m7 0h1.2m4.4 0h1.2m30.1 0h1.2m-49.1 .1h1.2m12.1 0h1.2m-10 .1h1.2m2.9 0h1.2m2.4 0h1.2m4.7 0h1.2m2.9 0h1.2m13.8 0h1.2m1.4 0h1.2m3.3 0h1.2m-35.7 .1h1.2m-28.1 .2h1.2m61 0h1.2m-42.5 .1h1.2m13.2 0h1.2m22.3 0h1.2m-39.2 .1h1.2m-1.1 0h1.2m3.3 .1h1.2m31.9 0h1.2m-38.9 .1h1.2m18.8 0h1.2m-21.6 .1h1.2m7.6 0h1.2m-5.3 .1h1.2m4.6 0h1.2m36.5 0h1.2m-50.1 .1h1.2m32.4 0h1.2m-35.3 .1h1.2m18.4 0h1.2m16.5 0h1.2m-2.1 .1h1.2m3.4 0h1.2m-36 .1h1.2m.4 0h1.2m4.2 0h1.2m-.9 0h1.2m22.1 0h1.2m-33.5 .1h1.2m1.9 0h1.2m-1.3 .2h1.2m24.2 0h1.2m7.1 0h1.2m1 0h1.2m-43.4 .1h1.2m20.1 0h1.2m3.1 0h1.2m.1 0h1.2m4.5 0h1.2m-17.2 .1h1.2m10.4 0h1.2m-27.6 .1h1.2m0 0h1.2m8.5 0h1.2m4.3 0h1.2m9.7 0h1.2m-19.6 .1h1.2m5.1 0h1.2m8.7 0h1.2m-19.2 .1h1.2m19.8 0h1.2m-30.9 .1h1.2m1.4 0h1.2m4.7 0h1.2m4.9 0h1.2m-.8 0h1.2m.3 0h1.2m-16.3 .1h1.2m8.4 0h1.2m4.2 0h1.2m-8.4 .1h1.2m.7 0h1.2m5.3 0h1.2m5.5 0h1.2m-24 .1h1.2m10 0h1.2m-11.6 .1h1.2m4 0h1.2m4.9 0h1.2m-15.8 .1h1.2m14.3 0h1.2m-8.5 .1h1.2m1.3 0h1.2m7.1 0h1.2m-.7 .1h1.2m11.8 0h1.2m-19.5 .1h1.2m-13.2 .1h1.2m-1.2 0h1.2m23.9 0h1.2m6.9 0h1.2m1 0h1.2m7.3 0h1.2m-37.3 .1h1.2m18.8 0h1.2m-28.9 .1h1.2m5.2 0h1.2m8.3 0h1.2m-18.5 .1h1.2m13.2 0h1.2m-15.7 .1h1.2m-.3 0h1.2m2.6 0h1.2m2.2 0h1.2m-.9 0h1.2m4 0h1.2m8 0h1.2m4.1 0h1.2m-24.8 .1h1.2m-5.3 .1h1.2m.6 0h1.2m10.8 0h1.2m11.7 0h1.2m-15.4 .3h1.2m7.8 0h1.2m-17.1 .2h1.2m6.3 0h1.2m1.5 0h1.2m4.1 0h1.2m-12.2 .1h1.2m-6.5 .1h1.2m4.7 0h1.2m.9 0h1.2m2.5 0h1.2m16.3 0h1.2m-33.9 .1h1.2m6.6 0h1.2m10.8 0h1.2m4.1 0h1.2m-9.9 .1h1.2m14.6 0h1.2m-34 .1h1.2m6.8 0h1.2m2.5 0h1.2m15.5 0h1.2m5.8 0h1.2m-57.9 .1h1.2m20.3 0h1.2m-.3 0h1.2m-1 0h1.2m1.1 0h1.2m2.9 0h1.2m25.1 0h1.2m-34.4 .1h1.2m-.8 0h1.2m42.3 0h1.2m-45.6 .1h1.2m12.8 0h1.2m17.2 0h1.2m8.7 0h1.2m-28.2 .1h1.2m3.6 0h1.2m10.4 0h1.2m-31.5 .1h1.2m-.6 0h1.2m4.4 0h1.2m7 0h1.2m9.5 0h1.2m14.7 0h1.2m-39.4 .1h1.2m9.1 0h1.2m-16 .1h1.2m1.2 0h1.2m-.2 0h1.2m35.5 0h1.2m-42.2 .1h1.2m.9 0h1.2m.4 0h1.2m-.5 0h1.2m-2.1 .1h1.2m-2.3 .1h1.2m12.8 0h1.2m5.7 0h1.2m3.9 0h1.2m13.2 0h1.2m-6.4 .1h1.2m-35.6 .1h1.2m13.4 0h1.2m20.4 0h1.2m-61.4 .1h1.2m35.8 0h1.2m-15.6 .1h1.2m5.9 0h1.2m2.8 0h1.2m19.2 0h1.2m20.6 0h1.2m-54.3 .1h1.2m30 0h1.2m-28.1 .1h1.2m.6 0h1.2m26.4 0h1.2m-27.9 .1h1.2m11.2 0h1.2m6.4 0h1.2m3 0h1.2m-26.6 .1h1.2m36.4 0h1.2m-18.3 .1h1.2m-20 .1h1.2m-4.7 .1h1.2m6.8 0h1.2m10.8 0h1.2m-14.2 .1h1.2m5.3 0h1.2m-14.2 .1h1.2m23 0h1.2m-13.5 .1h1.2m-1.1 0h1.2m-17.3 .1h1.2m4.8 0h1.2m.9 0h1.2m3.2 0h1.2m20.1 0h1.2m-28.2 .1h1.2m-4.8 .1h1.2m4.7 0h1.2m14.9 0h1.2m-25.1 .1h1.2m7.7 0h1.2m21.9 0h1.2m-37 .1h1.2m2.8 0h1.2m2.2 0h1.2m0 0h1.2m-1 0h1.2m7.4 0h1.2m4.1 0h1.2m12.5 0h1.2m-.9 0h1.2m-37.3 .2h1.2m7.3 0h1.2m30.1 0h1.2m-32.5 .1h1.2m24.5 .1h1.2m6 0h1.2m-38.3 .1h1.2m5.2 0h1.2m31.7 0h1.2m-34.6 .1h1.2m-.5 0h1.2m-.1 0h1.2m3.5 0h1.2m14.3 .1h1.2m-31.7 .1h1.2m.9 .1h1.2m2.2 0h1.2m35.7 0h1.2m5.3 0h1.2m-33.6 .1h1.2m2 0h1.2m-20.1 .1h1.2m9.7 0h1.2m2.2 0h1.2m1 0h1.2m-41.6 .1h1.2m30.3 0h1.2m.6 0h1.2m8.4 0h1.2m-8.3 .1h1.2m2.6 0h1.2m20.7 0h1.2m-30.7 .1h1.2m-.1 0h1.2m-.7 0h1.2m24 0h1.2m-29.3 .1h1.2m20.1 0h1.2m-30.1 .1h1.2m24.6 0h1.2m3.5 .1h1.2m2.7 0h1.2m-32.1 .1h1.2m1 0h1.2m-4.6 .1h1.2m19.3 .1h1.2m-22.1 .2h1.2m-1.1 0h1.2m4.6 0h1.2m23 0h1.2m-27.5 .1h1.2m28.8 0h1.2m4.9 0h1.2m-14.2 .1h1.2m4.2 0h1.2m.5 0h1.2m-28.8 .1h1.2m.7 0h1.2m21.5 0h1.2m-7.6 .1h1.2m7.9 0h1.2m-1 0h1.2m-8 .1h1.2m-53.7 .1h1.2m28.3 0h1.2m9.2 0h1.2m-11.4 .1h1.2m-1.4 .1h1.2m2.3 0h1.2m.3 0h1.2m8.7 0h1.2m-13.8 .1h1.2m9.8 0h1.2m-14.3 .1h1.2m2.6 0h1.2m-5.5 .1h1.2m19.5 0h1.2m10.2 0h1.2m-12 .1h1.2m11.6 0h1.2m-34.6 .1h1.2m10.6 0h1.2m3.5 0h1.2m17.2 0h1.2m-32.8 .1h1.2m1.3 0h1.2m-10.2 .1h1.2m.8 0h1.2m4 0h1.2m12.7 0h1.2m28.9 0h1.2m-51.3 .1h1.2m2.4 0h1.2m9.7 0h1.2m-12.1 .1h1.2m.4 0h1.2m5.9 0h1.2m-7.9 .1h1.2m2.9 0h1.2m1.3 0h1.2m13.4 0h1.2m-22.1 .1h1.2m5.3 0h1.2m2.3 0h1.2m16.9 0h1.2m-29.1 .2h1.2m4 0h1.2m-.8 0h1.2m12.2 0h1.2m-18.3 .1h1.2m-10.8 .1h1.2m5.4 0h1.2m6.8 0h1.2m18.9 0h1.2m-22.2 .1h1.2m-13.7 .1h1.2m.1 0h1.2m13.9 0h1.2m9.4 0h1.2m-28.4 .2h1.2m2.7 0h1.2m20.1 0h1.2m.7 0h1.2m2.7 0h1.2m1.5 0h1.2m-61.6 .1h1.2m31.4 0h1.2m-2.5 .1h1.2m6.1 0h1.2m22.8 .1h1.2m3.5 0h1.2m-41.5 .1h1.2m-.4 .1h1.2m-.8 0h1.2m4.7 0h1.2m2.5 0h1.2m11.7 .1h1.2m.6 0h1.2m6.1 0h1.2m1.9 0h1.2m-.4 0h1.2m-29.2 .1h1.2m3.3 0h1.2m9.8 0h1.2m-20.9 .1h1.2m20.8 0h1.2m-.6 0h1.2m-27.7 .1h1.2m-1.9 .2h1.2m.1 0h1.2m2.3 0h1.2m3.8 0h1.2m-1.1 0h1.2m-6.8 .1h1.2m-1.1 0h1.2m5 0h1.2m-7.8 .1h1.2m.2 0h1.2m8.8 0h1.2m-7.2 .1h1.2m20.9 0h1.2m-26 .1h1.2m13.9 0h1.2m-7 .1h1.2m3 0h1.2m1.5 0h1.2m-10.8 .1h1.2m-1 0h1.2m.6 0h1.2m13.7 0h1.2m9.8 0h1.2m-43.1 .1h1.2m6.7 0h1.2m5 0h1.2m6.5 .1h1.2m9.1 0h1.2m-33.3 .2h1.2m6.5 0h1.2m.3 .1h1.2m3.5 0h1.2m8.9 0h1.2m19 .1h1.2m-.9 0h1.2m-40.9 .1h1.2m13.9 0h1.2m-12 .1h1.2m25.8 0h1.2m-37.6 .1h1.2m9.4 0h1.2m4 0h1.2m28.9 0h1.2m-39.6 .1h1.2m1.7 0h1.2m-.9 0h1.2m2.1 0h1.2m5.8 0h1.2m-48.3 .1h1.2m50.2 0h1.2m18.7 0h1.2m-72.8 .1h1.2m34.3 0h1.2m-10.1 .1h1.2m7.7 0h1.2m.3 0h1.2m-.7 0h1.2m-3.7 .1h1.2m23.5 0h1.2m-26.5 .2h1.2m13 0h1.2m-7.9 .1h1.2m2.9 0h1.2m16.9 0h1.2m-30 .1h1.2m2.9 0h1.2m24.4 0h1.2m.3 0h1.2m.2 0h1.2m-31.9 .1h1.2m3.3 0h1.2m19.8 0h1.2m-27.9 .1h1.2m2.3 0h1.2m4.5 0h1.2m-8.7 .1h1.2m10.2 0h1.2m-23.5 .1h1.2m8.2 0h1.2m1.4 0h1.2m.1 0h1.2m20.4 0h1.2m-.8 0h1.2m-36.8 .1h1.2m6.3 0h1.2m6.8 0h1.2m-2.7 .1h1.2m16.8 0h1.2m.6 0h1.2m-23 .1h1.2m1.6 0h1.2m21.3 0h1.2m-28.2 .1h1.2m.6 0h1.2m-.5 0h1.2m21.2 0h1.2m.9 0h1.2m-24.9 .1h1.2m4 0h1.2m-20.4 .1h1.2m10.3 0h1.2m-.9 0h1.2m.6 0h1.2m18.6 0h1.2m6.1 .1h1.2m-21.4 .1h1.2m22.4 0h1.2m-30.3 .1h1.2m13.3 0h1.2m4.7 0h1.2m6 0h1.2m11.7 0h1.2m-45.8 .1h1.2m26.4 0h1.2m-19 .2h1.2m-2.5 .1h1.2m6.5 0h1.2m4.6 0h1.2m.4 0h1.2m-8.8 .1h1.2m1.5 0h1.2m2.5 0h1.2m1.7 0h1.2m2.9 0h1.2m-33.3 .1h1.2m9.7 0h1.2m-45.9 .1h1.2m47.2 .2h1.2m11.3 0h1.2m-3.9 .1h1.2m-10.7 .2h1.2m-9.5 .2h1.2m4.6 0h1.2m15.3 0h1.2m19.8 0h1.2m-45.6 .1h1.2m10.7 0h1.2m-1 0h1.2m2.7 0h1.2m4 0h1.2m-20.9 .1h1.2m6.8 0h1.2m-16.2 .1h1.2m32.2 0h1.2m-68.9 .1h1.2m53.9 0h1.2m2.9 0h1.2m-.5 0h1.2m5.2 0h1.2m2.6 0h1.2m-70.8 .1h1.2m40.8 .1h1.2m11.6 0h1.2m19.6 0h1.2m-26.6 .1h1.2m-4.3 .1h1.2m6.3 0h1.2m.6 0h1.2m-57.8 .1h1.2m39.7 0h1.2m9.5 0h1.2m-18.8 .1h1.2m14.2 0h1.2m-1 0h1.2m-16.3 .1h1.2m5.5 0h1.2m21.1 0h1.2m.9 .1h1.2m12.5 .1h1.2m-36.1 .1h1.2m10.7 0h1.2m10.1 0h1.2m-7.3 .2h1.2m-14.3 .1h1.2m5.1 0h1.2m2.7 0h1.2m-18.4 .1h1.2m16.7 .2h1.2m13.7 0h1.2m2.3 0h1.2m-33.9 .1h1.2m12.9 .1h1.2m-6.3 .1h1.2m20.9 .2h1.2m-20.3 .1h1.2m-2.3 .1h1.2m5.8 0h1.2m-63.9 .1h1.2m40.2 0h1.2m4.7 0h1.2m7.1 0h1.2m11 0h1.2m-69.1 .1h1.2m44.3 0h1.2m4.6 0h1.2m-3.9 .1h1.2m28.1 0h1.2m-26.7 .1h1.2m4.5 0h1.2m-12.6 .1h1.2m13.4 0h1.2m-16 .1h1.2m1.7 0h1.2m25.2 0h1.2m-24.8 .1h1.2m-.2 0h1.2m2.9 0h1.2m-58.2 .1h1.2m41.9 0h1.2m25.4 0h1.2m-28.7 .1h1.2m2 0h1.2m14.8 0h1.2m1.9 0h1.2m-15.8 .2h1.2m1.4 0h1.2m3.3 0h1.2m-.4 0h1.2m-13.4 .1h1.2m1.2 0h1.2m7.7 0h1.2m-58.8 .1h1.2m42.7 0h1.2m11.4 0h1.2m2.6 0h1.2m-6.1 .2h1.2m-8.4 .2h1.2m-.4 0h1.2m4.3 0h1.2m-1.2 0h1.2m-.6 0h1.2m10.1 0h1.2m4.6 0h1.2m-19.2 .1h1.2m1 .1h1.2m-3.4 .2h1.2m3.5 0h1.2m-.5 0h1.2m-10.3 .1h1.2m7.4 0h1.2m2.7 0h1.2m.6 0h1.2m-4.4 .1h1.2m-1.1 0h1.2m.1 0h1.2m4 0h1.2m-5.3 .2h1.2m-22.7 .1h1.2m18.7 0h1.2m-20.7 .1h1.2m6.8 0h1.2m23.9 0h1.2m.3 0h1.2m-22.3 .1h1.2m-5.7 .1h1.2m3.1 0h1.2m6 0h1.2m1.2 0h1.2m10.9 0h1.2m-38.2 .1h1.2m11.6 0h1.2m12.6 0h1.2m.9 0h1.2m-24.3 .1h1.2m12.1 0h1.2m.5 0h1.2m-19.5 .1h1.2m1.8 0h1.2m11.7 0h1.2m18.2 0h1.2m-30.3 .1h1.2m6 0h1.2m3.6 0h1.2m2.8 0h1.2m-23.5 .1h1.2m3.5 0h1.2m1.9 0h1.2m14.6 0h1.2m6.7 0h1.2m-33.7 .1h1.2m6.5 0h1.2m-.4 0h1.2m-.3 0h1.2m3.3 .1h1.2m15.2 0h1.2m-30.6 .1h1.2m33.9 0h1.2m-26.6 .1h1.2m-.8 0h1.2m3.1 0h1.2m12.4 0h1.2m24.5 0h1.2m-40.7 .1h1.2m1.3 0h1.2m-16.3 .1h1.2m3.1 0h1.2m6.7 0h1.2m5.7 0h1.2m9.7 0h1.2m-17.1 .1h1.2m3.4 0h1.2m-21.6 .1h1.2m20.1 0h1.2m1.4 0h1.2m.6 0h1.2m-26 .1h1.2m12.1 .1h1.2m2.2 0h1.2m3.6 0h1.2m26.1 0h1.2m-41.6 .1h1.2m.7 0h1.2m-8.7 .1h1.2m1.8 0h1.2m2.8 0h1.2m-12 .1h1.2m20.1 0h1.2m6.3 0h1.2m-30.1 .1h1.2m0 0h1.2m10.3 0h1.2m2.6 0h1.2m6.3 0h1.2m7.9 0h1.2m-24.1 .1h1.2m1.2 0h1.2m-.8 0h1.2m.9 0h1.2m.1 0h1.2m-1.2 0h1.2m1.1 0h1.2m8.3 0h1.2m-72.2 .1h1.2m41.3 0h1.2m9.8 0h1.2m.8 0h1.2m-1.1 0h1.2m9.2 0h1.2m4.8 0h1.2m2.8 0h1.2m-19.3 .1h1.2m-.1 .1h1.2m5 0h1.2m-18.3 .1h1.2m5.7 0h1.2m-56 .1h1.2m68.6 0h1.2m-27.6 .1h1.2m21.1 0h1.2m-8.9 .1h1.2m8 0h1.2m-26.2 .1h1.2m10.2 0h1.2m.1 0h1.2m4.4 0h1.2m-8.6 .1h1.2m3.1 0h1.2m.9 0h1.2m2.1 0h1.2m-9.8 .1h1.2m-.9 0h1.2m6.9 0h1.2m.2 0h1.2m2.9 0h1.2m-10.1 .1h1.2m-.1 0h1.2m2.5 0h1.2m3.4 0h1.2m11.6 0h1.2m-40.2 .1h1.2m2 0h1.2m7.1 0h1.2m9.3 0h1.2m3.6 0h1.2m20.9 0h1.2m-32.7 .1h1.2m-1 .1h1.2m5.5 0h1.2m-9.5 .1h1.2m-4.8 .1h1.2m1.8 0h1.2m1 0h1.2m10.7 0h1.2m2.5 0h1.2m3 0h1.2m-37.2 .1h1.2m1.3 0h1.2m22 0h1.2m.9 0h1.2m5.2 0h1.2m-25.5 .1h1.2m12.6 0h1.2m24.7 0h1.2m-52.1 .1h1.2m5.6 0h1.2m-.2 0h1.2m7.1 0h1.2m2.6 0h1.2m6 0h1.2m-12.8 .1h1.2m6.1 0h1.2m1 0h1.2m2.4 0h1.2m-6 .3h1.2m-13.5 .1h1.2m11 0h1.2m11.2 0h1.2m-80 .1h1.2m53 0h1.2m-.7 0h1.2m-.8 0h1.2m-55.8 .1h1.2m46.8 0h1.2m4.8 0h1.2m2.6 0h1.2m9.4 0h1.2m-11.5 .1h1.2m2.6 0h1.2m-.6 0h1.2m-9.6 .1h1.2m-.2 0h1.2m-14.5 .1h1.2m5.1 0h1.2m.2 0h1.2m3.5 0h1.2m5.4 0h1.2m.9 0h1.2m13.5 0h1.2m-37.2 .1h1.2m11.1 0h1.2m2.9 0h1.2m-10.2 .1h1.2m-.4 0h1.2m14.8 0h1.2m-17.4 .1h1.2m3.8 0h1.2m5.3 0h1.2m7.5 0h1.2m-18.4 .1h1.2m.7 0h1.2m18.7 0h1.2m-75.2 .1h1.2m53 0h1.2m25.1 0h1.2m-28 .1h1.2m10.3 0h1.2m-.4 0h1.2m-14.3 .1h1.2m18.4 0h1.2m-24.3 .1h1.2m-1.1 0h1.2m3.1 0h1.2m5.9 0h1.2m-17.5 .1h1.2m11.4 0h1.2m-5.2 .1h1.2m5.4 0h1.2m6.7 0h1.2m-.6 0h1.2m3.8 0h1.2m-24.9 .1h1.2m3.2 0h1.2m5.8 0h1.2m13 0h1.2m-26.8 .1h1.2m13.1 0h1.2m-.2 0h1.2m3.5 0h1.2m1.4 0h1.2m-20.2 .1h1.2m-55.3 .1h1.2m-.7 0h1.2m52.8 0h1.2m16.7 0h1.2m-73 .1h1.2m56.5 0h1.2m9 0h1.2m-20.7 .1h1.2m3.8 0h1.2m4.9 0h1.2m16.7 0h1.2m-20.7 .1h1.2m2.3 0h1.2m6.2 .1h1.2m-19.8 .1h1.2m13.7 0h1.2m-1 0h1.2m-22.4 .1h1.2m4.6 0h1.2m-1 0h1.2m2.5 0h1.2m.2 0h1.2m11.8 0h1.2m-24.7 .1h1.2m22.8 0h1.2m-22.3 .2h1.2m15.4 0h1.2m11 0h1.2m-14.9 .1h1.2m-.8 0h1.2m7.6 0h1.2m-27.6 .1h1.2m7.4 0h1.2m7.8 .1h1.2m1.1 0h1.2m-16.5 .1h1.2m13.9 0h1.2m5.4 0h1.2m-73 .1h1.2m43.7 0h1.2m-.5 0h1.2m30.6 0h1.2m-35.1 .1h1.2m18 0h1.2m-3.5 .1h1.2m1.5 0h1.2m6.8 0h1.2m-.7 0h1.2m-72.7 .1h1.2m53.5 0h1.2m8.8 0h1.2m5.3 0h1.2m-27.1 .1h1.2m1 0h1.2m14.3 0h1.2m24.6 0h1.2m-42.5 .1h1.2m5.5 0h1.2m-.2 0h1.2m16.7 0h1.2m-25.5 .1h1.2m10.9 0h1.2m.7 0h1.2m3 0h1.2m-20.5 .1h1.2m12.4 0h1.2m-13.8 .1h1.2m16.9 0h1.2m2.9 0h1.2m-17.5 .1h1.2m-12.1 .1h1.2m2.7 .1h1.2m20.7 0h1.2m6.7 0h1.2m-7.3 .1h1.2m-6.6 .1h1.2m5.5 0h1.2m1.2 0h1.2m1.9 0h1.2m9.5 .1h1.2m-12.7 .1h1.2m-17.7 .1h1.2m5 0h1.2m.8 0h1.2m7.9 0h1.2m.2 0h1.2m-31.9 .1h1.2m10.4 0h1.2m.4 0h1.2m3.4 0h1.2m7.3 0h1.2m-31.2 .1h1.2m26.6 0h1.2m-30.8 .1h1.2m2.8 0h1.2m-4.2 .1h1.2m19.9 0h1.2m14 0h1.2m-19.7 .1h1.2m10.6 0h1.2m-75.3 .1h1.2m44.5 0h1.2m15.4 0h1.2m7 0h1.2m14.3 .1h1.2m-25.6 .1h1.2m18.6 0h1.2m-36.6 .1h1.2m23.4 .1h1.2m.3 0h1.2m-11.7 .1h1.2m.8 0h1.2m4.3 0h1.2m-.5 0h1.2m.1 0h1.2m9.2 0h1.2m2.9 .1h1.2m-42.3 .1h1.2m-1.1 0h1.2m32.5 0h1.2m-15.4 .1h1.2m6.8 0h1.2m8 .1h1.2m-10.7 .1h1.2m-1.2 0h1.2m17.4 .1h1.2m-45.4 .1h1.2m14.6 0h1.2m1.8 .1h1.2m13.9 0h1.2m-17.4 .1h1.2m12.4 0h1.2m25.2 0h1.2m-61.3 .1h1.2m-1.1 0h1.2m-.6 0h1.2m-.9 .1h1.2m18.5 0h1.2m12.2 0h1.2m-34.9 .1h1.2m29.9 0h1.2m-32 .1h1.2m.2 0h1.2m20.8 0h1.2m7.7 .1h1.2m-.5 0h1.2m.8 .1h1.2m-16.2 .1h1.2m12 .1h1.2m-.9 0h1.2m.7 0h1.2m1.5 0h1.2m-6.2 .1h1.2m-9.2 .1h1.2m-1.2 .1h1.2m3.3 0h1.2m-5.8 .1h1.2m14.7 0h1.2m-21.3 .1h1.2m3.4 0h1.2m6.7 0h1.2m-13.8 .1h1.2m10.2 0h1.2m-8.4 .1h1.2m4.9 .1h1.2m-3.8 .1h1.2m20.4 0h1.2m-21.4 .1h1.2m-5.8 .2h1.2m2 0h1.2m-4.3 .1h1.2m5.3 0h1.2m3.3 0h1.2m-12.3 .1h1.2m-3.3 .1h1.2m3.8 0h1.2m1.9 0h1.2m-7.2 .1h1.2m1.8 0h1.2m11.1 .1h1.2m-10 .1h1.2m-9.9 .1h1.2m-.7 0h1.2m12 0h1.2m-6.1 .1h1.2m3.9 0h1.2m-38.5 .1h1.2m22.1 0h1.2m10.4 0h1.2m-.9 0h1.2m4.2 0h1.2m3.5 .1h1.2m-46.2 .2h1.2m33.3 0h1.2m-3.8 .1h1.2m11.9 0h1.2m3.3 0h1.2m-11.6 .1h1.2m7.1 .1h1.2m-15.9 .1h1.2m4.4 0h1.2m-4.6 .2h1.2m8.8 0h1.2m-47 .2h1.2m32 .1h1.2m6.1 0h1.2m.6 0h1.2m-10.6 .1h1.2m3.6 0h1.2m-14.4 .2h1.2m9.8 0h1.2m9.9 0h1.2m-7.4 .1h1.2m-8.5 .1h1.2m12.9 0h1.2m1.4 .2h1.2m-17.9 .1h1.2m7.2 0h1.2m4.2 0h1.2m-91.6 .1h1.2m92.5 0h1.2m-4.5 .3h1.2m-14.7 .1h1.2m18.4 0h1.2m-13.8 .1h1.2m-1.2 0h1.2m1.3 0h1.2m-43.9 .1h1.2m48.2 0h1.2m-9 .2h1.2m-1.2 0h1.2m.4 0h1.2m1.7 .2h1.2m0 0h1.2m-6.5 .3h1.2m-2.9 .1h1.2m.2 0h1.2m3.5 0h1.2m-12.6 .4h1.2m3.8 0h1.2m10.5 0h1.2m-2 .2h1.2m-16.5 .1h1.2m-36.3 .2h1.2m-45.2 .1h1.2m91.4 0h1.2m4 .1h1.2m-5 .1h1.2m.4 0h1.2m-3.7 .2h1.2m.6 0h1.2m1.9 0h1.2m-6.7 .2h1.2m.3 .1h1.2m.8 0h1.2m1.8 0h1.2m-100.7 .1h1.2m92 0h1.2m-.8 0h1.2m-1 .1h1.2m3.7 0h1.2m-2.7 .1h1.2m1.3 0h1.2m1.8 0h1.2m-4.1 .1h1.2m-.8 .5h1.2m.5 0h1.2m6.3 .7h1.2m-4.3 .2h1.2m1.5 .1h1.2m-.4 0h1.2m-1.8 .1h1.2" stroke="#df8000" stroke-width="1.2" fill="none"/>
</g>
<g filter="url(#bt)">
<path d="M30.9 12.2V123.8H169.5" stroke="#a0a0a0" stroke-width="1" fill="none"/>
<path d="M30.9 123.8v-1.3M65.5 123.8v-1.3M100.2 123.8v-1.3M134.8 123.8v-1.3M169.5 123.8v-1.3M30.9 123.8h1.3M30.9 105.2h1.3M30.9 86.6h1.3M30.9 68.0h1.3M30.9 49.4h1.3M30.9 30.8h1.3M30.9 12.2h1.3" stroke="#a0a0a0" stroke-width="0.8" fill="none"/>
<path d="M216.3 12.2V123.8H354.9" stroke="#a0a0a0" stroke-width="1" fill="none"/>
<path d="M216.3 123.8v-1.3M239.4 123.8v-1.3M262.5 123.8v-1.3M285.6 123.8v-1.3M308.7 123.8v-1.3M331.8 123.8v-1.3M354.9 123.8v-1.3M216.3 123.8h1.3M216.3 105.2h1.3M216.3 86.6h1.3M216.3 68.0h1.3M216.3 49.4h1.3M216.3 30.8h1.3M216.3 12.2h1.3" stroke="#a0a0a0" stroke-width="0.8" fill="none"/>
<path d="M401.3 12.2V123.8H540.9" stroke="#a0a0a0" stroke-width="1" fill="none"/>
<path d="M401.3 123.8v-1.3M421.2 123.8v-1.3M441.2 123.8v-1.3M461.1 123.8v-1.3M481.1 123.8v-1.3M501.0 123.8v-1.3M520.9 123.8v-1.3M540.9 123.8v-1.3M401.3 123.8h1.3M401.3 105.2h1.3M401.3 86.6h1.3M401.3 68.0h1.3M401.3 49.4h1.3M401.3 30.8h1.3M401.3 12.2h1.3" stroke="#a0a0a0" stroke-width="0.8" fill="none"/>
<path d="M30.9 167.2V278.8H169.5" stroke="#a0a0a0" stroke-width="1" fill="none"/>
<path d="M30.9 278.8v-1.3M65.5 278.8v-1.3M100.2 278.8v-1.3M134.8 278.8v-1.3M169.5 278.8v-1.3M30.9 278.8h1.3M30.9 260.2h1.3M30.9 241.6h1.3M30.9 223.0h1.3M30.9 204.4h1.3M30.9 185.8h1.3M30.9 167.2h1.3" stroke="#a0a0a0" stroke-width="0.8" fill="none"/>
<path d="M216.3 167.2V278.8H354.9" stroke="#a0a0a0" stroke-width="1" fill="none"/>
<path d="M216.3 278.8v-1.3M239.4 278.8v-1.3M262.5 278.8v-1.3M285.6 278.8v-1.3M308.7 278.8v-1.3M331.8 278.8v-1.3M354.9 278.8v-1.3M216.3 278.8h1.3M216.3 260.2h1.3M216.3 241.6h1.3M216.3 223.0h1.3M216.3 204.4h1.3M216.3 185.8h1.3M216.3 167.2h1.3" stroke="#a0a0a0" stroke-width="0.8" fill="none"/>
<path d="M401.7 167.2V278.8H540.5" stroke="#a0a0a0" stroke-width="1" fill="none"/>
<path d="M401.7 278.8v-1.3M424.8 278.8v-1.3M448.0 278.8v-1.3M471.1 278.8v-1.3M494.3 278.8v-1.3M517.4 278.8v-1.3M540.5 278.8v-1.3M401.7 278.8h1.3M401.7 260.2h1.3M401.7 241.6h1.3M401.7 223.0h1.3M401.7 204.4h1.3M401.7 185.8h1.3M401.7 167.2h1.3" stroke="#a0a0a0" stroke-width="0.8" fill="none"/>
<g font-size="6.05" fill="#111" stroke="#111" stroke-width="0.05"><text transform="translate(30.90 132.10) scale(1 1.100)" text-anchor="middle">50</text><text transform="translate(65.55 132.10) scale(1 1.100)" text-anchor="middle">100</text><text transform="translate(100.20 132.10) scale(1 1.100)" text-anchor="middle">150</text><text transform="translate(134.85 132.10) scale(1 1.100)" text-anchor="middle">200</text><text transform="translate(169.50 132.10) scale(1 1.100)" text-anchor="middle">250</text><text transform="translate(28.60 126.50) scale(1 1.100)" text-anchor="end">0</text><text transform="translate(28.60 107.90) scale(1 1.100)" text-anchor="end">250</text><text transform="translate(28.60 89.30) scale(1 1.100)" text-anchor="end">500</text><text transform="translate(28.60 70.70) scale(1 1.100)" text-anchor="end">750</text><text transform="translate(28.60 52.10) scale(1 1.100)" text-anchor="end">1000</text><text transform="translate(28.60 33.50) scale(1 1.100)" text-anchor="end">1250</text><text transform="translate(28.60 14.90) scale(1 1.100)" text-anchor="end">1500</text><text transform="translate(216.30 132.10) scale(1 1.100)" text-anchor="middle">0</text><text transform="translate(239.40 132.10) scale(1 1.100)" text-anchor="middle">200</text><text transform="translate(262.50 132.10) scale(1 1.100)" text-anchor="middle">400</text><text transform="translate(285.60 132.10) scale(1 1.100)" text-anchor="middle">600</text><text transform="translate(308.70 132.10) scale(1 1.100)" text-anchor="middle">800</text><text transform="translate(331.80 132.10) scale(1 1.100)" text-anchor="middle">1000</text><text transform="translate(354.90 132.10) scale(1 1.100)" text-anchor="middle">1200</text><text transform="translate(214.00 126.50) scale(1 1.100)" text-anchor="end">0</text><text transform="translate(214.00 107.90) scale(1 1.100)" text-anchor="end">250</text><text transform="translate(214.00 89.30) scale(1 1.100)" text-anchor="end">500</text><text transform="translate(214.00 70.70) scale(1 1.100)" text-anchor="end">750</text><text transform="translate(214.00 52.10) scale(1 1.100)" text-anchor="end">1000</text><text transform="translate(214.00 33.50) scale(1 1.100)" text-anchor="end">1250</text><text transform="translate(214.00 14.90) scale(1 1.100)" text-anchor="end">1500</text><text transform="translate(401.30 132.10) scale(1 1.100)" text-anchor="middle">0</text><text transform="translate(421.24 132.10) scale(1 1.100)" text-anchor="middle">200</text><text transform="translate(441.18 132.10) scale(1 1.100)" text-anchor="middle">400</text><text transform="translate(461.12 132.10) scale(1 1.100)" text-anchor="middle">600</text><text transform="translate(481.06 132.10) scale(1 1.100)" text-anchor="middle">800</text><text transform="translate(501.00 132.10) scale(1 1.100)" text-anchor="middle">1000</text><text transform="translate(520.94 132.10) scale(1 1.100)" text-anchor="middle">1200</text><text transform="translate(540.88 132.10) scale(1 1.100)" text-anchor="middle">1400</text><text transform="translate(399.00 126.50) scale(1 1.100)" text-anchor="end">0</text><text transform="translate(399.00 107.90) scale(1 1.100)" text-anchor="end">250</text><text transform="translate(399.00 89.30) scale(1 1.100)" text-anchor="end">500</text><text transform="translate(399.00 70.70) scale(1 1.100)" text-anchor="end">750</text><text transform="translate(399.00 52.10) scale(1 1.100)" text-anchor="end">1000</text><text transform="translate(399.00 33.50) scale(1 1.100)" text-anchor="end">1250</text><text transform="translate(399.00 14.90) scale(1 1.100)" text-anchor="end">1500</text><text transform="translate(30.90 287.10) scale(1 1.100)" text-anchor="middle">50</text><text transform="translate(65.55 287.10) scale(1 1.100)" text-anchor="middle">100</text><text transform="translate(100.20 287.10) scale(1 1.100)" text-anchor="middle">150</text><text transform="translate(134.85 287.10) scale(1 1.100)" text-anchor="middle">200</text><text transform="translate(169.50 287.10) scale(1 1.100)" text-anchor="middle">250</text><text transform="translate(28.60 281.50) scale(1 1.100)" text-anchor="end">0</text><text transform="translate(28.60 262.90) scale(1 1.100)" text-anchor="end">250</text><text transform="translate(28.60 244.30) scale(1 1.100)" text-anchor="end">500</text><text transform="translate(28.60 225.70) scale(1 1.100)" text-anchor="end">750</text><text transform="translate(28.60 207.10) scale(1 1.100)" text-anchor="end">1000</text><text transform="translate(28.60 188.50) scale(1 1.100)" text-anchor="end">1250</text><text transform="translate(28.60 169.90) scale(1 1.100)" text-anchor="end">1500</text><text transform="translate(216.30 287.10) scale(1 1.100)" text-anchor="middle">0</text><text transform="translate(239.40 287.10) scale(1 1.100)" text-anchor="middle">200</text><text transform="translate(262.50 287.10) scale(1 1.100)" text-anchor="middle">400</text><text transform="translate(285.60 287.10) scale(1 1.100)" text-anchor="middle">600</text><text transform="translate(308.70 287.10) scale(1 1.100)" text-anchor="middle">800</text><text transform="translate(331.80 287.10) scale(1 1.100)" text-anchor="middle">1000</text><text transform="translate(354.90 287.10) scale(1 1.100)" text-anchor="middle">1200</text><text transform="translate(214.00 281.50) scale(1 1.100)" text-anchor="end">0</text><text transform="translate(214.00 262.90) scale(1 1.100)" text-anchor="end">250</text><text transform="translate(214.00 244.30) scale(1 1.100)" text-anchor="end">500</text><text transform="translate(214.00 225.70) scale(1 1.100)" text-anchor="end">750</text><text transform="translate(214.00 207.10) scale(1 1.100)" text-anchor="end">1000</text><text transform="translate(214.00 188.50) scale(1 1.100)" text-anchor="end">1250</text><text transform="translate(214.00 169.90) scale(1 1.100)" text-anchor="end">1500</text><text transform="translate(401.70 287.10) scale(1 1.100)" text-anchor="middle">0</text><text transform="translate(424.84 287.10) scale(1 1.100)" text-anchor="middle">200</text><text transform="translate(447.98 287.10) scale(1 1.100)" text-anchor="middle">400</text><text transform="translate(471.12 287.10) scale(1 1.100)" text-anchor="middle">600</text><text transform="translate(494.26 287.10) scale(1 1.100)" text-anchor="middle">800</text><text transform="translate(517.40 287.10) scale(1 1.100)" text-anchor="middle">1000</text><text transform="translate(540.54 287.10) scale(1 1.100)" text-anchor="middle">1200</text><text transform="translate(399.40 281.50) scale(1 1.100)" text-anchor="end">0</text><text transform="translate(399.40 262.90) scale(1 1.100)" text-anchor="end">250</text><text transform="translate(399.40 244.30) scale(1 1.100)" text-anchor="end">500</text><text transform="translate(399.40 225.70) scale(1 1.100)" text-anchor="end">750</text><text transform="translate(399.40 207.10) scale(1 1.100)" text-anchor="end">1000</text><text transform="translate(399.40 188.50) scale(1 1.100)" text-anchor="end">1250</text><text transform="translate(399.40 169.90) scale(1 1.100)" text-anchor="end">1500</text></g>
<g fill="#000" stroke="#000" stroke-width="0.08"><text transform="translate(100.50 9.70) scale(1 1.000)" text-anchor="middle" font-weight="bold" font-size="6.85">Firm credit default</text>
<text transform="translate(99.60 140.00) scale(1 1.000)" text-anchor="middle" font-size="6.85">Connection degree of failed banks</text>
<text transform="translate(9.20 73.75) rotate(-90) scale(1 1.000)" text-anchor="middle" font-size="6.72">Failed associated banks&#8217; connection degree</text>
<text transform="translate(285.90 9.60) scale(1 1.000)" text-anchor="middle" font-weight="bold" font-size="6.85">Asset depreciation</text>
<text transform="translate(285.70 140.00) scale(1 1.000)" text-anchor="middle" font-size="6.85">Connection degree of failed banks</text>
<text transform="translate(195.60 74.70) rotate(-90) scale(1 1.000)" text-anchor="middle" font-size="6.72">Failed associated banks&#8217; connection degree</text>
<text transform="translate(476.20 9.60) scale(1 1.000)" text-anchor="middle" font-weight="bold" font-size="6.85">Bank bankruptcy</text>
<text transform="translate(469.90 140.00) scale(1 1.000)" text-anchor="middle" font-size="6.85">Connection degree of failed banks</text>
<text transform="translate(379.20 73.00) rotate(-90) scale(1 1.000)" text-anchor="middle" font-size="6.72">Failed associated banks&#8217; connection degree</text>
<text transform="translate(100.50 164.70) scale(1 1.000)" text-anchor="middle" font-weight="bold" font-size="6.85">Firm credit default</text>
<text transform="translate(99.60 296.00) scale(1 1.000)" text-anchor="middle" font-size="6.85">Connection degree of failed banks</text>
<text transform="translate(9.20 231.20) rotate(-90) scale(1 1.000)" text-anchor="middle" font-size="6.72">Surviving associated banks&#8217; connection degree</text>
<text transform="translate(285.90 164.60) scale(1 1.000)" text-anchor="middle" font-weight="bold" font-size="6.85">Asset depreciation</text>
<text transform="translate(285.00 296.00) scale(1 1.000)" text-anchor="middle" font-size="6.85">Connection degree of failed banks</text>
<text transform="translate(195.00 229.50) rotate(-90) scale(1 1.000)" text-anchor="middle" font-size="6.72">Surviving associated banks&#8217; connection degree</text>
<text transform="translate(471.00 164.60) scale(1 1.000)" text-anchor="middle" font-weight="bold" font-size="6.85">Bank bankruptcy</text>
<text transform="translate(471.20 296.00) scale(1 1.000)" text-anchor="middle" font-size="6.85">Connection degree of failed banks</text>
<text transform="translate(379.80 229.70) rotate(-90) scale(1 1.000)" text-anchor="middle" font-size="6.72">Surviving associated banks&#8217; connection degree</text>
<text x="4.9" y="10.6" font-weight="bold" font-size="8.8">A</text>
<text x="4.6" y="165.3" font-weight="bold" font-size="8.8">B</text></g>
</g>
</svg>
</body></html>
